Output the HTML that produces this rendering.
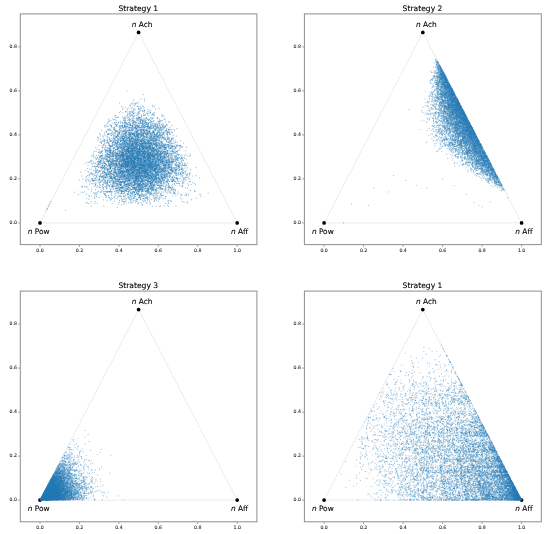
<!DOCTYPE html>
<html lang="en"><head><meta charset="utf-8"><title>Strategies</title><style>html,body{margin:0;padding:0;background:#fff}svg{display:block}</style></head><body>
<svg width="550" height="534" viewBox="0 0 550 534">
<rect width="100%" height="100%" fill="#fff"/>
<g>
<path d="M40.0 222.9L138.6 32.4L237.2 222.9Z" fill="none" stroke="#d2d2d2" stroke-width=".75" stroke-dasharray=".9 .7"/>
<circle cx="40.0" cy="222.9" r="1.85" fill="#000"/>
<circle cx="237.2" cy="222.9" r="1.85" fill="#000"/>
<circle cx="138.6" cy="32.4" r="1.85" fill="#000"/>
<g transform="scale(.1)" fill="none" stroke="#1f77b4" stroke-width="12" stroke-linecap="round" stroke-opacity="0.50">
<path d="M1225 1091h0m253 4h0m-206 24h0m77 11h0m198-4h0m-198 30h0m66-1h0m130-7h0m-381 27h0m153 10h0m46 2h0m23-11h0m32 5h0m48-1h0m10 12h0m31-11h0m11 11h0m6-13h0m2 7h0m117 6h0m-480 29h0m83 0h0m8-7h0m10 14h0m62 1h0m8-5h0m46 2h0m26-5h0m22-9h0m10-11h0m4 28h0m13-13h0m138-4h0m62 5h0m-474 23h0m42 19h0m22-10h0m14-15h0m4 2h0m39 18h0m38-13h0m35 11h0m8-18h0m9 4h0m2 21h0m37-22h0m10 5h0m14 9h0m5-5h0m79 11h0m37-9h0m46 6h0m16 4h0m-557 6h0m28-4h0m35 14h0m63-5h0m18 2h0m39-1h0m13-8h0m27-2h0m49 13h0m14-13h0m3 1h0m13 1h0m88 2h0m3 4h0m31-5h0m2 18h0m10-18h0m42-3h0m30 23h0m-529 32h0m87-10h0m130-7h0m16 4h0m31 5h0m8-17h0m30 16h0m2 6h0m5 6h0m11-16h0m26-4h0m29-4h0m38 16h0m7-10h0m132 8h0m-493 22h0m149 16h0m30-1h0m0-25h0m32 12h0m42 14h0m5-4h0m7-10h0m4 12h0m29-15h0m21 4h0m14-1h0m23 10h0m21-20h0m43-2h0m3 7h0m21 21h0m18-23h0m48 20h0m-648 32h0m51-9h0m20-10h0m120 6h0m6-12h0m11 12h0m9 13h0m24-17h0m13 6h0m4-4h0m19-9h0m31-2h0m12 27h0m41-19h0m39 2h0m23-8h0m96 19h0m4-9h0m36 11h0m6 5h0m35-27h0m3 9h0m96-1h0m-699 24h0m92 20h0m70-24h0m38 3h0m26 20h0m23-1h0m7-8h0m33-12h0m16 1h0m6 25h0m17-3h0m4 0h0m4-16h0m17 0h0m23 16h0m29-9h0m32-5h0m51 1h0m29-10h0m36 18h0m0-18h0m43 17h0m37-1h0m70-11h0m32 10h0m-702 37h0m31 0h0m52-20h0m31 14h0m3-9h0m19 13h0m10 2h0m10-3h0m39-14h0m1 20h0m14-12h0m8 1h0m7 8h0m10-11h0m18-7h0m37 13h0m45 9h0m12-10h0m7-1h0m6-10h0m17 12h0m8 6h0m3-18h0m7 1h0m10-8h0m7 25h0m4-6h0m32-4h0m15 5h0m14 9h0m60-11h0m11 0h0m18 2h0m11 2h0m22-13h0m9 5h0m57-7h0m44 20h0m-665 31h0m68-1h0m2-13h0m31 2h0m3 8h0m9-1h0m20-13h0m23-9h0m33 1h0m10 6h0m6 19h0m18 2h0m25 0h0m7-3h0m2-14h0m12 2h0m22-6h0m4 12h0m19 2h0m24 3h0m43-25h0m0 23h0m16-22h0m3 24h0m1-5h0m28-11h0m0 0h0m5 7h0m3 6h0m20-16h0m1 3h0m18-9h0m30 1h0m2 22h0m28-22h0m31 24h0m13-12h0m4 7h0m17-10h0m10-6h0m67 19h0m4 5h0m21-20h0m38 7h0m-776 18h0m21 16h0m28-7h0m5-2h0m61-1h0m1 7h0m42-8h0m2-2h0m34-5h0m32 14h0m11 8h0m23-1h0m15-15h0m12 3h0m3 17h0m13-2h0m18-7h0m2-18h0m8 11h0m6 5h0m4 1h0m2-6h0m22 14h0m6 4h0m3-6h0m29-9h0m3 11h0m17-13h0m3 0h0m12-9h0m1-1h0m1 0h0m41 18h0m16 9h0m8-23h0m0 7h0m2 9h0m4-4h0m0-10h0m15 12h0m3 8h0m12-26h0m30 15h0m11 10h0m9-19h0m10 20h0m7-2h0m53-24h0m-584 30h0m40 7h0m13 13h0m86-6h0m14-7h0m18-2h0m11 8h0m4-3h0m4 9h0m2-8h0m19-3h0m16 0h0m2-5h0m10-3h0m16 6h0m5 3h0m7 13h0m32-10h0m5-12h0m5 17h0m0-9h0m3-1h0m4 0h0m14 10h0m9 10h0m4-15h0m0-10h0m31 23h0m5-21h0m5 14h0m4-16h0m1 11h0m28-15h0m24 7h0m1 6h0m37 0h0m29 7h0m10-16h0m5-3h0m21 13h0m-586 29h0m4 7h0m41 6h0m27-4h0m7-4h0m21 10h0m0-23h0m27 20h0m8-3h0m16-1h0m1-10h0m13 18h0m4-15h0m13 10h0m10-17h0m36 18h0m9-8h0m6-13h0m23-2h0m0 22h0m4-11h0m4 4h0m5 9h0m26-19h0m8 4h0m1 1h0m3 10h0m2-18h0m2 4h0m2-8h0m8 27h0m5-4h0m23-16h0m7 20h0m2-20h0m5 1h0m5-2h0m18 0h0m26 18h0m10-23h0m1 18h0m14 0h0m6 9h0m2-10h0m2-2h0m5 8h0m10-22h0m9 19h0m16 4h0m2-17h0m7 9h0m7 0h0m11-6h0m4 9h0m5 4h0m10-10h0m1-9h0m41 8h0m6 1h0m3-3h0m9-2h0m5-6h0m12 4h0m-656 51h0m94-22h0m48-4h0m27 27h0m16-19h0m3 16h0m4-15h0m24-11h0m28 13h0m1 4h0m3 11h0m4-16h0m11 2h0m6 4h0m16 4h0m7-20h0m1 9h0m12 17h0m6-22h0m12 22h0m12-13h0m21 14h0m10-4h0m1 1h0m6-1h0m12-24h0m1 1h0m21 23h0m6-4h0m4-3h0m6 6h0m22-20h0m18 21h0m1-10h0m6 9h0m18-5h0m15-8h0m4 15h0m15-16h0m41 2h0m18 10h0m1-6h0m5-7h0m19 14h0m18-15h0m55 1h0m67 14h0m126-18h0m-988 44h0m90 5h0m4 3h0m65-7h0m30 5h0m12 3h0m15-12h0m7 13h0m9-7h0m11-9h0m5 9h0m22-15h0m18 14h0m9-16h0m5-2h0m9 12h0m15-1h0m6 3h0m14-15h0m30 2h0m33 14h0m2 1h0m0 3h0m16-7h0m9-9h0m4 5h0m6 17h0m4-23h0m26 16h0m2-8h0m10-5h0m9-1h0m8-6h0m31 13h0m1 0h0m7 14h0m30-8h0m1-3h0m4 0h0m17-8h0m6 18h0m14 0h0m10-26h0m58 0h0m4 7h0m15 12h0m7 7h0m1-18h0m13 10h0m57-1h0m2 10h0m10-25h0m8 24h0m11-25h0m-723 35h0m6 18h0m7-14h0m6 3h0m12 9h0m72-3h0m4-1h0m10 4h0m28-17h0m13 22h0m3-3h0m4 1h0m34-12h0m2 0h0m32 7h0m17-3h0m1 9h0m4-10h0m2-3h0m8 4h0m6 9h0m16-23h0m1 14h0m22 7h0m6-5h0m4 5h0m1-24h0m21 1h0m2 5h0m4-5h0m2 4h0m11 21h0m3-7h0m31-7h0m7 14h0m9-14h0m1 11h0m18 2h0m7 0h0m22-8h0m0-8h0m4-8h0m7 14h0m1 8h0m13 5h0m20-4h0m10-19h0m30 23h0m1-15h0m30-13h0m19 1h0m21 4h0m14-6h0m6 9h0m2-2h0m29 0h0m3-7h0m23 2h0m3 16h0m59 1h0m8 3h0m-790 21h0m59-11h0m100 4h0m29-1h0m4 22h0m15-21h0m17-3h0m11 2h0m30 1h0m4-4h0m11 27h0m6-4h0m18-13h0m4-4h0m27 9h0m4 8h0m10 4h0m9-4h0m0-2h0m3 0h0m6 1h0m3-2h0m1-14h0m28 15h0m1-16h0m11 7h0m4-11h0m14 22h0m19 0h0m7 4h0m1-5h0m4 4h0m3-27h0m10 2h0m9 4h0m1 11h0m8 7h0m17-24h0m4 1h0m2 20h0m4-1h0m12 8h0m0-22h0m4-3h0m15-2h0m47 16h0m4 1h0m13-8h0m66-7h0m20 18h0m3-2h0m19-3h0m4-2h0m4 9h0m26 4h0m33-3h0m4-18h0m-864 34h0m175-8h0m7 14h0m51-10h0m4-7h0m40 12h0m19 3h0m43 4h0m0-12h0m14 17h0m17-3h0m20 5h0m15-22h0m6 0h0m2 4h0m14 9h0m2 0h0m17-6h0m10 15h0m1-21h0m3 1h0m5 0h0m1 17h0m2 0h0m4-12h0m3 15h0m4 0h0m3-15h0m8 4h0m9 0h0m1 5h0m3-2h0m1 6h0m13-19h0m6 4h0m1 5h0m2 9h0m11-16h0m10 18h0m9-2h0m5-20h0m2 16h0m7-9h0m23 7h0m19-3h0m14-13h0m7 22h0m6 1h0m21-14h0m3 11h0m10-14h0m10 6h0m2 0h0m2-11h0m5 9h0m9 10h0m10-14h0m7 5h0m7 7h0m6-9h0m6-10h0m14 27h0m11-11h0m35-16h0m19 11h0m6 8h0m22-17h0m7 5h0m13 15h0m18-14h0m44 1h0m-795 46h0m19-9h0m0-13h0m23 16h0m38 2h0m49-3h0m4 10h0m20-19h0m3-6h0m14 3h0m25 10h0m30-13h0m7-3h0m0 1h0m14 3h0m6-2h0m7 19h0m3-8h0m17 4h0m0-17h0m10 13h0m11-11h0m3 3h0m0 8h0m3 13h0m3-11h0m2-2h0m1-7h0m4 17h0m5-21h0m13 10h0m20 16h0m2-17h0m30-9h0m3 2h0m15 8h0m5-6h0m6 23h0m2 0h0m1-18h0m3 3h0m6 8h0m8-19h0m8 24h0m15-9h0m11-9h0m4-2h0m8-3h0m10-2h0m13-2h0m5 1h0m21 4h0m11 9h0m4-9h0m15 1h0m15 7h0m14 14h0m81-7h0m19-15h0m25 5h0m75-6h0m79 21h0m-956 33h0m28-2h0m38-12h0m60-6h0m20-4h0m3-4h0m13 29h0m34-23h0m24 20h0m15-15h0m19-5h0m2 13h0m5-16h0m43 10h0m3 1h0m47-13h0m12 9h0m15 10h0m13 1h0m2-8h0m56 13h0m1-15h0m1 5h0m11 2h0m8-8h0m11 9h0m50-7h0m15 9h0m15-15h0m16 19h0m19-3h0m6-14h0m35-4h0m17 25h0m22-1h0m6-5h0m14-4h0m27 7h0m1-5h0m1-15h0m1 13h0m15 9h0m44-8h0m85-18h0m49 23h0m-969 28h0m141-1h0m22-19h0m7 4h0m8-1h0m44 2h0m1 3h0m8 13h0m28-13h0m28 9h0m17 4h0m23-7h0m66-4h0m7-4h0m8 1h0m25-5h0m3 16h0m3 4h0m5 2h0m13-15h0m8 3h0m3 1h0m8-2h0m2-13h0m46 23h0m26-24h0m18 27h0m41 1h0m2-14h0m27-1h0m2 8h0m21-21h0m11 19h0m28 0h0m21-3h0m39-15h0m1 6h0m61-6h0m64 14h0m14 0h0m59 0h0m-955 32h0m37-17h0m67 21h0m11 0h0m36 8h0m33-17h0m59 4h0m22 7h0m5-20h0m3 11h0m13-8h0m23 8h0m23 9h0m8-14h0m52-5h0m13 0h0m2 8h0m13 1h0m31 8h0m3 3h0m27 4h0m19-13h0m11-4h0m47-6h0m3 0h0m12-1h0m6 8h0m20 5h0m6-16h0m3 20h0m2-7h0m3-4h0m3 12h0m21-19h0m4 6h0m52 7h0m17 0h0m26-5h0m32 6h0m15 5h0m1-16h0m62 2h0m88 8h0m65 1h0m-940 27h0m44-4h0m67 18h0m142-4h0m25 1h0m15 2h0m54-7h0m20 6h0m0-15h0m23 9h0m3-19h0m28 17h0m2-1h0m22 10h0m24-12h0m2-2h0m1 16h0m15-11h0m1-18h0m3 25h0m13 3h0m38 1h0m12-22h0m6 13h0m0-11h0m26 13h0m24-4h0m15-8h0m2 16h0m14 2h0m8-10h0m28 6h0m51-2h0m3-12h0m40 2h0m20-6h0m46 0h0m-924 40h0m4-8h0m222 1h0m56-4h0m6 0h0m23 6h0m7 4h0m24 1h0m45-13h0m45 26h0m32-12h0m7 2h0m16-4h0m9-4h0m20 3h0m16 7h0m30-2h0m87-7h0m6 17h0m39-6h0m50 3h0m44-9h0m-814 41h0m178-3h0m86-14h0m100 5h0m18 6h0m42-10h0m6 10h0m37 0h0m48-8h0m25-2h0m9 13h0m15-22h0m15 4h0m34 16h0m19 5h0m5 1h0m1-29h0m3 10h0m25-3h0m4 16h0m7-6h0m10-7h0m84 19h0m40-6h0m6-7h0m25-8h0m-499 39h0m40 3h0m5-12h0m48 16h0m27-8h0m17 10h0m42-14h0m7 5h0m112-3h0m14 11h0m4-12h0m13 2h0m294 7h0m-722 11h0m2 21h0m58-4h0m106-14h0m34 9h0m12-14h0m8 6h0m93 16h0m40-21h0m17 1h0m145 19h0m20 7h0m-753 7h0m22 6h0m144 6h0m37 5h0m147 6h0m81-13h0m59 7h0m49-15h0m4 1h0m140 5h0m31-14h0m3 8h0m57-1h0m41 17h0m-734 31h0m195-23h0m105 2h0m64 4h0m-275 43h0m462-21h0m-325 30h0"/>
<path d="M1195 1030h0m109 20h0m99 14h0m124-11h0m-252 39h0m55 16h0m59-14h0m55 12h0m-151 12h0m15 14h0m124-18h0m-253 55h0m117-21h0m26 4h0m92-4h0m22 9h0m39-14h0m52-2h0m-288 32h0m64 20h0m107-13h0m3 15h0m35 4h0m-224 23h0m112-3h0m22 10h0m20-24h0m25 16h0m28-2h0m16-6h0m30 12h0m32-17h0m6 10h0m66 0h0m24-12h0m20 0h0m-509 51h0m29-25h0m99 24h0m56-25h0m24 7h0m7-2h0m48 17h0m12 6h0m15-27h0m16 9h0m13 8h0m6 9h0m42-12h0m3 12h0m108-17h0m37-5h0m-500 39h0m120-15h0m14 26h0m36-12h0m26-11h0m70 7h0m9 4h0m22-5h0m20 2h0m1-8h0m39-3h0m15 18h0m0-8h0m8 0h0m45 18h0m13-1h0m7-15h0m-493 20h0m25 10h0m47-1h0m90 9h0m21 3h0m34-10h0m29 3h0m15 12h0m28-28h0m1 25h0m52-11h0m9-1h0m53 14h0m5-11h0m9-6h0m113-1h0m43 15h0m-500 7h0m38 12h0m0-10h0m8 18h0m43 6h0m5-4h0m1-10h0m2 9h0m43 7h0m5-1h0m18-12h0m15 3h0m10-11h0m16-4h0m10 14h0m7 2h0m13 3h0m31-15h0m5-7h0m2 23h0m102-24h0m14 6h0m49 18h0m102-10h0m-532 35h0m19-8h0m60 4h0m5 5h0m13 2h0m28 6h0m0-4h0m19-22h0m10 20h0m35-8h0m13-14h0m17 10h0m22 10h0m1-3h0m11-15h0m41 18h0m9-16h0m5 21h0m38-13h0m7-7h0m12 4h0m25-3h0m14 2h0m21-2h0m19-6h0m105 29h0m-589 23h0m8-19h0m3 2h0m8 0h0m19 17h0m17-14h0m3 9h0m26 12h0m23-28h0m3 24h0m3-17h0m0 0h0m14 16h0m24 2h0m16-15h0m12 6h0m24 1h0m3-10h0m4 16h0m2-18h0m16 21h0m2-10h0m27-9h0m3 15h0m5 0h0m8-22h0m2 27h0m5-2h0m40-4h0m4 2h0m9-18h0m3 7h0m19 11h0m24-4h0m3-18h0m2 11h0m13-9h0m9 19h0m4 3h0m24-18h0m9 6h0m3 12h0m108-19h0m17 17h0m-647 15h0m22 12h0m67-14h0m18 7h0m1 7h0m20-3h0m55-2h0m14-7h0m11 19h0m4-24h0m3 4h0m9 18h0m7-1h0m19 3h0m6-22h0m1 0h0m5-1h0m22 23h0m75-1h0m13-13h0m16-14h0m6 20h0m2 7h0m3-11h0m8-6h0m2-9h0m13 5h0m5 20h0m10-7h0m9 2h0m1-17h0m7 25h0m10-1h0m3 1h0m16-11h0m16 10h0m5-7h0m0-20h0m2 13h0m35 1h0m15-14h0m0 18h0m1-1h0m78-4h0m90-6h0m-740 32h0m60-3h0m7 11h0m19-5h0m43-8h0m3 16h0m38-15h0m17 15h0m46-21h0m2 5h0m41-3h0m7 16h0m4-16h0m12 16h0m2-4h0m2 0h0m19 12h0m55-12h0m12 1h0m20 12h0m21-4h0m12 6h0m12-8h0m5-3h0m17 1h0m37-13h0m47 7h0m22 5h0m26-13h0m13 7h0m0-8h0m27 22h0m31-6h0m7 5h0m11-6h0m50-5h0m20 2h0m-748 39h0m18-22h0m14 9h0m12 17h0m11 0h0m39-22h0m51 5h0m7 3h0m0-3h0m15 11h0m49 1h0m5-5h0m2 0h0m4-4h0m1 12h0m12-13h0m20 11h0m6-14h0m8 9h0m7-3h0m1-14h0m32 5h0m9 7h0m15 7h0m6 2h0m24-12h0m9-5h0m4 9h0m26-7h0m6-1h0m0 17h0m16-25h0m52 5h0m13-3h0m1 11h0m18-12h0m9 14h0m17-3h0m43-8h0m4-3h0m26 2h0m36 10h0m45 12h0m-737 19h0m57-11h0m3 24h0m5-25h0m28 9h0m2 6h0m3 9h0m21 0h0m3-16h0m51-6h0m19 10h0m7-4h0m5 8h0m9 5h0m7-6h0m20-5h0m2-3h0m13-4h0m54 13h0m1-4h0m2-9h0m6 7h0m0 0h0m3 7h0m38 10h0m4-4h0m0-11h0m12 2h0m1 0h0m4-16h0m3 14h0m3 10h0m8-3h0m25-1h0m20-1h0m13-3h0m4-9h0m1 4h0m2-11h0m1 11h0m8 17h0m21 1h0m1-13h0m6 11h0m19-10h0m10 6h0m2-18h0m24-2h0m11 24h0m0-19h0m9 7h0m55-1h0m16 14h0m12-8h0m81-13h0m-809 25h0m89 26h0m27-12h0m8 13h0m16-26h0m8 9h0m44 1h0m24 4h0m32 5h0m18 1h0m7-5h0m24-15h0m4 9h0m17-7h0m45 16h0m5-10h0m3-4h0m30 19h0m26-13h0m1 1h0m4 14h0m11-24h0m7 1h0m5 16h0m9 2h0m37-10h0m3 11h0m2 4h0m7-8h0m8-15h0m3 12h0m0-15h0m8 6h0m8 8h0m0 13h0m16-9h0m2-9h0m15 10h0m5-4h0m41-8h0m1 9h0m16-10h0m3 4h0m6-11h0m32 23h0m2-23h0m28 25h0m5-20h0m10-6h0m6 1h0m2 5h0m1 17h0m4-23h0m1 29h0m13-11h0m22-11h0m64 1h0m22 7h0m111-4h0m-885 41h0m32 2h0m36-14h0m19 10h0m21-17h0m10 6h0m30-9h0m13 21h0m4 1h0m10-11h0m9 3h0m2-11h0m21 18h0m8-2h0m2 2h0m3-3h0m28-5h0m3 6h0m4-17h0m8 5h0m17 22h0m9-17h0m3 2h0m2 2h0m7-14h0m1 27h0m4-23h0m15 21h0m13-14h0m17 3h0m1-5h0m12 16h0m26-17h0m2-7h0m5-3h0m7 27h0m11-10h0m2-16h0m0 26h0m11-25h0m10 19h0m12-7h0m14 12h0m2-9h0m7-15h0m0 9h0m0-8h0m43 7h0m9 9h0m10-2h0m1 9h0m18-14h0m4-3h0m35 4h0m1-2h0m1-3h0m34 10h0m77-4h0m-715 34h0m59-16h0m4-1h0m19 7h0m13 2h0m27-6h0m31-4h0m13 23h0m7-23h0m27 18h0m25-5h0m2-7h0m5-5h0m4 4h0m4 6h0m13 15h0m4-26h0m5 3h0m1 26h0m10-2h0m19-26h0m6 23h0m2-9h0m0-5h0m5 18h0m3-24h0m3 21h0m9-10h0m3 4h0m15 6h0m1-20h0m22 9h0m1 1h0m11 13h0m10 0h0m3-9h0m16 6h0m17-2h0m16-8h0m0 1h0m3 2h0m6 1h0m19-3h0m3-13h0m22 17h0m17-1h0m21 8h0m6-25h0m1 11h0m20-5h0m7 7h0m5-5h0m15-10h0m14 10h0m10 1h0m3-5h0m34 9h0m20-8h0m26 22h0m28-4h0m10-25h0m10 23h0m18-22h0m18 8h0m-736 36h0m11-2h0m5 9h0m24-20h0m27 24h0m3-1h0m25-9h0m13 3h0m13-3h0m26-1h0m2-13h0m1 2h0m3 4h0m34-2h0m12 22h0m8-25h0m9 8h0m1-6h0m13 11h0m4-9h0m0-7h0m5 24h0m43 0h0m1-9h0m3-2h0m3 13h0m1-7h0m7 1h0m3 0h0m25-10h0m1-8h0m1 19h0m3-11h0m5-9h0m3 26h0m17-4h0m18 4h0m0-18h0m16 19h0m4-23h0m29-3h0m1 25h0m27-1h0m0-8h0m7-16h0m6 24h0m15-13h0m6 11h0m0-20h0m24 21h0m29-15h0m24-8h0m15-1h0m19 22h0m17 3h0m11-7h0m51 2h0m10-16h0m64 4h0m8 9h0m-920 12h0m134 19h0m22 6h0m60-18h0m16 11h0m5 1h0m27-14h0m26 10h0m11-14h0m21 25h0m7-19h0m3-7h0m5 29h0m7-16h0m4 8h0m11-4h0m14-3h0m13-14h0m2 12h0m20 0h0m4-1h0m2 13h0m30-14h0m4 15h0m18-20h0m1 12h0m11 6h0m8-13h0m1 2h0m1-2h0m2 3h0m5 15h0m21-18h0m5-6h0m10 18h0m6-16h0m5-4h0m28 22h0m4-6h0m16-6h0m19-5h0m19 22h0m3-8h0m11-20h0m11 13h0m5-3h0m12-11h0m25 0h0m4 27h0m20-6h0m6-2h0m31-14h0m17 22h0m10-18h0m23 13h0m11 5h0m14-25h0m75 26h0m10-9h0m13-16h0m11 18h0m9-18h0m-785 31h0m2 15h0m30 10h0m31-24h0m69-4h0m8 26h0m9-9h0m14 2h0m4-11h0m2-6h0m14 17h0m52 6h0m30-7h0m5-7h0m19 6h0m4-15h0m17 25h0m19-15h0m11-5h0m6-5h0m30 23h0m8 2h0m17-15h0m4 6h0m7 4h0m1-22h0m2 0h0m16 16h0m12-13h0m21 20h0m10-24h0m5 10h0m5 17h0m3-26h0m1 25h0m4-7h0m7-8h0m6-5h0m24 13h0m2 5h0m69-19h0m1-2h0m14 0h0m12 9h0m4 15h0m2 1h0m19-15h0m15-3h0m9-1h0m32 19h0m79-5h0m-1021 19h0m98 9h0m17 7h0m43-27h0m118 13h0m28-9h0m21 20h0m8-14h0m1-7h0m2 5h0m24 17h0m3-4h0m10-19h0m32 9h0m3-1h0m2-10h0m9 0h0m2 20h0m7-11h0m1 14h0m3-10h0m9-8h0m41 10h0m24 8h0m14-9h0m3-10h0m25 16h0m10 0h0m5 3h0m14-3h0m9-4h0m2 6h0m0-8h0m20 14h0m3-16h0m7-1h0m8 4h0m21-11h0m0-2h0m18 19h0m4-4h0m2 4h0m10-12h0m10-3h0m10 22h0m1-4h0m15-22h0m5 18h0m31 3h0m4-14h0m15 14h0m21-14h0m33-9h0m10 5h0m22 18h0m49 5h0m30-4h0m20 3h0m86-21h0m-976 40h0m95-5h0m44 15h0m41-27h0m14 3h0m27 13h0m3 13h0m1-16h0m36 7h0m27-1h0m3-3h0m35-1h0m17-3h0m14-5h0m13 15h0m14-15h0m30-5h0m16 24h0m2-15h0m4 3h0m38-3h0m0 9h0m7 8h0m8-2h0m1-24h0m8 25h0m32-8h0m3-3h0m7 1h0m3-6h0m26 11h0m5-19h0m3 24h0m4-12h0m3 13h0m1-12h0m0 11h0m25-21h0m18 5h0m13 6h0m16-17h0m31 9h0m37 5h0m19-10h0m55 3h0m28-7h0m220 20h0m-1032 10h0m65 11h0m28 9h0m98-1h0m111 8h0m26-1h0m25-6h0m25-4h0m7 9h0m15 2h0m13-24h0m5-3h0m11 22h0m8-8h0m12-10h0m9 2h0m2 5h0m13-7h0m4 21h0m3-3h0m35-12h0m13 13h0m0-2h0m4-21h0m1 29h0m1-27h0m16 25h0m18 0h0m33-19h0m52 15h0m4-7h0m14 4h0m52-19h0m99 25h0m9-13h0m39-8h0m-825 29h0m93 1h0m11 17h0m55-11h0m31 10h0m4-20h0m2 11h0m8 12h0m7-7h0m7-9h0m1-6h0m27-2h0m57 18h0m3-6h0m19 0h0m19-6h0m18-4h0m57 2h0m6 4h0m5-1h0m6 20h0m29-14h0m12 7h0m3 2h0m52-16h0m8 13h0m12-2h0m16-7h0m1 11h0m21-1h0m45 8h0m8-14h0m18 13h0m78-6h0m44-8h0m5-11h0m2 7h0m5 0h0m21 4h0m-813 20h0m20 5h0m74 4h0m45 9h0m3-3h0m41-7h0m120-4h0m23 6h0m12-8h0m4 4h0m18-3h0m17 10h0m25 3h0m7-17h0m54 0h0m2 9h0m4-1h0m15 16h0m18-6h0m39-19h0m21 24h0m3-8h0m25-3h0m4-4h0m16 1h0m2 9h0m31-12h0m0 8h0m49-13h0m247 6h0m-1056 23h0m37 1h0m141 10h0m28 8h0m39 3h0m33 3h0m25-17h0m3-3h0m2-2h0m29 11h0m29-12h0m85 20h0m37-19h0m36 22h0m17-2h0m2 1h0m39 0h0m7 1h0m3-15h0m59 12h0m20-3h0m2-21h0m20 24h0m12-10h0m21-4h0m57 1h0m7 12h0m72-10h0m41-4h0m97-6h0m53 18h0m-786 35h0m104-8h0m27-18h0m10 24h0m35-24h0m23 22h0m14-20h0m24 25h0m52-26h0m17 14h0m0-9h0m30 3h0m40 13h0m103-7h0m145-12h0m-761 36h0m55-4h0m93-3h0m146 5h0m83 9h0m15-12h0m1 25h0m2-19h0m35 5h0m38 5h0m141 9h0m322-5h0m-921 20h0m30 10h0m123-22h0m187 4h0m112 5h0m52 2h0m11 10h0m89 4h0m8-26h0m-469 51h0m109-15h0m99-4h0m19-2h0m-15 48h0m387-19h0m-1213 36h0m420 15h0m515-14h0"/>
<path d="M1434 945h0m-106 73h0m-112 45h0m81-9h0m11 14h0m14 5h0m180 28h0m53-10h0m-299 24h0m131 4h0m48 14h0m30 0h0m34-5h0m-224 13h0m38 13h0m9-6h0m15 18h0m100-13h0m6-1h0m82-9h0m-270 48h0m30-19h0m78 17h0m17-2h0m6-3h0m8 9h0m64-12h0m-272 42h0m51-19h0m0 1h0m87-4h0m27 20h0m32-18h0m79 23h0m32-2h0m-395 23h0m1 1h0m12 5h0m175-23h0m58 21h0m80-18h0m2 5h0m21 12h0m73-20h0m12 3h0m15 2h0m83 9h0m22 15h0m20-2h0m-480 15h0m95-3h0m5 6h0m9 3h0m46 8h0m5-11h0m17 1h0m96-11h0m48 19h0m11 1h0m3-1h0m52-11h0m39 15h0m25-10h0m-553 28h0m116-6h0m7 5h0m26 8h0m121 0h0m36-13h0m7 10h0m3 7h0m36-21h0m13 3h0m2 8h0m3 9h0m85-25h0m37 17h0m4 6h0m43-13h0m27 6h0m16 7h0m-624 12h0m83 21h0m24 1h0m39-26h0m22 18h0m20-2h0m16-9h0m4-5h0m1 4h0m23-6h0m11 7h0m11 0h0m28 4h0m3 3h0m31 9h0m64-7h0m3-2h0m3-8h0m20 2h0m4 13h0m3-12h0m41 11h0m4-9h0m5-2h0m26-4h0m2 15h0m22-3h0m14-15h0m54 12h0m38-11h0m24 0h0m3 17h0m-691 17h0m135 0h0m107 11h0m40-15h0m4-1h0m6 21h0m48-22h0m24 19h0m4-20h0m9 22h0m4-1h0m14-23h0m34 3h0m15 8h0m22-2h0m26 11h0m14 7h0m28-26h0m3 28h0m2-13h0m9-4h0m30 10h0m22 3h0m1 2h0m4-3h0m21 0h0m17 1h0m29-15h0m-644 45h0m81-21h0m89 16h0m2-19h0m1 5h0m32 5h0m16 6h0m5 5h0m5-8h0m7-13h0m11 8h0m11 18h0m7-5h0m2-5h0m48-8h0m11 4h0m18 9h0m0-16h0m6 9h0m53-15h0m2 8h0m38 8h0m13 0h0m13-6h0m3 4h0m6 9h0m7-23h0m2 14h0m38 10h0m83-22h0m88 0h0m-647 46h0m2 4h0m65-10h0m4-1h0m87 13h0m2-22h0m19 24h0m15-8h0m28-12h0m6 21h0m9-12h0m2 6h0m19-8h0m12-2h0m51-11h0m14 9h0m1-6h0m0 24h0m25-18h0m1 4h0m13 16h0m47-13h0m27 2h0m18 7h0m12-25h0m4 20h0m6-6h0m147 12h0m14-26h0m104 21h0m-636 33h0m25-8h0m2-14h0m21 27h0m2-1h0m1-24h0m19 24h0m10-26h0m21 10h0m18 7h0m2-17h0m9-1h0m17 6h0m7 6h0m5-12h0m12 25h0m11-9h0m14-6h0m2 4h0m13-10h0m11 14h0m5-8h0m30 7h0m11-8h0m1-3h0m19 7h0m6-9h0m0-4h0m13 15h0m39 4h0m12-20h0m1 22h0m12-8h0m14 5h0m51-2h0m191 11h0m-859 23h0m133 5h0m2-16h0m55-4h0m5 21h0m8-6h0m15-16h0m22 2h0m20 17h0m2-2h0m5-9h0m7-11h0m45 17h0m14-17h0m23 24h0m8 1h0m24-19h0m32 12h0m6 2h0m1-3h0m0-14h0m30 14h0m13-3h0m3-15h0m13 15h0m22 1h0m7 6h0m6-2h0m9-15h0m9-6h0m3 23h0m1 4h0m4 2h0m6-16h0m19 15h0m17 1h0m23-28h0m8-1h0m11 8h0m1 8h0m43 13h0m2-6h0m5-5h0m-643 36h0m10-13h0m62-6h0m48 10h0m83-4h0m4 0h0m8-3h0m3-3h0m2 1h0m31 4h0m7 2h0m2 5h0m4-5h0m4 6h0m6 4h0m10 5h0m21-20h0m16 1h0m10-7h0m1 21h0m15-12h0m1 18h0m8-5h0m30 6h0m18-2h0m2-16h0m13 6h0m4 11h0m13-2h0m1-10h0m13 7h0m18-4h0m1-12h0m3 19h0m20 0h0m18-3h0m7-15h0m1 1h0m39 3h0m3 12h0m2-7h0m13 8h0m65-12h0m5 2h0m76 3h0m19 9h0m20-13h0m-782 41h0m17 2h0m2 1h0m24-8h0m70-6h0m35-10h0m22 21h0m7-21h0m37 18h0m11 0h0m16-12h0m0-9h0m3 11h0m4 11h0m1-23h0m3 29h0m2-11h0m4 4h0m4 6h0m9-10h0m7 4h0m49-8h0m6 1h0m2 10h0m5-14h0m1 0h0m36 7h0m8 4h0m15-21h0m1 24h0m5 0h0m14-8h0m51-1h0m14 9h0m12-12h0m18 3h0m3-15h0m20 8h0m13 8h0m15-6h0m2 4h0m4 10h0m0-23h0m41-2h0m-658 32h0m92 25h0m19-3h0m10-12h0m30-4h0m34-8h0m29 8h0m2-5h0m14 22h0m26-21h0m11 19h0m2-11h0m14 4h0m0 6h0m2 7h0m41-6h0m1-15h0m1 20h0m6-16h0m20 13h0m5-1h0m16 1h0m32-11h0m10-1h0m8 9h0m1-7h0m7-9h0m4 19h0m1-25h0m11 12h0m41 4h0m0-2h0m13-2h0m3 3h0m2-5h0m4-2h0m4 0h0m21-7h0m3 20h0m3-6h0m7-13h0m9 6h0m3 21h0m3-12h0m15-17h0m12 3h0m16 13h0m8 10h0m4 2h0m15 1h0m2-9h0m0 8h0m10-1h0m16-4h0m2-14h0m16 12h0m22-8h0m6-5h0m10 5h0m55 15h0m42-27h0m58 16h0m-920 42h0m68-29h0m10 26h0m93-24h0m8 15h0m45-9h0m36 10h0m14 5h0m9-3h0m22-4h0m2-13h0m23 17h0m13-2h0m10-17h0m5 24h0m6 3h0m2-11h0m14 2h0m1-4h0m4 10h0m11-2h0m9-17h0m3 8h0m3 0h0m43-14h0m8 27h0m18-17h0m3 16h0m16-7h0m20 2h0m15-19h0m10-2h0m5 18h0m7-2h0m18-16h0m12 8h0m18 12h0m23-15h0m8 23h0m12-2h0m23-4h0m2-8h0m7 6h0m3-14h0m4 4h0m2-8h0m9 1h0m18 24h0m3-23h0m5 18h0m2-1h0m2 0h0m70-11h0m57 11h0m24-12h0m3 2h0m35 15h0m-943 5h0m136 19h0m17-20h0m6 14h0m55-14h0m25 4h0m45-1h0m4 12h0m5-15h0m7 26h0m3 2h0m12-10h0m11-15h0m1 8h0m29 13h0m11-13h0m1-10h0m20 20h0m8-20h0m15 4h0m11 14h0m2-19h0m0 3h0m4-1h0m11 10h0m3 8h0m5-7h0m1-5h0m20 10h0m6 7h0m5-5h0m32-20h0m9 3h0m8 18h0m2-3h0m7-9h0m3 20h0m5-18h0m3-9h0m4 16h0m18-12h0m2 21h0m7-26h0m1 9h0m24 1h0m15 11h0m16-10h0m8 5h0m19-10h0m1 1h0m15-1h0m13 4h0m12 17h0m1-7h0m2 8h0m57-10h0m26 6h0m4-20h0m3 7h0m108 15h0m28-14h0m-825 25h0m10 12h0m60-17h0m41 5h0m13 14h0m20-20h0m6 1h0m4-2h0m25 23h0m13-18h0m17 9h0m31-11h0m8 6h0m5-1h0m8 7h0m6 5h0m2 5h0m7-2h0m5 4h0m12-5h0m10-21h0m3 2h0m30 19h0m9 4h0m3-20h0m17 5h0m11 8h0m3-18h0m4 16h0m4-12h0m25-2h0m6 7h0m5 6h0m12 9h0m3-13h0m32 4h0m0-3h0m10-9h0m22 7h0m16-12h0m13 24h0m0-21h0m7 12h0m30 13h0m4-15h0m12 3h0m4 6h0m11 1h0m7-6h0m4-16h0m11 13h0m33 12h0m6-14h0m23-4h0m22 11h0m7-13h0m22 15h0m73-3h0m0-7h0m17-1h0m18-8h0m-857 49h0m40 7h0m28-27h0m22 3h0m20 13h0m5 10h0m28-24h0m25 4h0m26 6h0m1 7h0m2 4h0m17-11h0m17-4h0m12 10h0m62-3h0m10 3h0m9 3h0m3-3h0m6-1h0m20-5h0m5 2h0m9-12h0m2-2h0m3 13h0m6-1h0m4 16h0m6-21h0m15 8h0m31 13h0m4 0h0m11-26h0m16 21h0m8-4h0m3-9h0m4 3h0m20 3h0m4-17h0m2 26h0m5-10h0m28-16h0m0 2h0m6-2h0m3 15h0m9-3h0m5-6h0m8 11h0m7-5h0m1 17h0m4-6h0m5-19h0m5 11h0m0 11h0m41-6h0m11-1h0m8-2h0m7 4h0m11 0h0m25 2h0m55-13h0m18-5h0m44-5h0m95 26h0m-911 21h0m41-15h0m61 16h0m11 11h0m12-3h0m11-20h0m3 7h0m37-1h0m7 4h0m7 0h0m12 4h0m5 3h0m36-5h0m2 2h0m7-13h0m24 6h0m19-5h0m13 4h0m8 5h0m0-13h0m36 15h0m14-9h0m8-4h0m6 6h0m4 2h0m0 6h0m1 1h0m32-16h0m1 15h0m1-6h0m25 5h0m11-9h0m29 16h0m1-14h0m5 9h0m2-18h0m11-3h0m4 5h0m3 0h0m2-1h0m5 9h0m1 16h0m1-14h0m5 11h0m2-10h0m27-3h0m3-7h0m30-5h0m9 10h0m1-4h0m24 13h0m11 2h0m8-18h0m1 15h0m8-11h0m7-7h0m13 6h0m6-3h0m27 11h0m1 0h0m29-1h0m40-4h0m20 10h0m103-20h0m-900 41h0m166 0h0m3 16h0m29-7h0m15 0h0m8 6h0m14-19h0m32-5h0m6 1h0m3-2h0m2 9h0m10 11h0m91-17h0m4 2h0m3 0h0m2 22h0m18-25h0m9 10h0m2 11h0m5-10h0m3-8h0m29-1h0m18 16h0m2-5h0m8 6h0m17-7h0m7-4h0m6-7h0m11 25h0m7-12h0m13-5h0m12 13h0m36-7h0m21 1h0m21 0h0m31 10h0m30-14h0m52-1h0m170-2h0m23 16h0m-973 19h0m57-7h0m65 0h0m14-5h0m18 15h0m27-7h0m6-9h0m10-2h0m9-1h0m25 3h0m7 20h0m1-13h0m32-7h0m21 22h0m0-25h0m2 5h0m2 13h0m8 4h0m24-8h0m21 5h0m8-5h0m26-7h0m0 5h0m6 4h0m51 9h0m6-3h0m21-23h0m30 9h0m3 17h0m54-26h0m12 19h0m2 5h0m14-18h0m17 15h0m16-20h0m18 13h0m35 5h0m24-13h0m1-4h0m4-2h0m11 16h0m5-7h0m12 16h0m42-4h0m40-17h0m23-3h0m24 2h0m35 12h0m30 14h0m13-4h0m-992 9h0m103 23h0m32-24h0m85 19h0m143 1h0m16 3h0m10-5h0m39-15h0m18-5h0m11 28h0m26-14h0m1 13h0m21-19h0m14 2h0m8 9h0m7-14h0m22-2h0m6 4h0m5-5h0m8 1h0m22 23h0m30 0h0m0 0h0m2-19h0m22 12h0m1-14h0m9 20h0m3-18h0m8 11h0m8-4h0m8-9h0m4-1h0m5 14h0m6-6h0m7 2h0m43 12h0m13-23h0m108-1h0m28 16h0m-759 29h0m32 2h0m42-17h0m46 26h0m17-20h0m18-1h0m38-3h0m13 13h0m38-15h0m23 16h0m16-8h0m10 15h0m7-26h0m42 0h0m20 23h0m16 5h0m14-6h0m6-11h0m4-6h0m12 19h0m9-10h0m42 6h0m12-12h0m5-1h0m11 16h0m1 0h0m39-2h0m14-1h0m31 3h0m38 6h0m26-27h0m131 4h0m25 18h0m32-22h0m83 13h0m-1087 26h0m144 4h0m55-9h0m8 19h0m121 1h0m52-12h0m32 0h0m19-4h0m87-4h0m5 4h0m26-1h0m3-8h0m41 22h0m7-8h0m16 10h0m13-24h0m25 3h0m9 17h0m22-9h0m2 0h0m72 12h0m12-7h0m29 9h0m62-25h0m1 6h0m168 11h0m-973 15h0m165 20h0m49 5h0m7-6h0m17-17h0m77 1h0m24 18h0m2 0h0m12-1h0m50 1h0m37-23h0m10 2h0m4 20h0m20-21h0m21 0h0m17 14h0m16 8h0m12-22h0m0 12h0m45 1h0m4-15h0m9 4h0m4 12h0m5 5h0m48-17h0m14 2h0m149 19h0m244-6h0m-974 29h0m8-18h0m76 27h0m125-27h0m174 26h0m17-12h0m12 8h0m6-19h0m9 20h0m67 2h0m14-12h0m26 12h0m36-11h0m50-12h0m18 15h0m124-1h0m-816 23h0m141 0h0m2 17h0m100-21h0m25 13h0m113 10h0m24-12h0m10-5h0m12 14h0m3-13h0m57 16h0m37-27h0m1 12h0m23 10h0m294-21h0m-511 39h0m191-7h0m216-3h0m261 16h0m-1052 32h0m258 6h0m107-23h0m17 13h0m5-12h0m220 22h0m211-8h0m6 8h0m133-22h0"/>
<path d="M1338 997h0m-87 78h0m-23 53h0m33-18h0m137 6h0m77 19h0m4-19h0m-323 40h0m233-16h0m-96 42h0m35 10h0m10-12h0m39 11h0m64-2h0m23-14h0m112 4h0m19 11h0m-487 13h0m39 21h0m56-1h0m43-15h0m24 17h0m3-20h0m27 15h0m68-3h0m35 2h0m26-13h0m31-1h0m139 4h0m0 9h0m-536 28h0m91-10h0m10 20h0m76 0h0m16-20h0m46 15h0m0 4h0m36-10h0m23-4h0m38 9h0m9-13h0m54-3h0m-363 55h0m50 0h0m44-22h0m20 15h0m38-9h0m79 16h0m25-22h0m6 0h0m1 19h0m13-20h0m39-6h0m6 10h0m25 5h0m28-6h0m3 8h0m9-13h0m3 17h0m46-4h0m28-13h0m15 2h0m2 2h0m19 20h0m37 0h0m-544 9h0m31 19h0m102-4h0m2 2h0m33-15h0m49 1h0m10 3h0m1-9h0m8 10h0m35 13h0m10-1h0m33-18h0m14-8h0m21 28h0m1-11h0m23-15h0m2 4h0m66 10h0m23-13h0m123 25h0m8-25h0m52 2h0m-656 47h0m19-9h0m78-3h0m16 0h0m39 17h0m18-14h0m2-10h0m4 11h0m25-7h0m8 18h0m19-7h0m16 0h0m1 8h0m6-13h0m12 9h0m21-12h0m8-9h0m19 23h0m17-21h0m0 2h0m61 3h0m2 14h0m3-22h0m2 11h0m10 1h0m24 12h0m12-8h0m4-14h0m55 3h0m10-1h0m78 12h0m-643 22h0m43 5h0m99 6h0m50-6h0m6 2h0m39-7h0m32 12h0m1 8h0m10-19h0m7 8h0m41-16h0m17 15h0m5-8h0m6 3h0m8-9h0m13 23h0m30-22h0m1 14h0m61-11h0m15 6h0m36 6h0m26-10h0m0 14h0m3 2h0m2 4h0m5-11h0m12-12h0m49 4h0m-475 46h0m6 0h0m23-1h0m5-15h0m10 18h0m12-24h0m4 21h0m15-22h0m19 4h0m15 2h0m41 2h0m0-6h0m5 2h0m11 5h0m3 10h0m9-4h0m5-17h0m19 20h0m3 0h0m35 9h0m3-19h0m12-7h0m7 7h0m2 15h0m9-14h0m38-5h0m11 0h0m1-3h0m20 23h0m18 2h0m6 1h0m12-17h0m12-11h0m6 27h0m0-18h0m27 15h0m66-6h0m36-10h0m-695 32h0m103-7h0m7 1h0m13 8h0m34 0h0m104-2h0m63 2h0m17-3h0m24 0h0m2 19h0m11-20h0m23 18h0m17-24h0m2-2h0m11 26h0m2-4h0m22-4h0m20-14h0m3 7h0m1 8h0m23 7h0m56 1h0m5-26h0m53 20h0m10 4h0m65 2h0m61-11h0m-763 27h0m48-8h0m54 7h0m15 11h0m10 2h0m34-23h0m26 3h0m17-5h0m35 5h0m30 4h0m2 17h0m10-1h0m11-25h0m11 26h0m10-11h0m6-14h0m14 9h0m3 5h0m46 2h0m0 9h0m13-18h0m21 16h0m5-15h0m2 0h0m4 17h0m10-5h0m2-21h0m2 11h0m21-12h0m8 3h0m14-2h0m3 28h0m3-12h0m20 0h0m3 5h0m5 1h0m112-19h0m14 10h0m3-1h0m7 1h0m24 13h0m20-6h0m37 6h0m38-3h0m-726 11h0m59 6h0m59 12h0m12 5h0m20-9h0m24-15h0m23 12h0m7-13h0m3 15h0m6-15h0m33 26h0m4-28h0m18 5h0m9-6h0m45 6h0m1 22h0m30-24h0m5 12h0m16 6h0m2 5h0m0 1h0m7-24h0m12 10h0m6-14h0m14 23h0m0-6h0m1-15h0m2 7h0m13-9h0m1 15h0m27 6h0m29-12h0m54 6h0m26-8h0m33 4h0m7 12h0m4 1h0m4-15h0m29-4h0m26 8h0m45-6h0m41 15h0m-850 20h0m151-11h0m1 27h0m38-22h0m31 21h0m11-14h0m27 13h0m32-2h0m1-19h0m17 16h0m7-16h0m14 2h0m4 7h0m8 10h0m0-13h0m1 1h0m10-3h0m1 11h0m0-7h0m2 14h0m5-10h0m13 10h0m2-6h0m10-4h0m5-16h0m12 2h0m18 9h0m1-1h0m2 3h0m5 6h0m6-15h0m8 2h0m4 2h0m10 13h0m24-7h0m2 2h0m0 8h0m12-9h0m7-15h0m14 27h0m4-7h0m26-16h0m47 8h0m8-8h0m51 5h0m4 19h0m13-12h0m13 11h0m14-13h0m19 3h0m12-14h0m83 19h0m-687 27h0m2 1h0m26-1h0m0-1h0m40-3h0m14 4h0m18-14h0m3 4h0m0-10h0m2 27h0m9-20h0m33-1h0m8 13h0m12-8h0m4 12h0m1-13h0m9-8h0m2 27h0m15-18h0m1 10h0m1-17h0m21 4h0m15 6h0m4 5h0m9 5h0m4-4h0m3-2h0m54 0h0m6 2h0m10-11h0m20 3h0m24-12h0m42 28h0m0-27h0m9 18h0m15 6h0m28-1h0m15-15h0m31-9h0m18 27h0m3-16h0m3 8h0m36-8h0m12 9h0m13-8h0m32-5h0m32-5h0m12 5h0m-742 43h0m19-18h0m15 17h0m85 9h0m43-3h0m27-1h0m1-5h0m18-3h0m1-6h0m21-5h0m6 10h0m4 12h0m4-20h0m25 5h0m5-8h0m7 6h0m5 3h0m12-2h0m0-11h0m5 22h0m3-19h0m27 13h0m2 10h0m2-16h0m11 13h0m6-17h0m1 10h0m15-3h0m10 14h0m9-15h0m1 15h0m20-4h0m3-3h0m32-7h0m10 0h0m2 12h0m17 0h0m18 0h0m1-24h0m8 11h0m22-10h0m27 14h0m1-16h0m9 11h0m3-1h0m18 4h0m22-8h0m23 0h0m19 8h0m7-5h0m5-7h0m25 14h0m72 1h0m5 1h0m10-14h0m-837 46h0m62 4h0m1-16h0m38 12h0m35 2h0m8-1h0m13 8h0m27-29h0m68 27h0m33-23h0m12 13h0m3 3h0m15 7h0m6-14h0m29-9h0m26-2h0m29 19h0m5-3h0m6-16h0m1 14h0m4 7h0m7-19h0m6 9h0m38 5h0m12 1h0m5 8h0m1 0h0m5-4h0m26-4h0m4 0h0m14-12h0m12 15h0m3-15h0m6 19h0m1-18h0m6 17h0m10-1h0m12-1h0m4-2h0m6-15h0m5 7h0m17 11h0m3-9h0m21-14h0m14 22h0m20-9h0m6-4h0m28 15h0m20 2h0m35-6h0m19 8h0m12-19h0m7 17h0m55-16h0m28 5h0m17-3h0m-905 39h0m24-5h0m37 10h0m51-26h0m45 13h0m7 14h0m17-9h0m0-19h0m8 9h0m15 9h0m33 4h0m23-9h0m31-1h0m8 17h0m1-16h0m13 16h0m9-26h0m0 10h0m7-7h0m8 2h0m3-8h0m10 17h0m0 6h0m15-11h0m28-3h0m8 4h0m2 4h0m2-16h0m11 10h0m14-3h0m4 15h0m12 6h0m3-20h0m13 14h0m2 0h0m9 0h0m3 5h0m23-25h0m19 12h0m8 13h0m4-2h0m27-13h0m3-11h0m8 0h0m19-1h0m20 23h0m31-14h0m3 12h0m2 0h0m17 4h0m11-26h0m56 7h0m20-6h0m40 5h0m-771 36h0m27 1h0m8-6h0m30-2h0m13 14h0m6-12h0m4 20h0m28-5h0m28-18h0m60 11h0m11 2h0m5-12h0m17 7h0m33 2h0m24-10h0m41-3h0m5 14h0m10-14h0m4 10h0m9-9h0m19 23h0m1 1h0m8-6h0m2 8h0m6-17h0m9-3h0m4 18h0m5-18h0m13-4h0m19 17h0m0-20h0m0 27h0m11-21h0m5-1h0m4-1h0m22 24h0m4-7h0m22-20h0m9-1h0m6-1h0m4 3h0m20 11h0m1 13h0m0-25h0m18 7h0m9 7h0m1 8h0m8-12h0m3 4h0m22 1h0m5 7h0m6-24h0m54 3h0m11 7h0m12-9h0m0 18h0m3-5h0m29 14h0m71-24h0m83 1h0m-981 50h0m19-20h0m140 16h0m8-17h0m9-4h0m10 12h0m15-2h0m15-6h0m1 15h0m62 1h0m5-4h0m16-6h0m38 8h0m15-6h0m5 11h0m8-19h0m8 22h0m19-13h0m8-7h0m11 20h0m2-10h0m26-15h0m1 5h0m8 10h0m4 0h0m7-10h0m3 13h0m32-15h0m17 22h0m27-1h0m18-20h0m1 22h0m3-19h0m22 11h0m1-9h0m3 0h0m3 1h0m17 15h0m27 2h0m5-2h0m32-20h0m2-2h0m21 1h0m5 5h0m30 14h0m8-16h0m30-2h0m55-4h0m3 1h0m21 14h0m51-8h0m6 19h0m1-14h0m10 2h0m21-8h0m30-6h0m85 15h0m-991 39h0m48-26h0m23 16h0m0-9h0m37-7h0m1 15h0m0 5h0m12-11h0m26 13h0m42-18h0m5 17h0m50-8h0m9 16h0m21-3h0m11-2h0m2-12h0m8-2h0m16 5h0m8-6h0m3 1h0m18 11h0m19-8h0m8 15h0m17-28h0m1 4h0m13 19h0m2-14h0m6-4h0m0 6h0m1-6h0m9 12h0m3-10h0m16-3h0m14 24h0m27-27h0m3 7h0m1-1h0m15 10h0m0 5h0m20 2h0m15-24h0m1 26h0m16 1h0m2-17h0m3-9h0m41 23h0m39-2h0m2-2h0m46-8h0m29 13h0m9-8h0m27-12h0m20-4h0m7 10h0m1 3h0m11-1h0m10 14h0m1-5h0m77-8h0m-924 43h0m29-14h0m40-6h0m40-5h0m17 19h0m42-9h0m33-2h0m28-4h0m28 1h0m45-3h0m4 3h0m13 9h0m26 6h0m0 0h0m1 4h0m6-2h0m11-1h0m1-17h0m5 11h0m9 4h0m14 7h0m14-13h0m13-2h0m1 13h0m3-16h0m11-5h0m7 6h0m41 2h0m8 1h0m5 10h0m13-10h0m8 15h0m8-18h0m13 17h0m3-5h0m6 3h0m4-5h0m23 8h0m3-10h0m5 3h0m13 1h0m10-2h0m3-20h0m12 28h0m0-21h0m7 16h0m11-15h0m11-9h0m16 20h0m6-2h0m7-9h0m9 6h0m1 9h0m1-5h0m32-14h0m33 12h0m3-10h0m24 22h0m117-13h0m37-11h0m28 21h0m136-10h0m-1091 42h0m1-7h0m55 3h0m107-11h0m74-4h0m3 8h0m26-3h0m10-2h0m5-8h0m12 21h0m31-12h0m9 7h0m23 6h0m8-4h0m21 6h0m9-16h0m15 17h0m5-23h0m1 19h0m27-9h0m16-8h0m1 0h0m18-8h0m25 14h0m4-4h0m9-9h0m5 12h0m11-9h0m6 3h0m52 0h0m23-5h0m16 14h0m4-10h0m6 12h0m4-10h0m20 10h0m6-18h0m9 8h0m27-5h0m18 25h0m35-20h0m20 3h0m47-11h0m40 18h0m105-5h0m22-7h0m136 2h0m-1134 40h0m87-15h0m49 20h0m26-22h0m21 7h0m23 20h0m7-19h0m40-2h0m59 8h0m10-12h0m9 24h0m8-7h0m6 1h0m14 0h0m4-15h0m16 7h0m4 12h0m28 2h0m20-24h0m27 1h0m16 20h0m7-2h0m36-10h0m8-1h0m2-5h0m7 0h0m8 11h0m8 4h0m9-17h0m2 25h0m53-17h0m13 1h0m1-6h0m40-5h0m31 22h0m28-5h0m22-16h0m4 15h0m27 8h0m0-21h0m22 16h0m3-21h0m46 10h0m12 4h0m102 5h0m-933 23h0m17-6h0m13 3h0m135-8h0m18 11h0m55 15h0m18-2h0m18-20h0m7 4h0m35 10h0m8-18h0m23 18h0m15-6h0m16 5h0m32-12h0m25 21h0m8-9h0m5-7h0m8 7h0m39-8h0m28 13h0m42-22h0m13 13h0m2 12h0m9-9h0m22-13h0m25 15h0m14-14h0m28-2h0m26 7h0m145 4h0m47-9h0m96 19h0m-1073 14h0m211-8h0m191 7h0m8-1h0m59 7h0m44 7h0m21-2h0m5 5h0m32 1h0m2-24h0m1 21h0m10 2h0m9-10h0m40-9h0m69 14h0m6 10h0m42-10h0m40-5h0m24 16h0m3-5h0m1-19h0m61 3h0m19 10h0m-725 34h0m22 7h0m30-3h0m161-23h0m47 1h0m5 15h0m1-4h0m12-2h0m15 12h0m14-8h0m32-16h0m44 16h0m27-13h0m7 0h0m32 19h0m18-1h0m299-3h0m-716 25h0m83-14h0m123 12h0m37 9h0m45-12h0m17-3h0m77 10h0m34 2h0m43-9h0m79 2h0m132-6h0m3 12h0m40 0h0m249 9h0m-1105 21h0m49 6h0m385-23h0m22 15h0m8 0h0m103 14h0m137-19h0m54 2h0m78-2h0m-443 26h0m20 14h0m56-9h0m114 18h0m344-19h0m-868 26h0m354 11h0m23-11h0m24 7h0m19-11h0m342 1h0m-111 45h0m-948 45h0"/>
<path d="M1341 1059h0m61 47h0m22 3h0m-230 17h0m82 39h0m32-8h0m-86 14h0m26 15h0m42 9h0m75-19h0m285 13h0m-443 23h0m19 17h0m28-25h0m85 18h0m0-13h0m5 19h0m17-1h0m38-16h0m3 7h0m67 9h0m36-1h0m1-1h0m78-8h0m3-4h0m11 15h0m-431 24h0m75-1h0m10 6h0m18-20h0m8 5h0m24 13h0m25-3h0m28 7h0m75-7h0m48-10h0m24 15h0m36-27h0m6 29h0m8-12h0m5 2h0m8-16h0m33 6h0m2 14h0m66-10h0m-529 38h0m81-16h0m104 15h0m2-12h0m15-7h0m7 17h0m4-8h0m3 7h0m29 4h0m6-7h0m7 5h0m33 0h0m27-10h0m19-5h0m40 16h0m7-2h0m106-18h0m143 27h0m-704 24h0m90 2h0m38-8h0m33 14h0m13-9h0m8-16h0m46 3h0m22-4h0m1 17h0m27 8h0m26-7h0m14-8h0m49-7h0m0 7h0m3 14h0m6-8h0m58-19h0m30 21h0m2 6h0m16-16h0m6 4h0m38-2h0m34-13h0m17 26h0m70 3h0m0-25h0m-638 50h0m8-7h0m31-5h0m15-11h0m53 4h0m8 19h0m35-4h0m53 3h0m4-6h0m1 0h0m14 7h0m17-17h0m0 0h0m13 14h0m6-9h0m16 4h0m16 1h0m20-3h0m13 7h0m15 0h0m40 5h0m8-12h0m15 8h0m2-2h0m31-5h0m20 3h0m36-7h0m44-4h0m16 13h0m9-14h0m1 5h0m4-1h0m8-3h0m24 3h0m5-3h0m-564 27h0m22 7h0m18 12h0m29-19h0m26 7h0m7 17h0m9-4h0m4-12h0m45 9h0m27-12h0m2 6h0m21 9h0m9 5h0m14-29h0m9 23h0m25-10h0m37 1h0m25 9h0m6 4h0m1-4h0m18 3h0m116 3h0m15 0h0m29-11h0m59 10h0m-705 24h0m158-11h0m44 16h0m2-16h0m62-6h0m4 23h0m49-17h0m14-7h0m4 25h0m7-27h0m0 0h0m40 10h0m2 3h0m5-3h0m37 17h0m55-3h0m10-7h0m33 2h0m0 6h0m13-13h0m6 12h0m9-5h0m3 0h0m-522 29h0m10-15h0m107 6h0m3-4h0m2 2h0m26-9h0m14 2h0m2 15h0m46 1h0m22 8h0m9-19h0m43 7h0m11-12h0m31 2h0m5 2h0m2-3h0m6 10h0m15 7h0m10-10h0m14 1h0m0 8h0m1-1h0m26-7h0m19 18h0m64-5h0m84 0h0m1-4h0m5 9h0m28-10h0m80-11h0m-577 36h0m4-12h0m37-1h0m1 27h0m12-20h0m20 11h0m3 10h0m31-24h0m7 16h0m15-4h0m4 9h0m9 1h0m8-7h0m6-14h0m1 15h0m37-17h0m0 21h0m3-14h0m31-3h0m20 3h0m6 10h0m15 3h0m25 3h0m2-20h0m5 6h0m4 14h0m25 1h0m25-26h0m6 27h0m2-4h0m56-25h0m23 16h0m62 0h0m22 6h0m34-15h0m1 16h0m10-4h0m23 4h0m83-10h0m-624 29h0m1-1h0m29-8h0m3 14h0m3-2h0m0 9h0m27 5h0m8-6h0m30-7h0m29-1h0m7 7h0m14-22h0m14 22h0m3-12h0m6 5h0m2 10h0m10-7h0m3 3h0m25-2h0m3-4h0m2-15h0m3 17h0m19-13h0m29 5h0m12 3h0m9-3h0m10 5h0m11-7h0m2 17h0m19-10h0m12-7h0m12 7h0m3-1h0m3 1h0m24 13h0m5-25h0m11 15h0m8-13h0m17 1h0m41-1h0m1 13h0m11 4h0m28-5h0m16-9h0m27 9h0m20-15h0m3 3h0m-694 39h0m40-5h0m5 6h0m1-2h0m4 16h0m24-16h0m60-6h0m18-6h0m7 24h0m26-10h0m22 15h0m3-17h0m16-4h0m14-7h0m15 13h0m9-13h0m13 15h0m15 9h0m4-9h0m1-6h0m6-4h0m32 4h0m18 8h0m9-14h0m15 18h0m14-2h0m26-17h0m10 8h0m29-1h0m95 15h0m32 2h0m35-15h0m47-8h0m3 11h0m3 3h0m59-15h0m69 5h0m-941 50h0m152-3h0m22-6h0m22-13h0m46 6h0m13 0h0m9-3h0m36 15h0m14 5h0m14-7h0m9-22h0m21 5h0m12 15h0m12 3h0m6-10h0m19 13h0m0-21h0m3 10h0m2-6h0m12 18h0m9-24h0m12 0h0m3 11h0m15 13h0m8-10h0m1 3h0m14 0h0m7-16h0m10 16h0m1 5h0m14-20h0m7 6h0m10-1h0m19 12h0m7-7h0m1-5h0m1-3h0m12-1h0m0 2h0m4-5h0m17 21h0m9-10h0m32 6h0m7 7h0m1-12h0m6 6h0m36 2h0m52-13h0m8-1h0m11-8h0m41 22h0m155 5h0m31-4h0m-898 17h0m11 16h0m39-21h0m44 8h0m7-7h0m20 17h0m30-3h0m3-9h0m1 8h0m33-20h0m17 14h0m33-10h0m4 24h0m15-9h0m8-19h0m5 7h0m17 3h0m5 12h0m11 5h0m11-17h0m9 8h0m2 2h0m8-2h0m14-1h0m1 6h0m5-20h0m3-1h0m1 23h0m5-18h0m1 11h0m7-4h0m2 7h0m4-8h0m10 5h0m22-18h0m11 4h0m12 2h0m23-1h0m2 12h0m6-11h0m1 6h0m16 12h0m3-13h0m6-11h0m2 8h0m1 9h0m4-9h0m8 8h0m12 2h0m4-15h0m17-3h0m24 22h0m4-14h0m35 10h0m1 4h0m19-2h0m61-13h0m15-7h0m16 19h0m64 6h0m9-4h0m8-5h0m25 11h0m-857 5h0m24 4h0m92 14h0m10 3h0m34-23h0m49 15h0m60 1h0m21-15h0m18 6h0m1 16h0m8 3h0m0-4h0m2-9h0m9 14h0m20-15h0m2-2h0m1-6h0m0-2h0m7 12h0m2 4h0m14-4h0m11-14h0m0 5h0m21 10h0m14 13h0m2-15h0m4-3h0m8 15h0m7-2h0m25-12h0m16 6h0m2-2h0m6-9h0m5 15h0m5-8h0m6-9h0m1 12h0m10-3h0m7-13h0m4 9h0m9 1h0m0 7h0m22 3h0m5-14h0m4 23h0m6-23h0m0-4h0m48 11h0m7-1h0m26 12h0m12 3h0m17-20h0m1-3h0m16 10h0m16-6h0m17 17h0m22-19h0m27-5h0m11 17h0m-778 14h0m6 16h0m5-9h0m72 19h0m47-3h0m25-23h0m12 19h0m15 7h0m2-11h0m5-11h0m32 19h0m5-3h0m18-3h0m29 10h0m11-10h0m1 1h0m1-8h0m1 8h0m0 0h0m3 3h0m14-6h0m8-5h0m0 14h0m3-15h0m21 0h0m16 7h0m5-10h0m8 19h0m21-2h0m3-9h0m21 4h0m1-10h0m16-3h0m23 17h0m1 5h0m6-5h0m1 5h0m5-19h0m14 3h0m22-4h0m20 14h0m12-1h0m18-9h0m1 4h0m1-17h0m14 22h0m2 6h0m10-26h0m4 13h0m6-13h0m13 24h0m2 2h0m0-1h0m7 2h0m10-11h0m21 1h0m3-9h0m1-5h0m26 23h0m19 1h0m17-7h0m7 7h0m12-20h0m20 11h0m92-15h0m59 10h0m-933 28h0m70 12h0m37-10h0m50-7h0m1 7h0m5 12h0m102-14h0m3 16h0m2-20h0m7 6h0m32 5h0m8-16h0m15 8h0m0-12h0m7 2h0m17 2h0m3-3h0m1 5h0m22 9h0m2-3h0m4-12h0m1 10h0m0-5h0m20 19h0m3-12h0m16 11h0m5-10h0m29 5h0m12-3h0m9 11h0m1-12h0m5-13h0m6 18h0m6-12h0m8-6h0m5 7h0m13 17h0m13-11h0m20 2h0m5-12h0m4 17h0m11-17h0m1 15h0m1-16h0m3 16h0m12-11h0m13 9h0m8-16h0m2 16h0m13-14h0m1 6h0m72-1h0m1 11h0m9-12h0m58 14h0m45-15h0m28 4h0m74-5h0m-905 25h0m18 24h0m58 4h0m19-8h0m30-4h0m56-1h0m8 12h0m75 0h0m10-1h0m1-10h0m20-14h0m4 22h0m5-1h0m15-8h0m3 0h0m2 10h0m10-10h0m20-4h0m2 1h0m3-9h0m23 26h0m5-21h0m9 9h0m14 10h0m6-14h0m1 6h0m14-8h0m22-9h0m7 15h0m3-17h0m3 1h0m10 25h0m13-24h0m3 4h0m12 20h0m12-2h0m69-7h0m17-14h0m3 25h0m5-19h0m42-1h0m26 7h0m8-11h0m37 15h0m26-1h0m47 11h0m37-7h0m5-7h0m20-7h0m24-8h0m-927 46h0m40-14h0m46 1h0m25 0h0m26 17h0m61 5h0m1-3h0m13 6h0m10-17h0m5-11h0m21 22h0m43 0h0m8-14h0m7-6h0m6 20h0m3-6h0m12-12h0m2 10h0m3 0h0m4-1h0m21 2h0m12-11h0m6 8h0m8 8h0m30-4h0m4-1h0m8-9h0m5 18h0m22-7h0m5-16h0m1 1h0m4 9h0m6-11h0m18 16h0m26-12h0m2 15h0m28-1h0m2-16h0m2 6h0m40-1h0m2-5h0m3 17h0m51-2h0m2 10h0m11 1h0m17-9h0m24-2h0m0 10h0m6-24h0m34 25h0m59 0h0m23-26h0m-737 50h0m27 4h0m26-16h0m17 4h0m39-4h0m40-8h0m33 27h0m59 0h0m1-6h0m8-11h0m1 9h0m1-20h0m3 9h0m9 13h0m53 3h0m15-6h0m0-19h0m6 11h0m1 15h0m0 0h0m11-7h0m10 6h0m4-12h0m12 4h0m1 6h0m17-8h0m5-9h0m29 6h0m5-8h0m24 1h0m1 11h0m16 12h0m29-8h0m4 2h0m6-11h0m13-10h0m0 22h0m6-15h0m5-8h0m4 21h0m7-19h0m10 6h0m26-1h0m25 1h0m1 17h0m31-16h0m12-6h0m7 20h0m13-12h0m10 6h0m1 5h0m22-9h0m83-1h0m-839 34h0m11 2h0m61 10h0m22-6h0m3-22h0m6 6h0m94-1h0m37 14h0m28-15h0m6 5h0m20 10h0m5-19h0m23 14h0m8-1h0m17-13h0m6 22h0m24-17h0m9 5h0m26-2h0m7-1h0m8 11h0m9-11h0m34 6h0m13 7h0m25-19h0m8 5h0m15 0h0m8-1h0m22 6h0m4 4h0m20 3h0m1-8h0m16 16h0m12-4h0m6-21h0m38 19h0m6 7h0m7-8h0m14 8h0m3-7h0m79 1h0m27 2h0m34-8h0m7 6h0m101-15h0m-937 33h0m116-2h0m36-6h0m11 20h0m41 4h0m44-18h0m0 4h0m19 12h0m34-6h0m0 6h0m27-19h0m5 6h0m20 7h0m29 6h0m4-5h0m13-6h0m15-6h0m7-5h0m10 11h0m8-2h0m35 12h0m19-20h0m47 11h0m39-13h0m0 1h0m8 26h0m17-9h0m6-15h0m10 16h0m5 2h0m54-4h0m11-17h0m42 7h0m12 7h0m106 14h0m13-14h0m126 11h0m-871 11h0m74 0h0m8-1h0m26-3h0m2 15h0m11 2h0m1-20h0m9 29h0m2-15h0m1-3h0m17 3h0m6 7h0m33-1h0m36 3h0m18 1h0m11-19h0m40 14h0m26 1h0m17 8h0m3-21h0m10 16h0m18-2h0m3-20h0m9 4h0m0-1h0m6 14h0m11-18h0m10 23h0m55 5h0m12-18h0m7 13h0m48 2h0m33-2h0m49-5h0m277-15h0m-1100 30h0m115-3h0m74 17h0m26-7h0m0-4h0m9 20h0m72-24h0m31 22h0m21-4h0m20-4h0m10 3h0m9 1h0m13-10h0m11 9h0m3-10h0m2-4h0m27-4h0m33 2h0m10 8h0m3 3h0m11-1h0m4 13h0m18-14h0m18-5h0m36 6h0m29 10h0m3 4h0m2-5h0m7-17h0m41 16h0m1 5h0m1-5h0m11-21h0m68 15h0m12-15h0m3 11h0m56-9h0m-741 50h0m181 2h0m15 0h0m80-7h0m1 1h0m11 7h0m17-5h0m8-1h0m6-3h0m45-14h0m16 8h0m7 3h0m56-13h0m11 7h0m10 9h0m5-13h0m7 14h0m7-10h0m60 14h0m22-7h0m49 0h0m4 2h0m5-10h0m17 13h0m7 1h0m27-2h0m15-13h0m76 17h0m14-12h0m39 5h0m220 8h0m-1205 8h0m115 21h0m351-10h0m64 15h0m12-7h0m14-16h0m10 6h0m105-10h0m68 1h0m43 9h0m14-2h0m153-6h0m86-2h0m225 25h0m-1118 9h0m74 12h0m276-3h0m17-11h0m3-1h0m24 24h0m11 3h0m102-23h0m79 13h0m392-11h0m143 10h0m-884 18h0m138 3h0m73 19h0m65-10h0m57-15h0m58 12h0m-286 20h0m5 23h0m229-11h0m192 8h0m-132 29h0m39-2h0"/>
<path d="M1370 1034h0m64 33h0m-94 31h0m4 0h0m95-8h0m153-3h0m-389 26h0m104 4h0m17 8h0m59 12h0m13-5h0m51-12h0m58 5h0m-234 29h0m9-8h0m259 4h0m100 13h0m-496 30h0m39-21h0m79-1h0m13 13h0m120-10h0m8 9h0m23 14h0m38-13h0m76-6h0m37 6h0m-493 35h0m77-14h0m133 3h0m2-5h0m29 2h0m32 17h0m11-20h0m67 6h0m25 18h0m-309 21h0m46 8h0m46-23h0m20 14h0m24 2h0m22-6h0m0 9h0m117-10h0m22-7h0m3 25h0m14-16h0m6 2h0m9-9h0m99 10h0m3-14h0m-430 34h0m14-4h0m9 4h0m22 22h0m4-11h0m55 5h0m74-10h0m38 10h0m44-8h0m27 5h0m35-12h0m0-3h0m12 2h0m3 10h0m13-10h0m49 1h0m12 3h0m60-5h0m10-2h0m8 16h0m9-17h0m-541 37h0m52 9h0m74 6h0m28-10h0m28 5h0m10 9h0m31-21h0m28 16h0m19-16h0m2 21h0m0-9h0m32-8h0m3 14h0m2-9h0m43 12h0m16-14h0m2 8h0m28-20h0m35 5h0m10 11h0m3-4h0m4-4h0m2 4h0m20 11h0m11-16h0m10 8h0m91 12h0m-695 11h0m106 16h0m33-8h0m12-13h0m36 6h0m57 4h0m23-7h0m22-1h0m25 20h0m15 1h0m38-26h0m8 20h0m1-12h0m23 4h0m14-4h0m11 17h0m25-21h0m17 20h0m26-19h0m15 16h0m4 2h0m0-16h0m25-7h0m38 13h0m4 8h0m21 0h0m1-16h0m0 6h0m16-12h0m23 16h0m37 5h0m49-15h0m-560 38h0m18-7h0m16 12h0m85 4h0m10-11h0m54-8h0m17-3h0m1 2h0m16 19h0m7-20h0m45 23h0m6-17h0m21 7h0m46 9h0m29-3h0m28-3h0m38-7h0m3-8h0m22 12h0m110-14h0m-727 46h0m1-7h0m22 18h0m16-3h0m49-9h0m51 8h0m31-15h0m18 2h0m12 13h0m15-21h0m9 1h0m12-2h0m19 17h0m7 5h0m2-9h0m0-4h0m9 9h0m15-17h0m4 10h0m3 10h0m20 2h0m44 1h0m11-26h0m0 16h0m92-5h0m23-9h0m16 22h0m19-20h0m10 16h0m14-18h0m13 26h0m25-13h0m1-3h0m24-11h0m27 26h0m16-15h0m19 1h0m56-12h0m75 24h0m-718 32h0m86-13h0m5-2h0m10 0h0m20 16h0m12-8h0m54 4h0m2-24h0m13 8h0m14 8h0m9-13h0m7 22h0m0-22h0m2 19h0m0-20h0m8 24h0m6-25h0m2-2h0m7 0h0m13 11h0m19 15h0m7 3h0m33-6h0m21-5h0m1-7h0m2 7h0m3-18h0m3 13h0m4 11h0m13 1h0m1-12h0m50 14h0m20-20h0m3 18h0m28-8h0m97-7h0m25-3h0m6 4h0m4 9h0m-603 24h0m13 6h0m10 0h0m68-9h0m3 14h0m21-11h0m22 6h0m18 2h0m26-13h0m17 1h0m29-5h0m8-2h0m38 1h0m20-2h0m7 8h0m5-10h0m13 12h0m2 15h0m5-1h0m16 3h0m86-13h0m10-16h0m23 10h0m15-4h0m6 3h0m25 7h0m33-15h0m10 26h0m59-17h0m3 3h0m39 6h0m32-1h0m19-3h0m-744 19h0m101 21h0m20-6h0m6-8h0m39-5h0m6-4h0m0 24h0m21-18h0m1-5h0m1 18h0m15 6h0m3-13h0m12-4h0m9 10h0m9-12h0m12 11h0m15-4h0m3-14h0m0 3h0m8 17h0m2-14h0m3-1h0m2-3h0m4 12h0m19-1h0m8-1h0m4 12h0m7-11h0m12 5h0m11-2h0m25-14h0m11-1h0m8 18h0m7-10h0m12-10h0m27 3h0m3 17h0m15 6h0m16-2h0m4-15h0m2 7h0m106-13h0m24 13h0m35-5h0m2-6h0m13 2h0m-697 38h0m7 3h0m26-5h0m28-9h0m0 11h0m6 3h0m11-15h0m27 24h0m15-7h0m10 3h0m21 5h0m12-9h0m9-5h0m41 11h0m24-5h0m3-3h0m11-12h0m13 22h0m8-23h0m9-3h0m22 16h0m26-8h0m9-5h0m13 15h0m4 2h0m16 7h0m0-12h0m25-14h0m24-2h0m1 15h0m10 3h0m2 9h0m70-26h0m18 17h0m2 9h0m0-3h0m4-18h0m31 17h0m3-8h0m0 1h0m1-11h0m10-5h0m2 15h0m68-3h0m14 4h0m52-4h0m11 9h0m13 1h0m10-9h0m-743 44h0m52-25h0m16 13h0m15 11h0m2-26h0m28 20h0m3-9h0m3-3h0m61 9h0m1 4h0m9-3h0m1 2h0m9-17h0m2 22h0m6-3h0m2-1h0m9 0h0m38 2h0m2 5h0m21 0h0m12-20h0m1 17h0m1-10h0m0 1h0m2-16h0m2 25h0m10-16h0m23-2h0m4 20h0m14-26h0m8 20h0m13-4h0m14 1h0m0 4h0m13 2h0m7-11h0m12 10h0m11-13h0m24-9h0m9 2h0m35 1h0m22 8h0m16 11h0m15-22h0m4 3h0m3 14h0m8-16h0m5 16h0m19 8h0m24-8h0m19 4h0m18 4h0m94 2h0m17-13h0m26 13h0m-802 15h0m7-12h0m39 16h0m23-14h0m26 2h0m39 22h0m17-5h0m13-4h0m21-16h0m28-2h0m22 9h0m16 9h0m6-18h0m4 16h0m5 10h0m13-2h0m6 2h0m13-20h0m6-4h0m23 1h0m3 13h0m4 11h0m0-10h0m11-12h0m30 17h0m4-8h0m4 13h0m7-3h0m12-5h0m0 7h0m10 0h0m13-20h0m50 13h0m1 1h0m0 1h0m2-1h0m0 5h0m9-19h0m14 3h0m3 10h0m25 0h0m12-2h0m2-15h0m2 15h0m36 0h0m7-9h0m12 13h0m46-13h0m8 16h0m27 0h0m47-1h0m27-4h0m9 1h0m55 1h0m-800 14h0m48-4h0m8 23h0m21-6h0m28 1h0m13-2h0m5 2h0m9-1h0m18-2h0m1-9h0m15 17h0m42-20h0m4 18h0m0-18h0m4 24h0m1-12h0m9 11h0m4-1h0m8-21h0m7 2h0m8 16h0m13 3h0m1-9h0m0-2h0m5-4h0m4 12h0m0 6h0m4-11h0m4 8h0m3-2h0m24-10h0m0-12h0m1 5h0m0-3h0m1 22h0m24-19h0m7-3h0m6 8h0m29-5h0m4-1h0m15 14h0m20-11h0m8 12h0m6-8h0m3 0h0m18 6h0m19-1h0m17-4h0m9 14h0m17-17h0m11-5h0m7 22h0m5-8h0m9-19h0m2 23h0m13-20h0m13 10h0m7 9h0m25-3h0m21-2h0m17 6h0m8-9h0m26 14h0m1-2h0m13-3h0m9-5h0m-870 26h0m119 10h0m74-24h0m12 27h0m39-16h0m31 1h0m0 15h0m19-13h0m11 3h0m0 1h0m2-5h0m24-4h0m6 11h0m1-7h0m5 6h0m0-2h0m6 5h0m28 3h0m26-14h0m3 2h0m13-4h0m4-9h0m0 27h0m6-25h0m1 18h0m23 4h0m2-21h0m2 10h0m2-5h0m10-8h0m16 11h0m3 9h0m2-1h0m8-2h0m12-4h0m0-4h0m15 16h0m7-1h0m1-17h0m14 15h0m10 1h0m3-13h0m1-4h0m1 10h0m11-7h0m1-2h0m4 4h0m5 10h0m9-22h0m26 8h0m9 2h0m1 9h0m3-7h0m5-9h0m16 8h0m1 6h0m4-6h0m5 12h0m10-17h0m28 5h0m1 8h0m35 8h0m21-27h0m14 15h0m7 12h0m10-6h0m32-16h0m21 20h0m6-24h0m27 2h0m37-3h0m33 15h0m51-3h0m6 17h0m-853 14h0m30 12h0m10 1h0m54-17h0m6 3h0m88 12h0m14-3h0m1-19h0m10 10h0m8-7h0m15 0h0m19 9h0m15-13h0m4 19h0m1-20h0m7 5h0m4 13h0m3-14h0m29-4h0m2 10h0m2 16h0m9-8h0m1 10h0m2-17h0m5-3h0m23-5h0m20 17h0m32 4h0m19-17h0m2-5h0m8 1h0m0 14h0m20-15h0m1 10h0m14-11h0m14 17h0m3-10h0m1 2h0m1 9h0m10 0h0m4 0h0m12-1h0m2 4h0m24-17h0m8 4h0m39-1h0m20 10h0m31-6h0m11-3h0m51 10h0m88 7h0m166 0h0m-963 33h0m4-28h0m76 28h0m64-25h0m4 13h0m6-9h0m4 13h0m33 0h0m11-14h0m35-1h0m19-3h0m10 22h0m2-8h0m10-14h0m32 7h0m0 14h0m7-2h0m26 5h0m18-16h0m13 5h0m11-7h0m1 20h0m4-14h0m3 9h0m27-1h0m3-16h0m40-7h0m4 1h0m2 6h0m5 15h0m4-19h0m0 3h0m2 0h0m5 12h0m6-9h0m2-4h0m8 22h0m1-10h0m11-4h0m15-1h0m14-6h0m7 15h0m1 0h0m4 0h0m1-17h0m9 3h0m42 16h0m10-16h0m1 2h0m16-7h0m14 21h0m5-9h0m48 10h0m5 3h0m18-3h0m43-24h0m43 0h0m20 29h0m28-29h0m-815 44h0m34-3h0m8 17h0m66-20h0m29 12h0m5 7h0m5-11h0m5 6h0m8-12h0m3 7h0m11-13h0m22 10h0m4-9h0m6 1h0m12 15h0m1 6h0m13-9h0m3-12h0m14-5h0m26-1h0m2 21h0m4-10h0m7 5h0m1-9h0m20 21h0m1-22h0m7 20h0m6-8h0m12 6h0m6-12h0m13 17h0m8-12h0m4 5h0m0 3h0m22-1h0m2-19h0m4 1h0m7 19h0m17-11h0m4 7h0m4-21h0m4 18h0m6 6h0m2-3h0m41 4h0m4-1h0m23-22h0m18 21h0m18-12h0m70-6h0m15 23h0m5-28h0m74 8h0m2 8h0m19 3h0m-950 30h0m178 6h0m8-17h0m60-3h0m4 0h0m28 2h0m40 7h0m0 14h0m51 1h0m25-13h0m13-4h0m20-7h0m11 3h0m14 1h0m0 3h0m10 11h0m6-1h0m17 5h0m20-26h0m18 10h0m16-8h0m3 21h0m11 5h0m12-8h0m30-11h0m2 15h0m7-20h0m6-5h0m0 15h0m18-3h0m27-5h0m3 4h0m4-1h0m2 14h0m1-16h0m78 11h0m1 8h0m31-19h0m13-2h0m37-6h0m2 19h0m14-19h0m9 23h0m95-8h0m-938 35h0m266-2h0m16-5h0m87 11h0m31-19h0m1-4h0m13 2h0m8 25h0m29-22h0m18 8h0m39 3h0m24-2h0m4 12h0m2-10h0m3 9h0m10-18h0m0 17h0m16-3h0m45-10h0m3-3h0m1 19h0m26-9h0m16-17h0m18 19h0m16-18h0m29 7h0m9-4h0m9 1h0m2 11h0m50-17h0m1 2h0m14-3h0m17 6h0m5 4h0m71-7h0m20 2h0m16 5h0m-876 24h0m57 5h0m87 10h0m47-10h0m17 14h0m11-4h0m36-13h0m15 11h0m41 10h0m55-8h0m7-2h0m11-12h0m9 6h0m11-11h0m49 1h0m3-1h0m0 16h0m1 4h0m2-5h0m17 14h0m26-27h0m1 27h0m10-12h0m16-16h0m6 16h0m3 0h0m12-7h0m5 9h0m26-16h0m8 5h0m45-2h0m5-3h0m2 25h0m57-23h0m1 20h0m1-2h0m22-22h0m64 10h0m50 3h0m127-5h0m17-9h0m-777 54h0m5-2h0m15-7h0m20 13h0m18-16h0m15-12h0m33 18h0m10 7h0m31 3h0m18-15h0m17 4h0m30-5h0m27-3h0m20 10h0m1 2h0m34 7h0m4-15h0m3-11h0m0 27h0m5-12h0m40-14h0m3 18h0m20-9h0m13-6h0m6 9h0m22-12h0m7 8h0m1 16h0m112-18h0m54-8h0m22 20h0m135-10h0m-843 29h0m8 1h0m55-4h0m62 4h0m17 4h0m5-7h0m33 15h0m33-9h0m24-6h0m4 7h0m34 10h0m11-8h0m5-14h0m11 13h0m34-4h0m20 1h0m88 1h0m20-8h0m30 13h0m29-1h0m3 4h0m10 2h0m8-2h0m127 4h0m170-22h0m-809 39h0m55 11h0m99-6h0m19-15h0m23 18h0m28-1h0m73-17h0m41 9h0m12-1h0m16-1h0m1 13h0m19-20h0m6-2h0m3 15h0m12-12h0m9 1h0m19 23h0m10-14h0m6 7h0m21 4h0m63-6h0m3-10h0m12-6h0m170-2h0m-954 54h0m165-9h0m96 10h0m141-22h0m29-2h0m65 17h0m324 1h0m4 6h0m137-23h0m114 8h0m-745 45h0m79-19h0m206-1h0m138 12h0m19 6h0m263-22h0m-382 33h0m-928 30h0m854-3h0m51 19h0m81-20h0m187 0h0m-1199 53h0m940-12h0m254 0h0m83 9h0"/>
<path d="M1313 1037h0m14 3h0m15-5h0m20-7h0m-13 22h0m24 12h0m10 9h0m11 15h0m4 6h0m8-10h0m9-2h0m30 29h0m-189 11h0m64-3h0m14 22h0m1-29h0m147 21h0m-114 21h0m48 13h0m-293 18h0m33-7h0m84 8h0m1-4h0m9-8h0m39 27h0m92-4h0m27-2h0m31-3h0m68-13h0m68 1h0m-489 37h0m205 5h0m48-11h0m6 1h0m6 6h0m62-10h0m13 12h0m32 9h0m75-11h0m6-12h0m-416 26h0m51 14h0m48 15h0m47-20h0m5 19h0m78-13h0m12 12h0m55 0h0m41-15h0m15 14h0m8-23h0m23 11h0m45-2h0m7 9h0m34 5h0m-539 15h0m18-10h0m164 16h0m11-8h0m27-2h0m14 10h0m13-1h0m13 8h0m14-1h0m46-4h0m9-18h0m2 5h0m13 6h0m75 12h0m4 0h0m6-3h0m12-7h0m0 3h0m41-12h0m4 13h0m30-3h0m13-6h0m22 9h0m5-3h0m6 3h0m5-3h0m19-1h0m13-9h0m46 8h0m-552 26h0m21 12h0m29-17h0m43 25h0m25 0h0m13-14h0m23 6h0m7-5h0m75-2h0m15-8h0m3-3h0m16 17h0m25-18h0m49 22h0m5-1h0m116-8h0m50-3h0m29-10h0m-515 57h0m76-8h0m0-6h0m6 2h0m36 6h0m3-3h0m4-11h0m7 9h0m2 1h0m39-11h0m9 4h0m8 16h0m13-2h0m68-13h0m33-5h0m19 3h0m22-6h0m18 12h0m122 6h0m-440 8h0m7 28h0m8-22h0m17 4h0m5 13h0m25-2h0m19-6h0m40-5h0m46 14h0m32-17h0m8-2h0m30 12h0m7 5h0m50-4h0m31-18h0m4 16h0m30-2h0m20-4h0m16-6h0m153 6h0m-730 27h0m6 5h0m5 12h0m50-9h0m40-5h0m19 14h0m59-4h0m2-5h0m9 3h0m0 2h0m4-20h0m31 5h0m50 0h0m23 0h0m19-3h0m9 21h0m31-11h0m14-2h0m11 5h0m1 3h0m1 8h0m6-23h0m15 11h0m43 12h0m7-7h0m4 9h0m26-24h0m10 16h0m0 6h0m19-2h0m10-9h0m33 13h0m31-19h0m41 16h0m54-16h0m-654 38h0m23 0h0m71 6h0m22-22h0m20-2h0m29 11h0m32 8h0m3-5h0m2 4h0m24 1h0m56-1h0m10 0h0m1 4h0m3-7h0m5-7h0m8-8h0m42 22h0m6 5h0m24-9h0m31 7h0m4-8h0m17 10h0m6-12h0m5 7h0m2 0h0m5-5h0m30-13h0m36 21h0m7-23h0m28 3h0m87-1h0m-674 36h0m10 1h0m99-1h0m6 0h0m67 18h0m17-9h0m7 10h0m7-18h0m25 17h0m20-4h0m3-10h0m1-12h0m0 13h0m2 2h0m12-4h0m5 14h0m16-10h0m14 8h0m11 2h0m5-1h0m7-25h0m11 7h0m46-6h0m3 21h0m4 0h0m16-13h0m12 12h0m5-9h0m42 16h0m6-29h0m1 8h0m1 3h0m15 2h0m5-4h0m10-4h0m24 6h0m11 4h0m28 13h0m10-14h0m6 8h0m34-20h0m35 9h0m80 0h0m-814 22h0m36 20h0m69 5h0m45-27h0m68 23h0m10-11h0m25-2h0m12-1h0m39 15h0m15-4h0m1-9h0m2-6h0m6 3h0m25 3h0m5 14h0m3-6h0m2-10h0m4 8h0m5-7h0m12 3h0m15-11h0m20 25h0m6-1h0m2-3h0m10-4h0m1-9h0m2 4h0m25-6h0m5 19h0m0-11h0m6 4h0m1-5h0m38-12h0m5 3h0m10-2h0m1 14h0m14-10h0m3 7h0m2-4h0m19-7h0m5 10h0m9 3h0m33 7h0m18-14h0m56-9h0m6 20h0m109-13h0m52-3h0m-750 25h0m21 9h0m15 11h0m1-9h0m13 11h0m42-10h0m42-11h0m23 1h0m4 1h0m5 17h0m2 8h0m50-14h0m7 5h0m17-20h0m0 29h0m0-17h0m11 13h0m6-15h0m8 15h0m15-22h0m2 15h0m33 10h0m2-11h0m15-16h0m2 15h0m15-7h0m17 1h0m1 11h0m8-13h0m16 11h0m14-6h0m27 10h0m12-17h0m10 3h0m0 15h0m12-21h0m3 14h0m26-5h0m30 2h0m9-3h0m31 16h0m1-17h0m82 3h0m59-2h0m-756 46h0m74-25h0m29 20h0m6-20h0m3 19h0m4-21h0m21 24h0m10-7h0m7-4h0m0-8h0m22-4h0m3 5h0m23 19h0m0 4h0m35-1h0m0-3h0m2 0h0m15-12h0m8 13h0m0-15h0m17-9h0m4 25h0m1-1h0m23-21h0m13 15h0m7-5h0m10 6h0m4 4h0m16-20h0m15 20h0m10-23h0m28 14h0m1-6h0m15 7h0m11-13h0m21 19h0m16-6h0m8 6h0m0-4h0m2 3h0m6-12h0m18 18h0m3-23h0m24-2h0m4 0h0m7 22h0m15 4h0m9-29h0m5 13h0m14-9h0m1-4h0m17 7h0m30 4h0m24-11h0m28 12h0m2 13h0m23-15h0m-791 40h0m58-13h0m3-6h0m3 9h0m41-10h0m29 1h0m12 11h0m33-3h0m5-6h0m10 3h0m41-6h0m20 20h0m16-16h0m22-2h0m30 17h0m3 8h0m0-15h0m4-5h0m13 21h0m1-25h0m2 10h0m14-7h0m20 20h0m10-5h0m4-21h0m7 22h0m0 1h0m10-3h0m1 5h0m27-22h0m1 23h0m6-26h0m5 20h0m3-20h0m3 19h0m13 9h0m4-4h0m3-21h0m19 18h0m1-16h0m10 2h0m9 19h0m4-25h0m33 18h0m50-8h0m4-2h0m27-5h0m7 3h0m12-1h0m18 2h0m15 10h0m11-15h0m40 3h0m98 8h0m43 0h0m22 1h0m-839 16h0m12 18h0m22-3h0m24-10h0m61 2h0m13 11h0m28-2h0m2-8h0m3 13h0m10-17h0m18 6h0m2-1h0m26-10h0m11 2h0m5 19h0m8 7h0m7-10h0m3-15h0m7 2h0m0 11h0m11 9h0m8-15h0m5 9h0m26 8h0m9-14h0m2 2h0m2 8h0m9 4h0m1-6h0m37-21h0m16 15h0m15 1h0m14-14h0m0 6h0m3-2h0m12 13h0m1 1h0m2 1h0m18 1h0m2 2h0m1-10h0m0 6h0m10 5h0m10-21h0m1 1h0m13 9h0m2-3h0m8-5h0m14-6h0m7 26h0m2-19h0m4 11h0m14-12h0m67-4h0m19 0h0m3 10h0m26 8h0m10-5h0m7-7h0m8-1h0m52 22h0m15-23h0m81 11h0m-944 18h0m50 4h0m20 1h0m21 9h0m58-13h0m21 6h0m5 6h0m27 1h0m52 8h0m74-12h0m1 7h0m3-21h0m30 21h0m4 2h0m9-18h0m5-6h0m19 13h0m20 6h0m1 5h0m0-24h0m2 20h0m10-4h0m0-16h0m5 9h0m23 5h0m1 13h0m2-1h0m2-1h0m29 1h0m21-2h0m0 3h0m1-1h0m1-21h0m13-5h0m2 12h0m16 10h0m5-12h0m3-5h0m3 18h0m29-9h0m21 6h0m7 6h0m8-17h0m6 8h0m1-17h0m33 17h0m10 9h0m28-6h0m1-11h0m7 10h0m37-4h0m11 2h0m21-16h0m9 9h0m7-2h0m15 18h0m12-4h0m5-11h0m37 11h0m28 5h0m-818 17h0m83-9h0m17 22h0m41-23h0m6 14h0m14 0h0m39 4h0m23 5h0m10-27h0m4 11h0m23-1h0m1 11h0m13-7h0m7 3h0m25-1h0m5 13h0m8 0h0m0-23h0m8 20h0m10-15h0m2 3h0m2 8h0m20-17h0m4 9h0m14 11h0m2 4h0m7-16h0m2 11h0m3-14h0m4 6h0m32-3h0m2 6h0m4 10h0m1-5h0m10 1h0m7-1h0m1 1h0m6-23h0m6 18h0m0-17h0m4 0h0m4 17h0m2-3h0m3-17h0m2 21h0m6-11h0m3-10h0m12 14h0m8 4h0m1-10h0m4 0h0m3 6h0m6 6h0m6-9h0m6-8h0m3 4h0m11 6h0m6-2h0m15 14h0m16-22h0m2 14h0m12-10h0m3 4h0m1-9h0m38 8h0m1 2h0m41 16h0m4-17h0m20 16h0m15-25h0m10 15h0m3 8h0m2-24h0m5 22h0m19-13h0m44 11h0m11-8h0m11-1h0m40-7h0m-750 39h0m26-2h0m14 12h0m21-21h0m29 12h0m8 2h0m15 0h0m7 6h0m60-13h0m19 0h0m4 17h0m4-5h0m2-1h0m24 1h0m1-14h0m10-6h0m18 5h0m5 6h0m24 11h0m17-18h0m10 5h0m0 6h0m6-10h0m31 2h0m4-5h0m9 23h0m4-6h0m11-4h0m13-6h0m4 15h0m13 2h0m7-27h0m9 3h0m3 10h0m0 12h0m39-22h0m1 13h0m9-2h0m15 8h0m14-18h0m25 22h0m4 1h0m12-4h0m0-24h0m4 4h0m1 15h0m8-8h0m5-9h0m65 8h0m3 13h0m16-1h0m29-9h0m29 14h0m41-13h0m-877 31h0m13-1h0m75-4h0m51-8h0m4 21h0m45-6h0m2-7h0m68-3h0m5 19h0m12-3h0m2 2h0m36-25h0m4 20h0m9 4h0m32 3h0m12-8h0m6-13h0m3 12h0m10 9h0m19-9h0m27 11h0m1-29h0m4 12h0m3 3h0m1 1h0m4 3h0m4 8h0m5-12h0m36 0h0m3-6h0m5-3h0m1 9h0m5-13h0m12 3h0m20 9h0m7 0h0m5 4h0m2 2h0m7-2h0m6 8h0m31-14h0m7 8h0m9-6h0m18-2h0m25-2h0m10-9h0m51 22h0m14-10h0m99 12h0m47-8h0m-910 15h0m105 27h0m8-5h0m3-2h0m4-12h0m27 16h0m10-14h0m35 14h0m21-17h0m8 15h0m2-1h0m2-10h0m24 12h0m5-1h0m46 4h0m17-23h0m21 18h0m4 1h0m8-13h0m7-11h0m0 10h0m2 0h0m1-6h0m16 11h0m24 2h0m42-13h0m11 4h0m13 6h0m61 6h0m12 5h0m5 0h0m3-15h0m9 15h0m42-20h0m19 15h0m19 3h0m11-7h0m10-6h0m48-5h0m18 13h0m20 5h0m108-16h0m-920 33h0m144 0h0m114-3h0m7-7h0m9 26h0m0-1h0m14-17h0m3 0h0m31 12h0m15 9h0m7-6h0m0-19h0m28 5h0m16-7h0m21 14h0m37 11h0m57-27h0m27 13h0m15-7h0m5 4h0m10 6h0m23-7h0m19 0h0m8-1h0m28-5h0m2 9h0m11 6h0m12-9h0m3-9h0m8 13h0m1 7h0m4 5h0m27-11h0m1-1h0m9-4h0m2 11h0m12-4h0m2-14h0m40 19h0m36-19h0m12 19h0m3-10h0m9 14h0m13-21h0m27-4h0m39 17h0m128 0h0m-983 26h0m4-10h0m29 5h0m20-7h0m9 3h0m12 14h0m91-12h0m63 13h0m16 9h0m14-26h0m11 8h0m29 6h0m14 1h0m31 2h0m31 10h0m32-27h0m1 26h0m25-8h0m9-16h0m7 14h0m67 11h0m18-13h0m22 13h0m19-25h0m34 16h0m8-9h0m29 13h0m57-11h0m26-5h0m59 8h0m121-16h0m-812 55h0m25-10h0m70 13h0m67-7h0m7 7h0m31-17h0m7 9h0m57-12h0m24 10h0m14-15h0m7 0h0m39 9h0m13-7h0m21 9h0m14-11h0m1 23h0m35-10h0m25-13h0m1 25h0m8-2h0m35-23h0m17 22h0m85 0h0m3-21h0m-530 28h0m13-1h0m28 1h0m43 23h0m52-5h0m52-16h0m8 25h0m13-13h0m11 5h0m40-5h0m18-2h0m21-3h0m2-8h0m4 6h0m18 1h0m24 2h0m36 10h0m33-15h0m35 4h0m11 10h0m61-21h0m45 3h0m24 8h0m17 5h0m5-8h0m7 11h0m16 10h0m-798 3h0m141 20h0m16 5h0m75-9h0m4-16h0m95 22h0m68-21h0m25-3h0m12 18h0m1 5h0m8 5h0m15 1h0m17-19h0m7-7h0m6 4h0m14 17h0m7-7h0m15-14h0m79 6h0m8-9h0m21 10h0m75-5h0m273 9h0m-932 21h0m80 9h0m152 2h0m31-3h0m40 2h0m11-15h0m27 3h0m18-1h0m8 1h0m18 21h0m18 4h0m46-4h0m94-15h0m21 14h0m210-12h0m36 7h0m86 9h0m-799 13h0m135-2h0m6 3h0m183 16h0m2-11h0m36 0h0m85-16h0m12 0h0m8 8h0m80-4h0m7 2h0m229-5h0m-746 35h0m66 1h0m66 5h0m68 6h0m2 3h0m15-6h0m45-3h0m58 14h0m15-19h0m8 14h0m9 8h0m26-16h0m113 0h0m-683 26h0m351 11h0m177-10h0m58-2h0"/>
<path d="M1444 989h0m-37 2h0m137 75h0m-312 14h0m106 7h0m73 18h0m-119 29h0m32-12h0m17 9h0m34-3h0m131-18h0m28 22h0m-235 34h0m29-6h0m124-5h0m1-6h0m2-4h0m-368 47h0m47 4h0m104 1h0m94-11h0m44-3h0m20-8h0m3-4h0m61 27h0m35-6h0m0 2h0m-308 24h0m59 5h0m1 5h0m43-4h0m30-9h0m85-11h0m15 22h0m28-7h0m7-10h0m67 6h0m165 3h0m-641 39h0m118-12h0m38 9h0m95-11h0m3 4h0m12 9h0m9-3h0m69-19h0m93 7h0m9-10h0m26 14h0m11-3h0m31 0h0m-422 43h0m71 2h0m0-7h0m17-18h0m2 14h0m33-16h0m4 7h0m13 12h0m36-3h0m23 2h0m3-1h0m15 5h0m79-15h0m117-3h0m12 16h0m23 0h0m13-8h0m21 3h0m-603 28h0m117-6h0m30 13h0m10 7h0m33-5h0m22-5h0m67-15h0m71 1h0m42 3h0m12-5h0m26 23h0m20-10h0m19 11h0m47-5h0m149-11h0m63 7h0m-745 37h0m44 0h0m20-21h0m21 18h0m4-3h0m100 3h0m79-18h0m31 13h0m23-1h0m3 8h0m8-7h0m26 10h0m20-3h0m13-8h0m11-5h0m3 6h0m1 6h0m9-5h0m8 12h0m13-7h0m48 8h0m23-1h0m19-8h0m19 2h0m10 3h0m4-7h0m12 8h0m1-18h0m48 18h0m54 1h0m16-22h0m-575 32h0m16 20h0m20-11h0m21-14h0m87 7h0m13 3h0m24 5h0m28 12h0m15-8h0m3 1h0m9-12h0m14 7h0m1-12h0m4 22h0m11-3h0m7-1h0m20-21h0m8 3h0m23 15h0m3 2h0m69-9h0m6 9h0m2-19h0m1 5h0m20 13h0m1-12h0m25 5h0m29 12h0m19-22h0m13 20h0m47 1h0m-602 21h0m43 10h0m31-6h0m57 8h0m29-14h0m2-8h0m22 18h0m38-2h0m14 7h0m4-27h0m32 25h0m11-8h0m15-16h0m28 19h0m15-4h0m18 3h0m9 2h0m38-3h0m35-9h0m44-2h0m21 14h0m9 2h0m3-17h0m5 3h0m43-4h0m3 4h0m31-2h0m33 20h0m6-7h0m-668 8h0m26 3h0m53 23h0m15-26h0m32 25h0m5-7h0m12-3h0m6 6h0m35-21h0m0 25h0m13-21h0m27 13h0m8 12h0m5-27h0m8 10h0m35-6h0m14 18h0m2-16h0m3 3h0m2 14h0m16-1h0m13-1h0m30-5h0m16 5h0m2 2h0m13-15h0m1 11h0m19-9h0m25 6h0m5-12h0m1 20h0m0-12h0m3 15h0m0-22h0m9-3h0m5 8h0m17-1h0m10 16h0m82-18h0m69 4h0m34 4h0m32-7h0m-725 42h0m126-14h0m24 16h0m18-18h0m21-1h0m4 8h0m21-6h0m0 17h0m36-14h0m19-7h0m1 22h0m23-14h0m26 9h0m15-13h0m3 4h0m4 3h0m3-3h0m24-9h0m16 20h0m1-21h0m17 6h0m4 0h0m5 21h0m9-8h0m20-8h0m2-1h0m38 9h0m24-3h0m26-11h0m1 2h0m10-5h0m51 0h0m11 9h0m49-5h0m-583 40h0m40-5h0m3 15h0m3-22h0m37-5h0m5 17h0m46-1h0m1 5h0m21 8h0m28-13h0m1 6h0m2-11h0m7 9h0m1 0h0m2-17h0m33 12h0m10-14h0m7 4h0m5 24h0m25-22h0m7 7h0m3 9h0m20-22h0m26 22h0m37 5h0m5-9h0m2-6h0m30 14h0m11-24h0m5-3h0m10 6h0m7 18h0m24-6h0m43-4h0m6-8h0m10 5h0m38-9h0m46 16h0m26 10h0m4-8h0m21-7h0m-788 33h0m63-14h0m39 4h0m72 14h0m6-17h0m56 26h0m1-18h0m13 14h0m8-4h0m3-11h0m27 0h0m13 9h0m23-15h0m3 18h0m0-6h0m0-15h0m11 7h0m3 10h0m19-3h0m27-4h0m26-7h0m6 12h0m2 2h0m4-3h0m7 10h0m5-25h0m16 13h0m5-1h0m10 8h0m2-7h0m17-1h0m12-5h0m12 1h0m3 9h0m68-13h0m14 3h0m11-4h0m4 16h0m54 3h0m7-10h0m24 7h0m21-13h0m93 5h0m2 15h0m-839 23h0m30 8h0m63-19h0m49-1h0m31 17h0m3-12h0m43 7h0m27 1h0m13-16h0m18 2h0m2 9h0m7 6h0m4-15h0m5-1h0m15 9h0m10-2h0m9-5h0m9-3h0m13 21h0m7-5h0m27-18h0m2 15h0m4-6h0m3-4h0m6-5h0m9 0h0m18 18h0m23-12h0m28 18h0m5-13h0m10-5h0m6-8h0m4 5h0m4 6h0m9 9h0m15 7h0m7 2h0m0-6h0m5-11h0m7 4h0m3-10h0m11 15h0m3-17h0m10 1h0m3-5h0m4 22h0m10-13h0m12 20h0m25-12h0m49-8h0m11-8h0m13 27h0m33-26h0m17 24h0m95-1h0m7-10h0m-835 32h0m19-3h0m45-12h0m19 24h0m34-15h0m18-7h0m42 0h0m66 24h0m26-28h0m9 29h0m0-21h0m26-3h0m4 17h0m10-4h0m7 5h0m7-20h0m2-3h0m12 20h0m1 5h0m15-10h0m5 14h0m3-22h0m17-2h0m6 10h0m6-8h0m5-6h0m18 13h0m0-6h0m8 2h0m2-8h0m7 26h0m7-15h0m1 7h0m4 5h0m7 4h0m3-29h0m10 4h0m1 0h0m7 18h0m8-5h0m1 6h0m2-19h0m9 20h0m2-7h0m2 8h0m9-19h0m13 17h0m1-14h0m12 1h0m7-3h0m9 13h0m10-20h0m14 5h0m9 15h0m32 9h0m54-26h0m61 13h0m18 7h0m11-15h0m22-1h0m32 22h0m31-4h0m-895 34h0m75-7h0m21-4h0m0 11h0m86-15h0m6-4h0m50 8h0m2 3h0m32-19h0m20 25h0m7-9h0m8 4h0m9-11h0m4-8h0m24 23h0m14-11h0m11-13h0m3 24h0m6-18h0m6 1h0m6 10h0m11 8h0m3-24h0m19 10h0m2-6h0m1 19h0m3 1h0m1-4h0m10-5h0m28-8h0m2 11h0m10-17h0m20 16h0m16-7h0m17-4h0m6 11h0m4 0h0m10-16h0m16 2h0m4 20h0m14-12h0m10 5h0m15-17h0m41 11h0m1-8h0m36 7h0m22-11h0m3 7h0m8 12h0m2 0h0m3 2h0m58 6h0m34-4h0m6-14h0m23 9h0m4-18h0m0 6h0m47-2h0m-827 36h0m16-2h0m41-9h0m72 10h0m28 12h0m2 4h0m18-1h0m11-1h0m44-20h0m5 21h0m0 4h0m23-8h0m17-11h0m31-3h0m4 10h0m19-14h0m11 19h0m12-19h0m7 1h0m8 11h0m4-9h0m1 7h0m4 1h0m17 11h0m2-11h0m1 3h0m2 11h0m3 1h0m9-13h0m25 1h0m1-3h0m18 1h0m31 5h0m2-7h0m12 3h0m11-16h0m2 27h0m10-15h0m1 0h0m13 14h0m14-4h0m19-18h0m13 0h0m8-1h0m5 26h0m3-29h0m4 13h0m4-9h0m14 8h0m9 11h0m34-19h0m17-2h0m14 6h0m84 7h0m24-8h0m39 12h0m1-8h0m22 11h0m-917 23h0m26 6h0m51 3h0m40-3h0m4-9h0m0 16h0m25-17h0m27 17h0m3-2h0m37-19h0m33 18h0m8 3h0m23 0h0m4-21h0m4 13h0m5-17h0m2 9h0m3-4h0m6 0h0m4 8h0m4 4h0m2-12h0m15-1h0m0-4h0m4 17h0m9-3h0m2-11h0m2 20h0m5-19h0m28-4h0m8 11h0m15-9h0m2 1h0m3 10h0m1 0h0m7-13h0m0 15h0m6-9h0m2 18h0m5 0h0m1-10h0m2 4h0m7-6h0m22 13h0m10-20h0m1 16h0m16-22h0m16 6h0m5-8h0m8 6h0m40 18h0m2-14h0m5 13h0m23-4h0m12-15h0m26 4h0m8 19h0m9-11h0m16-12h0m12 17h0m11 3h0m9 4h0m13-22h0m10 17h0m10 4h0m41-24h0m23 24h0m34-4h0m19-19h0m21-2h0m74 0h0m-924 51h0m2 5h0m15-23h0m43 22h0m23-20h0m1-4h0m65 8h0m32 15h0m33-25h0m64 9h0m2-2h0m3-7h0m34 9h0m7 3h0m6 11h0m4 0h0m10-7h0m9 12h0m22-6h0m6-2h0m40-10h0m19-11h0m22 11h0m3-9h0m5 21h0m5-14h0m2 7h0m6 9h0m2-6h0m1-15h0m12 19h0m7-23h0m6 12h0m3 2h0m1 7h0m5 4h0m12-22h0m3 17h0m1-7h0m6-7h0m1 8h0m36-8h0m23 16h0m6-6h0m2 9h0m0-5h0m9-12h0m3-5h0m6 3h0m30 6h0m31 6h0m43-12h0m18-2h0m3 1h0m28 11h0m13 4h0m26-3h0m10 10h0m46-13h0m-723 22h0m60 5h0m4-8h0m43 6h0m6-9h0m6 11h0m2-10h0m9-1h0m1 1h0m39 2h0m3 17h0m30-4h0m6-16h0m27 26h0m15-22h0m10 11h0m2 2h0m22-4h0m6-13h0m11 24h0m16 1h0m4-17h0m9-7h0m4 12h0m25-2h0m34-10h0m11 25h0m20-13h0m9 7h0m44-5h0m4-6h0m47 3h0m21-5h0m0 19h0m24-23h0m28 25h0m4-6h0m28-19h0m78 19h0m23 5h0m26 1h0m3-10h0m-961 16h0m55 9h0m72 3h0m29 11h0m8 1h0m6-14h0m35 13h0m30-26h0m34 6h0m15 11h0m13 5h0m7-13h0m20-3h0m6 21h0m22-24h0m7 20h0m14-9h0m7 13h0m2-21h0m5 10h0m5-16h0m6 7h0m2 1h0m3 11h0m6-12h0m21-1h0m16 7h0m7 1h0m45 6h0m6-5h0m3 8h0m4-22h0m14 19h0m12-4h0m3 4h0m6-5h0m6-10h0m10 16h0m10 0h0m4-17h0m9 3h0m3 8h0m8-1h0m4-3h0m10 9h0m18-15h0m0 14h0m32-15h0m3 22h0m10-17h0m15-1h0m3 9h0m74-10h0m38 17h0m8 1h0m49-24h0m6 4h0m0-2h0m52 7h0m87-3h0m-900 32h0m1 17h0m18-24h0m107 13h0m74-8h0m38 2h0m19-5h0m21 8h0m29 2h0m2-3h0m11-3h0m1-8h0m10 16h0m6-5h0m10 14h0m4-24h0m2 10h0m11 1h0m29 8h0m10-2h0m0-11h0m25 13h0m7-10h0m18-4h0m20 18h0m0-12h0m1-13h0m2 15h0m3 4h0m4 3h0m2 0h0m27-22h0m2 14h0m1 3h0m16-3h0m3-11h0m3 23h0m10-7h0m39-15h0m5 12h0m9-1h0m236 10h0m16-19h0m-923 27h0m78 15h0m8-7h0m180 0h0m17 3h0m5 11h0m31-2h0m3-7h0m2 6h0m9-17h0m1 3h0m22 2h0m56 12h0m8 1h0m2-13h0m2-6h0m2 18h0m9 0h0m1-7h0m3 5h0m17-3h0m2-14h0m37 7h0m17 5h0m40-2h0m1-1h0m19 5h0m18 9h0m11 1h0m22-19h0m4-2h0m23 4h0m6 13h0m7-9h0m11 0h0m2 7h0m4 7h0m35-25h0m69 8h0m19-10h0m-754 56h0m89-10h0m68-15h0m42 21h0m88-6h0m3-1h0m18-7h0m0-3h0m3 1h0m12 18h0m48-2h0m24-14h0m4 0h0m6-6h0m7 14h0m14-16h0m4-1h0m2 11h0m21-7h0m8 6h0m3-9h0m24 22h0m32-18h0m19 18h0m25 0h0m78 5h0m39-18h0m11 13h0m90 5h0m8-27h0m-630 57h0m25-25h0m5 15h0m5 8h0m52-6h0m63-8h0m17 8h0m42-5h0m17-2h0m8-11h0m20 7h0m9 3h0m13 5h0m18-12h0m21 1h0m11 6h0m32-3h0m37 3h0m1 15h0m44-5h0m-620 15h0m136 16h0m29 3h0m48-9h0m44 0h0m13 6h0m35-15h0m74 13h0m10-19h0m6 2h0m3 6h0m39 18h0m24 0h0m4-7h0m22-9h0m31-11h0m3 11h0m30-12h0m9 16h0m47 9h0m85-16h0m-686 48h0m88-7h0m28-20h0m78 12h0m129-6h0m64 21h0m29 0h0m6-5h0m2-1h0m19 8h0m24-1h0m59-26h0m17 5h0m8 12h0m236-11h0m334 2h0m-1136 21h0m228 15h0m41 1h0m94-15h0m81 1h0m24 12h0m124 14h0m8-22h0m24 8h0m0 5h0m46-19h0m-520 30h0m160-1h0m113 14h0m106-11h0m0 7h0m63-5h0m4 22h0m9-24h0m151 20h0m258-22h0m-559 44h0m104 10h0m362-5h0m8-11h0m-693 23h0m458 14h0"/>
<path d="M1270 910h0m176 102h0m-93 28h0m26 25h0m-64 27h0m-20 29h0m7 18h0m81-18h0m118 7h0m-129 19h0m7 15h0m7-2h0m99-1h0m49-10h0m-144 27h0m22 23h0m68-7h0m5 6h0m-391 11h0m162 14h0m79-13h0m60 1h0m20 18h0m204-19h0m73 11h0m-413 24h0m46 10h0m35-3h0m60 3h0m8-14h0m97 16h0m12-1h0m-306 31h0m10-13h0m80-3h0m39-11h0m42 26h0m14-9h0m7-13h0m7 4h0m32-3h0m36 12h0m54 6h0m11-4h0m40 2h0m3 0h0m-442 33h0m14-9h0m2 9h0m52-4h0m22-2h0m16 6h0m18-13h0m63 2h0m3-5h0m5-5h0m18 26h0m37-9h0m1 0h0m3-12h0m5-1h0m19 21h0m90-5h0m44-6h0m5-16h0m17 4h0m13-1h0m78 19h0m-614 34h0m5-4h0m43-3h0m24-6h0m8-3h0m38-6h0m120 11h0m1 12h0m23-5h0m84-6h0m9 6h0m2-4h0m1 6h0m38-16h0m20-1h0m8-8h0m8 21h0m14-21h0m21 0h0m53 0h0m12 16h0m18 12h0m5-22h0m49 3h0m45-5h0m-650 54h0m76-25h0m12 11h0m46 11h0m4-6h0m1-12h0m12 8h0m12-5h0m15 10h0m3-18h0m8 4h0m20 18h0m14-19h0m26 21h0m12-20h0m6 5h0m20 2h0m29 2h0m2 9h0m15 3h0m11-11h0m1-7h0m27 2h0m24 13h0m0-23h0m3 16h0m15 7h0m29-15h0m23 4h0m19-6h0m9 12h0m4-4h0m38 4h0m-540 31h0m26-16h0m11 23h0m44-14h0m71-10h0m91 5h0m4 9h0m42-12h0m7 12h0m9 1h0m25 0h0m14 7h0m4-14h0m21 9h0m50 6h0m42-25h0m36 10h0m70-8h0m17 4h0m36 9h0m28 2h0m2-11h0m33 21h0m-747 15h0m10-8h0m58 8h0m6-2h0m92-6h0m42 21h0m30-17h0m12 5h0m34 15h0m7-7h0m20 5h0m8-16h0m2 18h0m9 0h0m2-6h0m7 4h0m12-19h0m6 15h0m5-11h0m23 4h0m38 6h0m6-16h0m15 1h0m20 12h0m15-12h0m17 22h0m11-11h0m38-9h0m155 20h0m32-2h0m-644 29h0m11-8h0m4 4h0m52-2h0m5-9h0m0 0h0m13 14h0m28-21h0m38 15h0m16-6h0m12 9h0m9-19h0m9 18h0m6 8h0m2-16h0m2 4h0m14-2h0m17 8h0m5-18h0m1 20h0m24-18h0m35 15h0m7 4h0m11-12h0m7 2h0m14 3h0m45 1h0m10 3h0m4-8h0m11-15h0m19 24h0m23-10h0m13 11h0m1-7h0m1 8h0m11-9h0m5 6h0m3-14h0m17 0h0m11 11h0m3 8h0m7-11h0m7 9h0m17 1h0m27-8h0m6-12h0m8 5h0m27 8h0m12-4h0m39 2h0m14 0h0m30 7h0m2-5h0m-717 28h0m9-10h0m8 11h0m30-7h0m14 14h0m3 0h0m15-8h0m9 2h0m34-17h0m22-1h0m8 16h0m4-6h0m36 16h0m1-5h0m5-9h0m11 1h0m17 3h0m31-9h0m5 7h0m10-9h0m19 16h0m29-16h0m19 11h0m4-15h0m2 9h0m8 15h0m20-10h0m7 7h0m12-18h0m6-5h0m9 13h0m9 0h0m30-9h0m16 13h0m13-1h0m9 8h0m21-10h0m29 5h0m33-14h0m96 12h0m42-9h0m-782 44h0m37 0h0m94 6h0m6 0h0m40-3h0m16-9h0m15 11h0m14-2h0m10-11h0m18 4h0m5-16h0m24 7h0m26 8h0m1 10h0m15-28h0m0 27h0m0-27h0m22 27h0m8-12h0m6 14h0m3-9h0m23-16h0m14 12h0m25-11h0m3-3h0m14 9h0m31 17h0m1-8h0m13 4h0m6-1h0m0-15h0m12 7h0m0-8h0m13-1h0m3 16h0m4 3h0m27-17h0m3-2h0m20-2h0m15 13h0m10-2h0m19 14h0m4-9h0m8-1h0m34 9h0m22-26h0m4 16h0m7-7h0m24 7h0m-728 16h0m167-1h0m15-3h0m21 25h0m11 0h0m11-15h0m3 10h0m23-7h0m12-4h0m16-9h0m5 4h0m29 0h0m4 15h0m4-7h0m6-2h0m11 3h0m27 16h0m1-18h0m12-7h0m4-2h0m1 9h0m5 2h0m2-11h0m5 16h0m6-16h0m7 17h0m15-12h0m15 19h0m5-6h0m0-6h0m8 0h0m19 12h0m14-6h0m0-14h0m5 20h0m27-19h0m0 8h0m1 2h0m1-9h0m12 5h0m1 10h0m8-13h0m5-5h0m17 0h0m9 19h0m2-22h0m18 7h0m5 4h0m6-10h0m4 6h0m13 20h0m4-28h0m61 12h0m23-7h0m2 7h0m9 13h0m25 3h0m5-21h0m26 11h0m66 7h0m14-16h0m-934 25h0m52 19h0m98 0h0m4-10h0m16 5h0m22-13h0m23 4h0m19-7h0m8 11h0m7 2h0m4-12h0m5 0h0m42 9h0m14 4h0m2 5h0m31-17h0m0 16h0m11-17h0m6-3h0m9 21h0m2-6h0m12-8h0m2 9h0m24 12h0m8-22h0m12 18h0m56-8h0m13-7h0m6 0h0m5-4h0m4 11h0m16-14h0m20 11h0m15 5h0m0-13h0m9-5h0m5 22h0m10-22h0m14-1h0m14 18h0m38-14h0m22 9h0m6 9h0m23 0h0m1-3h0m1 0h0m7 10h0m7-2h0m7-11h0m30 12h0m0-27h0m100 12h0m32 10h0m29 3h0m-933 18h0m89 4h0m5-2h0m69-5h0m8 8h0m15-19h0m3 25h0m23-1h0m25-15h0m14 8h0m1 1h0m1-18h0m45 28h0m0-13h0m13-9h0m15 21h0m3-16h0m4-7h0m3 2h0m51-2h0m4 8h0m23 11h0m1-10h0m3 0h0m9 8h0m1 7h0m4-28h0m33 15h0m6-6h0m18 0h0m5 20h0m3-27h0m2 8h0m1 16h0m25-20h0m4-3h0m39 15h0m4 10h0m17-26h0m16-1h0m0 3h0m8 16h0m5-8h0m4 12h0m18-7h0m2-1h0m4 8h0m0-5h0m20-3h0m28-2h0m54 8h0m25 2h0m1-17h0m23 10h0m62-9h0m89-8h0m-945 44h0m174 12h0m6-2h0m1 5h0m17-27h0m6 9h0m1 2h0m11 3h0m29 6h0m14-9h0m23 14h0m30-26h0m3 19h0m17-5h0m0 10h0m6-9h0m2 6h0m22-20h0m4 16h0m16-8h0m12-8h0m8 23h0m3-22h0m0 2h0m5 2h0m14 2h0m11 11h0m3-6h0m18-9h0m21 3h0m37 21h0m5-28h0m8-1h0m14 9h0m24 4h0m0-7h0m15 1h0m11 17h0m11-20h0m3 17h0m0 7h0m3-10h0m23-9h0m3 1h0m2 15h0m1-23h0m6 19h0m21 2h0m37-22h0m1 3h0m11-3h0m57 20h0m78-15h0m33-4h0m-785 50h0m72-22h0m24 6h0m20 1h0m12 21h0m21-27h0m30 9h0m0 13h0m5-1h0m16-22h0m3 18h0m2-18h0m8 21h0m23-1h0m9-7h0m2 3h0m8-8h0m2-3h0m3 7h0m10-3h0m26 16h0m0-19h0m11 2h0m6 6h0m3-5h0m2 0h0m13 12h0m12-14h0m7-1h0m3 6h0m9 4h0m0 1h0m3-4h0m4-10h0m6 24h0m3-2h0m4 0h0m8-10h0m0-2h0m5-3h0m7-4h0m2 1h0m9 20h0m4-18h0m9-1h0m17 17h0m12-19h0m16 17h0m1-15h0m1-8h0m6 18h0m2-17h0m5 23h0m1-13h0m4 10h0m7-21h0m15 22h0m15 5h0m11-25h0m11 22h0m13-21h0m2 25h0m16-25h0m1 4h0m1 19h0m19-18h0m28-4h0m0-2h0m35 27h0m3-28h0m1 26h0m32-19h0m69-2h0m1 14h0m65-11h0m24 12h0m-957 24h0m156 2h0m23-7h0m15 16h0m6 3h0m70-10h0m17-13h0m61 20h0m18-21h0m13-2h0m4 14h0m24 5h0m10-19h0m6 25h0m2-6h0m0-5h0m8 4h0m6-1h0m38 0h0m1-5h0m6 0h0m3-9h0m1 2h0m15 13h0m8 1h0m13-4h0m4-15h0m33-1h0m21 15h0m1 3h0m22-19h0m0 15h0m19 10h0m4-12h0m7-9h0m9 10h0m29 10h0m7-14h0m0-5h0m10-2h0m13 10h0m16 4h0m14 4h0m75 2h0m87-12h0m-932 22h0m63 23h0m86 0h0m21-13h0m3 15h0m47-8h0m0-8h0m3 0h0m79-10h0m0 16h0m8-1h0m18-7h0m10 15h0m7-16h0m35-4h0m24 12h0m11-8h0m12 14h0m1-14h0m1 8h0m16-13h0m5 2h0m6-6h0m24 7h0m2 1h0m4-1h0m0 17h0m12 4h0m3-25h0m3-2h0m5 14h0m1 11h0m3-8h0m0-12h0m1 0h0m4-5h0m1 26h0m0-1h0m4-2h0m14-2h0m15-17h0m14 3h0m6 7h0m1 12h0m6-14h0m3 15h0m7-22h0m1 7h0m37-14h0m20 22h0m15-22h0m12 13h0m19-9h0m16 8h0m28 12h0m24-20h0m0 0h0m17 16h0m1-16h0m67 2h0m39 10h0m38-2h0m29 8h0m69-3h0m-939 29h0m44 7h0m36-15h0m33-4h0m7 21h0m18-3h0m12-19h0m6 24h0m27-9h0m30-16h0m26 24h0m8-4h0m33-19h0m35 21h0m14-19h0m12-5h0m1 18h0m11-4h0m1-9h0m5 20h0m18-6h0m27 3h0m13-22h0m7 23h0m11-4h0m1-6h0m9 4h0m7 10h0m5-14h0m20 10h0m35 1h0m13-25h0m4 12h0m9 2h0m18-1h0m10-1h0m9-9h0m13 23h0m5-6h0m10-5h0m9-6h0m66-4h0m5-4h0m10 10h0m25-10h0m131 19h0m58-18h0m6 9h0m22-7h0m-933 26h0m28 28h0m5 0h0m25-26h0m28 26h0m3-22h0m62 5h0m31 3h0m27 9h0m1 2h0m31-19h0m48 11h0m5 4h0m7-8h0m4-10h0m14-4h0m4 23h0m71-2h0m11-9h0m0-8h0m1 18h0m9-18h0m3 8h0m17-7h0m1 5h0m4-4h0m2 6h0m9 11h0m10-22h0m60 16h0m6-5h0m3 6h0m18 2h0m6-16h0m9 4h0m26-4h0m4 14h0m2 8h0m4 3h0m4-13h0m18-13h0m3 14h0m0-12h0m8 23h0m4-11h0m20-5h0m13 0h0m2-9h0m21 12h0m91-9h0m1 19h0m22-11h0m63-8h0m67 20h0m-861 32h0m17-16h0m45 16h0m19-27h0m12 14h0m41-1h0m11 5h0m8-6h0m0-1h0m16 7h0m5 8h0m88-3h0m4-22h0m29 9h0m0-5h0m9 21h0m5-20h0m27-2h0m48 6h0m18-7h0m12 1h0m27 19h0m37 3h0m45-23h0m2-3h0m1 2h0m2-3h0m27 20h0m24-7h0m35 4h0m10-2h0m24-10h0m52-1h0m10 9h0m24-3h0m3-6h0m10 6h0m-831 33h0m112-12h0m110 16h0m15-6h0m2 6h0m11-1h0m4-13h0m35 6h0m15-1h0m8 15h0m16-12h0m28 6h0m1 9h0m7-24h0m21 21h0m9-21h0m26 15h0m22 6h0m22-7h0m58-3h0m28-3h0m4 5h0m9-7h0m72 17h0m22-22h0m106 22h0m120-25h0m117 13h0m-822 45h0m74-13h0m13 4h0m15-11h0m14 18h0m23-24h0m11 26h0m4-17h0m30-7h0m67-4h0m19 25h0m15-19h0m7 23h0m30-22h0m27 22h0m4-19h0m3-2h0m1 21h0m25-19h0m7-4h0m12-1h0m69 8h0m14 16h0m89-16h0m-669 45h0m0-22h0m73-6h0m70 16h0m33 2h0m29-3h0m16 0h0m1-5h0m32-5h0m24 3h0m24 15h0m5 5h0m32-4h0m37-22h0m95 1h0m26 14h0m22-17h0m14 8h0m81-1h0m7 0h0m53 6h0m14-8h0m8 19h0m13-22h0m8 10h0m1-4h0m-944 23h0m18 4h0m108 1h0m179 11h0m98-8h0m1 6h0m98 1h0m34-12h0m19 1h0m86 19h0m16-13h0m0-9h0m13-1h0m82 4h0m71-3h0m28 5h0m16 4h0m-620 26h0m90 21h0m55-13h0m33-6h0m40 12h0m122-9h0m1-7h0m3 18h0m3-21h0m92 16h0m2-18h0m117 8h0m18-4h0m171 23h0m-859 7h0m167 11h0m81 9h0m27-11h0m113-10h0m12 1h0m56 6h0m71-5h0m91 7h0m-1065 39h0m372-5h0m17 10h0m85-6h0m221-7h0m92 4h0m99 2h0m203-14h0m-372 34h0m469 16h0"/>
<path d="M1353 1038h0m33-16h0m39 38h0m16 15h0m88-7h0m-247 13h0m72 9h0m31-4h0m57 17h0m-106 32h0m2-3h0m150-21h0m-341 48h0m193 2h0m178-10h0m100-5h0m3 16h0m6-8h0m-468 42h0m138-4h0m35-19h0m57 9h0m11-4h0m-233 47h0m144-21h0m10 21h0m103-19h0m5 13h0m57-15h0m18 4h0m1-3h0m7 13h0m-438 14h0m133-1h0m14 23h0m8-17h0m71-2h0m74 16h0m14-15h0m92 14h0m30-8h0m3 13h0m63-3h0m39-9h0m53 3h0m51 8h0m-669 6h0m64 9h0m1-5h0m93-4h0m36 4h0m11 5h0m10-2h0m62-4h0m2-3h0m23 19h0m13 7h0m14-15h0m62 3h0m11-6h0m44 14h0m37-8h0m70-11h0m49 11h0m16 11h0m-593 14h0m69-1h0m57 19h0m40-16h0m11-2h0m4 20h0m30-14h0m3-15h0m101 16h0m17 13h0m39-28h0m18 11h0m2 4h0m2-5h0m23-11h0m9 21h0m70-21h0m93 17h0m1-12h0m25 6h0m15-7h0m-532 47h0m19-2h0m21-13h0m14 10h0m30-1h0m48 6h0m14-18h0m22 16h0m103-8h0m18 11h0m5 0h0m10-10h0m29 13h0m40 0h0m29-13h0m23 15h0m34-25h0m8 26h0m66-4h0m-729 26h0m114 2h0m70 4h0m10-4h0m80 2h0m74-11h0m20-12h0m10 15h0m1 0h0m14-3h0m10-8h0m21 16h0m32-9h0m39 1h0m20 2h0m0-12h0m74-1h0m8 26h0m38-28h0m18 22h0m34-1h0m27 5h0m-581 31h0m44-19h0m17-8h0m50 11h0m21 10h0m5 1h0m41 3h0m6-23h0m7 12h0m46 2h0m9-10h0m33 4h0m13 19h0m9-4h0m14-7h0m3 7h0m0-18h0m1 18h0m11 3h0m12-11h0m24 10h0m44 1h0m3-26h0m2 27h0m21-12h0m0 3h0m6-6h0m1 11h0m1-25h0m93 11h0m-506 33h0m41 4h0m18 10h0m7-21h0m25-5h0m15 18h0m4-17h0m10 23h0m22 3h0m11-22h0m29 2h0m14 0h0m14-9h0m4 18h0m23-4h0m8-12h0m4 6h0m22 19h0m1 0h0m3-20h0m37 21h0m6-4h0m8-8h0m12-13h0m9 14h0m12 2h0m33 0h0m1-19h0m4 23h0m11 6h0m23-8h0m40-1h0m4-14h0m50-4h0m-611 41h0m34 2h0m45-9h0m69 1h0m10 10h0m34-17h0m6 18h0m12 4h0m26-6h0m30-15h0m10 17h0m9 4h0m2 7h0m16-8h0m2-21h0m4 15h0m3 14h0m3-17h0m5 12h0m0-21h0m14 21h0m1-7h0m12 0h0m3-13h0m38 8h0m8 14h0m3-10h0m23 9h0m2 2h0m16-11h0m1 12h0m29-21h0m25 0h0m1 21h0m15-3h0m3-21h0m28 23h0m3-23h0m2 14h0m42-17h0m75 25h0m92 2h0m-786 9h0m27 21h0m142-27h0m1 0h0m4 4h0m26 23h0m8-14h0m9 10h0m2 1h0m10 1h0m13 2h0m9-3h0m6-6h0m1-19h0m1 22h0m7-10h0m28 12h0m18-8h0m18-9h0m11 16h0m9-9h0m22-10h0m5 13h0m9 1h0m1-17h0m21 17h0m0-4h0m1 8h0m22-9h0m19-4h0m14 14h0m2-13h0m3-10h0m12 11h0m3-5h0m1 18h0m1-22h0m2 8h0m16-7h0m22 21h0m37 2h0m14-19h0m23 1h0m27-2h0m61 11h0m12-15h0m140 2h0m-880 50h0m8 5h0m1-18h0m3 18h0m60-23h0m14 9h0m3-6h0m1 1h0m24 13h0m7-3h0m6-14h0m0 3h0m6-4h0m117 20h0m21 1h0m5 2h0m8-9h0m5-14h0m8 14h0m13-2h0m7-12h0m3 14h0m11-2h0m2-9h0m13-3h0m8 4h0m6 2h0m4 14h0m31-16h0m1 5h0m9-5h0m9 7h0m31 11h0m25-16h0m27 2h0m21 16h0m16-14h0m14 1h0m15 7h0m1-7h0m8-13h0m9 4h0m18-2h0m24 16h0m8-3h0m1-18h0m50 1h0m15 5h0m9 17h0m-618 21h0m16 5h0m20-12h0m19-1h0m18 21h0m23 2h0m10-16h0m9 11h0m14 1h0m16-24h0m2 16h0m50 7h0m2-6h0m7-12h0m6 23h0m10-29h0m11 22h0m30-8h0m7-12h0m6 10h0m18 16h0m2-1h0m25-25h0m13-2h0m2 6h0m29 12h0m9 1h0m1-12h0m3 5h0m1-6h0m2-6h0m10 0h0m1 0h0m7 16h0m5-3h0m28-3h0m19 9h0m3-4h0m2 13h0m17-1h0m38-4h0m3 4h0m6-7h0m11-9h0m7-6h0m5 14h0m29-9h0m0-2h0m35 3h0m9 14h0m28-18h0m52 3h0m51 11h0m-791 20h0m40-7h0m25 8h0m67 13h0m27-3h0m4 6h0m40-15h0m2-4h0m1 11h0m20 2h0m14 3h0m22-6h0m11 0h0m9-12h0m9 17h0m8-22h0m7 10h0m2-11h0m7 5h0m10 17h0m7 1h0m13 2h0m7 3h0m2-16h0m9-13h0m4 27h0m10-26h0m4 21h0m3 6h0m3 1h0m12-24h0m14 6h0m39-1h0m1 17h0m7-2h0m9-24h0m2 2h0m19 0h0m1 22h0m4-14h0m8 6h0m8-10h0m17 18h0m23-1h0m23-5h0m5-9h0m3-10h0m10 12h0m15-6h0m0 23h0m1-8h0m28-4h0m10-14h0m33 13h0m36-15h0m20 2h0m51 5h0m14 21h0m-823 29h0m36-26h0m16 4h0m41 11h0m3-16h0m11 28h0m5-2h0m1-3h0m1-6h0m1 3h0m10-20h0m8 10h0m40-6h0m15 17h0m14 0h0m2 2h0m3-15h0m30 1h0m1 0h0m5 3h0m4 14h0m2-16h0m17-5h0m11 19h0m28-15h0m1 7h0m5 5h0m6-4h0m15-1h0m6 11h0m12-27h0m1 12h0m3 8h0m12-21h0m2 22h0m13-13h0m4 7h0m23 11h0m10-15h0m1-9h0m4 18h0m5 3h0m22-10h0m14-6h0m28-6h0m52 2h0m37 7h0m2 6h0m7-9h0m3-7h0m25 5h0m1 14h0m22 8h0m10-20h0m21 21h0m5-16h0m12 5h0m1-17h0m34 28h0m7-21h0m-747 48h0m53-22h0m2 10h0m64 11h0m10-11h0m7-5h0m65 18h0m22-23h0m13 21h0m5-12h0m7-6h0m6 8h0m12 2h0m6-9h0m4 14h0m3-1h0m5-16h0m5 24h0m4-21h0m26-4h0m0 12h0m1-13h0m24 5h0m2 6h0m6-9h0m18-2h0m9-2h0m1 3h0m5 14h0m1-14h0m7 11h0m2-13h0m5 10h0m2 1h0m7 14h0m2-18h0m7-7h0m6 1h0m2-1h0m0 20h0m7 1h0m4 4h0m12-24h0m2 1h0m1 17h0m1 2h0m2-20h0m4 19h0m7-22h0m10 7h0m6 19h0m6-4h0m10-5h0m1-1h0m11 5h0m1-12h0m4 5h0m17-13h0m16 20h0m8-5h0m13 8h0m8 4h0m17 1h0m3-27h0m19-2h0m1 22h0m18-8h0m23 5h0m14-4h0m2 6h0m10-20h0m4 21h0m13-4h0m4-13h0m3 8h0m28-5h0m65 18h0m-865 20h0m62 8h0m41-23h0m3 14h0m11-7h0m23-7h0m8 10h0m20 12h0m10-2h0m36-2h0m2-6h0m20-2h0m2 5h0m11-11h0m15 23h0m18-20h0m31-2h0m10 13h0m8-18h0m2 7h0m13 6h0m1-14h0m6 25h0m15-9h0m26 7h0m3-14h0m9-3h0m30 13h0m8-12h0m10 18h0m13 2h0m17-22h0m7 24h0m3-22h0m6 15h0m11-11h0m4 11h0m2-16h0m29 4h0m5 15h0m11-24h0m5 5h0m27 15h0m2 6h0m8-7h0m5 0h0m6-1h0m1-10h0m11-3h0m0 0h0m34 13h0m11 10h0m79-21h0m4-5h0m21 14h0m12-17h0m23 27h0m34-16h0m77-6h0m-889 44h0m20-2h0m96-1h0m18-11h0m6 3h0m8 2h0m2-10h0m9 23h0m62-9h0m19-2h0m3-2h0m13-6h0m14 24h0m13 0h0m36-14h0m5 1h0m3 9h0m11 2h0m4-8h0m10 1h0m2-17h0m22 13h0m1 1h0m1-7h0m11 5h0m15 14h0m1-11h0m6-3h0m11 10h0m0 1h0m1 3h0m14-19h0m0 17h0m15-19h0m17 20h0m52-3h0m22-14h0m82 4h0m39 6h0m12 7h0m23-22h0m4 15h0m44-1h0m41 0h0m45 0h0m-904 21h0m87 3h0m36 14h0m41-9h0m43 8h0m17-6h0m1-14h0m41-3h0m4 25h0m8-15h0m3-11h0m2 1h0m28 11h0m10 10h0m11-20h0m9 1h0m13 8h0m43-7h0m2-5h0m3 25h0m2-24h0m11 27h0m5-5h0m22-19h0m0 0h0m4-5h0m42 21h0m25-2h0m5-5h0m1 7h0m3-20h0m11 22h0m8-10h0m12-11h0m7 24h0m2-10h0m3-13h0m11 9h0m15 15h0m4-8h0m13-4h0m28-7h0m6 14h0m22-17h0m4 24h0m18-6h0m2-5h0m0-14h0m30 2h0m25 4h0m14-2h0m0 7h0m35 6h0m2-10h0m5 16h0m2-6h0m12 3h0m13-15h0m10 1h0m4 5h0m28 1h0m30 13h0m22-2h0m11-7h0m3-5h0m15 3h0m43 11h0m-979 2h0m109 24h0m61-2h0m95 1h0m13-13h0m27-1h0m4 9h0m13-9h0m15 13h0m8-7h0m8 1h0m27-17h0m10 28h0m4-6h0m9 1h0m2-4h0m26-7h0m20-9h0m6 17h0m0-1h0m8 4h0m5 1h0m2-4h0m6-19h0m5 27h0m3-17h0m1 9h0m52-12h0m31-3h0m14 4h0m20 9h0m10 7h0m25 0h0m23-11h0m1-7h0m1 4h0m16 0h0m3-5h0m0 0h0m34 11h0m4 11h0m9-11h0m16 3h0m47-5h0m42 3h0m93-3h0m-1036 43h0m133-12h0m70 1h0m25-16h0m18 2h0m11 26h0m7-26h0m17-3h0m44 15h0m14-3h0m12-7h0m6 18h0m4 3h0m4-20h0m2 9h0m11 2h0m17 6h0m57-12h0m6 15h0m2-14h0m12-4h0m14 19h0m9-24h0m70 9h0m4-9h0m6 23h0m18-18h0m0 11h0m5 9h0m36-11h0m13 8h0m2-21h0m2 15h0m11-17h0m43-1h0m62 9h0m9 13h0m4 4h0m18-27h0m5 22h0m22-17h0m3-1h0m6 9h0m7 13h0m8-22h0m30 13h0m58-7h0m47 13h0m-847 14h0m122 14h0m12 2h0m11 2h0m0-4h0m32-18h0m10 7h0m19 0h0m79 19h0m9-14h0m4-5h0m29-9h0m4 3h0m12 13h0m20 9h0m1-14h0m65-8h0m32 6h0m17-1h0m14 6h0m3-3h0m28 0h0m9-10h0m31 17h0m7 0h0m28-1h0m31-3h0m23-6h0m23-9h0m33 24h0m8-24h0m258 16h0m-949 40h0m34-23h0m136 18h0m1 8h0m35-26h0m20-2h0m37 14h0m0 3h0m32-6h0m7 9h0m4-7h0m27 6h0m1 2h0m11-12h0m33 7h0m2 8h0m19-18h0m8-2h0m5 11h0m16-12h0m3 7h0m14 5h0m0 10h0m12 3h0m3-14h0m34-2h0m9 4h0m61-9h0m26 13h0m15-5h0m3-14h0m4 0h0m10 21h0m41 0h0m15-10h0m55-7h0m135 23h0m-882 4h0m62 15h0m61-13h0m1 13h0m52-15h0m59 25h0m16-9h0m14 8h0m8 0h0m0-4h0m12-6h0m10 12h0m101-6h0m31 6h0m28-25h0m13 3h0m27 12h0m0-10h0m6 9h0m16 5h0m38 5h0m8-28h0m29 9h0m17-5h0m54 23h0m57-9h0m23 10h0m19-15h0m8 14h0m16-13h0m11 12h0m-668 28h0m4 4h0m70-5h0m18 4h0m6-13h0m20-13h0m7 3h0m62 9h0m10 8h0m8-18h0m85-2h0m113 8h0m6-4h0m2 19h0m2-14h0m5 0h0m112-10h0m22 8h0m-556 28h0m50-6h0m32 23h0m26-16h0m150 7h0m55-2h0m47 14h0m83-18h0m43 6h0m9 3h0m4-6h0m23 1h0m148-4h0m-647 40h0m53 0h0m97-2h0m4 4h0m60-3h0m85 10h0m7-20h0m33 0h0m10 4h0m17 13h0m0 5h0m209-13h0m150-16h0m-553 50h0m52-19h0m65 13h0m48-4h0m73-4h0m70 20h0m29-25h0m-218 53h0m58-23h0m106 1h0m296 10h0m-241 44h0m-1131 31h0m8-13h0"/>
</g>
<rect x="20.3" y="13.9" width="236.6" height="230.7" fill="none" stroke="#8e8e8e" stroke-width="1"/>
<path d="M40.0 245.1v1.6M79.4 245.1v1.6M118.9 245.1v1.6M158.3 245.1v1.6M197.7 245.1v1.6M237.2 245.1v1.6M19.8 222.9h-1.6M19.8 178.9h-1.6M19.8 134.9h-1.6M19.8 90.9h-1.6M19.8 46.9h-1.6" stroke="#707070" stroke-width=".75" fill="none"/>
<g font-family="'DejaVu Sans','Liberation Sans',sans-serif" font-size="4.65" fill="#2a2a2a" stroke="#2a2a2a" stroke-width=".08">
<text x="40.0" y="252.0" text-anchor="middle">0.0</text>
<text x="79.4" y="252.0" text-anchor="middle">0.2</text>
<text x="118.9" y="252.0" text-anchor="middle">0.4</text>
<text x="158.3" y="252.0" text-anchor="middle">0.6</text>
<text x="197.7" y="252.0" text-anchor="middle">0.8</text>
<text x="237.2" y="252.0" text-anchor="middle">1.0</text>
<text x="16.9" y="223.6" text-anchor="end">0.0</text>
<text x="16.9" y="179.6" text-anchor="end">0.2</text>
<text x="16.9" y="135.6" text-anchor="end">0.4</text>
<text x="16.9" y="91.6" text-anchor="end">0.6</text>
<text x="16.9" y="47.6" text-anchor="end">0.8</text>
</g>
<g font-family="'DejaVu Sans','Liberation Sans',sans-serif" font-size="7.6" fill="#000" stroke="#000" stroke-width=".1" text-anchor="middle">
<text x="138.3" y="10.5">Strategy 1</text>
<g font-size="7.4">
<text x="142.1" y="26.7"><tspan font-style="italic">n</tspan> Ach</text>
<text x="38.7" y="234.2"><tspan font-style="italic">n</tspan> Pow</text>
<text x="239.5" y="234.2"><tspan font-style="italic">n</tspan> Aff</text>
</g></g>
</g>
<g>
<path d="M324.1 222.9L422.8 32.4L521.6 222.9Z" fill="none" stroke="#d2d2d2" stroke-width=".75" stroke-dasharray=".9 .7"/>
<circle cx="324.1" cy="222.9" r="1.85" fill="#000"/>
<circle cx="521.6" cy="222.9" r="1.85" fill="#000"/>
<circle cx="422.8" cy="32.4" r="1.85" fill="#000"/>
<g transform="scale(.1)" fill="none" stroke="#1f77b4" stroke-width="12" stroke-linecap="round" stroke-opacity="0.41">
<path d="M4352 596h0m30 33h0m-16 21h0m16-18h0m11 26h0m-8 22h0m10-14h0m6 2h0m5 9h0m4 1h0m-29 29h0m2 2h0m1-1h0m1 2h0m33-5h0m12 14h0m-72 16h0m1-1h0m8-2h0m8-7h0m4 21h0m11 3h0m2-20h0m15 17h0m0-6h0m11 1h0m4-14h0m6 13h0m1-9h0m1-7h0m2 3h0m6 2h0m-104 31h0m50 2h0m24-3h0m6 8h0m3-15h0m10 4h0m2 19h0m2-22h0m5 5h0m8-6h0m-138 55h0m41-27h0m41 0h0m10 24h0m3-17h0m1 12h0m0-10h0m1 1h0m14 19h0m6-18h0m6 13h0m16 5h0m10-23h0m3 3h0m7 7h0m5-5h0m-96 29h0m20-8h0m35 14h0m0 2h0m9 1h0m15-16h0m1 8h0m1-8h0m4 9h0m1 1h0m0 2h0m4 12h0m2-15h0m9 15h0m4-26h0m4 4h0m1 24h0m0-20h0m2 15h0m1 0h0m-119 31h0m23-25h0m12 9h0m11-5h0m0 22h0m30-6h0m2-11h0m6 4h0m17-1h0m5 14h0m9 3h0m3-19h0m5-7h0m7 12h0m4 6h0m-83 12h0m32 0h0m6 15h0m7 4h0m12-1h0m0-11h0m1 1h0m2 3h0m2 6h0m0-17h0m6 17h0m1 2h0m5-21h0m1 10h0m0 5h0m4 7h0m5 2h0m10-7h0m2-4h0m1 0h0m6 15h0m-143 18h0m23-11h0m12 5h0m41 18h0m1-2h0m4-3h0m7-3h0m5-12h0m1 5h0m0-3h0m7 2h0m4 3h0m7 10h0m3-7h0m0-19h0m20 9h0m1 14h0m12 6h0m0-14h0m7 7h0m3-2h0m-213 29h0m93 2h0m1 2h0m3-16h0m5-6h0m8 24h0m5-8h0m1 5h0m16-11h0m30 8h0m0-3h0m3-14h0m0 19h0m2-3h0m7-11h0m7 19h0m11-21h0m2 11h0m11 8h0m4-14h0m-251 20h0m10 29h0m131-26h0m22 1h0m6 12h0m13-1h0m13 10h0m1-6h0m4 2h0m23 5h0m2 3h0m0-12h0m5-12h0m4 12h0m2 2h0m1 6h0m2-25h0m29 9h0m1 14h0m2 0h0m3 5h0m7-3h0m-241 7h0m45 15h0m1 2h0m59-18h0m8 23h0m14-10h0m13 4h0m4 6h0m7-5h0m2-14h0m5 17h0m8-20h0m2-2h0m3 14h0m8 3h0m2-10h0m8 9h0m2-14h0m7 0h0m1-1h0m2 28h0m2-27h0m1 8h0m7 19h0m3-1h0m3-1h0m4-1h0m11 3h0m1-22h0m1 2h0m2-6h0m6 5h0m8 7h0m3-11h0m1 7h0m1 14h0m7-3h0m-277 36h0m52-20h0m37 11h0m9 0h0m11-4h0m6-1h0m9-10h0m9 25h0m6-13h0m9-2h0m10-4h0m47 4h0m28 10h0m12-16h0m0 0h0m6 21h0m5-4h0m2-15h0m4 8h0m3-1h0m0 0h0m6-14h0m12 18h0m1 8h0m1-7h0m-339 13h0m20 1h0m45 23h0m78-12h0m9-16h0m46 5h0m1-3h0m0 6h0m2 6h0m12 2h0m19 1h0m1-16h0m2 22h0m35-9h0m1-4h0m9 10h0m5-17h0m3 24h0m1-5h0m6-20h0m14 8h0m3-4h0m3 8h0m0-14h0m1 28h0m1-18h0m1 9h0m12 9h0m1-8h0m1-13h0m1 1h0m1 11h0m1-1h0m3-18h0m0 20h0m9-15h0m6 9h0m1 7h0m2 1h0m0 3h0m7 2h0m-305 12h0m10-10h0m58 7h0m56 1h0m9-5h0m7-3h0m18 12h0m15-1h0m6-5h0m2 23h0m0-18h0m9-9h0m3 15h0m14-11h0m0 3h0m4 13h0m19 4h0m3-20h0m7 9h0m1 12h0m0-22h0m1 4h0m1 11h0m0 2h0m0-18h0m13 5h0m2 13h0m1 1h0m2-10h0m4-7h0m7 13h0m13-5h0m2 12h0m0-23h0m8 9h0m2 9h0m1 8h0m8-2h0m1-18h0m0 17h0m0 1h0m0-10h0m4 11h0m4-8h0m0 9h0m1-8h0m2 7h0m-267 21h0m53-4h0m4 7h0m5-17h0m14 4h0m0-4h0m17 8h0m12 1h0m4 12h0m9-17h0m13 5h0m19 4h0m0-14h0m20-4h0m6 6h0m1 1h0m14-4h0m6 6h0m1 13h0m0-18h0m12 1h0m10-3h0m12 3h0m3 3h0m3 11h0m7-19h0m0 23h0m7-17h0m0 2h0m9-7h0m1 14h0m3 12h0m9-18h0m2-4h0m1 10h0m2 7h0m-284 13h0m4-5h0m40 25h0m13-7h0m23-3h0m38-5h0m16 5h0m0-2h0m9-1h0m5-3h0m6 10h0m1 7h0m4-6h0m14-7h0m6-11h0m2 25h0m4-16h0m4 16h0m1-12h0m9 11h0m0-1h0m13-12h0m3-12h0m0 5h0m0 12h0m6-16h0m0 12h0m4-11h0m2 1h0m4 20h0m18-24h0m1 19h0m2-5h0m2-11h0m1 17h0m3-10h0m12-2h0m5-8h0m3 19h0m1 9h0m1-5h0m3 0h0m1-20h0m0 26h0m7-17h0m0-1h0m4 14h0m1-19h0m2 6h0m2 3h0m-382 29h0m21-5h0m56 10h0m2-4h0m91-6h0m16-6h0m6 5h0m19 4h0m3-10h0m10 25h0m1-26h0m31 4h0m1 8h0m32 11h0m4-14h0m2-8h0m20 0h0m1-1h0m8 19h0m1-3h0m8 8h0m3-19h0m0 5h0m0 8h0m8-5h0m1-9h0m1-5h0m1 13h0m1 10h0m1 6h0m2-21h0m1 10h0m8-4h0m4 9h0m5-16h0m0 22h0m1-12h0m15-8h0m4 9h0m1 5h0m3-8h0m0 14h0m0-10h0m1-12h0m1 14h0m4-7h0m-318 32h0m59 0h0m3-12h0m30 24h0m15-14h0m2-8h0m9 3h0m5-7h0m12 9h0m17-1h0m4-1h0m29 1h0m22 9h0m8-13h0m22 23h0m4-21h0m3 14h0m3-9h0m8 14h0m3-23h0m2 19h0m12-14h0m1 6h0m0-3h0m2 1h0m8-10h0m3-3h0m3 7h0m1 7h0m1-3h0m2 1h0m3 17h0m6-14h0m2-10h0m1-1h0m8 1h0m9 22h0m8 2h0m8-3h0m0-2h0m-353 34h0m1-27h0m66 18h0m40 0h0m1-16h0m60 14h0m45 12h0m3-20h0m3 16h0m6-11h0m1 8h0m0 1h0m8-23h0m2 2h0m1 7h0m6 10h0m20 9h0m8-17h0m2 7h0m3-17h0m11 4h0m9 13h0m6 6h0m15-15h0m4 8h0m4-13h0m7 25h0m0-9h0m4 2h0m2-14h0m2-6h0m14 0h0m-401 52h0m42-18h0m122 16h0m15-3h0m41 8h0m11-7h0m13-3h0m4-2h0m2 3h0m10-6h0m3 7h0m14 7h0m4 0h0m15-23h0m2-2h0m7 24h0m20-2h0m8 2h0m10-25h0m8 15h0m3 12h0m4-6h0m11-4h0m2 9h0m16-1h0m2-3h0m3-10h0m0-12h0m5 22h0m4-8h0m11 1h0m8 2h0m3 6h0m5-3h0m-411 25h0m52 8h0m6-20h0m18 23h0m63-8h0m79-2h0m4 6h0m37 4h0m3-24h0m10-1h0m47 23h0m0-12h0m4-7h0m13 0h0m5 17h0m6-11h0m3-8h0m0 7h0m2-8h0m10 23h0m2-15h0m1 7h0m0-16h0m0 10h0m7-8h0m6 14h0m6 1h0m3-7h0m2 18h0m14-19h0m0-7h0m9 6h0m8 0h0m11 20h0m-368 10h0m22 17h0m6-10h0m104-11h0m62 7h0m2-5h0m6 9h0m3-5h0m0-10h0m20 28h0m9-19h0m14 4h0m10-4h0m9 10h0m13-11h0m10-2h0m19 15h0m2 3h0m7-12h0m4 6h0m15-9h0m2 14h0m6-4h0m7 1h0m3 5h0m11-1h0m7-5h0m-389 16h0m5 0h0m46 23h0m8-9h0m101-1h0m28-10h0m16 14h0m7-11h0m14-3h0m5 17h0m42-4h0m4-7h0m0 10h0m7 2h0m5-1h0m4-21h0m4 23h0m15-9h0m4-5h0m5-9h0m10 21h0m12-9h0m0-5h0m28-6h0m1 9h0m2-14h0m8 2h0m4 3h0m2 2h0m8 17h0m2 2h0m6-13h0m-379 30h0m62 2h0m26-4h0m31-8h0m40 13h0m16 7h0m5-14h0m7 8h0m14 6h0m46-17h0m12-2h0m8 2h0m16 18h0m1-21h0m4 20h0m6-11h0m8-1h0m6-4h0m7 9h0m7 1h0m1 10h0m4-19h0m4 16h0m0-16h0m6 9h0m0-16h0m8 25h0m2-16h0m3 17h0m11-4h0m4-16h0m23 19h0m7-2h0m2-7h0m2-2h0m4 5h0m-520 23h0m98 13h0m36-7h0m2 9h0m7-21h0m41 18h0m45 3h0m6-11h0m15 1h0m8 7h0m49-25h0m18 15h0m5-12h0m16 2h0m5 3h0m1 4h0m26-12h0m1 11h0m8-11h0m2 18h0m9-1h0m1-10h0m10 19h0m2-24h0m17 17h0m12 3h0m2 4h0m0-9h0m2 9h0m34-12h0m4 10h0m7-15h0m1 17h0m4-18h0m7 3h0m2 1h0m7 1h0m17 4h0m9 10h0m4 1h0m-457 20h0m74 3h0m25-19h0m62 0h0m1 14h0m30-14h0m9 2h0m3 21h0m42 3h0m1-3h0m38-7h0m14 5h0m19 3h0m11-16h0m2-11h0m13 9h0m6 3h0m2-8h0m7 5h0m2 15h0m2 2h0m15 3h0m3-22h0m0 7h0m9 4h0m3 10h0m3-1h0m0-4h0m4-10h0m6 10h0m21-3h0m6-15h0m5 7h0m3-8h0m1 15h0m7-7h0m6 9h0m2-17h0m-315 54h0m18-13h0m24-11h0m9 9h0m42 9h0m16-3h0m14-18h0m44 0h0m51 4h0m12 4h0m5-6h0m9 18h0m18-13h0m11 4h0m4-1h0m5-11h0m16 2h0m2 24h0m8-23h0m2 22h0m13 2h0m0-8h0m5-4h0m0-12h0m1 17h0m9 5h0m-464 21h0m150 4h0m116-6h0m19 14h0m13-9h0m2-1h0m3 6h0m6 3h0m4-20h0m7 5h0m9 14h0m6-21h0m23 13h0m0-11h0m19 9h0m24 12h0m4-27h0m2 10h0m0 16h0m5-18h0m12-7h0m3 4h0m1 17h0m4-16h0m9 0h0m4 2h0m10 16h0m8 2h0m4-3h0m1-3h0m0-2h0m1-19h0m1 29h0m-259 15h0m17-8h0m38-5h0m19 11h0m1-4h0m11-2h0m58 22h0m7-24h0m4 8h0m5-6h0m21 2h0m3-6h0m1 3h0m1 18h0m5-7h0m4 1h0m11-17h0m4 0h0m51 23h0m4 6h0m10-1h0m1-8h0m3 2h0m-298 11h0m53 3h0m50 14h0m48-20h0m7 8h0m15-3h0m17 15h0m46-19h0m9 10h0m5-10h0m2 6h0m4 16h0m0-16h0m5 11h0m0-5h0m6-6h0m5-6h0m0 6h0m5-7h0m1 18h0m9-18h0m0 10h0m2-3h0m5 22h0m0-17h0m1-4h0m5-4h0m15 23h0m-246 22h0m66-6h0m38 16h0m4-12h0m6 11h0m26-27h0m10 1h0m6-2h0m12 7h0m24-3h0m9-3h0m7 0h0m1 20h0m11-2h0m6 4h0m12-20h0m10 17h0m10-20h0m4 6h0m1 7h0m-253 35h0m56-10h0m48 0h0m19 21h0m13-27h0m1-2h0m2 20h0m22 9h0m11-19h0m8-2h0m11-3h0m2 8h0m16 7h0m1-19h0m3 13h0m14 12h0m2-8h0m4-16h0m7 24h0m12-23h0m2 18h0m14-4h0m-274 16h0m93-1h0m35 15h0m66-7h0m7 4h0m7-4h0m3 11h0m2-2h0m13 2h0m2-19h0m5 4h0m24 13h0m11 3h0m3 2h0m11-6h0m10 2h0m2-4h0m-181 14h0m44 11h0m54 16h0m5-17h0m6 19h0m2-16h0m12 14h0m1-2h0m2-6h0m2 3h0m17 3h0m21-15h0m3 13h0m1 6h0m8-10h0m0-16h0m18 12h0m1 8h0m-98 24h0m10-7h0m13-9h0m2 10h0m2-7h0m19 14h0m10 4h0m1-17h0m14 14h0m10-10h0m5-5h0m6 5h0m9 3h0m7 4h0m4-4h0m-172 18h0m20 4h0m67 12h0m4-14h0m29 12h0m40-4h0m5 12h0m4-17h0m-59 48h0m9-1h0m8-16h0m1 2h0m19-2h0m12 5h0m20 9h0m22-9h0m-106 37h0m71-4h0m14 11h0m5-24h0m7 15h0m9-3h0m7 35h0m16 2h0m2 4h0m-69 15h0m91 35h0m1-9h0"/>
<path d="M4357 611h0m4 8h0m14 9h0m3 0h0m-7 17h0m1-4h0m10 14h0m-12 22h0m15-13h0m1 22h0m12-4h0m1-22h0m1 21h0m-11 12h0m4 18h0m6 2h0m1-2h0m4-21h0m3 6h0m16 17h0m0-6h0m4 5h0m4 4h0m-61 15h0m21 9h0m8 0h0m5-6h0m3-4h0m5 3h0m7 6h0m0-11h0m0 2h0m4 8h0m7-1h0m2-7h0m1-1h0m1 3h0m2 8h0m0 0h0m1 2h0m3-3h0m-61 40h0m2-26h0m1 23h0m12-12h0m21-11h0m18 17h0m6-9h0m4-1h0m1 6h0m1-2h0m3-13h0m3 17h0m0-7h0m1-5h0m0 19h0m5-6h0m0 7h0m1 0h0m3-2h0m-86 8h0m11 12h0m13 6h0m2-9h0m1-4h0m6 11h0m1-4h0m2 8h0m27-18h0m4 10h0m1-7h0m15 21h0m2-27h0m1 9h0m1 0h0m6-4h0m4 18h0m-107 33h0m13-8h0m10-11h0m16 15h0m4-4h0m2-14h0m7 18h0m1-4h0m2-18h0m3 21h0m6 0h0m1-4h0m3-7h0m1 15h0m5 1h0m16-23h0m1 14h0m5 2h0m6 2h0m4-2h0m8-17h0m2 6h0m0 1h0m2 2h0m3 17h0m-111 15h0m33 10h0m1 1h0m11-9h0m1-5h0m14 3h0m4-8h0m13 3h0m3 13h0m1-16h0m3 3h0m9 6h0m8-14h0m4 27h0m3-9h0m1 5h0m2-19h0m1 5h0m4-4h0m1 8h0m3-9h0m5 16h0m0-9h0m-133 27h0m3 20h0m19-27h0m0 24h0m25-12h0m40-8h0m9 16h0m6 1h0m5-21h0m9-1h0m8 11h0m6-1h0m5 12h0m4-12h0m1 3h0m-173 27h0m2 9h0m62-16h0m3 22h0m17-10h0m8-13h0m4 26h0m22-29h0m3 20h0m13 7h0m20-18h0m1 15h0m20-17h0m9 11h0m3-6h0m9 9h0m8 5h0m-235 24h0m19-8h0m0-10h0m4 7h0m35 18h0m33-11h0m13 0h0m7-15h0m7 11h0m13 10h0m11 6h0m20-19h0m1 15h0m12-24h0m9 28h0m9-13h0m4 5h0m0-14h0m7 6h0m4 9h0m0-5h0m7 11h0m0-21h0m2-6h0m1 21h0m1-10h0m2 6h0m2-10h0m0-6h0m3 22h0m1 1h0m5-2h0m0 1h0m7-21h0m1 14h0m4-4h0m-177 39h0m12-14h0m10 22h0m10-4h0m7-9h0m10-7h0m11-8h0m11 14h0m4 6h0m3-13h0m6 17h0m23-11h0m7-6h0m3-8h0m11 20h0m10 3h0m2-15h0m1 3h0m4-11h0m4 4h0m5 17h0m1 4h0m1-7h0m12 0h0m1 0h0m6-12h0m0-5h0m9 2h0m8 25h0m8-4h0m-249 34h0m30-6h0m6-11h0m19 9h0m6-19h0m5 19h0m30-13h0m8 5h0m6 4h0m22-12h0m3 22h0m0-14h0m13-4h0m6 5h0m3-13h0m18 6h0m7 8h0m5-10h0m3 3h0m1 9h0m5 1h0m1 4h0m7 0h0m2-3h0m2-16h0m11 8h0m4 0h0m14-5h0m1 2h0m1 21h0m2-27h0m5 6h0m4 2h0m5-2h0m7 17h0m-253 35h0m19-3h0m13-12h0m2 14h0m63-17h0m9-7h0m28-4h0m15 2h0m7 22h0m3 1h0m0-12h0m4 5h0m7 9h0m7-11h0m10-13h0m4-1h0m4 11h0m14 1h0m1 0h0m1 8h0m12 5h0m0-22h0m9 9h0m8 9h0m3-11h0m1-6h0m2 11h0m2-8h0m0 0h0m5 13h0m7-14h0m3 1h0m1 15h0m4-6h0m-327 24h0m42 12h0m17-6h0m58-2h0m39-4h0m12-3h0m9 7h0m8 3h0m8-1h0m10-1h0m6 3h0m4 3h0m1-14h0m8 8h0m3 2h0m4-5h0m1 15h0m6-12h0m14-5h0m3 12h0m11-1h0m1-22h0m2 5h0m3 18h0m2-14h0m7 5h0m4 8h0m10-21h0m1-1h0m3 4h0m13 7h0m2 9h0m1-18h0m5 25h0m6-26h0m0 17h0m4 0h0m6-15h0m0 23h0m5-9h0m0-2h0m-520 28h0m269-5h0m1-1h0m111 20h0m17-7h0m11-7h0m2-10h0m27-2h0m4 14h0m12-1h0m0 4h0m6-1h0m1-4h0m5-6h0m2 6h0m5-9h0m0-2h0m0 19h0m12-4h0m0-5h0m3-4h0m7-9h0m1 3h0m12 21h0m4-1h0m4-1h0m6-7h0m12 5h0m0-6h0m5 3h0m4 11h0m-328 22h0m45-4h0m7-6h0m20 9h0m16-3h0m38 12h0m17-25h0m8 2h0m4 5h0m13 11h0m6-19h0m26 6h0m27-3h0m19-5h0m8 22h0m1 1h0m6-13h0m5 17h0m0-27h0m10 2h0m2 10h0m4-1h0m1-11h0m3 19h0m14-8h0m4-11h0m1 15h0m1 9h0m2 2h0m0-3h0m5-14h0m3 7h0m2 5h0m2-10h0m0 1h0m5-10h0m6 1h0m3 11h0m0-2h0m6 11h0m-260 31h0m6-17h0m11 13h0m6-5h0m21 1h0m11 10h0m28 2h0m23-22h0m44 3h0m3 11h0m7-10h0m18 17h0m6-10h0m16 9h0m10-6h0m1-7h0m11 10h0m3-19h0m8 3h0m9 7h0m4-9h0m1 5h0m1-7h0m2 5h0m4 18h0m0-12h0m1 2h0m10-14h0m2 14h0m0 5h0m0-10h0m1-4h0m2 14h0m-232 23h0m6-6h0m28 14h0m29-6h0m13 6h0m1-7h0m11-11h0m9 7h0m11 18h0m26-14h0m5-15h0m24 8h0m3 9h0m10-5h0m1-1h0m4-4h0m4-6h0m4 3h0m9 10h0m1-2h0m3 6h0m10-9h0m9 6h0m5 3h0m5 9h0m0-2h0m1-24h0m1 21h0m8-3h0m9-2h0m-463 24h0m150 9h0m37-16h0m5 5h0m38-5h0m10 13h0m20 11h0m11-20h0m27 16h0m13-18h0m23 22h0m6-13h0m7 4h0m37-5h0m7 3h0m3 4h0m6-5h0m10-8h0m17-5h0m6 21h0m13-24h0m0 14h0m2 9h0m4-22h0m2 7h0m1 20h0m6 1h0m2-21h0m8 8h0m3-11h0m3 13h0m-303 34h0m77-15h0m28-3h0m33 10h0m7 6h0m25-16h0m6 2h0m2 6h0m8 17h0m4-20h0m1 15h0m4-10h0m2-5h0m5 2h0m7 11h0m16-15h0m27 10h0m5-1h0m2 10h0m3-25h0m1 14h0m5-3h0m9 6h0m3 0h0m18 1h0m8 4h0m6-17h0m4 17h0m8 0h0m-383 36h0m36-19h0m40 17h0m27 1h0m15-14h0m6 8h0m12-20h0m15 0h0m15 20h0m4-4h0m2-13h0m44 21h0m5-25h0m3 13h0m3-13h0m11 27h0m6-24h0m7-2h0m5 25h0m3-27h0m3 17h0m5 7h0m27-12h0m1 10h0m12-16h0m6 9h0m8-3h0m16 11h0m1-10h0m0-2h0m3-4h0m7-7h0m7 12h0m13-4h0m2-4h0m5 2h0m5 9h0m2-15h0m1 9h0m1 1h0m1 2h0m5-1h0m7 6h0m-386 14h0m75 24h0m40-24h0m15 12h0m3-9h0m29 5h0m43 8h0m9 1h0m5-18h0m1 18h0m9 4h0m19-17h0m9 3h0m14 21h0m12-10h0m5 7h0m2-2h0m2-22h0m6 12h0m16-2h0m13-2h0m2 18h0m15-17h0m11 11h0m1-3h0m1 9h0m3-11h0m4-17h0m6 27h0m1-1h0m0-6h0m0 3h0m0 2h0m2-24h0m1 21h0m7-12h0m4 14h0m1 2h0m4-23h0m1 10h0m3 9h0m1-5h0m6 2h0m-426 30h0m88-3h0m79 3h0m69-8h0m20-9h0m12 15h0m18 0h0m12 2h0m1-17h0m19 25h0m6-17h0m15-8h0m1 15h0m3-11h0m9 10h0m18 0h0m1-7h0m2 4h0m8 14h0m6-7h0m4-16h0m0 21h0m6-24h0m2 1h0m2 10h0m2 6h0m0-2h0m5-16h0m2 13h0m7-8h0m11 15h0m1-11h0m7 13h0m3-5h0m3 1h0m-394 14h0m94 13h0m71 11h0m8-20h0m57 4h0m9 5h0m4-8h0m6 8h0m17-10h0m1 24h0m17-11h0m5 3h0m8 7h0m14-23h0m6 12h0m11-17h0m3 12h0m10 14h0m13-19h0m3 21h0m1-8h0m1-9h0m15 8h0m4-14h0m1 21h0m1-24h0m8 10h0m2-4h0m3-8h0m3 17h0m0-12h0m4-1h0m0 24h0m-428 30h0m35-8h0m72-2h0m4 0h0m84-2h0m8 2h0m9 8h0m2-24h0m27 7h0m5 4h0m3-6h0m24 9h0m10 6h0m18-3h0m5 6h0m6-25h0m1 13h0m2-6h0m2 7h0m9 2h0m30 11h0m3 1h0m9-27h0m8 16h0m1 7h0m2-18h0m10 14h0m6 9h0m4-18h0m12 4h0m18 10h0m6-4h0m4 8h0m18-4h0m-419 13h0m116 7h0m14-1h0m108 15h0m7-25h0m3 7h0m25 4h0m3 14h0m4-18h0m9 7h0m4-3h0m1 12h0m9-13h0m14 7h0m7 2h0m3-12h0m5-9h0m3 24h0m0-2h0m14-1h0m16-12h0m6 17h0m22-10h0m4-2h0m7-6h0m4 11h0m2-3h0m3-9h0m2 11h0m1-20h0m1 20h0m6 0h0m2-6h0m1-6h0m-390 22h0m87 2h0m32-2h0m21 10h0m72-6h0m7 18h0m3-5h0m12 4h0m22-8h0m4 13h0m7-17h0m21-8h0m25 9h0m8-5h0m18 17h0m0 6h0m5-7h0m6 3h0m3-12h0m19 0h0m2-2h0m10-1h0m11 8h0m0 6h0m1-19h0m1-1h0m3 8h0m1 18h0m2-24h0m2 10h0m7 8h0m-332 9h0m108 18h0m12-7h0m4-7h0m15 13h0m18-18h0m4 28h0m19-17h0m1-11h0m5 23h0m8-12h0m9-10h0m17 20h0m10-17h0m8 16h0m3-1h0m11-17h0m22 20h0m1 5h0m8-9h0m1-7h0m18-7h0m5 19h0m17-14h0m1 18h0m1-20h0m1 16h0m1-2h0m0 5h0m3-26h0m6 25h0m-301 27h0m69 1h0m1 0h0m4 1h0m3-19h0m62-5h0m11-1h0m2 23h0m13-4h0m1-9h0m19-10h0m21 29h0m8-19h0m4 16h0m2 3h0m5-16h0m1-11h0m1 22h0m11-11h0m12-8h0m10 17h0m9-3h0m5-9h0m9 18h0m18-14h0m3 7h0m21 8h0m-302 2h0m45 18h0m19 7h0m34-18h0m24 12h0m23-15h0m6 17h0m3-1h0m5-13h0m25 15h0m50 6h0m10-16h0m20 1h0m5-14h0m3 10h0m13 0h0m2 3h0m0-11h0m13 17h0m19 5h0m-334 31h0m54-2h0m4-16h0m88 1h0m5-1h0m44 21h0m0-5h0m7-16h0m24-7h0m10 28h0m13-22h0m9 4h0m2 12h0m0-16h0m15-3h0m8 15h0m18-8h0m8 13h0m13-8h0m2 10h0m11-8h0m13 4h0m-158 16h0m25-1h0m13 5h0m1 6h0m9 7h0m8-7h0m6-8h0m16-1h0m6 8h0m3-10h0m2 11h0m16-5h0m3-7h0m0 3h0m3 10h0m0-14h0m2 12h0m10 1h0m13-1h0m17 1h0m0-8h0m17 16h0m1 4h0m5-8h0m-201 10h0m2 4h0m21 15h0m4-4h0m3-5h0m33-9h0m1 25h0m5-16h0m16 6h0m3-6h0m21 12h0m18-9h0m5 13h0m3-3h0m8 5h0m2 0h0m13-19h0m0 9h0m2 0h0m5 9h0m10-24h0m6 10h0m3 14h0m6-3h0m1-16h0m3 15h0m11-1h0m1 2h0m8 4h0m-316 10h0m100-4h0m12 24h0m17-21h0m66 7h0m49-11h0m44-3h0m5-1h0m8 10h0m2-5h0m1 15h0m1 3h0m6 1h0m9-21h0m3 19h0m-204 19h0m11 2h0m27-1h0m12 10h0m47 4h0m46-18h0m17 18h0m4 2h0m7-9h0m28-6h0m8-4h0m15 4h0m-118 31h0m18-10h0m14 4h0m1 4h0m32 11h0m8-20h0m23 12h0m4-1h0m16 4h0m15-9h0m3 14h0m-180 28h0m121-21h0m6 19h0m7 4h0m35-6h0m4 7h0m13 2h0m1-25h0m5 8h0m-50 22h0m36 28h0m0-22h0m3 6h0m22-9h0m5 2h0m3 9h0m-919 19h0m855 5h0m0-9h0m35 16h0m1 7h0m14 0h0m12-1h0m5-19h0m10 4h0m-46 32h0m5-5h0m14 7h0m10 35h0m36-5h0m-1496 166h0"/>
<path d="M4373 628h0m6-12h0m1 42h0m2-25h0m10 11h0m6 14h0m-24 10h0m25-8h0m10 16h0m-66 42h0m20-12h0m24 7h0m2-20h0m20 14h0m1 4h0m10-7h0m3-5h0m-79 25h0m6-2h0m23-2h0m7 9h0m5 3h0m5 1h0m4-1h0m7 12h0m3-12h0m4 8h0m8 3h0m3-8h0m5-8h0m23 21h0m-117 26h0m17-12h0m25 0h0m41-2h0m9 15h0m1-15h0m1 17h0m7-15h0m2 16h0m6-19h0m6-1h0m1-7h0m3 6h0m1 16h0m-124 12h0m11-2h0m11 24h0m13-3h0m55-22h0m1 7h0m10 17h0m11-13h0m0 6h0m19 0h0m3-14h0m1 20h0m1-8h0m1-15h0m7 25h0m1-4h0m7 4h0m-129 4h0m10 7h0m9 19h0m19 2h0m3-11h0m6-14h0m24 11h0m0-13h0m18 11h0m9-7h0m7-3h0m12 17h0m3-14h0m1 9h0m5 4h0m2 5h0m0-8h0m-150 42h0m0-19h0m32-9h0m5 28h0m3-23h0m6 9h0m5 10h0m1-24h0m11 2h0m25 25h0m9-1h0m10-21h0m19 11h0m8 6h0m9 3h0m8 4h0m2-22h0m5 10h0m0 1h0m4 1h0m3-12h0m6 5h0m-107 42h0m4-6h0m13-7h0m18 14h0m2 2h0m11-17h0m2-3h0m1 3h0m13-2h0m14-2h0m2 14h0m1-14h0m1 12h0m5-12h0m3 0h0m0-3h0m2 7h0m20-7h0m1 24h0m7-10h0m3-2h0m2 1h0m2 1h0m0 2h0m-205 33h0m64-13h0m12-4h0m20 9h0m2 7h0m14-3h0m4-8h0m6 14h0m18-23h0m5 17h0m7-16h0m1 19h0m18-8h0m28-7h0m1 10h0m9-9h0m4-7h0m1 21h0m3-10h0m0 15h0m-156 8h0m19 7h0m14 3h0m8 7h0m7 7h0m1-6h0m21-9h0m2-11h0m19 5h0m3-1h0m22 20h0m4-25h0m0 4h0m4 2h0m5 14h0m2 0h0m2-20h0m3 7h0m4-2h0m13 12h0m0 2h0m4-13h0m3 15h0m6-8h0m5-4h0m2 0h0m1 16h0m-224 21h0m23-5h0m21 12h0m10-13h0m44-4h0m3-4h0m13 14h0m3-11h0m4 10h0m17-3h0m10-2h0m2-8h0m24 8h0m0-5h0m1 6h0m10-3h0m1-3h0m2-1h0m1 7h0m1-4h0m3 14h0m0-5h0m6-3h0m14 12h0m2-5h0m1-18h0m3 6h0m1 19h0m7-20h0m8-5h0m3 15h0m5 4h0m-320 8h0m113 15h0m33-4h0m7-6h0m48 1h0m4 22h0m22-15h0m2 2h0m15-15h0m4 13h0m29 16h0m1-16h0m9-1h0m11-9h0m0 14h0m1 7h0m2-18h0m1 15h0m5-21h0m3 22h0m0 0h0m15 4h0m0-3h0m3 0h0m1 5h0m-233 18h0m56-11h0m4-2h0m36 10h0m5-11h0m5 27h0m24-5h0m9-19h0m39 13h0m2 8h0m10 2h0m8-10h0m6-18h0m7 0h0m2 5h0m1-2h0m4 23h0m1 2h0m4-12h0m2-9h0m1 12h0m1-2h0m15 3h0m2-14h0m2 17h0m0-9h0m2-7h0m-265 26h0m24 10h0m70-10h0m36 3h0m22 22h0m2-24h0m6 21h0m1-23h0m3 14h0m16 5h0m2 0h0m0-2h0m1-19h0m6 9h0m4 7h0m22-5h0m1 0h0m1 17h0m6-3h0m0-14h0m11 2h0m2-2h0m1 3h0m7-7h0m11-4h0m9 13h0m0 8h0m5-13h0m5 18h0m7-17h0m6 17h0m-233 16h0m24 0h0m11-12h0m1 15h0m23 1h0m2-4h0m28-15h0m7 15h0m12-7h0m6 19h0m29-24h0m0 6h0m4 18h0m2-10h0m6 3h0m14 4h0m4 3h0m13-11h0m2-6h0m0 2h0m11 1h0m3-3h0m7 1h0m4 4h0m2-10h0m0 1h0m1 6h0m7-11h0m11 26h0m0-21h0m3 0h0m2 21h0m2-18h0m5 7h0m-275 33h0m49-15h0m1 2h0m23 11h0m11 8h0m3 3h0m4-22h0m46 3h0m8 11h0m13-17h0m11 10h0m7 14h0m4-6h0m4-15h0m8 21h0m0-9h0m11 10h0m15-17h0m6 7h0m1-4h0m12-8h0m4 2h0m2 11h0m8-3h0m5-9h0m4 1h0m6 15h0m3-15h0m0-4h0m1 1h0m4 23h0m3-20h0m3 2h0m5 14h0m4 5h0m5-11h0m-310 31h0m1-13h0m81 16h0m22-9h0m21 14h0m8-10h0m8 1h0m3 4h0m6 5h0m7-1h0m3-18h0m38-6h0m3 8h0m5 18h0m24-10h0m10 9h0m4-26h0m11 28h0m2-29h0m5 6h0m7 10h0m3-15h0m1 27h0m2 0h0m0-5h0m1-12h0m28-1h0m1-4h0m9 16h0m4 1h0m2-9h0m1 6h0m-358 35h0m27-14h0m29-11h0m21 3h0m6 22h0m54-19h0m7 17h0m3-13h0m7-8h0m0 13h0m14 10h0m12-3h0m3-19h0m1 10h0m21-5h0m10 19h0m1-20h0m4 20h0m15-12h0m1-9h0m9 11h0m1 1h0m16-13h0m5 20h0m12-14h0m5 11h0m17-12h0m4 0h0m0 15h0m12-8h0m4-9h0m0-3h0m4 18h0m0 2h0m12-23h0m2 1h0m4 11h0m15-3h0m0 11h0m1-12h0m5-4h0m6 4h0m1 18h0m-333 17h0m44 6h0m2-18h0m44 25h0m18-22h0m17 15h0m19-6h0m3-5h0m1 16h0m2-20h0m19 15h0m9 7h0m4-5h0m0-12h0m3 18h0m27-15h0m7 12h0m0-1h0m8-11h0m13 1h0m24 5h0m3 4h0m3-4h0m5-2h0m0 1h0m1-14h0m7 16h0m20-19h0m1-1h0m1 25h0m5-5h0m9 1h0m9-2h0m5-17h0m6 9h0m1 1h0m1-3h0m1 6h0m8 2h0m0 5h0m3 6h0m2-4h0m-290 19h0m20-13h0m14 17h0m41-11h0m16-1h0m1 12h0m26 6h0m9-20h0m29 7h0m1-10h0m4 13h0m16 5h0m1-7h0m6-10h0m1 18h0m8-13h0m7-6h0m12 9h0m12 8h0m3-1h0m0 10h0m5-21h0m3 12h0m2-9h0m5 4h0m1-13h0m10 21h0m0 8h0m4-1h0m1-8h0m1-7h0m2-5h0m8-3h0m0 23h0m2-1h0m12-5h0m5 7h0m2-15h0m0-2h0m6-2h0m1-5h0m3 6h0m-264 31h0m25-6h0m69 9h0m48 8h0m17-17h0m8 19h0m36-10h0m11 4h0m3-2h0m5-7h0m5-8h0m4 0h0m4 13h0m3 11h0m1-10h0m10-5h0m3-4h0m9-7h0m0 18h0m4-2h0m2 4h0m1-14h0m1-3h0m6 4h0m-369 50h0m69-4h0m48-16h0m33 3h0m15-7h0m20 16h0m30-2h0m2 11h0m14-3h0m1-11h0m17-7h0m0 3h0m10 3h0m3-13h0m2 13h0m5 4h0m14 3h0m2-19h0m1 20h0m2-19h0m9 23h0m2-12h0m19-3h0m11-2h0m8 4h0m14 17h0m0-16h0m2-8h0m5 7h0m0-4h0m3-4h0m2 4h0m11 5h0m3-2h0m1-7h0m2 11h0m8 14h0m2-3h0m-348 6h0m15 10h0m36 5h0m11 6h0m16-20h0m26 12h0m29 12h0m37-1h0m7-3h0m7-13h0m9-9h0m21 5h0m3 1h0m19 22h0m2-22h0m4 7h0m18-10h0m5 25h0m5-9h0m3-8h0m5-10h0m1 21h0m21-11h0m2-9h0m12 2h0m9 18h0m19-5h0m3 8h0m5-18h0m1 21h0m5-13h0m4 13h0m3-6h0m3-4h0m-400 31h0m168-14h0m35 18h0m6-1h0m1-5h0m22-18h0m24 4h0m18 10h0m11 14h0m10 0h0m1-6h0m8 6h0m16-20h0m9 21h0m2-28h0m1 12h0m2 3h0m5-11h0m3 23h0m5-5h0m0-12h0m9 10h0m2-14h0m1 9h0m7-14h0m16 10h0m3 7h0m1-11h0m3-5h0m0 16h0m7-3h0m2-9h0m4 18h0m1-12h0m1 0h0m2 12h0m4-17h0m1 4h0m9 14h0m-401 22h0m26 10h0m12-6h0m16 2h0m18-4h0m2-13h0m13 5h0m5 4h0m5-2h0m73 15h0m5-22h0m33-4h0m5 0h0m2 4h0m21 11h0m11 11h0m10-16h0m12-8h0m1 24h0m31-28h0m8 21h0m13-22h0m1 5h0m3-3h0m14 1h0m15 5h0m7 9h0m5 4h0m2 2h0m3 0h0m16-23h0m16 5h0m0 15h0m-328 10h0m2 13h0m16 3h0m35 5h0m2 5h0m9-8h0m27 3h0m11-9h0m48-1h0m6 18h0m2-23h0m3 13h0m20-15h0m32 18h0m8-12h0m0-6h0m17 18h0m39-9h0m18 15h0m3-8h0m3-20h0m12 4h0m0 22h0m9-21h0m2 23h0m2-22h0m0 6h0m11-4h0m1-1h0m7 19h0m2-10h0m0 13h0m1-8h0m0 8h0m-306 22h0m37-20h0m9 21h0m2-2h0m18-20h0m15 8h0m15 7h0m11-11h0m18 10h0m3-7h0m9 15h0m32-14h0m25 0h0m34 18h0m16 1h0m1-13h0m11 5h0m7 6h0m3-8h0m3 4h0m1-5h0m7-4h0m3 6h0m4 9h0m4-10h0m3-5h0m10-11h0m1 5h0m4 5h0m1 3h0m9-10h0m11 19h0m-319 25h0m44-10h0m28 5h0m28-10h0m18 5h0m42 8h0m22 12h0m12 1h0m12-11h0m20-7h0m2 11h0m0-4h0m25-1h0m6-12h0m0 19h0m16-2h0m7-21h0m24-1h0m0 1h0m13 15h0m15 0h0m-456 28h0m158 11h0m16-21h0m1 0h0m7 5h0m21 19h0m12-5h0m43-17h0m6-3h0m25 18h0m44-1h0m5 4h0m18-20h0m15 23h0m4-13h0m13 5h0m0 6h0m1 4h0m2-13h0m5 0h0m17 2h0m5 3h0m13-13h0m3-2h0m10 8h0m1-3h0m10 1h0m2-2h0m1 18h0m3-13h0m7 14h0m6-4h0m-380 18h0m111 2h0m77-2h0m13-4h0m16 2h0m30-1h0m4-1h0m24 10h0m1-10h0m7-4h0m21 10h0m10-3h0m12-3h0m2-2h0m1 7h0m24 5h0m2-14h0m5 24h0m25-9h0m0-4h0m0-10h0m1 0h0m1 4h0m-342 30h0m45-3h0m15 0h0m50 20h0m73-9h0m10 2h0m9 9h0m23-11h0m9-15h0m0 21h0m7-1h0m5-21h0m9 3h0m10 7h0m15-8h0m1 2h0m3-2h0m3 23h0m16-3h0m3-5h0m4-8h0m3-1h0m2 8h0m11 8h0m2-3h0m6-2h0m6-7h0m8-12h0m6 5h0m3 7h0m3-7h0m0 21h0m-258 20h0m51-11h0m53 5h0m0-9h0m33 11h0m2-3h0m32 7h0m5 11h0m34-18h0m6-3h0m6 11h0m0-18h0m4 24h0m6 3h0m17 0h0m0-8h0m1-17h0m0 7h0m3-7h0m3-2h0m13 7h0m-254 42h0m51-20h0m17 25h0m23-3h0m29-22h0m11 19h0m5 0h0m5 5h0m3-13h0m11 6h0m25 1h0m2-17h0m5 17h0m0-12h0m12 20h0m1-16h0m3 17h0m2-14h0m6-10h0m8 24h0m1-11h0m4 3h0m11-1h0m2-5h0m4 7h0m4-13h0m17 3h0m9 2h0m1-4h0m1 4h0m2 13h0m1-10h0m4 4h0m3 8h0m-236 6h0m11 11h0m68 2h0m33-2h0m2-4h0m2-4h0m23 2h0m10-1h0m37 21h0m0-1h0m7-20h0m4 16h0m9-11h0m3 4h0m2-6h0m15-2h0m2 7h0m6-13h0m6 3h0m9 21h0m-154 30h0m20-18h0m10 0h0m17 18h0m8-23h0m29-2h0m1 2h0m36 13h0m2 3h0m3-13h0m4 7h0m7 7h0m2-12h0m13-7h0m12 17h0m1-2h0m4 7h0m-159 31h0m37-16h0m9 14h0m11-1h0m2-18h0m1 5h0m7 11h0m6-6h0m5 0h0m2 11h0m6-23h0m4 10h0m19-4h0m0 20h0m18 2h0m12-12h0m7 4h0m12-7h0m-70 20h0m6-1h0m22 0h0m12 1h0m3 9h0m9-7h0m10 0h0m8 16h0m9-8h0m7-13h0m7 20h0m0-11h0m-75 36h0m13 4h0m31-16h0m26 21h0m8-7h0m0-5h0m2 13h0m24 2h0m-115 2h0m25 2h0m63 21h0m11-18h0m3 0h0m22 10h0m-19 38h0m15-4h0m9-18h0m13 20h0m18 35h0m-2 4h0m-246 163h0m32 15h0"/>
<path d="M4372 619h0m-9 23h0m10 9h0m-37 21h0m24-10h0m37 17h0m2-9h0m10 8h0m-31 16h0m17 5h0m1 6h0m6-9h0m3 4h0m6 8h0m3 1h0m4 6h0m11-4h0m-18 35h0m13 2h0m6-6h0m2-19h0m1 3h0m4 3h0m4 12h0m5 7h0m-107 8h0m35 15h0m6-7h0m4 6h0m1-5h0m6-5h0m2 13h0m1 1h0m22-10h0m4 3h0m9 11h0m1 0h0m2-3h0m6-6h0m4-4h0m1 10h0m10-16h0m0 15h0m-149 32h0m24-7h0m30-15h0m3-1h0m8 16h0m24 10h0m4-20h0m1 9h0m12-4h0m7-6h0m7 3h0m2 2h0m1 13h0m1-11h0m2 12h0m0-6h0m12-16h0m8 9h0m9-14h0m3 17h0m4 4h0m3-3h0m1-4h0m0 3h0m3 9h0m-114 20h0m14 7h0m17-3h0m10-14h0m29 6h0m3 14h0m8-12h0m6 3h0m13-4h0m6-13h0m1 11h0m15 6h0m13 12h0m-131 2h0m8 0h0m18 7h0m3 7h0m2 6h0m7-15h0m19 2h0m6-5h0m13-3h0m5 0h0m1 20h0m1-12h0m2 13h0m2 6h0m4-21h0m2 16h0m1-17h0m0 0h0m9-4h0m1 14h0m3 2h0m6-1h0m8 6h0m1-4h0m0 6h0m8-5h0m1 1h0m1-4h0m2 5h0m1-12h0m1 15h0m0-12h0m5 12h0m-192 16h0m76-2h0m18 14h0m3-16h0m2 5h0m3-11h0m18 17h0m9 2h0m8-2h0m18-13h0m7 8h0m3-10h0m2 26h0m3-9h0m4 1h0m0-20h0m1 17h0m1-1h0m6-16h0m2 26h0m6-5h0m7-1h0m3 0h0m0-12h0m10 13h0m-225 35h0m57-23h0m6-3h0m7 23h0m12-3h0m28-15h0m7 21h0m29-12h0m10-7h0m25 14h0m15-16h0m5 2h0m12 2h0m5-4h0m3 22h0m1 2h0m0-12h0m1 11h0m0-4h0m5-18h0m4 17h0m1-14h0m3 13h0m1-4h0m5 5h0m-211 18h0m53 10h0m24-16h0m0 8h0m20 8h0m11-10h0m9 3h0m1-6h0m7 13h0m1 2h0m11-1h0m20 2h0m24-2h0m12 5h0m1-20h0m0 21h0m6-21h0m2 14h0m8-8h0m5 3h0m2-4h0m-216 21h0m8-3h0m10 26h0m29-6h0m4 9h0m50-14h0m11 2h0m10 3h0m5-3h0m0 10h0m16-6h0m6 7h0m0-12h0m3-13h0m5-2h0m5 15h0m2-12h0m7 2h0m21-4h0m4 3h0m4 9h0m0-11h0m3 1h0m6 16h0m3 1h0m3 7h0m3-3h0m4-14h0m6 0h0m1 2h0m1 5h0m10 11h0m-254 24h0m6-20h0m28 5h0m41 21h0m41-8h0m26-5h0m25 4h0m6-6h0m16 5h0m2 5h0m7-3h0m3-17h0m3-3h0m0 8h0m9 17h0m6-17h0m1 12h0m3-19h0m6 10h0m19-2h0m12 10h0m3-3h0m-293 24h0m44 11h0m62 0h0m4-10h0m27-9h0m24 14h0m5-11h0m4 7h0m2 0h0m22 13h0m6 3h0m10-4h0m15-8h0m4-6h0m20-4h0m7-5h0m3 4h0m4 3h0m5-8h0m5-1h0m3 1h0m1 21h0m1-19h0m3 19h0m2-15h0m2 8h0m5-11h0m3 24h0m3 1h0m2-17h0m5-2h0m4 8h0m3 6h0m2-3h0m0 6h0m-247 27h0m37-16h0m22 6h0m14-9h0m7 3h0m31 15h0m17-3h0m13-19h0m26 7h0m9 14h0m0-14h0m1-8h0m11 18h0m1-9h0m2 13h0m20-18h0m5 17h0m20-15h0m5 2h0m7 4h0m0 16h0m1-2h0m1-18h0m2 11h0m2 7h0m6-14h0m3 6h0m-277 24h0m26 2h0m3 1h0m19 1h0m4-6h0m24-8h0m27 1h0m12 7h0m2 14h0m11-11h0m3-11h0m3 1h0m37 9h0m9 0h0m2 5h0m0-10h0m3 2h0m5 19h0m3-6h0m3-7h0m3 3h0m9-13h0m5 0h0m4 9h0m3-4h0m8-4h0m14 6h0m1 9h0m2 6h0m11-15h0m1-8h0m0 17h0m2-11h0m2-2h0m2 18h0m6-7h0m6-14h0m8-1h0m0 8h0m0-10h0m1 20h0m0-19h0m10 17h0m-343 35h0m9-24h0m138 14h0m2-15h0m13 23h0m6 4h0m2-3h0m25-16h0m3 0h0m5 21h0m8-29h0m13 8h0m15-6h0m5 23h0m15-16h0m3 0h0m15 19h0m1-26h0m4 21h0m10 2h0m6 0h0m9-9h0m11 12h0m4-21h0m11-7h0m7 19h0m1-13h0m2-4h0m5 19h0m-347 16h0m101 5h0m3 0h0m31 4h0m31-4h0m16-7h0m21 7h0m8 0h0m11 11h0m16-9h0m23 2h0m4-13h0m7 24h0m25-3h0m13-16h0m4 9h0m9 9h0m9-14h0m5 5h0m1-14h0m5 6h0m7 13h0m1 4h0m1 2h0m1-26h0m4 11h0m1-6h0m6 10h0m6 3h0m2-2h0m-305 23h0m31-10h0m29 16h0m46-2h0m1 7h0m4 7h0m2 0h0m34-28h0m1 4h0m1 22h0m5-15h0m42-10h0m20 3h0m0-2h0m1 4h0m12-1h0m1 4h0m24 15h0m3-1h0m4-11h0m0 1h0m1-7h0m10 6h0m6 16h0m2-11h0m0 7h0m4-21h0m1 16h0m8-4h0m0 3h0m1-9h0m4-1h0m6-1h0m2 15h0m1 0h0m0-4h0m-330 14h0m1 0h0m27 14h0m51-8h0m15-9h0m11 3h0m38 4h0m22 21h0m65-13h0m6-15h0m0 19h0m21 0h0m13-2h0m1 1h0m0-4h0m12 3h0m4-16h0m1 27h0m5-9h0m4 10h0m4-21h0m2 2h0m0 6h0m0-9h0m4 8h0m15-15h0m2 7h0m5 19h0m3 0h0m3-9h0m7-12h0m9 23h0m0-16h0m3 14h0m11 2h0m-327 17h0m4 8h0m78 2h0m24-23h0m34 14h0m3-10h0m0 23h0m11-19h0m10-6h0m10 10h0m7 13h0m2-5h0m19-15h0m14 11h0m1-17h0m8 0h0m11 7h0m10-2h0m11 3h0m1 3h0m4 11h0m1 6h0m12-22h0m10 11h0m0-14h0m4 25h0m1-13h0m1 11h0m2-20h0m3 6h0m10-7h0m3 13h0m2-9h0m3 3h0m11-4h0m1 18h0m6-4h0m6 4h0m1-2h0m-381 11h0m34-1h0m89 18h0m8-13h0m7-1h0m8 12h0m33-21h0m3 20h0m7-17h0m17 12h0m0 1h0m2-16h0m10 18h0m15-13h0m16-5h0m5 19h0m8 2h0m11-19h0m8 1h0m14-2h0m3 23h0m1-14h0m11 7h0m6 2h0m2 6h0m6-2h0m14-13h0m4 3h0m8 12h0m4-13h0m0-12h0m3 11h0m3 8h0m4 2h0m2-17h0m7 10h0m2-11h0m7 20h0m1-10h0m1 0h0m11 6h0m-326 29h0m33-4h0m24 9h0m15-22h0m1 1h0m10 13h0m23-8h0m7 14h0m16 2h0m5-22h0m11 14h0m19 5h0m6-7h0m39 7h0m0-4h0m2 8h0m5 2h0m2-26h0m14 5h0m9 12h0m1-12h0m0 13h0m1 1h0m1 4h0m4 4h0m5-8h0m3-14h0m4-2h0m0 24h0m5-11h0m4 3h0m7-12h0m2 13h0m7-16h0m5 12h0m2-3h0m3 11h0m6-21h0m7 8h0m1 2h0m9 13h0m4-24h0m2-1h0m12 8h0m1 11h0m3 3h0m0 4h0m-363 3h0m11 0h0m20 11h0m14 17h0m110-22h0m48-4h0m5 23h0m4-7h0m8-4h0m2-10h0m3 5h0m5 20h0m12-23h0m13 6h0m12 16h0m2-26h0m7 13h0m7-9h0m6 21h0m15-20h0m2 22h0m6-19h0m1 6h0m3 9h0m7-18h0m9-3h0m9 22h0m2-6h0m0-16h0m1 2h0m8 23h0m2-25h0m3-4h0m1 5h0m10 12h0m16 12h0m-469 3h0m104 14h0m7 10h0m57-15h0m3-11h0m1 27h0m41-12h0m76-1h0m3-2h0m6 1h0m37-10h0m5 9h0m12-1h0m3 14h0m2-11h0m3 9h0m4-14h0m7-8h0m6 27h0m4-25h0m13-1h0m18 9h0m1 18h0m12-1h0m4-24h0m1 11h0m1-15h0m14 27h0m3-27h0m0 25h0m6-13h0m3-2h0m7-6h0m1 20h0m1-12h0m0-11h0m3 17h0m5 4h0m-331 8h0m27 9h0m43-5h0m14 25h0m17-24h0m19 22h0m3-20h0m30 16h0m34-5h0m7-17h0m43 5h0m2 7h0m18 0h0m6-3h0m2 8h0m2-7h0m2-8h0m1 6h0m10 11h0m4 6h0m5-1h0m10-3h0m10-10h0m10 17h0m5-27h0m6 2h0m2 22h0m3-21h0m0 9h0m5-1h0m8 9h0m3-3h0m-267 26h0m11 11h0m20-10h0m16-10h0m19 1h0m12 20h0m7-7h0m10-10h0m19 13h0m8-16h0m9 3h0m5-1h0m1 11h0m18-20h0m4 1h0m20 14h0m9-7h0m0 7h0m10-3h0m7-5h0m9 16h0m2-6h0m10-3h0m6 3h0m16-16h0m2 9h0m1 8h0m7-1h0m2-8h0m10-6h0m-306 33h0m26 16h0m31-17h0m6 21h0m26-12h0m8-12h0m4 9h0m22-4h0m3 3h0m6-8h0m1 0h0m3 4h0m35 10h0m30-16h0m14 24h0m1-8h0m7-1h0m1-4h0m6-9h0m8 20h0m4 1h0m11-21h0m1 16h0m5-5h0m10-11h0m2 23h0m4-19h0m11 4h0m1-6h0m4 0h0m7 3h0m2 9h0m5-11h0m3 8h0m6 8h0m6-4h0m8-14h0m0 7h0m-409 41h0m95-1h0m19-2h0m4-13h0m67 2h0m83 15h0m28-15h0m6 18h0m13-24h0m0 9h0m20 13h0m10-20h0m19 22h0m18-2h0m14-8h0m5-4h0m2 14h0m14-9h0m2 0h0m1-4h0m14 9h0m-314 22h0m46-12h0m44 28h0m14-29h0m45 7h0m1 0h0m3 9h0m5 1h0m33-15h0m7 13h0m6 7h0m17-10h0m1 14h0m17-10h0m9 11h0m2-9h0m12-5h0m5 16h0m5-23h0m12 17h0m12-3h0m4-10h0m10 16h0m3-9h0m9 4h0m1-11h0m-300 46h0m13 0h0m10-14h0m59 8h0m35-14h0m15-2h0m7 3h0m4 16h0m24-17h0m2 14h0m7-13h0m57-1h0m3-5h0m19 27h0m6-4h0m3-18h0m19 0h0m19 20h0m1-5h0m18 6h0m-386 25h0m127-5h0m40 0h0m13-7h0m28 15h0m27-2h0m7 5h0m25-10h0m3 8h0m18-2h0m3 5h0m11-16h0m3 1h0m6-3h0m0 2h0m8 16h0m2-22h0m25 19h0m7-16h0m24-6h0m4 18h0m1-7h0m8-3h0m7 12h0m4-3h0m3 2h0m-353 17h0m92-5h0m60 23h0m1-25h0m2-2h0m54 4h0m46 21h0m4-13h0m3-4h0m6-5h0m5 14h0m28-16h0m4 2h0m4 13h0m0-2h0m6 3h0m9 1h0m4-11h0m0 17h0m8-3h0m8-15h0m15 4h0m4 3h0m-281 43h0m129-12h0m20 1h0m9 0h0m1-4h0m15 2h0m42-1h0m8-12h0m4-1h0m3 17h0m0-4h0m10 3h0m23-1h0m1 6h0m3-5h0m7-10h0m1 15h0m3 3h0m4-12h0m1 9h0m12-2h0m1-1h0m-182 22h0m22 16h0m29-7h0m18-2h0m9 0h0m4-16h0m3 27h0m40-27h0m21 14h0m16-9h0m11 7h0m13 5h0m16 10h0m-246 17h0m67-3h0m64 1h0m10-2h0m6 6h0m1-9h0m17 11h0m15 2h0m8 2h0m4-23h0m1 5h0m1 15h0m0-1h0m4-4h0m0-12h0m6-2h0m4 16h0m3 9h0m4-21h0m15 20h0m2-5h0m4-6h0m4-7h0m2 12h0m4-8h0m0 14h0m2-15h0m10 10h0m-168 36h0m52-26h0m6 1h0m25 28h0m11-14h0m17 11h0m2-10h0m14 12h0m2 1h0m20-21h0m2-1h0m3 12h0m3-14h0m10 9h0m-86 19h0m39 17h0m7 9h0m23-27h0m2 13h0m19-15h0m7 2h0m8 26h0m-147 11h0m54 11h0m36-6h0m21-6h0m8 5h0m1 5h0m10-18h0m9 20h0m14-19h0m6 0h0m8 27h0m7-8h0m-106 32h0m8-10h0m77 8h0m20 8h0m2-15h0m13 6h0m-44 18h0m20 6h0m11 4h0m30-4h0m-1274 34h0m1237-17h0m-238 169h0m160-11h0"/>
<path d="M4366 620h0m4 4h0m3 5h0m-3 29h0m22-1h0m-13 15h0m5-11h0m10 7h0m7 16h0m9 4h0m4-3h0m-107 26h0m37-3h0m41 1h0m3-9h0m11 16h0m0-26h0m5 9h0m0 11h0m4 4h0m4 2h0m2-15h0m-62 32h0m16 1h0m26 11h0m8-14h0m1 12h0m7-9h0m4 9h0m0-5h0m5-17h0m1 14h0m6-4h0m2 11h0m2 1h0m3 0h0m1 3h0m2-9h0m0 5h0m1-9h0m1 2h0m-97 35h0m20-4h0m9 9h0m3-2h0m5 0h0m16-5h0m0-6h0m10-5h0m0-6h0m5 25h0m2-4h0m2 7h0m6-1h0m4-25h0m9 13h0m1 5h0m8-21h0m1 8h0m12 8h0m0 2h0m-132 31h0m39 9h0m11-22h0m10 20h0m8-25h0m1 17h0m12-9h0m10-9h0m6 20h0m4-6h0m1-5h0m13 11h0m5-17h0m1 13h0m4-4h0m12-10h0m1 12h0m1-14h0m1 4h0m-89 45h0m24-13h0m1 4h0m2-2h0m13 15h0m12 2h0m2 1h0m1-4h0m11-4h0m8 10h0m2-11h0m7-11h0m7-6h0m3 11h0m1-5h0m9 7h0m11 7h0m-156 37h0m30-24h0m13 19h0m7-8h0m51 0h0m19 4h0m9-12h0m1-1h0m4 9h0m3 13h0m8-25h0m0 1h0m5-3h0m2 2h0m9 4h0m17 23h0m-164 24h0m35-7h0m16 12h0m31-26h0m9 8h0m7-3h0m4-6h0m8 6h0m4-5h0m8-2h0m1 7h0m9-3h0m6-4h0m4 25h0m7 4h0m6-29h0m1 15h0m4-5h0m4-10h0m6 22h0m1 6h0m1-13h0m3 1h0m-195 38h0m60 2h0m14 2h0m15-23h0m2-1h0m6 0h0m9 0h0m2 6h0m12 16h0m18 0h0m10-26h0m2 2h0m1 14h0m2-11h0m2 9h0m2-10h0m19 18h0m1-19h0m10 26h0m0-20h0m15 1h0m3 15h0m-175 32h0m20-24h0m31 4h0m8 2h0m4 13h0m9-4h0m1 2h0m7-20h0m1 26h0m19-21h0m11 7h0m1-2h0m3-1h0m8-1h0m2-5h0m11 18h0m12-21h0m6 14h0m0-8h0m0 9h0m10-5h0m2 0h0m2 11h0m6-7h0m4-5h0m1-8h0m3 24h0m1-9h0m4-1h0m2 9h0m-247 14h0m74 12h0m14-4h0m31-8h0m2 7h0m26-12h0m1 1h0m26 3h0m8 14h0m17 5h0m2-8h0m9 3h0m10-13h0m2 8h0m1-2h0m26-12h0m2 3h0m2 13h0m4-9h0m2-9h0m1 12h0m3 9h0m2-5h0m2-2h0m1 0h0m0 11h0m2 2h0m-290 27h0m65-3h0m42-15h0m19 2h0m44 9h0m44-12h0m8 4h0m3 2h0m2 15h0m0-18h0m9 11h0m0-16h0m2 7h0m8-2h0m6 16h0m3-1h0m3-20h0m9 9h0m4 15h0m24-2h0m0-17h0m0 8h0m2 3h0m1-3h0m4 4h0m2 2h0m2-4h0m-163 20h0m3 10h0m17 11h0m16-28h0m14 1h0m9 17h0m2-2h0m7-8h0m2 17h0m4-11h0m2 14h0m13-22h0m5 0h0m2 20h0m16-4h0m1-4h0m3-17h0m10 19h0m4-13h0m2 21h0m0-4h0m1 2h0m3 1h0m15-18h0m8 10h0m2 2h0m7-14h0m3 16h0m1 4h0m-361 24h0m107-15h0m47 5h0m9 13h0m28-9h0m24-3h0m10 9h0m7-15h0m18 1h0m7 11h0m5-17h0m11 1h0m1 17h0m3 6h0m4-3h0m7-13h0m1-6h0m6 23h0m4-20h0m0 0h0m4 18h0m0-21h0m5-1h0m1 22h0m11-18h0m0-5h0m2-1h0m6-1h0m15 2h0m3 20h0m0-10h0m6 13h0m1 1h0m7-11h0m1-10h0m0 9h0m1-7h0m1-7h0m2 8h0m5-8h0m4 22h0m-310 35h0m70-22h0m26 18h0m6 2h0m3-3h0m7-10h0m30 14h0m30-19h0m4 17h0m7-12h0m12 0h0m0-3h0m13 8h0m17-3h0m5-5h0m2 5h0m1-5h0m1 10h0m6 2h0m5 1h0m1-21h0m0 2h0m15 23h0m15-25h0m12 23h0m1-12h0m10 9h0m7-19h0m1 14h0m1-15h0m11-1h0m5 28h0m8-3h0m4 4h0m-217 27h0m19-14h0m26-8h0m7 21h0m8 1h0m31-2h0m2-24h0m13 26h0m4-24h0m9-1h0m8 0h0m12 16h0m2 1h0m0-4h0m1-2h0m1-11h0m6 2h0m2 8h0m13 12h0m3-2h0m2-1h0m3 5h0m10-2h0m5-19h0m1 13h0m7-6h0m14 13h0m1-1h0m1-4h0m11 1h0m5-10h0m-334 23h0m107 25h0m34-22h0m62 6h0m0-1h0m51 11h0m2-16h0m3 18h0m2-12h0m8 12h0m3-19h0m0 23h0m1-20h0m2 1h0m2 15h0m9-19h0m11 0h0m17 24h0m11-13h0m1-11h0m4-2h0m11 18h0m2-19h0m1 8h0m2 9h0m1 9h0m1-2h0m-279 19h0m45 1h0m83 10h0m6-5h0m8 8h0m5-11h0m25-15h0m3 15h0m1-4h0m0 4h0m10 9h0m5-8h0m32-13h0m8 0h0m13 13h0m0 3h0m4-8h0m13 3h0m7-15h0m2 5h0m1 18h0m4-20h0m9 19h0m1-24h0m3 10h0m3-4h0m-428 28h0m100 7h0m58-6h0m44 12h0m37-15h0m13 25h0m13 0h0m26-13h0m5-5h0m4 5h0m13 6h0m6-18h0m21 24h0m11-21h0m1 0h0m4-4h0m6 21h0m2-14h0m0 2h0m5-9h0m15 20h0m4-20h0m0 3h0m4 5h0m3 9h0m0-12h0m15-5h0m0 8h0m4-5h0m1 11h0m3-10h0m7 12h0m2 11h0m1-14h0m7-6h0m0 12h0m6 1h0m2-10h0m4 18h0m4-7h0m6 7h0m-277 23h0m13 1h0m41 5h0m22-14h0m6-2h0m5-8h0m18 23h0m32 0h0m5-22h0m7 16h0m2-6h0m29-7h0m4 4h0m1-7h0m2 24h0m13-29h0m4 23h0m2-21h0m14 7h0m3 3h0m3-7h0m9 12h0m14-17h0m0 0h0m15 14h0m12-8h0m2 13h0m2 7h0m0-19h0m2 8h0m3-1h0m1 12h0m2 2h0m-320 30h0m37-22h0m24-2h0m40 7h0m38-7h0m13 14h0m15-7h0m1 8h0m14 4h0m6-15h0m12-1h0m21 19h0m3-23h0m1 21h0m11-22h0m31 17h0m1 2h0m22-7h0m7-2h0m0-10h0m4 6h0m4 10h0m0-6h0m8 8h0m1-1h0m1-14h0m6 9h0m3-9h0m3 11h0m1-13h0m6 14h0m0 3h0m6 8h0m-370 6h0m4 9h0m48-6h0m15 22h0m57-28h0m16 26h0m13-13h0m18-13h0m4 28h0m8-5h0m10-15h0m10 6h0m5-8h0m8-5h0m3-1h0m14 12h0m5 15h0m17-1h0m7 2h0m16-9h0m0 2h0m11-2h0m18 4h0m2-17h0m3 17h0m4-16h0m1-3h0m3-5h0m3 12h0m6 17h0m0-15h0m4 10h0m5 0h0m6-14h0m1 0h0m1 16h0m7-6h0m4 8h0m3-11h0m6-11h0m9 5h0m6 7h0m1 10h0m5 1h0m-385 29h0m124-9h0m61-5h0m24 5h0m24 7h0m36-2h0m0-2h0m2-9h0m1 11h0m21-9h0m23-2h0m11 0h0m5-7h0m1 16h0m1 3h0m1-5h0m2-17h0m8 8h0m4 6h0m1-7h0m9-8h0m1 13h0m0 7h0m1 6h0m3-12h0m5-11h0m6 17h0m8-15h0m2 5h0m5 8h0m6 4h0m-390 14h0m158 3h0m8 10h0m9-11h0m10 16h0m2-25h0m5 26h0m23-7h0m8 6h0m3-15h0m20-7h0m26 2h0m3-5h0m1 7h0m1 14h0m3-12h0m19 18h0m12-16h0m0 11h0m2 4h0m4-7h0m3-14h0m4 6h0m1 14h0m3 0h0m2-13h0m2-12h0m5 13h0m8 6h0m6 8h0m27-8h0m2-15h0m0-1h0m7 13h0m14 4h0m0-4h0m-305 27h0m18-9h0m19 12h0m25-12h0m14 17h0m16 2h0m4-7h0m24 10h0m1-1h0m47-4h0m6-19h0m13-3h0m4 9h0m12 17h0m1-21h0m3 8h0m16 4h0m17-5h0m10 0h0m1-9h0m4 6h0m6 11h0m3 7h0m4-24h0m6 12h0m4-6h0m7-1h0m12 20h0m5-20h0m7 17h0m5-18h0m1 18h0m3-10h0m3 13h0m-263 20h0m2-5h0m61 6h0m28 2h0m4-10h0m4-10h0m4 4h0m7 6h0m24-3h0m12 14h0m22-19h0m1-2h0m17 19h0m6 3h0m3-10h0m0 16h0m8-21h0m3 11h0m0 0h0m7-18h0m2 7h0m2-3h0m6 24h0m1-26h0m11 6h0m3-6h0m7 24h0m0-19h0m6 5h0m5-13h0m1 11h0m10 7h0m2-8h0m6 18h0m4-3h0m4 1h0m-309 18h0m39 4h0m34 4h0m1 2h0m13-12h0m16 3h0m12 4h0m3 5h0m1-12h0m26-12h0m13 5h0m48-2h0m29 22h0m10-1h0m1-16h0m0 4h0m4-4h0m14 0h0m1 5h0m13-13h0m13 29h0m5-24h0m7 15h0m4 1h0m2-19h0m0 9h0m1-3h0m2-8h0m2 27h0m0-7h0m2 3h0m1-14h0m0-2h0m1 22h0m-304 30h0m54-5h0m49-19h0m21 8h0m26-6h0m20-6h0m1-1h0m3 29h0m2-26h0m22-3h0m15 25h0m12 1h0m7-17h0m3 16h0m4-7h0m0-18h0m5 5h0m5 8h0m3-7h0m1-3h0m23 24h0m4-9h0m6-11h0m3 14h0m3-4h0m4-17h0m4 18h0m0-3h0m1 10h0m1-4h0m6 5h0m7-11h0m2-12h0m0 19h0m-441 8h0m171 8h0m23 4h0m24-9h0m23 20h0m1-1h0m14-17h0m2 22h0m4-26h0m27 18h0m8 10h0m13-26h0m7 13h0m7-6h0m8 0h0m36 2h0m7-3h0m3 7h0m7 11h0m3-8h0m10 0h0m5 3h0m1-20h0m6 8h0m10-9h0m6 22h0m1 3h0m14-11h0m7 10h0m3 4h0m3-3h0m-157 31h0m2-21h0m21 0h0m32 4h0m7-6h0m3 15h0m6 3h0m6-13h0m2 3h0m8 17h0m5-7h0m31 7h0m5-5h0m9-5h0m11 10h0m10-7h0m2-9h0m8 15h0m1-4h0m1-5h0m2-19h0m1 15h0m3 5h0m3-9h0m-182 32h0m15 7h0m1 2h0m24 1h0m49-7h0m19 2h0m6-17h0m0 0h0m16 27h0m8-10h0m2 4h0m4-16h0m3-6h0m1 28h0m2-3h0m10-17h0m17 12h0m7-9h0m3-9h0m2 13h0m7-3h0m9 14h0m1 3h0m-235 1h0m55 28h0m16-13h0m23 8h0m2-1h0m3-10h0m11 6h0m11 6h0m1-11h0m13 10h0m2-19h0m2 21h0m13 3h0m3-17h0m4 2h0m1 3h0m3-1h0m2-9h0m13 2h0m1 6h0m17 13h0m9-6h0m6-1h0m1 5h0m6-6h0m3-10h0m5-1h0m4 20h0m1-23h0m1 10h0m7-2h0m7 7h0m-225 14h0m34 4h0m23 9h0m5-6h0m0-5h0m26 16h0m6-6h0m1 8h0m15-24h0m14 15h0m13 11h0m12-19h0m3 14h0m13-4h0m7-17h0m10 19h0m0-12h0m29 1h0m0-4h0m3 3h0m3-4h0m13-2h0m-171 38h0m3 11h0m16-19h0m13 27h0m19-11h0m1 4h0m27 8h0m3-5h0m1-24h0m12 0h0m5 21h0m1-16h0m12 8h0m3 4h0m20-9h0m29 6h0m6 4h0m4-8h0m3-6h0m9 7h0m-208 31h0m60 12h0m49-16h0m11 1h0m4 20h0m36-20h0m3 3h0m12 12h0m4-12h0m7 17h0m16-22h0m1 9h0m10-2h0m7 0h0m0-1h0m10 2h0m1 10h0m-220 8h0m82 8h0m31 8h0m15-15h0m9 2h0m6-4h0m22 1h0m29-3h0m3 25h0m6 1h0m4-18h0m22 8h0m-182 29h0m13-15h0m60 12h0m21-5h0m42 5h0m37-12h0m10 24h0m2-13h0m7 11h0m7-12h0m11 18h0m-137 17h0m40 2h0m57 5h0m14-18h0m20 0h0m5 16h0m17 5h0m-108 10h0m11-4h0m53 16h0m20 10h0m17-2h0m7-25h0m-75 57h0m30-21h0m9 17h0m20-10h0m21-13h0m2 7h0m1 40h0m26 0h0m-12 30h0m0-9h0m64 80h0"/>
<path d="M4369 625h0m10 29h0m7-24h0m6 24h0m0-8h0m5 5h0m-39 30h0m24-19h0m3 16h0m1 0h0m1-7h0m3 5h0m12-7h0m2-2h0m1 9h0m4-4h0m3 16h0m-57 21h0m33-11h0m25 13h0m-19 11h0m7 1h0m1 26h0m21-17h0m3-8h0m13 19h0m-96 24h0m6-11h0m19-4h0m25 7h0m19 8h0m1 1h0m7 10h0m8-16h0m2-7h0m2 19h0m9-1h0m4-9h0m9-4h0m-132 38h0m33-2h0m45-4h0m7-11h0m3 11h0m3 4h0m1-3h0m6-6h0m5-3h0m15-3h0m0 18h0m1 2h0m1-11h0m7 9h0m1-8h0m1-11h0m10 0h0m4 17h0m2 9h0m2-11h0m1-1h0m1 1h0m1 3h0m-174 23h0m10 11h0m23-2h0m17 2h0m19-8h0m2-8h0m10 12h0m8 7h0m5-17h0m11 1h0m12 7h0m3-1h0m4-12h0m9 2h0m0 13h0m3 4h0m3-11h0m3 2h0m8 5h0m6-9h0m1-1h0m2 0h0m8-7h0m4 10h0m7 10h0m2 7h0m1-20h0m4 2h0m0 16h0m-97 18h0m2-1h0m24 16h0m6-1h0m12-24h0m8 17h0m2-2h0m5 7h0m6-13h0m21 3h0m6 2h0m12-8h0m5 7h0m2-11h0m2 22h0m0-4h0m2-4h0m-134 23h0m20-8h0m38 1h0m12 22h0m0-14h0m6 3h0m3 1h0m1-13h0m1 8h0m1 8h0m6-6h0m2 1h0m3 0h0m3 6h0m3-18h0m3 4h0m15-1h0m6-6h0m0 15h0m0-6h0m3 15h0m2 4h0m0-17h0m7-2h0m3 11h0m1-21h0m0 24h0m3-21h0m0 12h0m4-10h0m3 23h0m3-10h0m-207 32h0m98-6h0m33 9h0m3-16h0m5-2h0m0 1h0m17 1h0m9-1h0m2 14h0m2-12h0m0 16h0m3-12h0m3 3h0m1-11h0m3-4h0m3 0h0m3 2h0m2 16h0m4 3h0m2-5h0m10-5h0m1 4h0m3 6h0m7 7h0m1-3h0m15 4h0m-143 9h0m16-8h0m27 6h0m10 19h0m0-4h0m1-19h0m13 21h0m8-18h0m3 9h0m3-13h0m6 21h0m6-9h0m2 11h0m7-20h0m3 3h0m2 1h0m7 8h0m7-6h0m3-7h0m3 6h0m0 14h0m0 6h0m7-28h0m2 0h0m6 20h0m1-12h0m1 4h0m12 11h0m-260 34h0m35-18h0m55 13h0m15-22h0m3 10h0m14-6h0m34 17h0m4-1h0m14 4h0m5-20h0m4 23h0m5-28h0m19 0h0m20 0h0m5 18h0m7 9h0m9-8h0m1 6h0m8-11h0m2 1h0m1 5h0m5-3h0m-268 38h0m59-12h0m6 5h0m25 5h0m16-15h0m10 15h0m2-20h0m2 21h0m28-16h0m33 5h0m8 1h0m3 8h0m12 5h0m4-24h0m12 17h0m12 3h0m1-14h0m2 20h0m3-13h0m1 10h0m3-2h0m4-23h0m5-1h0m3 26h0m2-5h0m3-12h0m0-5h0m1 20h0m7-11h0m1 5h0m2-11h0m4 19h0m9-14h0m0 14h0m1-20h0m1 7h0m8 13h0m-244 5h0m72 18h0m5-13h0m16-4h0m7-2h0m32 5h0m5 24h0m7-29h0m3 29h0m5-7h0m4 5h0m3 0h0m2-6h0m14-7h0m6-9h0m0 11h0m1-16h0m41 8h0m5 9h0m6 6h0m5-21h0m4 14h0m2-4h0m0-6h0m4 3h0m1 5h0m0-3h0m-170 29h0m25 3h0m21 7h0m6-16h0m5-2h0m14 23h0m7 2h0m3 1h0m12-24h0m6 16h0m0-6h0m2-11h0m20 7h0m2-5h0m0 20h0m21-21h0m2 16h0m2-13h0m3 4h0m0 0h0m5-3h0m2-6h0m4 18h0m0-4h0m2-16h0m2 3h0m7 13h0m2-3h0m2 10h0m11-2h0m0-11h0m2 9h0m-198 36h0m30-1h0m10-23h0m19 10h0m19-7h0m14 9h0m9-12h0m9 15h0m17 9h0m10-3h0m1-12h0m8-5h0m2 21h0m1-20h0m2 19h0m4-7h0m3-3h0m15 1h0m3 0h0m6 8h0m0-19h0m12 4h0m2 3h0m4 1h0m5 11h0m3 2h0m-403 12h0m53 10h0m39 9h0m43-6h0m7 0h0m2-1h0m19 9h0m1-16h0m61-5h0m0-3h0m33 5h0m12 13h0m0-22h0m6 17h0m9-3h0m10 2h0m1 4h0m5 8h0m1-8h0m7-2h0m4-17h0m1 15h0m2 11h0m4-16h0m2 3h0m5 6h0m4-2h0m10 3h0m3 4h0m3-20h0m2 23h0m11-26h0m6 21h0m3 0h0m20 1h0m2-24h0m0 25h0m0-20h0m1 16h0m2-10h0m2-3h0m12 19h0m1-23h0m0 14h0m10-1h0m0-8h0m-332 28h0m131 6h0m4 10h0m15 2h0m15-24h0m31 15h0m0-2h0m5-13h0m17 18h0m36-14h0m1 4h0m1-10h0m9 18h0m2-13h0m1 1h0m11 6h0m4-10h0m12 21h0m3-18h0m3-5h0m3 19h0m1-14h0m8-1h0m0 1h0m6 23h0m10-9h0m4-13h0m2 14h0m2 5h0m10-22h0m1 5h0m5 15h0m-339 10h0m14 13h0m32 13h0m73-3h0m5-10h0m0 4h0m1 8h0m21-1h0m7-25h0m12 11h0m8-3h0m3 5h0m5 14h0m1-5h0m24-24h0m18 12h0m1-9h0m12 9h0m9 0h0m6-8h0m5-3h0m2 20h0m6 1h0m2-18h0m3 5h0m8 9h0m1-5h0m3-3h0m5 17h0m14 1h0m8-9h0m1-13h0m1 7h0m4-12h0m2 10h0m2 13h0m6-23h0m6 2h0m0 2h0m5-5h0m11 2h0m0 13h0m6 7h0m1-7h0m1 10h0m-338 5h0m44 19h0m45-1h0m15-18h0m30 10h0m15 13h0m3 5h0m25-5h0m29-13h0m12 15h0m6-21h0m9-4h0m0 13h0m5-1h0m9-4h0m0 15h0m1-19h0m4 1h0m3-3h0m1 9h0m4-10h0m9 21h0m2-3h0m19-18h0m4 27h0m15-28h0m3 7h0m7-2h0m27-2h0m5 22h0m-298 33h0m1-5h0m2 4h0m34 0h0m13-25h0m0 4h0m10 23h0m34-5h0m0-6h0m52 0h0m12 1h0m3 0h0m4 5h0m13-2h0m20-9h0m1-8h0m1-4h0m1 27h0m21-5h0m4-3h0m8-20h0m2 13h0m2-7h0m0 6h0m3-8h0m11 0h0m0 24h0m20-14h0m3-11h0m0 1h0m5 13h0m8 0h0m2-17h0m6 15h0m3 4h0m1 10h0m4-2h0m6-16h0m4 4h0m2 13h0m6-1h0m-251 16h0m33 13h0m1-4h0m6-21h0m22 15h0m32 8h0m1 2h0m14-11h0m13 2h0m1-9h0m14-1h0m6-5h0m1 5h0m21 17h0m8 4h0m3-8h0m4-20h0m5 23h0m15-15h0m16 9h0m7 1h0m3 9h0m6-19h0m7 13h0m6-8h0m0 3h0m5-1h0m2-6h0m1 3h0m1-6h0m-442 37h0m60 11h0m88 4h0m1-22h0m54 17h0m19 5h0m9-9h0m8-17h0m0 17h0m19 6h0m25-13h0m8 2h0m27-3h0m36 15h0m2-19h0m6 8h0m0 5h0m2 5h0m2-24h0m6 8h0m3-1h0m6 12h0m12-6h0m9 2h0m13 2h0m2 5h0m5-2h0m4-1h0m7 2h0m7-20h0m11 12h0m4-11h0m2 8h0m1 13h0m8 1h0m-321 8h0m2 21h0m7 0h0m28-2h0m8-20h0m14-2h0m8 29h0m20-27h0m37 25h0m8-22h0m6 12h0m26 10h0m12-6h0m8-19h0m0 18h0m1-16h0m11 13h0m13-13h0m23 10h0m21 12h0m2-26h0m1 25h0m8 2h0m4-9h0m3 7h0m11-15h0m4 2h0m15 9h0m1 8h0m8-13h0m8-14h0m10 17h0m2-4h0m5 1h0m1 7h0m-391 17h0m50 18h0m25 0h0m49-20h0m27 2h0m23 4h0m15 0h0m23-10h0m7 18h0m16-4h0m8 7h0m12-14h0m1-9h0m11 2h0m11 22h0m0-10h0m21-10h0m10 2h0m0 0h0m1-6h0m28 17h0m14-11h0m7 3h0m20-9h0m0 9h0m13 10h0m1-8h0m4 2h0m1 7h0m2-19h0m1 18h0m4-4h0m-382 20h0m65 15h0m59-9h0m12-10h0m15 15h0m5 10h0m14-3h0m49 0h0m6-3h0m1-8h0m1 8h0m8-7h0m5-14h0m6 14h0m2 8h0m17-6h0m1 4h0m21 3h0m12-4h0m1-10h0m1-10h0m5 1h0m5 11h0m18 0h0m16-8h0m9 21h0m5-10h0m14 14h0m1-9h0m1 9h0m8-28h0m2 23h0m4 3h0m6-4h0m8 4h0m-444 31h0m91-8h0m64-13h0m8 18h0m48-7h0m5-10h0m11 15h0m4-22h0m28 26h0m9-1h0m3-25h0m4 19h0m25-7h0m15 13h0m2-5h0m5-9h0m0 17h0m2-16h0m1-11h0m5 0h0m6 24h0m1 3h0m7-25h0m6 1h0m5 5h0m4-2h0m14 10h0m1-18h0m8 11h0m0-1h0m10 18h0m29-16h0m1 12h0m2-20h0m18 21h0m1-14h0m-326 34h0m67-12h0m55 4h0m22 6h0m5 9h0m31-7h0m14-9h0m36 1h0m7-4h0m0-2h0m1 9h0m11 13h0m3-2h0m5-9h0m2 8h0m28 6h0m8-25h0m11 1h0m0 17h0m2-5h0m16 9h0m2 4h0m2 2h0m4-1h0m2-18h0m7 2h0m-386 26h0m61 6h0m41 15h0m94-24h0m8 23h0m13-13h0m9 1h0m0-3h0m0-12h0m3 12h0m0 1h0m17-11h0m26 8h0m4 3h0m2 12h0m23-20h0m19 5h0m5 3h0m2 10h0m2-20h0m5 15h0m5-18h0m1 22h0m3-1h0m2-10h0m6 6h0m7-6h0m3 5h0m10-8h0m13 0h0m1-8h0m7 25h0m-214 17h0m3 9h0m21-22h0m10 21h0m16-19h0m26 15h0m4-12h0m2 18h0m0-20h0m8 14h0m3-14h0m13 2h0m0 24h0m9-18h0m3 2h0m1-2h0m8-5h0m12 14h0m24 8h0m1-20h0m34 8h0m4 12h0m13-17h0m2 5h0m17-3h0m1-10h0m7 25h0m4-6h0m2-14h0m-200 40h0m32-11h0m4 20h0m8-17h0m11 19h0m5-1h0m32-7h0m8-5h0m6-1h0m5-5h0m0 3h0m10-13h0m11 7h0m7 17h0m6-10h0m0 6h0m2-20h0m8 17h0m10-15h0m2 18h0m1 7h0m19-14h0m9-8h0m6 19h0m6-20h0m-279 35h0m37 3h0m14-4h0m24 14h0m2-5h0m10 4h0m21-21h0m14 7h0m11 15h0m14-21h0m6 12h0m6-5h0m17 11h0m28-18h0m6 6h0m11-7h0m24 18h0m3-9h0m2 4h0m0 5h0m2-11h0m13 13h0m16-13h0m3-4h0m1 4h0m1-1h0m11 18h0m0-14h0m-267 47h0m20-27h0m98 1h0m32 4h0m9 1h0m12 4h0m2 4h0m2 4h0m6 10h0m28-12h0m2-9h0m8 22h0m8-14h0m12 7h0m3-15h0m5 14h0m11-7h0m10 1h0m2 4h0m2-4h0m7 9h0m1 0h0m1-1h0m1 0h0m2-16h0m9 14h0m2 6h0m-270 29h0m36-7h0m6 3h0m12-17h0m25 1h0m1-3h0m17 9h0m23-1h0m50 14h0m8-25h0m3 15h0m22-10h0m11-2h0m7 20h0m1-4h0m11 2h0m5-3h0m2-1h0m7-14h0m1 4h0m4-5h0m7 26h0m7-4h0m4-8h0m1-16h0m3 1h0m4 20h0m-136 31h0m9 3h0m29-21h0m14 6h0m15 3h0m1-9h0m5 2h0m0-4h0m15 10h0m15 13h0m1 2h0m16-2h0m0-1h0m6-14h0m4 15h0m21-2h0m1-12h0m-183 48h0m25-22h0m6 0h0m16 3h0m5-6h0m10 1h0m15 2h0m7 19h0m9-2h0m50-22h0m2 3h0m22 16h0m2 1h0m2-15h0m7 17h0m7-11h0m1 0h0m3 7h0m1 5h0m7-17h0m-176 22h0m54 2h0m12 16h0m48 4h0m32 3h0m27-25h0m2 4h0m21 25h0m-140 11h0m11 18h0m29-23h0m14 14h0m5-12h0m49 14h0m1 5h0m5-7h0m-75 26h0m40 1h0m63-15h0m2-1h0m4 29h0m6-14h0m6-12h0m3 3h0m-88 35h0m37 17h0m19-28h0m4 8h0m41 20h0m-825 25h0m785-1h0m17-21h0m26 27h0m18-3h0m13 35h0m-1589 339h0"/>
<path d="M4361 640h0m5 2h0m7 33h0m24 3h0m9 9h0m-41 3h0m53 2h0m0 13h0m1 10h0m3-8h0m1-1h0m3 5h0m5 8h0m-112 6h0m61 5h0m27 8h0m2 9h0m1-22h0m3 18h0m1-8h0m4 14h0m4-6h0m3-11h0m1 17h0m4-19h0m9 11h0m6 4h0m-66 20h0m19 3h0m16 8h0m2-3h0m6-21h0m1-1h0m2 5h0m4-2h0m11 19h0m1-5h0m5 7h0m2-4h0m-133 23h0m46 12h0m14-7h0m20 9h0m2-20h0m14-6h0m6 7h0m9 20h0m16-12h0m9-14h0m7-2h0m2 21h0m1-8h0m2-13h0m1 8h0m-34 49h0m13-25h0m11 8h0m0 3h0m0-1h0m2-12h0m17 20h0m2-4h0m5-17h0m2 25h0m10-1h0m-146 33h0m11-21h0m3-1h0m15 23h0m14-12h0m18-12h0m26 9h0m5-6h0m2 5h0m1-2h0m15 18h0m5-2h0m15-16h0m4 8h0m3 6h0m10-19h0m1-2h0m1 9h0m5 14h0m11 2h0m-144 23h0m6 0h0m12-1h0m41 1h0m14 0h0m4-2h0m5-7h0m1-1h0m4-2h0m8 20h0m4-13h0m3-4h0m0 10h0m3-6h0m2-14h0m28 27h0m7-21h0m3 0h0m5 17h0m0 2h0m3-7h0m-130 30h0m14-18h0m5 27h0m12-11h0m1 8h0m9-8h0m2-1h0m11 3h0m43-8h0m5 7h0m1-15h0m5 3h0m2 7h0m0-14h0m5 17h0m5-13h0m5 23h0m5-22h0m3 3h0m0 1h0m2 4h0m1-9h0m0 3h0m1-3h0m0 4h0m4 5h0m4 14h0m0-9h0m-156 32h0m2 5h0m4-16h0m28 4h0m11 1h0m4 4h0m15-3h0m5-1h0m0-13h0m3 5h0m8 17h0m3-7h0m1-13h0m4 21h0m15-3h0m18-2h0m5-2h0m8-2h0m4-1h0m3-2h0m7 12h0m3-3h0m1-8h0m7-8h0m2-1h0m8 21h0m2-8h0m0-2h0m-237 21h0m48-6h0m5 6h0m45 4h0m9-8h0m2 17h0m5-1h0m24-13h0m4-5h0m4 9h0m3 11h0m1-1h0m3-11h0m8 20h0m0-16h0m2-3h0m16-1h0m6 2h0m5 13h0m0 5h0m2-12h0m19-4h0m4 9h0m1-20h0m0 17h0m6-12h0m1 6h0m3 13h0m7-6h0m5-5h0m11 8h0m-226 26h0m46-18h0m36 26h0m5-25h0m4 15h0m11 3h0m9 0h0m40 0h0m3 10h0m6-25h0m21 16h0m2-16h0m3 23h0m10-11h0m6-16h0m5 3h0m3-2h0m4-1h0m1 0h0m1 19h0m1 8h0m5-25h0m5 0h0m8 16h0m7-9h0m1 18h0m2-7h0m0 9h0m-320 8h0m13-4h0m121 19h0m25-10h0m1 3h0m7 10h0m12-18h0m25 8h0m7-14h0m13 0h0m5 7h0m11 13h0m0 1h0m5 3h0m1 2h0m4-8h0m1-6h0m1-12h0m2 12h0m4-7h0m8 20h0m7 0h0m0-19h0m8 2h0m9-2h0m2 8h0m6 3h0m4 8h0m1-22h0m1 21h0m12-2h0m5-22h0m1 23h0m3-5h0m1-19h0m0 10h0m4 6h0m3-1h0m0-5h0m3 14h0m-205 7h0m10-1h0m35 24h0m12-21h0m3 15h0m24 5h0m3-14h0m6 6h0m7-13h0m1 21h0m7 1h0m2-22h0m4 19h0m2-12h0m11-3h0m8 12h0m9-11h0m10 20h0m1-3h0m11-16h0m0 2h0m2 0h0m0 4h0m2 12h0m1-15h0m11-5h0m2 0h0m1 18h0m1 4h0m5-23h0m1-4h0m4 2h0m3 17h0m7-11h0m4 7h0m3-10h0m0 5h0m0 18h0m4-21h0m-211 45h0m2 0h0m32 5h0m5-4h0m13-8h0m0-13h0m30 15h0m19-2h0m5-16h0m11 26h0m10-12h0m4 14h0m0-5h0m2 5h0m7-25h0m11 15h0m3-12h0m4-1h0m3 24h0m1-26h0m2 21h0m2 0h0m4-12h0m1-10h0m0 23h0m7-1h0m1-1h0m4 2h0m4-7h0m1-1h0m3-13h0m1 17h0m2 6h0m7-10h0m9-6h0m2-5h0m4 23h0m3-22h0m0 7h0m1-10h0m1 7h0m1-2h0m0 8h0m1-12h0m3 17h0m8 1h0m-269 10h0m20 15h0m10 7h0m40-2h0m10-14h0m56 20h0m4-19h0m3-2h0m3-1h0m8 7h0m1 7h0m7-19h0m7 17h0m2 3h0m3-14h0m10 0h0m6 3h0m1-2h0m1-6h0m3 11h0m3 1h0m14 4h0m2 3h0m1-10h0m1 7h0m4-2h0m9-15h0m9 26h0m9-1h0m1-10h0m9-6h0m2 18h0m1-14h0m7 10h0m2-6h0m3-14h0m2 19h0m-248 19h0m11-9h0m23 3h0m55 2h0m4 4h0m4 14h0m9-26h0m5 23h0m13-4h0m2 3h0m5-8h0m7-13h0m3-1h0m9 10h0m10-6h0m1 0h0m5 9h0m3 11h0m7-2h0m1-12h0m8-2h0m11 4h0m5 13h0m7-16h0m7 5h0m1 2h0m5-14h0m4 21h0m1-16h0m12-3h0m7-1h0m3 0h0m1 2h0m3-4h0m3 23h0m1 4h0m0-11h0m6-11h0m2 15h0m-270 11h0m53-1h0m27-1h0m10 16h0m26-15h0m10 17h0m10-15h0m7 1h0m6 17h0m6 5h0m1-16h0m1-6h0m8 7h0m0 11h0m19-18h0m0 22h0m14-11h0m10-16h0m14 4h0m1 22h0m0-3h0m2 2h0m2-18h0m6 4h0m1 13h0m17-20h0m16 18h0m2-4h0m0-4h0m3 10h0m2-2h0m2-22h0m2 23h0m8 1h0m0-20h0m-265 39h0m19 15h0m16-11h0m33-12h0m0 20h0m1-12h0m8 16h0m4-9h0m21-17h0m22 2h0m9 23h0m8-5h0m1 5h0m15-18h0m16 12h0m4-12h0m14 11h0m1-15h0m1 13h0m3-18h0m7 16h0m17 3h0m7-12h0m8 18h0m1-21h0m5 2h0m5 20h0m11-1h0m6-14h0m3 11h0m2-17h0m12 6h0m2 13h0m-366 32h0m14-25h0m40 24h0m129-1h0m6-14h0m26 4h0m13 0h0m3-13h0m10 19h0m5-5h0m12 4h0m4-2h0m4 9h0m1-7h0m0 1h0m11-19h0m12 4h0m17 17h0m5-17h0m5 11h0m14 12h0m5-7h0m5-7h0m4 4h0m8-13h0m2 0h0m1 3h0m14-9h0m13 23h0m-321 23h0m48-1h0m49 2h0m65 2h0m8 3h0m9-14h0m3 8h0m30 13h0m5-8h0m2-9h0m2 0h0m1-8h0m8 8h0m0-6h0m13 3h0m6 12h0m1-3h0m1-9h0m8 2h0m2 1h0m23 10h0m0-1h0m3-2h0m13 8h0m2-21h0m8 11h0m2 1h0m6 7h0m11 4h0m8-5h0m2-1h0m-335 18h0m89 1h0m14 6h0m4-2h0m60-6h0m10-7h0m0 26h0m17-2h0m0-21h0m0 18h0m7-21h0m3 4h0m7-3h0m11 22h0m1-11h0m6-8h0m1 2h0m9 17h0m7-15h0m10 3h0m4 1h0m2-15h0m10 20h0m2-1h0m9 10h0m1-16h0m6-9h0m1 14h0m2-3h0m2 9h0m8 3h0m4 1h0m9-1h0m3-6h0m3-9h0m0 11h0m2-23h0m9 16h0m4 3h0m0 1h0m1-4h0m2-12h0m0 16h0m1-9h0m11 7h0m4 9h0m-298 6h0m37 21h0m17-18h0m5 12h0m1 3h0m15 8h0m12-29h0m25 25h0m1-8h0m4 1h0m5-17h0m1 17h0m5-6h0m1 9h0m11-11h0m11-3h0m0-3h0m1 11h0m3-4h0m24 6h0m10 1h0m2-1h0m6-3h0m7 5h0m2 4h0m1 5h0m4-6h0m6 3h0m0-9h0m17-4h0m10 16h0m4-27h0m0 23h0m2-17h0m5-5h0m1-2h0m1 18h0m7-4h0m1-13h0m3 9h0m10-3h0m4 4h0m3 16h0m2-3h0m8-10h0m2-13h0m4 12h0m3-3h0m-220 34h0m35 9h0m46-3h0m16 8h0m1-15h0m6 13h0m4-6h0m17-5h0m7 13h0m9-6h0m4-11h0m3 4h0m12 13h0m4-2h0m6-17h0m9 19h0m0-28h0m4 1h0m2 15h0m11 7h0m4-21h0m0 16h0m2 7h0m0 4h0m6-7h0m2-3h0m4 1h0m5 0h0m25 5h0m-342 20h0m7 4h0m28-11h0m17 13h0m19 1h0m2-14h0m23 13h0m3-5h0m20 10h0m0-4h0m1-7h0m4-1h0m6 2h0m20-13h0m22 20h0m7 2h0m21 4h0m4-26h0m6 24h0m10 2h0m7-11h0m5-3h0m0-10h0m12 4h0m19 16h0m15-24h0m5 27h0m1-19h0m3 13h0m7-22h0m1 9h0m1 20h0m21-10h0m1-12h0m0 1h0m9 5h0m4-11h0m5 20h0m9-16h0m1 15h0m5-5h0m-275 31h0m28 12h0m12-16h0m4-9h0m21 6h0m3 4h0m5-10h0m12 22h0m16-10h0m4 3h0m20-15h0m3 9h0m2 16h0m7-29h0m1 22h0m14-7h0m3-5h0m21-1h0m5 5h0m1 5h0m13 3h0m3-16h0m16 7h0m5 16h0m6-4h0m14-11h0m9-14h0m0 19h0m3-11h0m1 10h0m5-6h0m1 12h0m3-14h0m3 3h0m13 13h0m17 0h0m2-4h0m-395 11h0m45 16h0m8-17h0m36-2h0m15 11h0m14-4h0m22 15h0m19 6h0m13-8h0m16-3h0m1-8h0m16 14h0m3-9h0m0 0h0m8 1h0m20 5h0m9-5h0m18-8h0m9-1h0m7 16h0m4-3h0m6-11h0m3 21h0m22-27h0m25 21h0m12 5h0m1-20h0m0 8h0m1 13h0m13-10h0m9 6h0m5-8h0m16 9h0m2-4h0m2-7h0m-308 20h0m17 24h0m9-12h0m12 7h0m53 2h0m12-19h0m10 19h0m10-22h0m34 12h0m9 9h0m16-8h0m52 0h0m20-17h0m4 28h0m1 0h0m7-3h0m8-13h0m2 17h0m12-8h0m18-17h0m1-2h0m7 2h0m2 2h0m5 1h0m3-4h0m-261 36h0m18-1h0m33 18h0m40-13h0m1 9h0m2 0h0m21-3h0m29-9h0m6 4h0m10-13h0m0 0h0m1 28h0m4-28h0m5 16h0m5 3h0m6-20h0m7 10h0m4-2h0m1 20h0m18-11h0m16-17h0m3 27h0m1-8h0m2-18h0m6 3h0m1 16h0m2-16h0m20 9h0m1 12h0m2-4h0m15-9h0m6 17h0m-340 15h0m49 4h0m27-12h0m24 1h0m15 5h0m25 2h0m9 0h0m3 3h0m39-14h0m8 16h0m5 2h0m3 3h0m19-2h0m13-10h0m9-8h0m1-1h0m10-1h0m27-1h0m9 16h0m2 6h0m3-23h0m7 7h0m0 21h0m3-14h0m0-12h0m10 2h0m5 4h0m6 13h0m1-11h0m1 1h0m3 10h0m0-12h0m3-2h0m5-2h0m14 24h0m-281 12h0m112-8h0m7 25h0m7 1h0m6-16h0m3-12h0m23 0h0m11 27h0m1-28h0m3 12h0m37-7h0m5-1h0m1 1h0m6 1h0m21 5h0m2 17h0m9-14h0m6 4h0m5-13h0m0 18h0m2-7h0m6-11h0m11 15h0m4-2h0m-246 29h0m40 3h0m10-9h0m79 18h0m0-29h0m4 25h0m11-11h0m0 5h0m0-3h0m1-4h0m23 15h0m1-27h0m67 25h0m8-3h0m9-7h0m-337 32h0m94 6h0m13-2h0m9-10h0m72-6h0m53 11h0m16-12h0m9 2h0m4 6h0m12 8h0m5-20h0m8 2h0m8 3h0m0-3h0m13 19h0m26 7h0m17-10h0m2-10h0m-168 41h0m36-13h0m43 1h0m4 19h0m2-17h0m13-9h0m4 22h0m16 2h0m4-5h0m1-15h0m4 9h0m10 11h0m41-12h0m-170 29h0m2-3h0m7 0h0m10-1h0m16-5h0m4 16h0m40 2h0m5-7h0m19-7h0m8 9h0m12 10h0m19-3h0m18-5h0m5 2h0m4-1h0m12-4h0m-162 36h0m70 6h0m44 3h0m3-23h0m11 2h0m17 3h0m6 14h0m32-23h0m1-1h0m-114 31h0m38 14h0m2-9h0m2 5h0m6 1h0m28-12h0m8 0h0m1 19h0m9-15h0m34 13h0m13 11h0m-44 16h0m11-6h0m16-9h0m13 8h0m14 11h0m-48 14h0m-392 52h0m448-3h0m9-17h0m7 2h0m1 2h0m2 11h0m-745 27h0m742-16h0m25 33h0m2-4h0m11 12h0m-383 41h0"/>
<path d="M4368 612h0m13 16h0m-4 45h0m33 13h0m-28 19h0m24-5h0m8-1h0m4 9h0m-102 14h0m63 3h0m8-5h0m3 0h0m13 2h0m12 18h0m9-1h0m0-15h0m7 16h0m2-16h0m4 2h0m1 15h0m3 6h0m-85 23h0m11-7h0m37 10h0m1-8h0m3 12h0m19-15h0m4-1h0m0-5h0m2-5h0m3 5h0m4 23h0m2-11h0m1 2h0m5 3h0m4-1h0m2 0h0m1 4h0m0-11h0m3 11h0m0-9h0m1 8h0m-150 20h0m112 10h0m16-23h0m0 8h0m10 4h0m2 11h0m0 4h0m6-17h0m1 12h0m3-16h0m3 9h0m1-4h0m0-3h0m11 9h0m0 2h0m-91 38h0m4-4h0m1-3h0m18-6h0m4 2h0m21 9h0m11-26h0m4 15h0m11-12h0m5 5h0m2 6h0m1-6h0m4 6h0m2 1h0m3 8h0m-137 20h0m43-14h0m27 28h0m2-5h0m8-2h0m11-14h0m11 17h0m1-11h0m2-7h0m13 10h0m2-7h0m3 0h0m18 4h0m2 9h0m9 3h0m4 2h0m0-21h0m1 21h0m2-25h0m2 22h0m3-6h0m-128 24h0m2-1h0m33 11h0m13-2h0m18-11h0m12 9h0m4 7h0m6-13h0m8 3h0m12-4h0m3-1h0m3 8h0m2-6h0m3-3h0m7-8h0m10 3h0m3 9h0m2 2h0m5 11h0m3-4h0m-183 21h0m30-7h0m13 7h0m3 4h0m18-17h0m29 3h0m4 19h0m17-14h0m3 14h0m1-6h0m3-13h0m6-2h0m2 28h0m6-13h0m13 0h0m1-5h0m5 9h0m1 2h0m5-5h0m14 5h0m4 7h0m2-12h0m6 0h0m-172 24h0m5-4h0m18-5h0m53 10h0m12 9h0m11-10h0m6-6h0m0 8h0m19-3h0m3 11h0m27-16h0m0 17h0m3-4h0m1-13h0m4 18h0m5-9h0m10-11h0m3 16h0m3 3h0m5-21h0m3 7h0m1 12h0m5 9h0m-186 10h0m6 10h0m9-4h0m13 11h0m4-21h0m4 17h0m5-17h0m7 0h0m32 3h0m12-7h0m20 27h0m4-25h0m20 8h0m1 18h0m10-29h0m8 8h0m6 0h0m3 1h0m5-1h0m6 15h0m10-6h0m2 12h0m1-9h0m-230 29h0m48 3h0m56-8h0m10 2h0m0-7h0m20 8h0m19 6h0m10-14h0m14-7h0m20 11h0m3-4h0m1 13h0m22-14h0m0-7h0m7 24h0m5-3h0m14 7h0m4-18h0m0 3h0m0-3h0m-263 39h0m56 2h0m5-21h0m23 8h0m13 2h0m6 18h0m8-27h0m7 1h0m42 1h0m0 15h0m9-10h0m3 15h0m6-22h0m2 4h0m0 23h0m8-1h0m3-28h0m4 12h0m6 11h0m5 3h0m11-26h0m1 0h0m1 21h0m12 5h0m8-8h0m16 9h0m11-10h0m2 11h0m2-20h0m3 3h0m5 8h0m6-6h0m-312 33h0m68 4h0m31-16h0m36 20h0m3-17h0m11-2h0m3 16h0m10 3h0m11-10h0m21 14h0m6-11h0m2 0h0m6-11h0m7 19h0m8-18h0m11 17h0m4-16h0m13 0h0m12-8h0m4 29h0m2-29h0m3 14h0m4 2h0m11 8h0m1-23h0m1 21h0m0-1h0m2-12h0m8 20h0m8-9h0m2 9h0m4-5h0m11-8h0m1 4h0m-319 10h0m9 11h0m23-1h0m33-5h0m27 7h0m7-2h0m13-3h0m11 17h0m1-4h0m4-7h0m38-8h0m20 4h0m4 7h0m2 0h0m1 0h0m6 2h0m14 3h0m5-5h0m7 12h0m11-13h0m10-10h0m3 3h0m5 3h0m8-11h0m3 15h0m3-9h0m14 6h0m9-3h0m2 12h0m5-15h0m3 16h0m0-19h0m4 21h0m4-10h0m3-6h0m0-3h0m11-5h0m2 1h0m2 18h0m4 6h0m-282 24h0m50-3h0m14 1h0m2 10h0m9-9h0m1-12h0m9-1h0m7 21h0m8-8h0m4-17h0m1 17h0m9-10h0m1 4h0m2-5h0m15-7h0m4 21h0m16 2h0m2-18h0m10 7h0m20 3h0m3-7h0m1 10h0m8-5h0m4 0h0m5 14h0m5 0h0m1-12h0m11-14h0m1 2h0m3 9h0m6 15h0m3-24h0m2 1h0m2 17h0m16-11h0m4-10h0m11 24h0m3 4h0m3-25h0m0 1h0m3-2h0m2 0h0m3 7h0m12 1h0m3 7h0m0 7h0m2-9h0m0-8h0m6 19h0m-380 5h0m85 22h0m141-11h0m11 14h0m9-21h0m6 3h0m38 16h0m7-11h0m1 2h0m9-9h0m7 4h0m4 8h0m11 5h0m0-20h0m2 9h0m1 12h0m2-23h0m5 16h0m5-14h0m1 12h0m0 7h0m2-5h0m1-15h0m5 8h0m2 9h0m4-10h0m13 20h0m0-24h0m2 9h0m0 13h0m1-21h0m1 13h0m1-1h0m8-4h0m1-6h0m5 4h0m-381 37h0m125-4h0m22-9h0m11 18h0m27-8h0m25 2h0m35 3h0m7-3h0m3-11h0m11-5h0m7 14h0m0-2h0m5-3h0m0-1h0m7 18h0m13-7h0m0-11h0m13 2h0m0-12h0m6 15h0m8-10h0m6 10h0m3-7h0m1 10h0m1-3h0m1-10h0m1 1h0m7 15h0m5-19h0m1 4h0m7 12h0m5 6h0m2-14h0m2 3h0m1 15h0m1-15h0m6 7h0m14-10h0m1 17h0m-398 22h0m103 5h0m64-20h0m32 7h0m16 6h0m26-1h0m5 13h0m5-24h0m36-4h0m16 11h0m2 12h0m8 5h0m8-29h0m3 6h0m6 17h0m12-3h0m1 8h0m1-18h0m11 14h0m0-11h0m2-10h0m26 24h0m2-27h0m3 8h0m2 17h0m5-14h0m3-2h0m7 15h0m1-19h0m9 6h0m1 15h0m8-4h0m-362 32h0m93-19h0m15 20h0m6 1h0m0 2h0m32-3h0m33-11h0m2 0h0m23 2h0m0-12h0m6 16h0m4-15h0m0 18h0m5-9h0m6-11h0m0 3h0m9 2h0m4-1h0m56 6h0m1-3h0m7-7h0m16 22h0m2 1h0m1-2h0m1-10h0m3 10h0m0-16h0m1-3h0m18 3h0m1 14h0m3-1h0m5 2h0m2-3h0m13-16h0m7 15h0m2 5h0m-359 20h0m34-1h0m56-10h0m6 10h0m8 11h0m32-1h0m33-2h0m1-13h0m3 1h0m3 17h0m16-4h0m8-22h0m9 15h0m3 9h0m3-13h0m3 6h0m1 4h0m8-5h0m12-4h0m1 13h0m1-9h0m8-12h0m2 1h0m8 10h0m2-5h0m1 15h0m2-16h0m11-5h0m14 13h0m0 2h0m4-18h0m9 16h0m11-3h0m9-2h0m5-8h0m6 25h0m7-23h0m3 13h0m14-13h0m2 19h0m4-25h0m1 15h0m6 8h0m0-6h0m4 4h0m-341 22h0m5-7h0m97-5h0m60 2h0m2 17h0m10-4h0m12-5h0m8 7h0m1-16h0m20 7h0m18-3h0m8 20h0m15-11h0m1 14h0m10-20h0m0 2h0m12-4h0m1 11h0m8-5h0m1 5h0m2-2h0m4-14h0m2 14h0m6 11h0m8-27h0m6 17h0m3 2h0m5-16h0m1 18h0m7 1h0m4-15h0m4 18h0m5 0h0m2-24h0m10 20h0m-324 25h0m9 3h0m63-2h0m11-11h0m3 21h0m0-21h0m0-5h0m69 8h0m16 6h0m1 8h0m0-21h0m12 11h0m1 13h0m8 1h0m4-14h0m5-12h0m3 15h0m1-1h0m6-12h0m3 0h0m3 7h0m5 7h0m8 5h0m14-8h0m14 14h0m2-13h0m15-15h0m6 10h0m3 11h0m10-14h0m2 17h0m8-9h0m2-4h0m3-5h0m9-3h0m7 9h0m3 6h0m5 3h0m-412 23h0m142-4h0m18-1h0m37-3h0m15-4h0m5 13h0m3-9h0m19 8h0m1-9h0m20 12h0m28 4h0m8 0h0m8-18h0m8 24h0m2 1h0m9-17h0m2-11h0m7 25h0m8-19h0m2 8h0m6-2h0m0-10h0m7 1h0m0 1h0m3 13h0m1 8h0m6-13h0m2-5h0m4 15h0m10-14h0m10 21h0m1-1h0m4-10h0m16 2h0m11 5h0m1-2h0m-442 10h0m103 24h0m21-6h0m86 0h0m33-8h0m2 5h0m18-4h0m3 5h0m5-13h0m5 23h0m8-18h0m17 16h0m3-13h0m1-12h0m10 14h0m1 5h0m4 4h0m12-1h0m3-10h0m1-14h0m5 22h0m20-3h0m1-14h0m35 17h0m14 4h0m12-6h0m4-17h0m14 2h0m3 4h0m0 19h0m3 1h0m3-17h0m0 11h0m4-7h0m3-8h0m4 13h0m-356 18h0m18 17h0m84-15h0m25 3h0m21 2h0m29 8h0m21 2h0m12-7h0m4-9h0m15-8h0m18 3h0m6 17h0m16-7h0m0-11h0m12-1h0m2 6h0m16 17h0m3-6h0m15-18h0m3 15h0m4 9h0m8-18h0m2-1h0m6-7h0m1 15h0m8 0h0m2 5h0m1 9h0m4-13h0m3 10h0m0-14h0m5 13h0m1-5h0m2-8h0m-336 35h0m15-7h0m10 14h0m48-17h0m24-3h0m2 20h0m26-13h0m24-8h0m9 19h0m1-5h0m49-2h0m11-1h0m22 3h0m24 3h0m2-2h0m7 11h0m3-25h0m2 4h0m0 11h0m4 1h0m1-1h0m5-17h0m15 14h0m5-16h0m2 18h0m14-8h0m2 13h0m11-7h0m1-1h0m1-2h0m3-3h0m3 0h0m9 2h0m6 15h0m-407 18h0m152 12h0m15-27h0m11 24h0m32-10h0m41 6h0m21-2h0m14 7h0m0-23h0m20 13h0m2 3h0m8 11h0m4-23h0m18-2h0m9 12h0m18-1h0m8-10h0m15 3h0m4 14h0m1-3h0m4-14h0m2 6h0m4 8h0m2-13h0m-395 37h0m89-6h0m26 9h0m22 3h0m24-6h0m0-10h0m45 0h0m16 24h0m18-14h0m1 10h0m8-11h0m2 12h0m16-5h0m6 8h0m6-10h0m4 12h0m1-29h0m14 9h0m13 9h0m3 8h0m4 3h0m3-10h0m7-11h0m17-7h0m2 15h0m2 6h0m7 1h0m1-11h0m1-3h0m0 19h0m3-15h0m5 12h0m4-14h0m3 0h0m12 15h0m2-18h0m3 9h0m4-14h0m8 4h0m18 5h0m1-1h0m5 15h0m5 2h0m-295 20h0m67-16h0m30 2h0m18 3h0m6 14h0m2-12h0m60 18h0m2-2h0m21-9h0m8-13h0m1 12h0m2 11h0m5-7h0m10-18h0m18 7h0m2 8h0m1-15h0m6 27h0m8-6h0m6-1h0m9-11h0m0-10h0m19 26h0m11 1h0m-294 20h0m79-10h0m8 22h0m13-9h0m10-10h0m3 19h0m10-14h0m11-15h0m27 11h0m6-6h0m22-3h0m25 24h0m11-26h0m7 19h0m7-10h0m1 7h0m22-4h0m4 8h0m5-17h0m3 23h0m5-2h0m2 5h0m3-17h0m2-3h0m2-9h0m9 6h0m13 22h0m-255 16h0m103-8h0m2 1h0m19 19h0m12-12h0m6 14h0m10-15h0m0 11h0m2 5h0m19-14h0m29 8h0m8 1h0m8-12h0m13 6h0m10 11h0m1 0h0m2-11h0m1 5h0m2 2h0m6-19h0m11 9h0m-345 19h0m144-1h0m67 25h0m8-7h0m2-14h0m1 5h0m14 16h0m13-27h0m4 12h0m45-3h0m50 7h0m3-17h0m14 23h0m-364 20h0m180 2h0m1-12h0m1 21h0m53-3h0m29-9h0m1-9h0m11-2h0m7 23h0m10-13h0m10-5h0m7 21h0m4-2h0m10-23h0m16 8h0m2 15h0m0-23h0m2 14h0m-186 39h0m9-20h0m18 23h0m71-23h0m11-4h0m2 18h0m18-3h0m35-3h0m3 7h0m7-18h0m4 25h0m17-13h0m26 7h0m0-21h0m2 10h0m3-9h0m0 23h0m-254 6h0m57 9h0m6 12h0m65-1h0m50-12h0m19-8h0m24 19h0m18-8h0m2-5h0m6 9h0m29 0h0m-175 19h0m15 23h0m14-27h0m22 12h0m35-10h0m40 8h0m17-5h0m16 18h0m6-19h0m11 15h0m0-15h0m14 16h0m2 0h0m0-4h0m-126 15h0m11 21h0m20-12h0m7 10h0m11-12h0m11 16h0m14-1h0m11-23h0m5 18h0m10 9h0m2-23h0m15 5h0m4 11h0m3-16h0m1 23h0m-153 5h0m51 2h0m34-4h0m45 17h0m2 6h0m3 2h0m12-8h0m22 4h0m3-6h0m4 10h0m7-10h0m-12 16h0m10 10h0m17 1h0m5 14h0m-1129 63h0m-205 134h0"/>
<path d="M4362 591h0m-20 38h0m34-15h0m-6 28h0m16 7h0m-29 18h0m22 22h0m24-27h0m-9 31h0m12 14h0m9 2h0m1-13h0m6 2h0m3 15h0m-87 17h0m67 3h0m2 8h0m1 7h0m6-28h0m1 28h0m3-28h0m12 15h0m13 6h0m-79 15h0m8 11h0m9 3h0m15 5h0m5-21h0m13 13h0m5 2h0m14-8h0m1 18h0m2-9h0m13-18h0m8 14h0m6 13h0m-89 7h0m42 0h0m12-6h0m1 9h0m28 16h0m6-23h0m-82 36h0m4 14h0m8-6h0m3-1h0m33 1h0m3 11h0m6-20h0m1 2h0m1-1h0m5-8h0m4 11h0m1 5h0m1 3h0m2 6h0m0-12h0m6-12h0m13 20h0m2 7h0m7-1h0m-106 7h0m11 18h0m13 6h0m11-8h0m5-7h0m1 3h0m2-6h0m9 1h0m5-11h0m5 20h0m7-11h0m15 18h0m10-22h0m4 13h0m0-12h0m11 12h0m16 9h0m2-11h0m-146 35h0m28-1h0m2-8h0m16 17h0m4-3h0m6-10h0m35-14h0m9-1h0m3-1h0m1 24h0m26-14h0m6 3h0m3-3h0m11-9h0m2 21h0m1-1h0m3 2h0m1 3h0m-168 9h0m68 9h0m5 3h0m12-17h0m3 29h0m35-23h0m0 13h0m3-6h0m2-13h0m3 27h0m2-2h0m15-1h0m2-18h0m0 2h0m4 15h0m1-22h0m6 13h0m3 0h0m7 5h0m6-13h0m1 10h0m0 0h0m2-16h0m1 14h0m5-3h0m-226 38h0m12-11h0m56 8h0m32 5h0m15-18h0m8 18h0m0-3h0m1-4h0m13-7h0m4 20h0m6-16h0m0-2h0m5 13h0m4-22h0m11 5h0m4-1h0m6 2h0m2 7h0m4-11h0m4 10h0m5 1h0m1-8h0m5 12h0m9-13h0m3 13h0m1 1h0m2 2h0m1-8h0m0-9h0m1 3h0m1 13h0m8-10h0m3 3h0m0-8h0m6 25h0m4-15h0m2 15h0m1 0h0m1-9h0m3-6h0m-190 30h0m18-9h0m21-2h0m7 10h0m9 12h0m16-24h0m22 22h0m8-17h0m9-4h0m15 7h0m2 12h0m3-6h0m0 2h0m13 4h0m7-7h0m4-12h0m2-2h0m1 15h0m8 8h0m5-1h0m2 6h0m6-27h0m2 28h0m6-9h0m2-2h0m0 9h0m1-17h0m7 6h0m-183 24h0m32 18h0m12-27h0m2 9h0m6-8h0m3 21h0m34-14h0m20 13h0m8-7h0m3-14h0m23 20h0m6 0h0m20-3h0m0 7h0m2-2h0m0-13h0m5 2h0m0-12h0m3 0h0m9 1h0m0 28h0m1-11h0m2-1h0m8 5h0m0 1h0m0-19h0m1 13h0m0-6h0m2 12h0m1-1h0m1 6h0m3-13h0m2 7h0m-293 9h0m67 27h0m13-5h0m27-15h0m6-8h0m1 6h0m51 4h0m8 11h0m11-6h0m4-2h0m5 3h0m0 9h0m0-4h0m10-10h0m3 3h0m11-14h0m11 18h0m2-11h0m7 3h0m5 10h0m3 5h0m2-2h0m13-2h0m3-6h0m5-15h0m2 0h0m4 13h0m16 15h0m6 1h0m2-18h0m3-4h0m1 19h0m2-11h0m-255 20h0m12 15h0m7 2h0m43-2h0m0 9h0m3-25h0m1 17h0m6-1h0m11 4h0m3 1h0m25-6h0m1-18h0m14 10h0m35 12h0m5-8h0m9-4h0m17 2h0m0 0h0m9-8h0m11 10h0m1 5h0m4 4h0m4-6h0m1 7h0m1-13h0m3-10h0m0 16h0m9-10h0m1 15h0m1-15h0m1 2h0m13-10h0m0 22h0m2 5h0m3-17h0m7 10h0m4-11h0m3 10h0m6 10h0m-215 1h0m18 25h0m34-16h0m20 3h0m9 10h0m5-19h0m8 26h0m0-27h0m23 24h0m3-24h0m19 0h0m13 17h0m2-18h0m7 18h0m6-4h0m1-2h0m0-13h0m10 4h0m2 6h0m0 3h0m7 10h0m6-3h0m5 1h0m9-11h0m2 17h0m7-15h0m10 8h0m-386 27h0m118 1h0m101-7h0m0 17h0m2-5h0m8-21h0m30 16h0m8-6h0m8 5h0m4-3h0m11 0h0m2 14h0m26 0h0m2-18h0m27-5h0m1 2h0m1 9h0m10 3h0m1-3h0m7 10h0m0-14h0m4-3h0m2 19h0m3-16h0m1-12h0m11 29h0m1-16h0m1 4h0m3-17h0m2 9h0m4 10h0m3-6h0m-363 21h0m68-4h0m3 17h0m78 3h0m46-14h0m4 3h0m1 5h0m6-13h0m4 6h0m6 16h0m8-4h0m8-12h0m6 5h0m1 14h0m2-19h0m3 0h0m37 6h0m4-12h0m3 5h0m4 4h0m1-7h0m11 15h0m2-18h0m4 26h0m3-20h0m1 9h0m3-7h0m1 13h0m12-12h0m20 20h0m0-19h0m10-9h0m5 1h0m6 3h0m1 13h0m1 8h0m0 2h0m8-12h0m1 0h0m-325 28h0m29 3h0m75 9h0m8-20h0m28 6h0m6 9h0m36-12h0m15 0h0m17 11h0m0 7h0m4-19h0m5-7h0m7 15h0m4 5h0m1-21h0m5 6h0m14-6h0m8 8h0m10-5h0m2 0h0m17 6h0m1 0h0m0 7h0m6-14h0m5 5h0m1 16h0m2-23h0m2 1h0m3 12h0m3-10h0m1 20h0m4-8h0m3 6h0m0 2h0m1-18h0m0-3h0m4 0h0m1 13h0m1-15h0m11 22h0m-406 34h0m100-2h0m89-4h0m12-10h0m3-6h0m21 6h0m17 16h0m12-19h0m5 13h0m11 8h0m3-13h0m20 3h0m11 4h0m0 6h0m5-28h0m4 27h0m2-7h0m1 6h0m6-24h0m1 19h0m0-20h0m4 10h0m0-11h0m13 7h0m15 18h0m6-21h0m2 5h0m5 9h0m7-7h0m7 2h0m0 0h0m1 8h0m4 7h0m5-17h0m3 7h0m5-3h0m0-10h0m0-5h0m6 28h0m3-26h0m6 19h0m2-11h0m-341 45h0m53 2h0m55-26h0m10 20h0m5-12h0m5 5h0m7-10h0m2 9h0m9-5h0m18-2h0m12 6h0m4 5h0m11-11h0m1 10h0m18 1h0m6-14h0m6-2h0m3 15h0m13-16h0m2 0h0m5 24h0m7 3h0m4-26h0m9 28h0m0-11h0m6-16h0m17 4h0m4-1h0m0 24h0m2-12h0m2-12h0m1 13h0m20-5h0m9 13h0m11-18h0m6-1h0m8 1h0m2-8h0m2 9h0m2 3h0m-301 40h0m6 3h0m40-17h0m38 18h0m6-21h0m7 18h0m5-20h0m59 18h0m7-5h0m12-15h0m14 25h0m2-22h0m2 18h0m18-7h0m4-2h0m2 6h0m1-4h0m14-3h0m19-1h0m0 14h0m4 4h0m5-10h0m7-12h0m6-2h0m2 22h0m7-6h0m0-20h0m11 23h0m4-16h0m6-3h0m2-1h0m4 5h0m0 6h0m3-7h0m2 5h0m2 13h0m-526 9h0m202 3h0m18 13h0m20-4h0m7 7h0m22-2h0m2-12h0m51 14h0m21-24h0m4 26h0m5-25h0m3 3h0m4 17h0m33-3h0m0-2h0m9 5h0m12 4h0m9-13h0m9 9h0m4-10h0m8 12h0m11-14h0m1-4h0m0 1h0m2 16h0m19-21h0m6 20h0m8-16h0m20 8h0m8-2h0m9 4h0m6-5h0m1 12h0m-403 29h0m91-17h0m30 21h0m41-20h0m36 14h0m14-17h0m34 2h0m11 18h0m0-6h0m9-8h0m7 10h0m2-2h0m3 3h0m9-8h0m25 8h0m3 6h0m22-12h0m1 5h0m1-15h0m0-3h0m5 13h0m19 12h0m6-9h0m2 7h0m4-18h0m2 15h0m1 2h0m0 4h0m4-19h0m6 22h0m0-2h0m6-21h0m2-1h0m2 6h0m5 2h0m4-12h0m0 16h0m8-5h0m4-9h0m1 14h0m0 1h0m-375 20h0m50-6h0m41 20h0m34-13h0m12 18h0m22-25h0m24-2h0m13 12h0m2 0h0m18-7h0m4 1h0m5-1h0m15 7h0m25-3h0m14 6h0m3-7h0m7 8h0m17-4h0m5-11h0m1 19h0m15 2h0m3-18h0m1 21h0m6-6h0m4-3h0m3-16h0m0 25h0m3-15h0m7 12h0m1-16h0m4 18h0m0 2h0m1-21h0m3 22h0m3 2h0m4-16h0m1-7h0m1 21h0m1-11h0m0 9h0m1-11h0m6 8h0m2-6h0m9 2h0m1 7h0m1-15h0m-344 40h0m46-19h0m6 19h0m10-14h0m31 23h0m11-6h0m7-2h0m3 5h0m32-25h0m58 3h0m13 6h0m28 18h0m12 0h0m32-14h0m10 0h0m2 14h0m5-7h0m1 8h0m2-23h0m2 10h0m5 1h0m2-3h0m5-2h0m6-2h0m3 14h0m0-5h0m5 3h0m1-20h0m2 20h0m0-19h0m6 4h0m2 3h0m12 0h0m0 1h0m2 17h0m-299 11h0m6 20h0m22-11h0m67 6h0m2-15h0m9-1h0m10-6h0m1 7h0m5-9h0m36 24h0m13-12h0m9 16h0m2-14h0m16 1h0m1-12h0m20-3h0m10 24h0m25-4h0m9-20h0m19 20h0m1-2h0m4 0h0m0-3h0m1-3h0m10-12h0m3 0h0m0 8h0m-382 46h0m26-1h0m12-13h0m10 2h0m32-9h0m32 9h0m78-4h0m15-3h0m22 19h0m20-22h0m3 26h0m4-15h0m3-5h0m24 21h0m44-18h0m1 3h0m2-2h0m0-2h0m5-6h0m2 1h0m0 6h0m2-11h0m6 4h0m4 20h0m1-14h0m1 11h0m1-8h0m2-5h0m8 11h0m8-14h0m2 5h0m19 12h0m15-14h0m1-6h0m3 9h0m0 8h0m4 0h0m-259 25h0m15-13h0m0 23h0m93 0h0m21-11h0m4 8h0m10-16h0m3 10h0m25 12h0m6-17h0m0 8h0m12 9h0m1-13h0m2 15h0m1-29h0m1 4h0m1-4h0m13 20h0m5-2h0m1-12h0m3 17h0m1-18h0m3 16h0m5-7h0m12-9h0m25 16h0m4-14h0m2-1h0m3 13h0m-297 11h0m104 16h0m58 4h0m10 6h0m11-26h0m14 2h0m25 22h0m2-15h0m1-9h0m1 25h0m9-9h0m18-8h0m10-3h0m2 1h0m0 1h0m5 14h0m6-8h0m18 6h0m8-13h0m7-1h0m2 22h0m1-14h0m1-2h0m3 18h0m-319 28h0m151 2h0m1-20h0m52-9h0m13 18h0m2 5h0m31 5h0m8-23h0m1 12h0m5 1h0m3-8h0m0 7h0m2-6h0m8 14h0m1-2h0m8 1h0m9-9h0m14-9h0m0-3h0m4 22h0m1-5h0m-231 21h0m26 8h0m2 2h0m9-18h0m0 14h0m50 6h0m23-6h0m6 3h0m1-6h0m29-4h0m11 12h0m1 7h0m2-10h0m6-3h0m12-3h0m21 15h0m3-3h0m1-21h0m10 4h0m0-5h0m0 14h0m5-2h0m7-4h0m1 11h0m2 7h0m1-10h0m1 6h0m3-16h0m13-1h0m2 3h0m5-9h0m3-2h0m12 23h0m-233 11h0m32 2h0m24-4h0m6 21h0m24-16h0m51 8h0m3-6h0m5 13h0m6-16h0m10-5h0m7 1h0m21 15h0m0 6h0m1-16h0m2-6h0m1 9h0m0 11h0m17-5h0m3-16h0m5 12h0m14-3h0m2 16h0m7-12h0m-315 29h0m57 8h0m49-3h0m11 11h0m9-25h0m17 15h0m70 4h0m1-19h0m8 20h0m17-10h0m5 0h0m27 8h0m3 1h0m5-8h0m1-8h0m16 19h0m0-14h0m12 14h0m8-6h0m5-11h0m6 15h0m10 4h0m-187 4h0m24-1h0m18 15h0m7-2h0m10-9h0m24 7h0m29-7h0m28 8h0m3 6h0m6-15h0m5 13h0m4-9h0m0-6h0m6 18h0m1 10h0m13-13h0m4 7h0m1-2h0m8-7h0m3 7h0m-143 12h0m37 7h0m17-2h0m22 7h0m30 14h0m5-23h0m23 3h0m0 10h0m16-6h0m11 16h0m1-20h0m3 15h0m-255 16h0m186-6h0m1-1h0m24 7h0m15 10h0m14-9h0m13 16h0m4-10h0m5-7h0m6 14h0m7 3h0m-1021 17h0m814-5h0m108-7h0m11 15h0m35-15h0m11 7h0m8 8h0m3-13h0m2 9h0m3 4h0m5-4h0m19 3h0m12 6h0m-137 14h0m66 2h0m21-3h0m5 20h0m48-21h0m3 15h0m-108 14h0m21 21h0m37-12h0m17 13h0m13-11h0m5-3h0m22 11h0m6-8h0m1 11h0m-21 21h0m39-5h0m6 12h0m10 2h0m2 4h0m-54 1h0m33 4h0m18 18h0"/>
<path d="M4356 601h0m8 15h0m23 35h0m-13 26h0m1 8h0m10 2h0m8-11h0m0-4h0m5-4h0m3-1h0m7 19h0m6 2h0m1 0h0m-45 30h0m10-22h0m24 13h0m11-3h0m-55 24h0m19 3h0m2-6h0m3 18h0m1-1h0m18-4h0m17-4h0m1-5h0m8-4h0m5 16h0m1 1h0m4-14h0m-101 27h0m12 14h0m31 2h0m23 0h0m7 2h0m5-22h0m1 1h0m8 16h0m6 1h0m4-4h0m6-5h0m5-2h0m0 19h0m3-20h0m0-9h0m3 12h0m3 5h0m2 1h0m-81 35h0m27 3h0m2-9h0m4-1h0m26-9h0m4 19h0m0-25h0m3 22h0m4 4h0m2-24h0m4 6h0m1-4h0m3 17h0m-143 30h0m37-9h0m10 4h0m15-15h0m2 3h0m7 0h0m33 3h0m3 11h0m7-18h0m17 23h0m6-5h0m7-5h0m1-12h0m6 7h0m1 12h0m4 7h0m7-24h0m2 10h0m-117 43h0m51-24h0m5 24h0m5-1h0m9-3h0m9-21h0m6 4h0m6 20h0m11-23h0m3 13h0m3 6h0m4 1h0m4-5h0m3-7h0m13 14h0m2 1h0m2-13h0m-169 22h0m42 10h0m2-1h0m40-7h0m0-1h0m6 4h0m16-5h0m7 23h0m3-24h0m12 11h0m2-6h0m0-1h0m12 4h0m6-8h0m6 3h0m6 6h0m10 10h0m6 5h0m7-10h0m4-5h0m1 9h0m2 6h0m-266 12h0m122 9h0m3-5h0m50-3h0m2 17h0m17-16h0m1 3h0m2 7h0m20-16h0m5 7h0m10 9h0m5-7h0m4-11h0m0 17h0m0 3h0m6 0h0m2-7h0m7 4h0m1 6h0m10-18h0m6 18h0m5-15h0m3 17h0m1-10h0m-236 40h0m49-15h0m31 1h0m7 3h0m6-5h0m2 2h0m16 4h0m4-8h0m36-7h0m8 8h0m10 10h0m2-22h0m3 26h0m4-1h0m2-2h0m2-15h0m4 5h0m8 7h0m1 8h0m9-2h0m2-13h0m7 13h0m2-18h0m0-5h0m1 0h0m2-2h0m0 7h0m1 14h0m1-17h0m1 20h0m9-2h0m3-10h0m3 4h0m3-1h0m-194 34h0m15-1h0m25-7h0m6 10h0m0-9h0m28 14h0m26-24h0m5 2h0m5 1h0m9 14h0m1 5h0m20-25h0m0 10h0m8 15h0m3 2h0m3-21h0m6 19h0m2-13h0m0 10h0m12-7h0m4 12h0m8-21h0m2 21h0m0-7h0m15 6h0m7-5h0m4-7h0m1 12h0m2-12h0m12 14h0m-220 16h0m53 15h0m15-12h0m1-14h0m1 14h0m5-5h0m4 11h0m3-4h0m7 0h0m1-2h0m6-3h0m1 0h0m9 11h0m9-8h0m31 4h0m1-16h0m14-3h0m10 23h0m2-13h0m1-12h0m0 20h0m3-1h0m3-11h0m2 7h0m3 2h0m8-6h0m3 4h0m6 9h0m9 3h0m3-23h0m0 3h0m1 21h0m1 0h0m6-4h0m2 5h0m1-21h0m3 10h0m-175 32h0m1-14h0m4 0h0m0 21h0m22-14h0m4 11h0m2-23h0m0 1h0m35 11h0m8-6h0m15 13h0m7 0h0m4-12h0m3 5h0m12 14h0m2-16h0m2 4h0m2-1h0m17 1h0m2 10h0m4-23h0m5 18h0m3 2h0m3-17h0m1 12h0m1-10h0m5 4h0m1-10h0m7 17h0m5-9h0m0 15h0m6-16h0m6 18h0m-178 4h0m10 8h0m14 9h0m17-8h0m3 4h0m5 7h0m2 4h0m9-4h0m6-17h0m5 21h0m6-21h0m8 21h0m1-11h0m3-4h0m1 12h0m2-15h0m5 23h0m6 0h0m6-25h0m6 7h0m15-6h0m0 0h0m0 12h0m9-10h0m5 14h0m0-19h0m1 18h0m2-9h0m3 13h0m12-8h0m3-11h0m0 20h0m1-15h0m7-7h0m3 15h0m7-9h0m1-7h0m0 9h0m1 18h0m2-27h0m4 9h0m-388 40h0m62 6h0m39-16h0m118 17h0m8-9h0m0-19h0m2 8h0m0-7h0m22 14h0m27-6h0m17 11h0m2-15h0m15 11h0m6-3h0m0 7h0m3 6h0m9-6h0m11-19h0m5 16h0m10 12h0m1-7h0m3 1h0m17-5h0m12-12h0m3 4h0m5-5h0m1 9h0m-296 35h0m5 9h0m58-11h0m19-11h0m3 1h0m45 20h0m16-3h0m23 3h0m15-24h0m7 18h0m0-7h0m11-5h0m2 13h0m1 4h0m1-3h0m4 6h0m18-12h0m14-7h0m6 14h0m3-5h0m10-10h0m13 16h0m0-16h0m12 4h0m19 6h0m7-19h0m2 7h0m4 8h0m3-2h0m7 13h0m-397 4h0m129 20h0m12-13h0m37 18h0m3-22h0m12 24h0m5-4h0m5 5h0m11 0h0m6-19h0m22 11h0m18-12h0m8-1h0m1-2h0m0 6h0m10 16h0m1-4h0m6-6h0m4-17h0m22 20h0m6 2h0m0-7h0m7-2h0m6 11h0m3-21h0m0 15h0m41-5h0m1 3h0m4 7h0m27-7h0m1 6h0m-369 37h0m160-18h0m10 3h0m8 6h0m27 1h0m3-17h0m0 21h0m2-19h0m14-3h0m12 14h0m4 6h0m2-5h0m6 7h0m2-17h0m1 1h0m22 15h0m3-3h0m5-6h0m15-2h0m17-12h0m10 14h0m3 5h0m12-4h0m2-12h0m1 8h0m3 5h0m5 12h0m5-2h0m11-22h0m1 16h0m3 2h0m3 1h0m3-8h0m5-5h0m2 2h0m1 7h0m4 4h0m-283 6h0m3 29h0m22-8h0m5-6h0m24 4h0m19 5h0m27-23h0m1 14h0m17-2h0m8 13h0m0-23h0m7 22h0m9-15h0m14 13h0m18-22h0m1 20h0m12-11h0m2-1h0m2 15h0m3-16h0m5 8h0m15 0h0m14 1h0m2 2h0m5 4h0m0-4h0m1-14h0m0-4h0m4 9h0m1 16h0m1-12h0m8-5h0m0 11h0m1-17h0m2 21h0m0-13h0m1-5h0m1 22h0m2-22h0m5-4h0m9 13h0m5-14h0m3 17h0m7 1h0m4 6h0m4-7h0m1-3h0m-327 21h0m2-5h0m53 26h0m51 0h0m9-18h0m14-8h0m6 18h0m6 10h0m1-14h0m16 9h0m3-19h0m4 14h0m21 7h0m16-22h0m9 12h0m18 7h0m10-11h0m1-4h0m1 3h0m1 6h0m3-8h0m15 16h0m1-20h0m8 12h0m14-5h0m4 2h0m2-8h0m3 21h0m2-8h0m2-5h0m3-8h0m12 23h0m5-23h0m3 8h0m0 2h0m8 7h0m3 1h0m1-9h0m10 8h0m-305 8h0m32 9h0m15 12h0m30-4h0m17 6h0m38-19h0m16 3h0m19-4h0m4 14h0m2-13h0m17 15h0m5-4h0m18-4h0m5-6h0m3 12h0m5 3h0m4-21h0m9 22h0m11-8h0m2 1h0m3-10h0m3 15h0m0-16h0m6-3h0m2 14h0m0 1h0m2-14h0m1 13h0m10 1h0m5-2h0m1-9h0m3 22h0m0 0h0m3-3h0m1-8h0m7-7h0m2 8h0m9-7h0m3 12h0m9-7h0m3 8h0m-328 20h0m1 15h0m0-20h0m20 5h0m29-6h0m11 5h0m30-10h0m3 6h0m6 0h0m31-7h0m20 24h0m14-18h0m1 7h0m6-4h0m2 0h0m10 3h0m21 3h0m4 9h0m20-23h0m10 2h0m17 19h0m5-15h0m1 14h0m4-10h0m0-1h0m0 16h0m3-22h0m0 1h0m4-5h0m2 11h0m6-9h0m0 24h0m3-27h0m3 27h0m5-13h0m10-8h0m20 20h0m10-12h0m-367 27h0m71-1h0m31-9h0m1 13h0m35-3h0m36 3h0m2 2h0m13-15h0m7 10h0m13 9h0m2-1h0m13 4h0m20-17h0m8 15h0m2-12h0m11-9h0m4 0h0m3 20h0m4-5h0m4-13h0m13 24h0m0-8h0m11 4h0m12-11h0m3 3h0m5 8h0m7-3h0m9-19h0m5 16h0m1-11h0m17 10h0m2-8h0m6 4h0m2 18h0m4-21h0m1 12h0m2 0h0m10-2h0m0-6h0m5 13h0m-377 27h0m47-13h0m22 12h0m60 3h0m17-13h0m48 7h0m3 4h0m1-2h0m4-5h0m0 6h0m15-18h0m19 13h0m6 2h0m8 0h0m12 6h0m6-10h0m5 2h0m29-10h0m0 9h0m19 7h0m8-9h0m4 8h0m3-6h0m1-6h0m10 15h0m1-1h0m6 1h0m3-5h0m4-4h0m17-2h0m14 15h0m3 0h0m-436 26h0m24-1h0m92-13h0m19 6h0m42-4h0m62 14h0m11-14h0m15 8h0m4-10h0m20-3h0m3 5h0m4 11h0m36-15h0m0-2h0m2 11h0m9 4h0m11-19h0m3 0h0m1 1h0m6 2h0m0-4h0m0 15h0m8-14h0m9 0h0m16 4h0m7 6h0m1-5h0m6 15h0m9 4h0m10-3h0m9-3h0m1 3h0m-357 16h0m49-7h0m84 17h0m42-8h0m2 0h0m15 7h0m0 6h0m4-18h0m17 20h0m25-9h0m1 4h0m1 7h0m7-26h0m13 7h0m18-8h0m22 7h0m9-7h0m2 9h0m2 5h0m0-11h0m5 17h0m6-2h0m1 6h0m11 2h0m3 1h0m2-20h0m12 19h0m0-10h0m2 2h0m3 6h0m4-4h0m11-15h0m3 22h0m3-2h0m-336 7h0m16 11h0m15-2h0m4 10h0m26-3h0m5 0h0m5-18h0m8 19h0m6 1h0m26-6h0m19-4h0m50 11h0m7-21h0m13 12h0m1 10h0m50-7h0m17-15h0m6 2h0m5 5h0m0 10h0m8 2h0m5 5h0m0-3h0m5 5h0m14-13h0m1 10h0m5-10h0m10-11h0m19 18h0m-419 26h0m136 1h0m23 0h0m5-1h0m3 4h0m25-16h0m27 23h0m4-17h0m40-8h0m7 3h0m9 8h0m12 10h0m6-13h0m5-7h0m33 6h0m6-7h0m2 25h0m10-28h0m3 23h0m4 2h0m9-18h0m20 5h0m9-3h0m5-1h0m3 3h0m18-9h0m9 0h0m3 26h0m-206 15h0m5-12h0m0 0h0m2 17h0m28-9h0m12 19h0m4-22h0m11 0h0m3-6h0m3 12h0m2 1h0m7 5h0m0 10h0m2-24h0m26 1h0m9 3h0m5 1h0m1 5h0m18 15h0m2-22h0m11 4h0m15 14h0m12-9h0m2-5h0m7 6h0m3 12h0m6-8h0m11 8h0m-242 10h0m31 11h0m9-5h0m5-12h0m2 8h0m36 0h0m6-10h0m34 20h0m8-16h0m3 16h0m23 8h0m40-25h0m6 15h0m21 8h0m1-10h0m5 2h0m4 3h0m7-22h0m10 12h0m10 6h0m2 0h0m0-7h0m1-1h0m2-10h0m0 12h0m2-2h0m14 19h0m-248 13h0m40 13h0m20-21h0m66 21h0m38-7h0m16-6h0m1 14h0m7 3h0m16-23h0m2 19h0m8-4h0m0-20h0m2 25h0m8 0h0m3-24h0m3 3h0m9-1h0m11 22h0m-171 12h0m8 0h0m14 11h0m1 2h0m3 7h0m37-11h0m3-8h0m4 9h0m19-13h0m5 9h0m20-2h0m2 14h0m3-13h0m0-1h0m7-2h0m21 6h0m6-14h0m1 19h0m3 1h0m3-2h0m0 8h0m4-18h0m13 15h0m-221 6h0m2 16h0m12-15h0m16-1h0m38 18h0m18 2h0m9-21h0m14 28h0m6-23h0m2 10h0m22-9h0m1 12h0m7-9h0m10 10h0m27-17h0m3 27h0m1-28h0m1 17h0m19 3h0m15-16h0m9 13h0m3-7h0m2 15h0m3 3h0m5-1h0m-236 24h0m89-14h0m2 13h0m61 5h0m5-23h0m12-2h0m12 4h0m14 12h0m2-7h0m1 11h0m3-16h0m1-2h0m2 2h0m16 22h0m1-13h0m6 7h0m1-6h0m8-9h0m0 14h0m4-12h0m15 0h0m1 3h0m-123 23h0m0 4h0m24-6h0m50 3h0m3-3h0m2 5h0m2 8h0m25-10h0m0 20h0m1-2h0m0-1h0m7-10h0m6-8h0m16 21h0m-171 31h0m34-2h0m22-23h0m0 13h0m22-10h0m62 16h0m22-16h0m4 22h0m7-19h0m12 12h0m-56 28h0m15 1h0m15-11h0m14 16h0m11-20h0m2 23h0m1-18h0m9-5h0m2 16h0m8 6h0m2 3h0m3-8h0m0 2h0m-547 27h0m482-19h0m22 10h0m13-1h0m0 17h0m7-9h0m14-10h0m6-4h0m8 8h0m7 5h0m-31 34h0m4-16h0m14 21h0m32 2h0m-114 6h0m3-1h0m75 6h0m30 11h0m15 6h0m3 4h0"/>
</g>
<rect x="304.4" y="13.9" width="236.9" height="230.7" fill="none" stroke="#8e8e8e" stroke-width="1"/>
<path d="M324.1 245.1v1.6M363.6 245.1v1.6M403.1 245.1v1.6M442.6 245.1v1.6M482.1 245.1v1.6M521.6 245.1v1.6M303.9 222.9h-1.6M303.9 178.9h-1.6M303.9 134.9h-1.6M303.9 90.9h-1.6M303.9 46.9h-1.6" stroke="#707070" stroke-width=".75" fill="none"/>
<g font-family="'DejaVu Sans','Liberation Sans',sans-serif" font-size="4.65" fill="#2a2a2a" stroke="#2a2a2a" stroke-width=".08">
<text x="324.1" y="252.0" text-anchor="middle">0.0</text>
<text x="363.6" y="252.0" text-anchor="middle">0.2</text>
<text x="403.1" y="252.0" text-anchor="middle">0.4</text>
<text x="442.6" y="252.0" text-anchor="middle">0.6</text>
<text x="482.1" y="252.0" text-anchor="middle">0.8</text>
<text x="521.6" y="252.0" text-anchor="middle">1.0</text>
<text x="301.0" y="223.6" text-anchor="end">0.0</text>
<text x="301.0" y="179.6" text-anchor="end">0.2</text>
<text x="301.0" y="135.6" text-anchor="end">0.4</text>
<text x="301.0" y="91.6" text-anchor="end">0.6</text>
<text x="301.0" y="47.6" text-anchor="end">0.8</text>
</g>
<g font-family="'DejaVu Sans','Liberation Sans',sans-serif" font-size="7.6" fill="#000" stroke="#000" stroke-width=".1" text-anchor="middle">
<text x="422.5" y="10.5">Strategy 2</text>
<g font-size="7.4">
<text x="426.3" y="26.7"><tspan font-style="italic">n</tspan> Ach</text>
<text x="322.8" y="234.2"><tspan font-style="italic">n</tspan> Pow</text>
<text x="523.9" y="234.2"><tspan font-style="italic">n</tspan> Aff</text>
</g></g>
</g>
<g>
<path d="M40.0 500.1L138.6 309.6L237.2 500.1Z" fill="none" stroke="#d2d2d2" stroke-width=".75" stroke-dasharray=".9 .7"/>
<circle cx="40.0" cy="500.1" r="1.85" fill="#000"/>
<circle cx="237.2" cy="500.1" r="1.85" fill="#000"/>
<circle cx="138.6" cy="309.6" r="1.85" fill="#000"/>
<g transform="scale(.1)" fill="none" stroke="#1f77b4" stroke-width="12" stroke-linecap="round" stroke-opacity="0.41">
<path d="M881 4344h0m13 70h0m-195 77h0m3-16h0m-12 49h0m41-23h0m-85 53h0m45-5h0m-70 31h0m52 8h0m18-16h0m27 1h0m26-3h0m-143 47h0m65-23h0m74-4h0m-138 50h0m29-20h0m88 22h0m33-10h0m8-10h0m87 20h0m-233 25h0m77 8h0m1 2h0m90-7h0m-225 33h0m17-1h0m7-6h0m11 5h0m9 7h0m38-14h0m2 1h0m25-1h0m22-6h0m0-6h0m6 17h0m30 4h0m5-4h0m22 5h0m16-5h0m32-9h0m34-6h0m-283 46h0m7-6h0m3 11h0m10 2h0m7-4h0m0 6h0m1-18h0m5 16h0m3-10h0m6 6h0m2-3h0m3-14h0m6 11h0m18 7h0m0-13h0m16 9h0m6-16h0m52 5h0m2 1h0m11 18h0m390-6h0m-505 27h0m2-11h0m8 8h0m11 4h0m1-12h0m2 5h0m10 5h0m1-2h0m8 1h0m11 6h0m2-18h0m19 3h0m7 8h0m11-2h0m1-11h0m4 13h0m3-2h0m7-13h0m39 10h0m27 3h0m14-6h0m1 2h0m-271 44h0m11-12h0m1 9h0m1-13h0m1 0h0m1-8h0m6 4h0m1-4h0m9 27h0m4-19h0m3 2h0m3 19h0m1-5h0m1-15h0m4 18h0m1-15h0m2-5h0m1-5h0m2 21h0m1-15h0m1 1h0m2-6h0m4 1h0m1-1h0m11 13h0m7-6h0m3-8h0m9 0h0m1 25h0m3-18h0m3-4h0m3 7h0m3-1h0m10-6h0m1 10h0m18 1h0m25-8h0m11 9h0m44-11h0m32 8h0m80 4h0m-343 40h0m3-13h0m6-2h0m9 16h0m4-9h0m2-10h0m2-1h0m0 4h0m2-5h0m4 14h0m1 0h0m1 7h0m2-25h0m1 23h0m1-25h0m3 7h0m1 14h0m8-9h0m4-11h0m3 11h0m2 10h0m1-4h0m4 4h0m0-21h0m5 10h0m9-8h0m2 11h0m4-4h0m0 11h0m1 1h0m9-5h0m0 6h0m7-14h0m6 11h0m2-5h0m0 9h0m3-4h0m1-14h0m2 19h0m2-9h0m5-16h0m0 18h0m3-8h0m0-3h0m1-6h0m9 6h0m0-5h0m7 25h0m2-24h0m5 17h0m0-17h0m20 21h0m1 0h0m3-8h0m3 3h0m5-21h0m26 23h0m12-14h0m14 11h0m2-6h0m0-4h0m71-8h0m20 23h0m14-18h0m10-1h0m2 10h0m-364 43h0m0-7h0m4 5h0m0-8h0m0 9h0m3-19h0m3 0h0m0 18h0m1-17h0m2 19h0m0-10h0m1-9h0m1 13h0m2 3h0m3-10h0m3-6h0m1 16h0m3-8h0m1 3h0m9 1h0m2 2h0m5-17h0m1 9h0m1 12h0m1-28h0m1 25h0m0-6h0m5-14h0m1-5h0m3 2h0m1 24h0m1-20h0m1 18h0m3 4h0m5-17h0m0 14h0m1-3h0m7-1h0m7-21h0m2 10h0m2 7h0m0-9h0m1-2h0m5 20h0m4-8h0m3 5h0m1-7h0m17-14h0m10 8h0m0 16h0m11-24h0m14 5h0m4 5h0m5-7h0m2 11h0m2 10h0m3-25h0m7 8h0m11 3h0m16 8h0m11-13h0m10-4h0m13 5h0m22-5h0m23-2h0m21 17h0m-320 41h0m11-7h0m2-9h0m1 8h0m0 6h0m2-19h0m2 1h0m1 16h0m1 2h0m5 0h0m0-25h0m1 13h0m3 2h0m1-15h0m0-1h0m2 16h0m5-2h0m2-5h0m1 19h0m7-8h0m1-11h0m3 7h0m1-1h0m1-11h0m0 10h0m3 13h0m3-1h0m1 0h0m2-2h0m0-2h0m2 5h0m1-21h0m2 10h0m1-4h0m3-3h0m0 16h0m1-7h0m3 2h0m2-18h0m3 23h0m5-18h0m1 17h0m1-18h0m1 21h0m0-13h0m5-3h0m0 5h0m0-10h0m5 17h0m4 3h0m0-14h0m7-8h0m6 16h0m0 5h0m7-23h0m5 26h0m2-25h0m0 10h0m1 7h0m1-16h0m2 12h0m0 5h0m2-22h0m0 12h0m1 2h0m0-4h0m2 16h0m3-10h0m3 0h0m0-5h0m0-9h0m3 12h0m4 0h0m9-8h0m4 18h0m5-9h0m3 4h0m4-7h0m5 2h0m8-4h0m4-9h0m4 23h0m0 5h0m0-18h0m1-10h0m30 21h0m2-1h0m0 4h0m0-14h0m4-10h0m20 12h0m23-8h0m6 4h0m23-4h0m2 18h0m1-4h0m8-13h0m13 7h0m30 6h0m55-2h0m-438 42h0m5-3h0m3 2h0m5-16h0m4 14h0m3 1h0m0-18h0m4-1h0m1 20h0m3-22h0m2 2h0m0 12h0m0 6h0m1-15h0m0 5h0m0 12h0m1-24h0m1-4h0m0 0h0m1 4h0m0 16h0m1-3h0m1 6h0m0-20h0m4 5h0m2 12h0m3-10h0m6 1h0m0 9h0m0-1h0m0 0h0m5-3h0m2 9h0m0-4h0m1-17h0m4 22h0m2 0h0m1-1h0m0-11h0m2 13h0m5-9h0m2 3h0m6 8h0m3-5h0m2 3h0m2-22h0m1 7h0m1 13h0m1-10h0m4-5h0m0 19h0m4-9h0m1-12h0m1-1h0m2-2h0m1 3h0m1 6h0m4-10h0m1 4h0m2-5h0m1 1h0m2 15h0m1-5h0m2 15h0m5-16h0m7 10h0m4-11h0m5-10h0m0 19h0m14-11h0m0-5h0m3 22h0m3-23h0m1-1h0m3 0h0m0 12h0m1 6h0m5-7h0m1-4h0m2 11h0m2 8h0m2-20h0m6 18h0m1-6h0m5-2h0m3-15h0m1-3h0m4 22h0m5-6h0m10 2h0m2-5h0m14 9h0m0-17h0m9 23h0m26-17h0m12-1h0m0 16h0m12-12h0m14-12h0m35 19h0m18-12h0m46 4h0m11-11h0m6 16h0m92 10h0m11-4h0m1 0h0m-529 28h0m4 4h0m1-15h0m1 4h0m1-6h0m1 17h0m1 1h0m1-20h0m2 7h0m1 1h0m1-8h0m0 7h0m0-4h0m1-9h0m0-2h0m0 26h0m0-10h0m1 10h0m2-21h0m0-5h0m2 3h0m1 26h0m1-7h0m1 2h0m0 0h0m0-22h0m1 25h0m0-11h0m0 10h0m2-19h0m0 10h0m3 7h0m0-12h0m0-7h0m2 24h0m0-20h0m0-5h0m1 18h0m3-18h0m0 25h0m0-15h0m2-5h0m1 19h0m2-12h0m0-15h0m2 9h0m0 10h0m1-8h0m2-10h0m0 7h0m2 12h0m0-18h0m1-3h0m0 9h0m1 17h0m0-7h0m0 3h0m1-2h0m1-15h0m0 17h0m2-17h0m2 22h0m0-15h0m1 12h0m0-21h0m1 24h0m0-9h0m1-17h0m0 27h0m0-15h0m1 8h0m0 1h0m2-12h0m0 16h0m2-7h0m1-7h0m2-4h0m0 14h0m3-13h0m2-5h0m0 25h0m5-29h0m1 21h0m1 7h0m0-9h0m2-9h0m1 17h0m5-26h0m3 10h0m0-10h0m7 5h0m1 19h0m0-21h0m4 18h0m0-14h0m1 0h0m1 15h0m0-13h0m1 2h0m0-1h0m2 1h0m1 16h0m1-27h0m4 24h0m1-14h0m1 17h0m2-16h0m0 8h0m1 8h0m1-17h0m1 15h0m5-1h0m9-5h0m3 1h0m1-20h0m0 3h0m1 9h0m0 13h0m1-12h0m3-14h0m0 4h0m1 20h0m2 3h0m5-14h0m4-1h0m4 12h0m2-22h0m9 9h0m1-10h0m1 8h0m5-2h0m0 5h0m3-10h0m1 24h0m1-11h0m9-15h0m3 25h0m1-4h0m4 8h0m2-13h0m0-2h0m4 12h0m12-12h0m1 14h0m2 0h0m5-9h0m1-19h0m1 1h0m5 16h0m2-1h0m15-16h0m2 16h0m1-10h0m11 22h0m9-1h0m9-12h0m1-1h0m3 12h0m20-15h0m1 1h0m1-5h0m18-4h0m26 5h0m3-5h0m68 13h0m31 1h0m198-16h0m-667 55h0m0 1h0m1-6h0m2 1h0m0-4h0m1-4h0m0 6h0m1 8h0m0-16h0m0 6h0m0 0h0m1-1h0m1 11h0m0-1h0m1-11h0m0 13h0m1-8h0m0 2h0m2-15h0m0-7h0m1 17h0m0 2h0m2-1h0m2-1h0m0 8h0m0 3h0m0-4h0m1-1h0m0-6h0m0-13h0m1 3h0m0 21h0m2-3h0m0-14h0m1-3h0m0 19h0m0-4h0m2-23h0m1 21h0m1-4h0m1-16h0m0 15h0m1-6h0m1-1h0m2-4h0m0 13h0m0-13h0m1 13h0m0-6h0m1 16h0m0-6h0m1-6h0m1 10h0m1-7h0m0-15h0m1 19h0m0 5h0m3-25h0m2 7h0m5-7h0m0 3h0m0 4h0m0 7h0m1 10h0m1-14h0m1 9h0m1-7h0m0 8h0m1-19h0m0 10h0m0 9h0m1-17h0m0-4h0m1 12h0m2 1h0m2-15h0m2 16h0m0-12h0m2 1h0m1 16h0m0-13h0m1-3h0m0-2h0m2 20h0m0-7h0m1 12h0m0-2h0m1-14h0m2 15h0m1-6h0m0-16h0m1 6h0m0 1h0m0-4h0m1 0h0m1 3h0m1-7h0m0 10h0m1-6h0m1 19h0m0-22h0m0 8h0m1-7h0m0 9h0m1 2h0m1-13h0m0 16h0m0-12h0m0 14h0m1-18h0m0 21h0m1-14h0m0-6h0m1 7h0m2-13h0m2 21h0m1-7h0m0 5h0m2-18h0m0 25h0m1-6h0m0 9h0m1-7h0m3-21h0m1 4h0m0 22h0m0-11h0m1-4h0m0-1h0m2 17h0m1-5h0m1 1h0m1-23h0m1 19h0m1 7h0m0-7h0m4-16h0m0 23h0m4-13h0m1-5h0m4 17h0m1-5h0m4 7h0m2-27h0m1 5h0m2 11h0m1-10h0m1 13h0m0-14h0m4 6h0m0 8h0m5-10h0m8-4h0m0 4h0m1-5h0m1-2h0m1 8h0m2 13h0m0 1h0m2-14h0m3-2h0m2 3h0m1-1h0m2 7h0m5-14h0m1 5h0m0 9h0m1-1h0m2 5h0m0-11h0m8 7h0m11-2h0m3 13h0m0-29h0m0 19h0m4 5h0m1-16h0m4-3h0m0 3h0m2 20h0m11-2h0m2-5h0m4-4h0m6-17h0m4 11h0m6 10h0m2-21h0m2 14h0m0-8h0m13-3h0m8 17h0m3-3h0m34-9h0m4 12h0m3-5h0m35-12h0m1 22h0m22-10h0m22 8h0m15-19h0m119 3h0m-526 34h0m0 0h0m1-3h0m0-4h0m3 10h0m4 6h0m0-10h0m1-5h0m0 5h0m0-10h0m1 4h0m0 8h0m2 7h0m0-11h0m0 10h0m1-9h0m0 4h0m0-4h0m1 5h0m1-2h0m1 1h0m0-13h0m3 11h0m2 3h0m1-14h0m0 19h0m1-14h0m0 1h0m0-4h0m2 14h0m0-4h0m5 4h0m0-15h0m0 8h0m1 3h0m1-4h0m1-5h0m1 10h0m1 1h0m0 0h0m0 6h0m2-11h0m1 7h0m0-16h0m1 16h0m1-3h0m2-6h0m1-3h0m1 13h0m3 0h0m1-11h0m1 13h0m2-6h0m1 0h0m2-5h0m1-8h0m1 14h0m1-8h0m0 6h0m1 0h0m0-9h0m1 14h0m0 4h0m1-21h0m1 17h0m0-8h0m0-8h0m1 12h0m1 5h0m0-13h0m1 12h0m1 2h0m1-4h0m0-14h0m0-1h0m1 4h0m1-3h0m0 8h0m1 11h0m1-9h0m0 4h0m1-5h0m1 0h0m0 1h0m1-1h0m1-9h0m0 17h0m1-15h0m0 4h0m4 8h0m2-15h0m1 4h0m1 6h0m2 9h0m3-7h0m4-11h0m0 5h0m2 5h0m1 6h0m7-16h0m1 15h0m5-15h0m2 3h0m0 12h0m3 2h0m5-16h0m0 1h0m1 8h0m1-5h0m0 3h0m1-9h0m0 19h0m1-17h0m4 13h0m4 1h0m1-7h0m2 3h0m1-11h0m1 8h0m0 7h0m1-10h0m8 12h0m0-15h0m2 0h0m1 14h0m0 1h0m1-3h0m2 1h0m1 2h0m0-16h0m6 11h0m2-6h0m2 11h0m2-16h0m2 3h0m2-5h0m0 10h0m3-3h0m1 10h0m10 0h0m3-7h0m1-3h0m0 9h0m1-3h0m9-13h0m7 12h0m6 0h0m7-12h0m7 20h0m4-13h0m15 7h0m0 0h0m14-13h0m1 1h0m9 13h0m9 6h0m7-9h0m6-1h0m6 3h0m26-3h0m12 6h0m27-16h0m5 15h0m73-9h0m109 11h0m279-3h0"/>
<path d="M852 4436h0m-106 15h0m-56 47h0m85-28h0m24 44h0m-157 27h0m1 13h0m75-17h0m3 2h0m141 14h0m111-8h0m-295 37h0m14-13h0m39 4h0m-113 28h0m16 8h0m19-9h0m54 5h0m25-6h0m134-5h0m-202 51h0m17-5h0m22 9h0m202-11h0m25-6h0m-349 20h0m20 22h0m25-4h0m7 0h0m90 4h0m8-13h0m-163 47h0m20-16h0m6 6h0m34-8h0m0 1h0m3 18h0m1-3h0m10-26h0m9 21h0m32-4h0m21 10h0m5-21h0m0 6h0m39 15h0m91-27h0m8 17h0m148-1h0m-456 41h0m12-3h0m4 1h0m25-9h0m7 9h0m4-2h0m1 3h0m8-7h0m4-11h0m1 21h0m9-1h0m9-26h0m24-1h0m4 28h0m4-28h0m29 21h0m0-16h0m6 7h0m0-12h0m12 24h0m2 1h0m7 2h0m78-5h0m-248 29h0m19 1h0m6-23h0m1 18h0m3-5h0m1 9h0m14-12h0m35 16h0m2 2h0m5-26h0m6 13h0m7 14h0m31-6h0m4-20h0m4 20h0m10-7h0m7 12h0m6-8h0m27-6h0m13-11h0m99 22h0m-323 20h0m8 12h0m4-6h0m3-16h0m7 23h0m8-2h0m2-15h0m0-1h0m4-5h0m7-4h0m3 9h0m13 14h0m2-21h0m10 21h0m8-11h0m6-7h0m6 16h0m2 6h0m2-9h0m3 6h0m5-21h0m1 5h0m10 13h0m3-10h0m13 17h0m0-27h0m9 4h0m5 7h0m10-2h0m2-1h0m7-1h0m27 19h0m9-8h0m9 8h0m24-28h0m12 2h0m73 4h0m12 23h0m25-22h0m-378 50h0m3-5h0m8-21h0m2 18h0m0-13h0m1 7h0m2 4h0m3-14h0m1 9h0m2 4h0m6 0h0m0 8h0m1-3h0m1-13h0m0-2h0m8 15h0m0-9h0m5-11h0m2 27h0m1-4h0m2-17h0m6 11h0m2-13h0m7 20h0m19-21h0m1-3h0m1 9h0m5-3h0m3 16h0m0-5h0m3 1h0m4-12h0m2 18h0m4-25h0m0 16h0m3 0h0m3-14h0m8 8h0m3 12h0m15-15h0m10 8h0m34 11h0m15-9h0m13 7h0m16-21h0m1 2h0m1 18h0m24 6h0m6-15h0m1-2h0m164 10h0m1-13h0m-437 46h0m1 2h0m5-1h0m2-12h0m2 13h0m1-25h0m0 0h0m1 7h0m2 1h0m1-4h0m2 6h0m4 14h0m1-21h0m0 17h0m3 5h0m6-6h0m1-21h0m2 17h0m3 6h0m0-7h0m2-13h0m2 9h0m6-5h0m8 13h0m1 6h0m3-21h0m2 7h0m0 16h0m1-19h0m0-3h0m0 18h0m0-1h0m3-9h0m1-7h0m1 0h0m0 18h0m2-23h0m0 10h0m1 14h0m8-11h0m1-7h0m1 12h0m1-8h0m2 6h0m1 2h0m2-2h0m4-12h0m3 7h0m0 14h0m4-1h0m1 2h0m0-4h0m0 2h0m8-17h0m1 13h0m4 3h0m3-3h0m2-16h0m10 5h0m1 7h0m10-5h0m2-11h0m5 24h0m3 1h0m1-5h0m1 2h0m5-22h0m2 20h0m5-2h0m6-19h0m1-1h0m1 26h0m2-18h0m2 11h0m4 0h0m3-9h0m2-6h0m37 10h0m6 15h0m20-4h0m2-4h0m23-16h0m24 0h0m27 14h0m44-7h0m45 2h0m-427 45h0m3-2h0m3 0h0m6-11h0m0 12h0m0-26h0m2 16h0m3 7h0m4 2h0m1-4h0m1-18h0m0 21h0m0-20h0m1 9h0m1 9h0m7-17h0m1-5h0m0 20h0m4 5h0m0-19h0m1-1h0m1 14h0m1 3h0m4-3h0m4-15h0m3-4h0m5 1h0m1 1h0m3 6h0m1-7h0m0 11h0m1-14h0m4 14h0m3 7h0m2-9h0m2 0h0m3 7h0m1-12h0m4-6h0m1 12h0m0 14h0m4-20h0m1 12h0m2 9h0m0-23h0m4 1h0m0 19h0m0-16h0m6 14h0m4-20h0m1 22h0m1-20h0m0 10h0m1-1h0m1-10h0m1 1h0m2-4h0m0 6h0m3 17h0m0-15h0m20-1h0m1 5h0m4-12h0m9 2h0m1 22h0m7 2h0m1-12h0m4 13h0m10-5h0m4-2h0m4-18h0m16 3h0m2 21h0m9-13h0m5-3h0m2 9h0m5-12h0m12 12h0m3-14h0m1 14h0m2 0h0m1-14h0m1 23h0m56-9h0m26-7h0m12-10h0m6 14h0m4 10h0m27 1h0m36-3h0m30 3h0m12-17h0m8 6h0m-469 38h0m0-5h0m4-1h0m1-4h0m1-5h0m1 8h0m0 3h0m1-2h0m0-12h0m1 20h0m1-6h0m0-3h0m0-11h0m1-7h0m0 1h0m1 10h0m2 1h0m1 12h0m1 4h0m0-15h0m1-5h0m1 9h0m0-17h0m1 16h0m0-3h0m0-5h0m1-2h0m5 19h0m0-2h0m0 4h0m1-11h0m6-16h0m1 26h0m0-17h0m0-4h0m1 18h0m0-7h0m2-11h0m0 5h0m5 4h0m4 10h0m1-4h0m1-15h0m3 7h0m1-2h0m0 17h0m2-10h0m0 10h0m0-6h0m0-19h0m0 24h0m1 1h0m0 1h0m2-26h0m1 11h0m0-3h0m0 8h0m1 6h0m3-9h0m1 0h0m8 10h0m4-16h0m4 11h0m0-4h0m3 7h0m2-11h0m1 15h0m3-16h0m1-6h0m0-2h0m0 2h0m1-4h0m1 0h0m0 0h0m4 27h0m1-23h0m1 18h0m1-16h0m2 16h0m1-13h0m0 17h0m1-25h0m3 3h0m2 18h0m5-8h0m5 10h0m2-21h0m1-3h0m5 24h0m1-18h0m2 12h0m0-10h0m3 13h0m1 5h0m1-3h0m1-1h0m0 0h0m3-16h0m3 4h0m1-8h0m1 25h0m3-4h0m8-10h0m0 2h0m8-11h0m5 2h0m2 4h0m8-7h0m1 6h0m7-7h0m1-3h0m1 11h0m2 8h0m6-11h0m2-7h0m6 18h0m2 1h0m22 6h0m3-11h0m5 4h0m4 5h0m2-5h0m0-4h0m5 13h0m10-14h0m6 6h0m9-18h0m40 3h0m5 23h0m9-3h0m15-16h0m5-3h0m8 4h0m25-10h0m3 10h0m3 3h0m35 3h0m47 4h0m-481 35h0m0 3h0m1-1h0m3 0h0m0-4h0m1 1h0m1-4h0m4 7h0m0-1h0m1-1h0m0-16h0m0 8h0m0 6h0m0-11h0m1 8h0m1-18h0m1-2h0m0 29h0m0-2h0m1 0h0m2-7h0m0-10h0m0 1h0m4-5h0m0-2h0m0 2h0m0-4h0m0 0h0m1 6h0m0 21h0m1-9h0m0 0h0m2-12h0m0-2h0m1-3h0m0 14h0m1-17h0m0 10h0m5 15h0m1-6h0m1-11h0m2 0h0m2 19h0m3-25h0m0 13h0m1 7h0m0-12h0m1 16h0m1-1h0m4-7h0m0-3h0m0-15h0m3 23h0m0 4h0m1 1h0m0-8h0m1 4h0m1-6h0m0 1h0m0-12h0m2-1h0m0 3h0m3-9h0m1 4h0m0 21h0m1-25h0m1 7h0m0 5h0m1 1h0m2 9h0m2-2h0m0-3h0m0 12h0m3-19h0m1 9h0m4-8h0m1 8h0m1-10h0m1 16h0m1-17h0m12-7h0m0 21h0m1-16h0m0 5h0m1 7h0m1 11h0m0-15h0m3 15h0m0-26h0m3 8h0m2 14h0m0-11h0m3 13h0m4-25h0m2 26h0m0-14h0m10 0h0m2 11h0m1-17h0m2 5h0m4 15h0m0-14h0m3 12h0m1 0h0m2-12h0m1-4h0m1 2h0m6 7h0m3-17h0m1 13h0m0-5h0m4 18h0m2-1h0m0-7h0m7-10h0m3-4h0m7 22h0m1-3h0m0-10h0m1-1h0m0-11h0m4-3h0m29 29h0m12-5h0m6-18h0m13 10h0m5-15h0m10 24h0m15-17h0m2 5h0m1-13h0m3 12h0m3 13h0m12-16h0m2 8h0m17 4h0m4-1h0m2 1h0m5-4h0m0-13h0m2 0h0m10 8h0m4 5h0m11-4h0m92 2h0m19-7h0m3 13h0m2-15h0m148-1h0m9 5h0m-634 47h0m0-4h0m2 4h0m1-2h0m1-5h0m0 5h0m0-1h0m1 2h0m3 3h0m3-27h0m0 0h0m1 24h0m1-18h0m0 15h0m1-7h0m0 6h0m1-6h0m0-16h0m0 12h0m1 12h0m0-9h0m0 0h0m1-11h0m1 23h0m0-13h0m1-2h0m0-3h0m1 2h0m0-5h0m1 10h0m0 13h0m1-2h0m2-10h0m1-14h0m0 3h0m1 7h0m0-5h0m1 21h0m0-15h0m2-8h0m1 15h0m1-9h0m1-3h0m1 4h0m0 5h0m0 2h0m2-17h0m0 20h0m0 5h0m1-20h0m0 17h0m3-13h0m0 17h0m0-23h0m0 16h0m1-16h0m1-3h0m1-2h0m0 15h0m2-2h0m0 8h0m0-2h0m1-12h0m1-8h0m0 24h0m3-1h0m1-7h0m1 3h0m0-2h0m2-11h0m1 5h0m0-7h0m1 1h0m0 16h0m1-5h0m0 10h0m1 1h0m1-19h0m1-1h0m2 6h0m3 5h0m4 0h0m2-8h0m0 16h0m2-2h0m3-16h0m5 21h0m0-24h0m1 8h0m0 2h0m2-8h0m1 8h0m0 9h0m1-11h0m2-9h0m1 24h0m1-11h0m1-1h0m1 1h0m2-12h0m0 11h0m0-8h0m2 16h0m1-16h0m1 2h0m0-1h0m1-9h0m5 26h0m1-6h0m0-1h0m0-2h0m1-1h0m2 2h0m2-3h0m1-12h0m4 24h0m2-13h0m1-11h0m3 20h0m0-13h0m1-6h0m1-3h0m1 0h0m2 22h0m4-2h0m2-4h0m1 0h0m0 1h0m1-3h0m0 10h0m3-22h0m1 26h0m0-12h0m9-17h0m4 6h0m1 19h0m1-10h0m0 10h0m4-13h0m3 8h0m1-18h0m4 16h0m0-8h0m1-6h0m7-2h0m1 1h0m0 8h0m8-11h0m1 24h0m4 3h0m0-22h0m7 14h0m4-11h0m1-2h0m1 21h0m5-24h0m3 26h0m9-17h0m2 14h0m0 0h0m3-26h0m2 4h0m2 0h0m2 4h0m3-7h0m14 9h0m11 2h0m2-3h0m26 3h0m11 14h0m9-8h0m13 5h0m2-15h0m8 18h0m70 3h0m2-17h0m0-12h0m6 20h0m31-14h0m-448 42h0m3-4h0m1 1h0m2-8h0m2-1h0m3 6h0m0-6h0m0 3h0m0 11h0m2-12h0m1 4h0m1 0h0m0-5h0m1 0h0m1-7h0m0 1h0m1 3h0m1 16h0m0-3h0m1-11h0m0 14h0m0-11h0m1 0h0m3 11h0m1-9h0m1 8h0m1-5h0m0-6h0m1 8h0m1 1h0m0-16h0m1 5h0m0 7h0m0-10h0m1 8h0m0-11h0m1 18h0m2-4h0m0-9h0m2 12h0m1 3h0m1-8h0m0 5h0m1-1h0m1-1h0m1-14h0m0 14h0m2-2h0m1-13h0m1 8h0m1 2h0m0 6h0m2 2h0m0-13h0m2 2h0m0 1h0m1-2h0m1 7h0m2 1h0m1 3h0m1-8h0m0-7h0m0 11h0m0-10h0m1 14h0m1-14h0m0 14h0m0-1h0m1-14h0m0 14h0m0-6h0m1 7h0m0-8h0m2-4h0m0-1h0m1 16h0m2-4h0m1 3h0m2-17h0m1 15h0m1 1h0m3-13h0m1 14h0m0-13h0m2 13h0m0-3h0m0-16h0m2 3h0m1 7h0m1 7h0m1 0h0m3-17h0m0 7h0m2-2h0m0 2h0m0-2h0m2-1h0m1 2h0m2 13h0m4-18h0m1 12h0m1-9h0m1 1h0m0 8h0m1-5h0m1 9h0m0-4h0m0 5h0m2 1h0m2-12h0m1 9h0m1-12h0m1 13h0m8-8h0m0 10h0m4-16h0m4 14h0m1-16h0m6 13h0m3 4h0m0-16h0m3 12h0m0 6h0m3-3h0m3-11h0m0 8h0m5-8h0m2-5h0m0 8h0m4 5h0m1-5h0m6-8h0m1 9h0m0 1h0m2 7h0m0-5h0m5-12h0m1 16h0m3 0h0m1 1h0m1-13h0m6 10h0m5 4h0m15-10h0m2 6h0m3-2h0m9-5h0m6 12h0m2-14h0m2 0h0m6 1h0m6-6h0m5 7h0m1 12h0m2-2h0m7-11h0m0-3h0m18 6h0m0 5h0m6-12h0m1-1h0m1 12h0m6-7h0m30-1h0m5 6h0m0-3h0m11 1h0m8 11h0m14-20h0m23 14h0m3 1h0"/>
<path d="M785 4462h0m-34 14h0m263 17h0m-185 24h0m77-14h0m-247 28h0m12 26h0m104 1h0m-143 19h0m43 11h0m146-3h0m-177 21h0m11 13h0m82-8h0m176-2h0m-324 39h0m10-15h0m0 10h0m29-7h0m6 1h0m2 2h0m13 2h0m0 2h0m41-23h0m45 25h0m35-15h0m-201 44h0m22-17h0m2 18h0m34 3h0m18-6h0m16-18h0m46-4h0m30 12h0m-153 25h0m5 5h0m8-6h0m12 12h0m1-1h0m1 4h0m31-15h0m6 21h0m60-21h0m1 15h0m35-3h0m17 0h0m2 5h0m-220 35h0m12-12h0m2 9h0m5 3h0m9-21h0m0 17h0m2-6h0m2 4h0m10-15h0m4 8h0m2 6h0m13 4h0m5 0h0m2-7h0m13 2h0m8 8h0m2-20h0m10-7h0m0 14h0m5-9h0m8 10h0m16 12h0m117-8h0m1-10h0m98 18h0m-362 28h0m3-2h0m2-5h0m2 6h0m2-8h0m14 8h0m5-20h0m0 20h0m3-23h0m4 19h0m21 3h0m0-15h0m1 7h0m19 4h0m13 2h0m11-13h0m9-3h0m4 15h0m1-4h0m1-12h0m10-5h0m5 24h0m15-11h0m8 3h0m17 11h0m23-10h0m3 11h0m36-21h0m49 15h0m-302 36h0m2 0h0m8-20h0m2 13h0m7-19h0m4 13h0m5 5h0m5-5h0m1-1h0m2-6h0m4-4h0m1 23h0m1-14h0m5-7h0m4 7h0m5 11h0m15-2h0m2-10h0m4 15h0m28-17h0m13 5h0m5 8h0m3-14h0m5 5h0m7 5h0m5 4h0m10 4h0m3 1h0m6-14h0m30 6h0m8-4h0m7-16h0m2 27h0m21-10h0m32-2h0m151-13h0m-427 52h0m5 2h0m4-16h0m4-6h0m1 15h0m2-3h0m18-8h0m1 15h0m2 2h0m2-25h0m1 13h0m0 11h0m2-4h0m2-15h0m5 16h0m0 5h0m1-9h0m5 2h0m3 8h0m9-16h0m1 0h0m1 3h0m1-12h0m2 6h0m5 17h0m4-2h0m2-7h0m2 13h0m0-3h0m4-20h0m2 0h0m12 11h0m1-5h0m0 4h0m1-10h0m1 0h0m23 9h0m1-8h0m4 19h0m36-22h0m4 20h0m0-11h0m4-8h0m14 8h0m18-4h0m51-1h0m50-3h0m21 14h0m96-8h0m-438 41h0m1 1h0m3-4h0m2 8h0m1-12h0m6 8h0m2 3h0m0-19h0m3 6h0m1 3h0m3-10h0m1 0h0m0 18h0m2-20h0m1 20h0m1 2h0m2-8h0m1 9h0m2-20h0m4 5h0m2 13h0m2-23h0m12 7h0m1 0h0m0 17h0m5-6h0m0 8h0m0-3h0m2-24h0m7 28h0m4-29h0m3 18h0m3 7h0m3-2h0m1-7h0m1 4h0m10 0h0m4-14h0m3 16h0m2-16h0m0 23h0m7-21h0m0 21h0m0-13h0m3 2h0m2-6h0m7-7h0m7-2h0m18 26h0m0-17h0m7-1h0m5 7h0m3 7h0m10-17h0m7 15h0m5-11h0m14 2h0m10-11h0m10 15h0m1-9h0m4 18h0m35 1h0m24-1h0m1-2h0m3-16h0m79 3h0m15-5h0m169 16h0m-565 25h0m3 8h0m3 3h0m5-27h0m1 9h0m1 1h0m1 12h0m2 1h0m1-17h0m2 19h0m3-20h0m4 11h0m6 5h0m1 5h0m4-3h0m0-10h0m1 1h0m2 13h0m1-20h0m1 3h0m0-2h0m2 8h0m3 2h0m1-8h0m2-5h0m4 22h0m1-27h0m1 1h0m5 26h0m8-14h0m2-15h0m4 27h0m1-23h0m0 24h0m9-17h0m1-2h0m2 0h0m2 14h0m2-5h0m1-13h0m0 10h0m6-2h0m7-8h0m1 12h0m0 9h0m1 2h0m0-10h0m4-5h0m1-3h0m1 11h0m4 0h0m0-11h0m2-7h0m1 11h0m2 13h0m3-7h0m4-16h0m9 25h0m3-9h0m4-7h0m2-6h0m1 4h0m2-5h0m3-4h0m5 16h0m2 8h0m0-5h0m4-15h0m6 20h0m1-11h0m0-11h0m2 22h0m4-11h0m3 2h0m1 11h0m2-28h0m15 6h0m6 14h0m1-8h0m13 8h0m39-13h0m5 12h0m13-19h0m11 24h0m1 3h0m9-10h0m85-8h0m62 0h0m97-4h0m-554 50h0m0-6h0m1 8h0m1-12h0m0 12h0m1-18h0m3-2h0m1 20h0m1-16h0m1 15h0m1-11h0m0 3h0m1 2h0m2-18h0m1 10h0m0-9h0m0 6h0m8 8h0m0-4h0m0-9h0m0-4h0m2 20h0m0-19h0m1 11h0m0-1h0m1 1h0m2-5h0m2-7h0m1 13h0m0-5h0m1 2h0m1 5h0m1-11h0m1-1h0m0 25h0m0-5h0m1-5h0m1-1h0m2-5h0m1 11h0m0-22h0m0 17h0m1 1h0m0-18h0m1 10h0m1-11h0m1 26h0m1-17h0m1 18h0m1-15h0m1-9h0m1 25h0m2-28h0m1 2h0m1 25h0m1-18h0m0 6h0m0 10h0m2-17h0m2 16h0m0-12h0m1-1h0m1 11h0m0-4h0m7-1h0m1 9h0m0-17h0m0 18h0m4 1h0m0-11h0m0 9h0m2-18h0m1-2h0m0 5h0m4 13h0m2-11h0m1 6h0m1 5h0m1-1h0m0-8h0m2-6h0m1 8h0m2 8h0m4 3h0m1-22h0m2 23h0m1 0h0m2-11h0m1-6h0m0 9h0m0-4h0m2-13h0m0 1h0m0 7h0m9 8h0m3 9h0m4-25h0m1 14h0m7 1h0m1 0h0m1-4h0m3-6h0m2-7h0m2 27h0m1-29h0m3 22h0m1-1h0m3-19h0m1 25h0m0-5h0m7-22h0m1 15h0m1-7h0m4 18h0m4-6h0m2 3h0m5 1h0m1-8h0m1-14h0m2 24h0m19-16h0m3 12h0m3-18h0m3 17h0m4 3h0m17-22h0m14 12h0m2 2h0m6 9h0m2-15h0m4 18h0m4-8h0m39 5h0m51-17h0m73-3h0m60 17h0m-497 36h0m2-5h0m1 4h0m3-7h0m0 0h0m3-3h0m1-2h0m1 12h0m0-25h0m1 8h0m1 1h0m0 10h0m3 5h0m4-7h0m1-13h0m0 20h0m0 1h0m1 1h0m2-1h0m4-22h0m3 20h0m0-6h0m1 6h0m2 0h0m0-3h0m0 0h0m1-22h0m0 18h0m0-13h0m2-3h0m2 18h0m3-2h0m1 6h0m0-6h0m0-10h0m1 18h0m1-21h0m1 7h0m0-4h0m2 0h0m1 9h0m2-14h0m0 18h0m5-18h0m1 20h0m4-10h0m1 2h0m2-9h0m0 18h0m2 3h0m2-8h0m0 4h0m5-12h0m0 11h0m0 0h0m1-15h0m0 21h0m1-1h0m4-19h0m4 20h0m2-17h0m1 13h0m0-13h0m1 7h0m2-11h0m1 15h0m0-18h0m2 12h0m2 6h0m2 5h0m3-25h0m0 25h0m0-18h0m2 15h0m2-12h0m3-12h0m3 24h0m2-15h0m2 1h0m0 18h0m2-1h0m2-25h0m1 8h0m2 15h0m3 1h0m3-24h0m1 26h0m1-19h0m2 2h0m4-8h0m0 7h0m6 16h0m2-13h0m1 8h0m0 1h0m3-2h0m0-13h0m5-1h0m1 23h0m6-6h0m1 5h0m6-12h0m4-8h0m4 10h0m9-4h0m0-7h0m1 11h0m1 1h0m5 1h0m1-1h0m10 5h0m9-6h0m2-11h0m4 4h0m2 3h0m1-8h0m4 10h0m1-5h0m5-3h0m3 2h0m4-3h0m7 7h0m5-13h0m1 21h0m22-18h0m2 0h0m5 24h0m5-25h0m0 15h0m17-16h0m14 24h0m7-2h0m10 3h0m1-24h0m22 25h0m17-12h0m3-5h0m39-3h0m68-1h0m1 10h0m-498 42h0m7-5h0m1-8h0m1 1h0m2 3h0m0-2h0m0 2h0m1-18h0m0 15h0m0 8h0m1-14h0m1-2h0m0 18h0m1-3h0m0-14h0m1 15h0m0-1h0m0-10h0m1 8h0m1 6h0m1-11h0m1 1h0m0 8h0m1-22h0m1 23h0m0-2h0m0-20h0m0 6h0m1-7h0m1-1h0m0 4h0m1 21h0m0-2h0m3-6h0m0-11h0m3 20h0m1-20h0m0 12h0m0-2h0m0 7h0m1 1h0m0-11h0m0-1h0m0-6h0m1 4h0m1 11h0m0 4h0m3 1h0m0-19h0m2 10h0m0-8h0m1 1h0m1-9h0m1-4h0m2 14h0m1 4h0m0-3h0m2 5h0m1-13h0m1 11h0m0-12h0m1 5h0m0-10h0m0 19h0m3 5h0m1-5h0m1 0h0m0-6h0m0 9h0m1 6h0m0-2h0m2-14h0m0 5h0m0 5h0m0-15h0m0 4h0m4-6h0m0 21h0m2-8h0m1-5h0m0 2h0m1 5h0m1-17h0m1-2h0m1 11h0m0 3h0m1-7h0m1 16h0m0-4h0m0-1h0m1-20h0m4 25h0m0 3h0m1-27h0m0 9h0m0 3h0m0-6h0m1-1h0m1-3h0m2 24h0m1-11h0m1 2h0m0-4h0m3 9h0m0-7h0m4 11h0m0 1h0m1-26h0m3 23h0m1-6h0m0 5h0m0 2h0m1-24h0m1 24h0m1-8h0m0-12h0m4-2h0m1 21h0m1-10h0m0-3h0m3 7h0m1-12h0m1 15h0m1-2h0m0 7h0m1-26h0m1 6h0m0 15h0m2-14h0m1-4h0m0 25h0m0-19h0m3 13h0m1-23h0m0 12h0m2-4h0m1 3h0m0 13h0m2-23h0m0 10h0m1-11h0m2 20h0m0-20h0m2 24h0m0 3h0m1-21h0m0 12h0m4-14h0m1 20h0m0-1h0m1-5h0m6 1h0m2 6h0m2 3h0m1-19h0m1-6h0m1 19h0m4-17h0m2 10h0m1-9h0m1 2h0m1 17h0m2 1h0m0-24h0m1 23h0m4-9h0m14-14h0m2 22h0m0-14h0m0-3h0m2 20h0m0 0h0m4-19h0m2 8h0m0 4h0m1-15h0m4 21h0m2-5h0m0 6h0m1-9h0m6 0h0m0 10h0m6-25h0m6 4h0m13 7h0m5-14h0m3 3h0m2 24h0m0 1h0m10-19h0m6-9h0m16 18h0m5-18h0m5 23h0m7 5h0m1-22h0m1-6h0m6 27h0m9-13h0m10-14h0m3 13h0m6-8h0m7 16h0m1-11h0m0 16h0m24-23h0m1 24h0m-367 19h0m6-2h0m0 2h0m3-10h0m1 8h0m0-8h0m1 2h0m1 2h0m1-1h0m0-9h0m1 1h0m1 1h0m0 15h0m0-3h0m1-12h0m0 5h0m1 0h0m2-2h0m1 4h0m0 6h0m0-1h0m0 0h0m3-4h0m0-10h0m1 2h0m0 19h0m1-21h0m0 2h0m0 4h0m1 0h0m0 4h0m3-9h0m1 6h0m2-4h0m0 8h0m1 2h0m0-13h0m0 0h0m0 15h0m3-8h0m1-5h0m1 12h0m2-12h0m0 18h0m2-14h0m2-6h0m1 11h0m1-7h0m2 9h0m1-9h0m1 16h0m0-10h0m0-10h0m1 7h0m0 1h0m1 5h0m0-12h0m0 15h0m1 0h0m1-4h0m0 4h0m0-3h0m1-6h0m0 12h0m1-9h0m1 1h0m0 8h0m0-1h0m2-2h0m0-5h0m3 8h0m0-6h0m2-10h0m1 6h0m2-3h0m1-2h0m2 0h0m0 2h0m0 14h0m0-5h0m1 0h0m1 3h0m1 2h0m1-11h0m0-9h0m1 16h0m6-3h0m1 2h0m0-2h0m2-8h0m3 7h0m0-12h0m1 18h0m0-17h0m3 9h0m1-3h0m0 8h0m1 0h0m1-13h0m1 1h0m1 10h0m0-13h0m4 21h0m6 0h0m0-6h0m1-11h0m1 0h0m0 7h0m3-1h0m2-3h0m0 3h0m0 0h0m1 5h0m1-9h0m2 6h0m1 0h0m3-2h0m0-5h0m0 13h0m2 1h0m0-10h0m2-3h0m1-6h0m0 3h0m1-2h0m2 8h0m5 5h0m1 6h0m3-17h0m5 3h0m1-4h0m7 19h0m2-4h0m5 0h0m0-1h0m6 1h0m1-1h0m1-5h0m4-11h0m3 12h0m6-6h0m1 11h0m3-9h0m3 11h0m0-16h0m1 13h0m0-9h0m2 4h0m2-2h0m3 8h0m3-4h0m1 2h0m6-11h0m8 5h0m2-6h0m1 2h0m6-5h0m0 15h0m11-5h0m1 6h0m14 2h0m3-13h0m20 15h0m18-13h0m12 14h0m43-19h0m11 8h0m1-3h0m16 6h0m5-2h0m1 1h0m14 8h0m23 0h0m5-4h0"/>
<path d="M765 4438h0m-58 60h0m9 30h0m80 1h0m-146 30h0m61-14h0m17-6h0m-81 45h0m64-2h0m-101 30h0m21-5h0m16 7h0m14 2h0m21-18h0m161 1h0m-246 47h0m6 2h0m0 0h0m8-5h0m10-10h0m5 10h0m21-21h0m44-1h0m31 11h0m6 13h0m22 2h0m1-14h0m-141 25h0m8 15h0m53-10h0m3-3h0m34 1h0m15 16h0m-149 11h0m18-7h0m3 11h0m6 7h0m27-8h0m16 18h0m7-20h0m22 7h0m2 1h0m3 12h0m4-20h0m4 14h0m28-12h0m39 18h0m10-7h0m122-14h0m33 6h0m-372 38h0m8-12h0m6 15h0m1-24h0m5 15h0m20-10h0m5 5h0m1 11h0m0-11h0m13 6h0m1-10h0m10-4h0m26 18h0m39-16h0m4 14h0m3 1h0m17-2h0m38-13h0m-219 49h0m7-14h0m10 15h0m1-24h0m1 27h0m5-1h0m13-20h0m1 13h0m10-15h0m29 24h0m4-10h0m3 1h0m9 5h0m5-18h0m25-2h0m57 21h0m-191 22h0m0 1h0m1 4h0m1 0h0m2-7h0m1-4h0m5-12h0m7 28h0m1-24h0m3 20h0m4-1h0m3 5h0m1-28h0m2 25h0m1-13h0m6-5h0m1 12h0m1-16h0m3 16h0m3 0h0m6 10h0m2-14h0m4-15h0m3 22h0m10-2h0m16-8h0m10 15h0m5 1h0m21-16h0m18-8h0m4-1h0m29 24h0m6-14h0m3 10h0m15-8h0m81 1h0m44-9h0m2-7h0m3 21h0m84-18h0m35 19h0m-457 24h0m1 5h0m0-16h0m2 24h0m0 0h0m0-23h0m1 17h0m1-7h0m0-6h0m1 0h0m2 3h0m1-5h0m0 8h0m4-12h0m0 6h0m2 7h0m0-13h0m2-1h0m0 24h0m1-1h0m2 2h0m9-28h0m2 26h0m3-19h0m4-6h0m2 20h0m0-16h0m0 22h0m1-13h0m1 8h0m9-15h0m6 18h0m6-22h0m2 13h0m1-12h0m1 1h0m2 5h0m1 12h0m5-22h0m5 5h0m15 12h0m8 1h0m10-1h0m0 4h0m3-14h0m3 12h0m6-13h0m8 11h0m7-14h0m7 19h0m18-12h0m5 17h0m8-17h0m22-5h0m10 16h0m42-7h0m80-2h0m7 12h0m-364 32h0m5-2h0m1-4h0m1-7h0m1 15h0m0-2h0m1-10h0m4-14h0m2 16h0m4-11h0m8 0h0m1 13h0m0-6h0m3 2h0m2 1h0m1 7h0m0-13h0m1-1h0m1 1h0m5-8h0m6 22h0m0-2h0m3-8h0m1 5h0m1-16h0m1 22h0m2-13h0m1 3h0m3-11h0m8 15h0m2-20h0m1 10h0m1 12h0m1-10h0m0-4h0m2 2h0m1 8h0m2 5h0m2 5h0m0-4h0m1 2h0m1 3h0m5-27h0m6 23h0m0-3h0m6-2h0m1 8h0m6-9h0m2-10h0m1-3h0m2-6h0m2 12h0m4-6h0m3 0h0m1-3h0m3 17h0m1-2h0m19 11h0m2-25h0m8 7h0m3 9h0m1 4h0m0-10h0m54-1h0m34 11h0m17-21h0m18-1h0m14 20h0m15-8h0m12-11h0m13 0h0m6 23h0m128-25h0m-483 58h0m2-7h0m4-6h0m1 4h0m0 9h0m1-19h0m1 13h0m1-13h0m1 18h0m0-2h0m1-3h0m1-18h0m1 7h0m2 8h0m0-16h0m3 20h0m3-2h0m1-5h0m1-17h0m0 9h0m3-2h0m0 6h0m1 11h0m2 4h0m3-22h0m2 11h0m1-10h0m1 8h0m5 0h0m1 7h0m3-13h0m3 14h0m1-7h0m3 0h0m1-15h0m0 3h0m3 1h0m0 18h0m0-3h0m4 2h0m2 2h0m1-24h0m1 12h0m0 14h0m0-22h0m1 0h0m5 23h0m1-27h0m5 9h0m2-3h0m0 2h0m3-8h0m1 22h0m1 2h0m1-13h0m0 11h0m2 5h0m1-25h0m9 2h0m5 21h0m0-16h0m2 11h0m2 7h0m1-13h0m3-13h0m1 25h0m3-7h0m5-4h0m6 3h0m1 5h0m2-12h0m3-11h0m16 6h0m10 19h0m18-9h0m3-15h0m0 18h0m3-2h0m24 7h0m1-17h0m1 16h0m16-9h0m5-2h0m20 1h0m23-9h0m63 6h0m11 9h0m39 3h0m9 2h0m9-6h0m60 9h0m-476 26h0m5-15h0m1 3h0m1 5h0m1-11h0m1 24h0m3-12h0m0 8h0m0-7h0m2 5h0m2-1h0m6-1h0m2-18h0m1-3h0m3 17h0m1-15h0m3 13h0m2 14h0m0-10h0m0-7h0m1 6h0m1 5h0m1-18h0m1 7h0m1 11h0m3 6h0m0-3h0m4-22h0m1 9h0m0 10h0m2-9h0m0-5h0m4 7h0m0-9h0m3-6h0m1 17h0m0-6h0m2 8h0m0-18h0m1 5h0m1 13h0m1-3h0m3 12h0m1-2h0m3 0h0m1-27h0m2 13h0m0 12h0m0-5h0m1 2h0m0 4h0m2 3h0m2-13h0m0-6h0m1 9h0m5 0h0m0 6h0m2-13h0m0 4h0m0 11h0m2 2h0m0-29h0m3 10h0m4 10h0m5-14h0m3 14h0m1-2h0m1 9h0m1-14h0m1-13h0m10 10h0m2-3h0m2 20h0m3-19h0m1 15h0m2-12h0m1-7h0m1 13h0m6-10h0m1 4h0m15 17h0m2-18h0m0 0h0m5 5h0m4 12h0m3-12h0m3 2h0m7 5h0m1-6h0m1-3h0m7-4h0m12 3h0m2-9h0m6-3h0m4 11h0m13 16h0m7-16h0m24-11h0m4 29h0m12-22h0m7 9h0m6 7h0m20-9h0m6 11h0m6-10h0m4-6h0m7 2h0m132 8h0m-474 36h0m1-4h0m3 1h0m0 5h0m0-7h0m1 8h0m0 1h0m2-19h0m0 12h0m5-1h0m0-17h0m0 13h0m4-6h0m1 13h0m2-23h0m1-1h0m0 21h0m0 4h0m0-4h0m0 2h0m1-18h0m1 0h0m0 8h0m2 7h0m0-10h0m1 19h0m1-12h0m3-4h0m1-3h0m2-1h0m1-4h0m1 5h0m0-5h0m0 0h0m1 7h0m2-8h0m0 10h0m0 5h0m1-17h0m1 11h0m3 9h0m1-2h0m1 7h0m0-15h0m4 8h0m1-7h0m1 14h0m1 1h0m0-22h0m1 11h0m0-17h0m0 29h0m0-27h0m1 9h0m0-11h0m1 9h0m0 2h0m0 18h0m3-17h0m0-1h0m1 18h0m1-10h0m0 6h0m1-4h0m1-19h0m2 4h0m1-2h0m1 5h0m3-5h0m4-4h0m4 11h0m0 18h0m4-19h0m1 9h0m2-13h0m1 8h0m2-9h0m1 15h0m5 4h0m3-15h0m0 3h0m0-9h0m1 19h0m1 3h0m0-14h0m1 5h0m1 1h0m2 6h0m1-17h0m1-2h0m0-2h0m0 2h0m2 9h0m0-13h0m1 10h0m4 0h0m1 18h0m0 1h0m2-8h0m1 4h0m3-4h0m8-6h0m1 13h0m0-22h0m5 8h0m0-8h0m1 9h0m1 4h0m1-13h0m0 23h0m1-21h0m1-4h0m1 17h0m0-13h0m2 6h0m0 10h0m0-12h0m3 8h0m0-20h0m4 16h0m0-3h0m5 16h0m1-5h0m0-19h0m2 20h0m2 3h0m3-13h0m3-1h0m0 6h0m2-10h0m7 9h0m2-5h0m2 5h0m4-10h0m2-8h0m4 14h0m1-5h0m2 9h0m2-9h0m5 9h0m2-2h0m6 7h0m11 1h0m8-4h0m2-2h0m4-8h0m5 6h0m1-17h0m5 17h0m3-10h0m21-3h0m10 25h0m7-13h0m1-13h0m53 9h0m25 15h0m57-9h0m-434 41h0m1-1h0m3-7h0m2 4h0m0 2h0m2-10h0m0 8h0m1 3h0m0-10h0m3 7h0m2-11h0m0-2h0m1 14h0m0-16h0m1 5h0m0 10h0m0-22h0m1 15h0m0-6h0m1 6h0m1-18h0m0 26h0m1-25h0m1 8h0m0 6h0m0 10h0m1-8h0m1-7h0m0-9h0m0 10h0m1 14h0m1-6h0m1-16h0m0-1h0m1 18h0m0 6h0m1-26h0m0 5h0m0 11h0m1-10h0m0 6h0m1 16h0m0 0h0m0-20h0m1 18h0m0-4h0m1 0h0m1-1h0m0 3h0m0-6h0m2-11h0m0 22h0m1-13h0m1 1h0m2-6h0m1 16h0m1-16h0m0-3h0m1 2h0m0-6h0m0 3h0m1-1h0m1 1h0m1 9h0m0 5h0m0-8h0m0-7h0m1-3h0m1 5h0m0 11h0m1-8h0m0 3h0m2-8h0m1 15h0m0-17h0m0 13h0m4 12h0m1-6h0m2-22h0m1 10h0m1 17h0m0-20h0m1 5h0m0 16h0m0-16h0m1-4h0m2 1h0m0 4h0m2-5h0m1-1h0m0 14h0m1 2h0m3-17h0m0 16h0m1-10h0m1-9h0m0 14h0m0-16h0m0 23h0m1-15h0m1 3h0m2 12h0m1-1h0m0-2h0m0-20h0m0 27h0m1-15h0m1 6h0m1-14h0m1 15h0m1 7h0m0-9h0m1-11h0m2 12h0m0-3h0m1 6h0m1-18h0m1 11h0m4 11h0m1-12h0m1-14h0m0 27h0m1-26h0m1 26h0m1-2h0m1-22h0m0 17h0m2-6h0m1 2h0m1 4h0m1-1h0m2 1h0m0 1h0m2-9h0m0 1h0m1 11h0m0-1h0m3-21h0m2 24h0m0-19h0m3 19h0m0-26h0m3 24h0m0-23h0m4 7h0m0-3h0m1 6h0m0-4h0m1 8h0m0 6h0m2-16h0m1-1h0m1-3h0m0 14h0m2 0h0m0 3h0m3 7h0m0 2h0m2-12h0m1 3h0m0-8h0m2 17h0m1-2h0m4 0h0m0-26h0m1 28h0m2-7h0m1-9h0m0 1h0m0 0h0m1 13h0m2-18h0m1 12h0m1-7h0m3 16h0m2-22h0m4 13h0m3-12h0m4-1h0m5 13h0m1-20h0m14 23h0m1 5h0m7-7h0m3-13h0m1 9h0m3 5h0m3-17h0m1 15h0m3 3h0m1-11h0m7 5h0m1-16h0m10 20h0m0-11h0m0 4h0m1-3h0m4 6h0m5 12h0m13-7h0m4 3h0m4-10h0m5 9h0m0-11h0m0 1h0m2-12h0m0 19h0m12-16h0m1-3h0m3 20h0m16 0h0m4 4h0m35-13h0m37-4h0m5 16h0m52-17h0m337 1h0m-782 41h0m1 1h0m3-3h0m2-3h0m1 3h0m1-7h0m1 4h0m0-4h0m3-6h0m0 8h0m1-4h0m0 7h0m1-6h0m2-4h0m1-1h0m0 11h0m1-14h0m0 3h0m0 13h0m0-12h0m1-5h0m1 10h0m0-2h0m1 0h0m1 2h0m0 1h0m0-5h0m1 9h0m1-10h0m1 12h0m1-13h0m0 7h0m3-1h0m0 1h0m1-8h0m0-4h0m1 14h0m1-6h0m1 7h0m3 1h0m0-10h0m1 11h0m0-8h0m1 5h0m0 3h0m1-1h0m1-10h0m0 13h0m0 0h0m1-6h0m0-9h0m1 6h0m2 5h0m0-15h0m2 15h0m2 5h0m0-11h0m1-7h0m0 8h0m0 4h0m1-3h0m1 1h0m1-12h0m1 7h0m1-5h0m1 11h0m1-9h0m0 14h0m1-2h0m1-15h0m0 9h0m1 0h0m1-6h0m2 16h0m3-15h0m0-4h0m1 7h0m2 12h0m1-12h0m0 11h0m1 0h0m0-13h0m2 14h0m0-13h0m0 0h0m1 4h0m0-8h0m1 18h0m2-18h0m1 9h0m0 3h0m1-11h0m0-4h0m1 1h0m1 4h0m1 14h0m4-18h0m1 9h0m1-9h0m0 2h0m0 16h0m1-7h0m1 4h0m0 2h0m4-3h0m4-11h0m3 6h0m0 8h0m1-9h0m4 4h0m0 2h0m1 3h0m2-6h0m2 8h0m0-15h0m1 4h0m8 0h0m1 1h0m2-8h0m2 6h0m1 12h0m0-9h0m2 5h0m1-6h0m3 3h0m2-9h0m2 16h0m0-7h0m3 6h0m4-19h0m0 17h0m1 3h0m2-3h0m6-6h0m0-11h0m11 16h0m1-7h0m0 8h0m0-10h0m3 3h0m0 11h0m7-13h0m1 5h0m5-7h0m5-3h0m2 4h0m0 6h0m1-7h0m1 5h0m2 7h0m2-15h0m1 2h0m7 3h0m1-4h0m3 10h0m2 2h0m5-12h0m2-2h0m0 6h0m7-6h0m11 3h0m3 15h0m3-14h0m0 15h0m4-6h0m12 6h0m15-19h0m2 12h0m25-9h0m18 4h0m311 10h0"/>
<path d="M703 4439h0m36-27h0m-59 57h0m34 27h0m-63 24h0m-8 39h0m102-1h0m363-5h0m-293 30h0m-189 27h0m27 6h0m192-12h0m-251 32h0m37 10h0m10 2h0m7-6h0m39-14h0m70 11h0m-176 34h0m2 3h0m33-25h0m2 8h0m7-4h0m0 21h0m6-6h0m12 4h0m7-15h0m35-5h0m7 25h0m14-6h0m310-2h0m-453 26h0m9 5h0m1-14h0m1 12h0m8 8h0m14-18h0m1-8h0m7 27h0m16-2h0m27-6h0m18-15h0m4 20h0m66-10h0m-176 31h0m13-4h0m2 14h0m4-26h0m10 27h0m15-18h0m0-2h0m11-3h0m11 21h0m18-16h0m18 0h0m11 17h0m39-1h0m69-19h0m92 12h0m-333 31h0m4-14h0m11 15h0m6-8h0m2 5h0m5-7h0m0 11h0m18 7h0m14-1h0m12 0h0m2-4h0m7-23h0m16 2h0m13 12h0m3-8h0m16 18h0m11-5h0m5 2h0m21 5h0m4-19h0m-194 47h0m18-11h0m4 10h0m2-4h0m2 4h0m0-6h0m2-12h0m0 11h0m10 12h0m26-25h0m2 13h0m1 8h0m5-16h0m1 4h0m4 3h0m12 13h0m5-9h0m1-7h0m5 3h0m1-14h0m17 3h0m3 3h0m4 12h0m3-3h0m31-2h0m1-6h0m8 15h0m7-19h0m74 6h0m23 0h0m6-9h0m137 19h0m-432 30h0m2-8h0m3 5h0m7 10h0m0-14h0m1-6h0m3 20h0m2-10h0m3-4h0m4 2h0m0-14h0m5 24h0m1-22h0m4 18h0m1-10h0m5 4h0m2-2h0m3 11h0m3 1h0m1 1h0m4-13h0m8 2h0m4 4h0m5 4h0m2-19h0m5 16h0m3-4h0m1 0h0m7 6h0m2 1h0m3 2h0m9-5h0m8-3h0m1 6h0m11 0h0m1-10h0m1-10h0m0 2h0m8 3h0m0 12h0m8-2h0m12 0h0m7 10h0m17-10h0m25-3h0m20 11h0m5-2h0m13-10h0m25-12h0m55 0h0m88 15h0m99-3h0m-524 32h0m5 7h0m7 3h0m8-2h0m1-3h0m6-1h0m2-8h0m3 14h0m3-10h0m2-17h0m2 18h0m6-7h0m1 6h0m3 11h0m1-24h0m3 0h0m1 22h0m1-7h0m0 2h0m0 8h0m1-24h0m3 22h0m3-25h0m0 12h0m5-13h0m4 7h0m8 12h0m7 6h0m3-2h0m3-24h0m4 29h0m4-16h0m3 2h0m0 8h0m4-23h0m4 21h0m1-19h0m3 2h0m7 19h0m5-22h0m3 13h0m1-9h0m5 1h0m12 12h0m10 7h0m2-2h0m0-18h0m12 23h0m12-18h0m7 11h0m4-3h0m1 2h0m1-9h0m32 2h0m5-4h0m12 13h0m3-15h0m23 5h0m7 5h0m21 2h0m17-17h0m0 7h0m65 19h0m-403 28h0m8 3h0m4-5h0m2 1h0m3-4h0m1-4h0m0-4h0m1-11h0m0 21h0m1 4h0m2-21h0m0 14h0m3-8h0m2-5h0m2 11h0m0-16h0m3 9h0m0 6h0m0-6h0m1 7h0m1-15h0m2 21h0m0-8h0m0 3h0m0-3h0m1-12h0m2 11h0m2 7h0m0-6h0m1 7h0m5-6h0m0-7h0m2 5h0m1 2h0m0-2h0m3 13h0m6-18h0m1-3h0m2 3h0m1-5h0m1-1h0m1 11h0m2-4h0m1 1h0m3-1h0m2-6h0m1 5h0m3 14h0m0-5h0m3 2h0m1-8h0m0 2h0m1 12h0m2-4h0m2-4h0m4 6h0m3-13h0m2 17h0m1-6h0m2-22h0m1 18h0m2-15h0m1 13h0m0 2h0m1 3h0m1 1h0m1-3h0m0-6h0m2 13h0m3-26h0m0 6h0m7-2h0m2 2h0m1 16h0m1-18h0m8 0h0m1 0h0m1 17h0m1 6h0m2-9h0m4 4h0m1 3h0m7-18h0m4 19h0m2-24h0m8 14h0m11 7h0m4 0h0m4-8h0m5 1h0m10 4h0m3 0h0m0-21h0m0 29h0m4-16h0m11-6h0m7 3h0m2 7h0m17 4h0m31-16h0m5 0h0m7 8h0m77-4h0m2 2h0m19-6h0m73 0h0m46 4h0m-509 38h0m0 4h0m2 6h0m1-8h0m1 2h0m1-6h0m2 7h0m1-5h0m1-15h0m1 10h0m1 14h0m0-26h0m2 14h0m4 1h0m1 13h0m0-7h0m1-4h0m3-12h0m0 24h0m3-10h0m1-11h0m0 0h0m0 8h0m0-11h0m5 4h0m1 6h0m1-11h0m2 12h0m2-11h0m1 14h0m3 2h0m0-4h0m1-1h0m0 4h0m1-18h0m1 18h0m6-9h0m2-2h0m2 19h0m0 0h0m3-7h0m1-4h0m0 11h0m3-16h0m1 15h0m1-17h0m1 0h0m1 6h0m0-8h0m3 14h0m1-2h0m2-12h0m1 16h0m0 1h0m3-24h0m2 8h0m2 18h0m1-5h0m0-22h0m0 27h0m3 2h0m0-21h0m3-5h0m0 6h0m1 11h0m0 5h0m1-6h0m4-16h0m1 2h0m0 10h0m2 9h0m1 1h0m1 4h0m0-14h0m3 2h0m3-2h0m1 9h0m2-22h0m0 5h0m6 1h0m1 13h0m0-19h0m1 19h0m4-19h0m1 14h0m1 11h0m0-26h0m1 6h0m2 18h0m1 1h0m2-8h0m2-12h0m0 14h0m0 4h0m11-23h0m1 0h0m2 8h0m3 0h0m1-6h0m1-1h0m0 18h0m5-4h0m5-6h0m2-10h0m2 21h0m2-8h0m1-1h0m8 13h0m5-17h0m1 3h0m8 14h0m2-21h0m3 24h0m9-12h0m9 13h0m2-14h0m0 5h0m0 8h0m3-8h0m10-11h0m2 11h0m3-3h0m2 4h0m5 6h0m3-10h0m2 4h0m14 2h0m0-9h0m7-2h0m0-8h0m14 4h0m7 12h0m11-20h0m3 16h0m1-8h0m1 19h0m1-2h0m176 0h0m76-8h0m17 11h0m-585 26h0m5-13h0m1 14h0m3-21h0m0-1h0m1 22h0m0-11h0m0-9h0m1 8h0m1 14h0m0 1h0m3-8h0m1-14h0m0 11h0m0-7h0m4 12h0m0-2h0m1-3h0m0 7h0m1-23h0m2 12h0m0 0h0m0 4h0m1-13h0m2 8h0m0 14h0m1-8h0m3-17h0m0 9h0m1 2h0m1 9h0m0 2h0m1-14h0m1 15h0m1-19h0m1 4h0m0 16h0m1-10h0m1-2h0m2-6h0m1 9h0m1 5h0m1 8h0m0-15h0m1-10h0m1 19h0m0-13h0m1-4h0m2 15h0m1-8h0m1-6h0m2-1h0m0-3h0m1 7h0m0 4h0m3-3h0m0 17h0m1-24h0m0 6h0m0 18h0m1-9h0m1-14h0m0 14h0m1 9h0m0-23h0m3 3h0m2 0h0m1 21h0m2-9h0m1-16h0m2-3h0m1 20h0m1-7h0m1-1h0m2-3h0m0 18h0m0-25h0m2 9h0m3 5h0m0 11h0m1-27h0m2 3h0m1 16h0m0-14h0m1-2h0m1 4h0m0-2h0m1 5h0m0 3h0m2-5h0m2-5h0m2 20h0m5 0h0m1-19h0m0 7h0m1 14h0m1-17h0m1 8h0m0-11h0m3 1h0m3-4h0m0 6h0m0 0h0m1 2h0m1-10h0m1 11h0m1 15h0m6-15h0m0-11h0m1 8h0m3 20h0m3-13h0m3-1h0m0-9h0m4 2h0m1 15h0m1-6h0m1-2h0m1 9h0m4-17h0m2 11h0m1-3h0m2 5h0m7-8h0m1 9h0m1-4h0m1-17h0m0 27h0m4-12h0m1 8h0m3-5h0m1-15h0m9 9h0m6 3h0m3 5h0m5-16h0m4 15h0m8-3h0m5 4h0m6-20h0m8 16h0m3 4h0m0 5h0m7-12h0m0 2h0m5 9h0m3-17h0m6 3h0m1 9h0m14-10h0m4 10h0m27-1h0m4 0h0m2-3h0m6 13h0m8-4h0m28-21h0m30-3h0m47 6h0m180-1h0m-614 51h0m2-4h0m1-3h0m3 0h0m1 8h0m0-5h0m1 6h0m1-2h0m0-3h0m0 6h0m1-1h0m0-21h0m0 10h0m1-4h0m0-3h0m0 19h0m1-6h0m1-14h0m0-5h0m1 3h0m0 3h0m2 0h0m1 14h0m1-24h0m2 27h0m0-16h0m2-7h0m0-4h0m2 3h0m1-1h0m0 17h0m1-6h0m1-2h0m2 16h0m1-10h0m1-17h0m0 20h0m1 5h0m1-15h0m0 12h0m1 4h0m1-9h0m0-9h0m2 0h0m0 1h0m1 5h0m1 6h0m1-5h0m0 5h0m1 6h0m0-10h0m0-6h0m1 5h0m0-9h0m4 10h0m0-15h0m0 6h0m1 20h0m1-11h0m1 5h0m1-11h0m0-1h0m3 7h0m1 7h0m1-5h0m1-13h0m0 4h0m0-1h0m2-8h0m0 24h0m0-24h0m0 9h0m2 7h0m2-10h0m1 22h0m0-23h0m1 17h0m1-21h0m1 5h0m0 14h0m0-6h0m1 3h0m0-15h0m1 9h0m1-3h0m1-7h0m1 1h0m0 19h0m1-13h0m1 13h0m0 2h0m1-3h0m2-14h0m3 11h0m1-13h0m1-4h0m0 14h0m0-10h0m1 24h0m0-17h0m0 15h0m2-17h0m1-3h0m1 18h0m0-10h0m1-13h0m0 2h0m1-2h0m1 5h0m1 9h0m1-14h0m1 26h0m0-2h0m2-21h0m0 12h0m0-2h0m1 2h0m2-15h0m2 21h0m0-3h0m3-6h0m1 1h0m1 5h0m0-19h0m2 20h0m1-20h0m2 18h0m0-4h0m2 4h0m2-13h0m0 17h0m1-1h0m1-15h0m0 5h0m1 6h0m0 3h0m2-11h0m2 5h0m1 12h0m1 3h0m4-14h0m2-5h0m2 5h0m0-11h0m1 23h0m2-10h0m1-10h0m2-5h0m1 18h0m2-19h0m1 1h0m1 27h0m2-23h0m3 10h0m4-11h0m3 9h0m2-3h0m1 5h0m2 3h0m0 4h0m2-16h0m1 14h0m8-1h0m0-10h0m1 13h0m2-19h0m0 19h0m1-21h0m3 17h0m0 6h0m3-8h0m1-11h0m1 19h0m3-20h0m0 21h0m4 0h0m4 1h0m4 0h0m0-26h0m1 12h0m0 9h0m3-16h0m4 2h0m2 19h0m2-7h0m0-15h0m3-3h0m9 8h0m1-4h0m3 17h0m7-14h0m3 5h0m14 11h0m8-19h0m2 22h0m1-9h0m2-7h0m1-8h0m8 15h0m37-10h0m17 17h0m38-26h0m42 13h0m22 2h0m0 5h0m19-18h0m5 25h0m205-5h0m-663 21h0m2-7h0m1 1h0m0 9h0m1-2h0m3-11h0m1 6h0m0 12h0m0-11h0m0-5h0m1 3h0m1 11h0m2-7h0m1 6h0m0-5h0m0-13h0m1 14h0m0-14h0m2 5h0m0 12h0m0 1h0m1 1h0m0-4h0m4 2h0m0-4h0m2-9h0m1 1h0m1-3h0m1 7h0m0 4h0m0-9h0m3 2h0m2 1h0m2 8h0m1-10h0m0 9h0m0-3h0m6-4h0m0-4h0m2 3h0m0-5h0m1 0h0m1 9h0m0 1h0m2 8h0m1-9h0m0 5h0m0 3h0m1-2h0m2 3h0m0-2h0m1-9h0m1-6h0m1 18h0m0-12h0m1-3h0m1 11h0m1 4h0m1-15h0m0-2h0m0 18h0m1-1h0m0-11h0m0 12h0m0-15h0m0-1h0m1 0h0m1-4h0m1 14h0m7-14h0m0 15h0m1 3h0m0-10h0m1-6h0m0 13h0m0-9h0m1 13h0m2-2h0m0 2h0m0-9h0m1 5h0m1-14h0m5 9h0m0-11h0m0 5h0m1 8h0m0-1h0m1-7h0m5 9h0m0-10h0m1 8h0m0-3h0m0 5h0m0 6h0m1-19h0m4 9h0m2-10h0m4 1h0m0 7h0m0 2h0m1-4h0m0-2h0m0-3h0m1-1h0m4 3h0m1 15h0m2-17h0m1 18h0m2-2h0m1-8h0m6 6h0m1-5h0m3-7h0m0 9h0m0-3h0m2-1h0m3-5h0m1 11h0m3 4h0m5-15h0m6 7h0m0-6h0m6 11h0m1-13h0m11 1h0m1 7h0m6 4h0m2-2h0m1 7h0m9-2h0m2-7h0m2-6h0m1 13h0m0-4h0m3 6h0m4-5h0m0 4h0m1-16h0m3 13h0m8-8h0m0-1h0m9 12h0m1-13h0m1-4h0m0 7h0m1 11h0m0 0h0m6-16h0m8 7h0m2 5h0m0-9h0m8 1h0m6-2h0m3 0h0m1 4h0m7 7h0m90-6h0m9 5h0m36-6h0"/>
<path d="M847 4370h0m-69 16h0m-82 90h0m111 29h0m194 19h0m-205 18h0m-153 23h0m16 17h0m39-2h0m6-14h0m65 12h0m45-12h0m-190 47h0m272-12h0m-300 47h0m24-17h0m2 10h0m75 6h0m0 2h0m31-15h0m19 4h0m5 7h0m44-25h0m11 24h0m-231 28h0m1 2h0m1-13h0m32 14h0m6-23h0m11 1h0m9 8h0m2 0h0m27-10h0m49 0h0m9 28h0m7-27h0m134 0h0m-290 30h0m12-1h0m1 19h0m16-2h0m15 6h0m10-1h0m15-3h0m137 1h0m39 3h0m176-14h0m-453 42h0m3 1h0m22-8h0m8 1h0m0-4h0m12-9h0m19 12h0m11 5h0m8 3h0m9-1h0m1-14h0m1 19h0m2 1h0m4-2h0m26-1h0m6-17h0m14 6h0m3-12h0m9 23h0m103-25h0m122 13h0m-398 37h0m1-5h0m10 9h0m3 2h0m5-7h0m2 2h0m0-5h0m7 12h0m4-1h0m6-4h0m2-19h0m6 13h0m4-17h0m8 2h0m33 9h0m16 3h0m15-10h0m29-4h0m12 7h0m25-1h0m35-4h0m71 21h0m153-15h0m-467 47h0m3 4h0m3-11h0m4 3h0m15-2h0m0-2h0m2-16h0m0 4h0m0-3h0m2 19h0m0 3h0m2-4h0m7 6h0m2-16h0m4 7h0m10-15h0m5 21h0m1-20h0m2 22h0m3-21h0m7 13h0m1-6h0m1 1h0m4 12h0m3-15h0m8 12h0m3-20h0m6 4h0m5 12h0m12-10h0m16 12h0m2-9h0m6-7h0m1 5h0m1-3h0m3 7h0m12 16h0m30-24h0m5 6h0m73 14h0m86 2h0m58-12h0m-413 41h0m3-22h0m4 3h0m3-1h0m2-3h0m8 9h0m4-2h0m3-6h0m0 9h0m1-7h0m1 7h0m15 3h0m1-4h0m2 13h0m6-6h0m12 6h0m1 4h0m3-17h0m7 12h0m3-7h0m4-14h0m6 2h0m6 12h0m3 3h0m6-19h0m1 14h0m6-5h0m3-9h0m3 28h0m25-23h0m1 13h0m29-8h0m0-6h0m3-3h0m3 24h0m6 4h0m6-20h0m29 3h0m26-11h0m67 17h0m110-7h0m-439 46h0m0-15h0m2-9h0m0 6h0m1 2h0m0 9h0m3-12h0m0 4h0m2 2h0m2-8h0m5 22h0m2-4h0m1-12h0m1 16h0m5-2h0m1-14h0m0 8h0m1-1h0m1-15h0m2 8h0m2-7h0m1 15h0m1-14h0m1-3h0m3 15h0m1-6h0m2-1h0m0-11h0m2 23h0m2-21h0m0 20h0m1-1h0m5 3h0m4-13h0m2 2h0m1 11h0m1-7h0m3-17h0m0 17h0m2 2h0m0-14h0m1 5h0m2 4h0m1 5h0m0 7h0m2 2h0m5-15h0m6 7h0m4-16h0m2 15h0m3 7h0m2-5h0m4-15h0m3 9h0m1 13h0m9-12h0m13 1h0m3-8h0m9 15h0m3-23h0m1 27h0m10-3h0m3-10h0m21 14h0m2-9h0m10-20h0m24 20h0m9-9h0m16 15h0m13-10h0m2-4h0m30 12h0m6-15h0m85 16h0m36-17h0m-428 49h0m5-2h0m0-6h0m5-2h0m1-1h0m2 10h0m1-21h0m5 22h0m0-12h0m1 8h0m1-10h0m0-1h0m3 16h0m0-28h0m1 10h0m2 5h0m2 1h0m3-6h0m2 15h0m2-16h0m1 15h0m0-3h0m1 2h0m5-16h0m0-4h0m3 20h0m1-16h0m1 14h0m0-13h0m1 3h0m0-11h0m2 3h0m2 18h0m3 4h0m3-23h0m1 19h0m2 2h0m0-9h0m8 14h0m2-2h0m2-6h0m2 8h0m11-18h0m0-3h0m1 2h0m0 4h0m0 3h0m1-10h0m13 10h0m2 11h0m12-9h0m2-10h0m4 2h0m2-4h0m3 18h0m5 0h0m1-4h0m8-10h0m1 0h0m1-5h0m3-2h0m4 13h0m2 7h0m5-22h0m3 25h0m1 3h0m6-1h0m8-6h0m11-8h0m25 4h0m3-10h0m11 15h0m4-4h0m6 2h0m24-15h0m0-6h0m1 16h0m6 11h0m44-3h0m2-2h0m15 0h0m41-21h0m0 18h0m19-4h0m3-7h0m84 15h0m-488 28h0m1 5h0m2-7h0m1-1h0m0 8h0m1-12h0m2 14h0m0 0h0m1-19h0m1 4h0m0-1h0m2-3h0m0 20h0m1-25h0m0 24h0m2-8h0m0 4h0m3-1h0m0 2h0m1-22h0m1 26h0m1-16h0m2-9h0m1 19h0m1-21h0m0 14h0m1-1h0m2 12h0m1-20h0m0 11h0m0 3h0m0-4h0m0-11h0m2 6h0m1 15h0m1-1h0m0-17h0m1 13h0m0-18h0m2 4h0m1 10h0m1-6h0m1-8h0m0-4h0m2 19h0m0-9h0m0 9h0m0 10h0m2-25h0m1 20h0m1-2h0m1 4h0m1-24h0m1 8h0m0-9h0m1 15h0m1 4h0m2-13h0m0 21h0m3 1h0m3-16h0m1 5h0m1-7h0m1-10h0m0 28h0m3-27h0m1 26h0m0 1h0m2-16h0m2 5h0m1 2h0m2-17h0m1 25h0m1-18h0m1-8h0m1 0h0m0 19h0m2-2h0m1 9h0m2-17h0m4 4h0m1-9h0m0-3h0m5 3h0m0 4h0m1-1h0m2 20h0m5-24h0m2-3h0m9-2h0m0 20h0m1-8h0m2-3h0m2 16h0m4-22h0m1 23h0m0-8h0m1-1h0m1-9h0m4-5h0m0 23h0m2-13h0m5 9h0m0 5h0m0-13h0m4 8h0m4-15h0m2-7h0m9 13h0m2-8h0m6-2h0m1 26h0m7-6h0m3-19h0m20 13h0m4 10h0m10-26h0m8 23h0m3-1h0m9 5h0m2 1h0m5-20h0m0-1h0m13 15h0m1-19h0m2 17h0m12 8h0m6-29h0m4 26h0m55-11h0m9-3h0m3 4h0m9-10h0m8-1h0m66 15h0m21-20h0m-458 57h0m8-8h0m1 1h0m2-10h0m2 0h0m1-9h0m2 15h0m1 6h0m1 1h0m0-15h0m0-1h0m0 3h0m0 9h0m1-1h0m0-13h0m1 14h0m1 8h0m0-12h0m1 3h0m1-16h0m2 11h0m0-2h0m1 14h0m1-24h0m1 5h0m1 10h0m1 11h0m0-20h0m1 18h0m2-8h0m0-10h0m1-2h0m1-2h0m1 4h0m0-5h0m0 27h0m1-13h0m1-1h0m1-5h0m1 16h0m1-15h0m0-1h0m1 2h0m0 13h0m1-6h0m1-12h0m1 16h0m0 0h0m1-14h0m0 16h0m2-21h0m0 3h0m2 7h0m0 2h0m0 5h0m0-3h0m1-15h0m0 3h0m3-2h0m2 5h0m0 19h0m1-26h0m0 14h0m2-6h0m4 6h0m0-12h0m0 18h0m2-9h0m2-12h0m3 27h0m1-6h0m0 7h0m0-22h0m1 14h0m0-20h0m1 13h0m1 12h0m1-19h0m2 21h0m0-14h0m0 1h0m2 7h0m2 6h0m1-9h0m2-16h0m1-3h0m3 17h0m2 0h0m0 9h0m1-20h0m0-5h0m2 5h0m2 18h0m2-11h0m1-7h0m1 2h0m2 6h0m0 5h0m1 8h0m0-6h0m4-16h0m2 20h0m2-24h0m3 28h0m1-17h0m2 14h0m1 0h0m1-5h0m4 6h0m0-4h0m4-15h0m4-6h0m0 21h0m0-7h0m3 13h0m2-19h0m12 14h0m2-20h0m1 15h0m6-6h0m3 13h0m0 3h0m3-20h0m2-1h0m0 15h0m0-8h0m3 13h0m5-5h0m5-20h0m3 16h0m5 10h0m2-9h0m2-19h0m2-1h0m1 3h0m1 1h0m0 21h0m12-15h0m8-6h0m4 9h0m2 14h0m4-7h0m3 1h0m11-4h0m4-2h0m2-12h0m3 8h0m4-11h0m18 23h0m0-18h0m3 5h0m19 9h0m20-10h0m18 3h0m6 9h0m11-19h0m5 19h0m63-13h0m26 6h0m-451 43h0m0-1h0m1 0h0m1-9h0m1 6h0m0-6h0m0 2h0m1 6h0m0-10h0m0 10h0m3 2h0m0-9h0m2 3h0m0 0h0m1-14h0m0 1h0m1 4h0m0-5h0m3-5h0m0 17h0m1-4h0m0 10h0m0-25h0m1 24h0m0 2h0m1-22h0m1 13h0m0-10h0m0 21h0m1-21h0m1-1h0m0-6h0m1 12h0m1 14h0m1-8h0m1-13h0m0 1h0m0 5h0m1-6h0m0 19h0m0-7h0m2 3h0m0-13h0m1 2h0m0-1h0m0 17h0m1-7h0m0-6h0m1 13h0m2-21h0m0 6h0m2 3h0m1 15h0m2-2h0m1 2h0m1-6h0m0-9h0m0-5h0m1 17h0m0 3h0m0 0h0m0-26h0m0 14h0m2 3h0m2 6h0m1-9h0m1-14h0m0 8h0m3 17h0m0-5h0m1-11h0m0 1h0m0 6h0m1 10h0m1-14h0m2-4h0m0 1h0m1 17h0m1-16h0m0 12h0m1 5h0m1-6h0m1-19h0m1-2h0m0-1h0m1 12h0m0-2h0m2 2h0m0 14h0m0-1h0m0-18h0m1 6h0m1 10h0m0 1h0m2-24h0m0 3h0m0 12h0m1-14h0m1 6h0m1-7h0m0 21h0m1-20h0m2 0h0m1 20h0m1 2h0m0-24h0m0 13h0m1 10h0m1-8h0m1-5h0m1 11h0m2-2h0m1-14h0m5 22h0m1-7h0m0-20h0m0 27h0m2 1h0m1-6h0m1-19h0m0-2h0m1 19h0m0-9h0m0 2h0m3-3h0m1 18h0m1-2h0m1-7h0m0 1h0m1-1h0m0 5h0m2-11h0m1 3h0m3 1h0m0-17h0m2 14h0m1-10h0m1 24h0m0-13h0m7 5h0m2 9h0m2-26h0m6 14h0m3-3h0m2 9h0m2-3h0m0-20h0m1 8h0m0 9h0m1 6h0m2-8h0m1 14h0m2-10h0m0 2h0m1-9h0m2 14h0m9-7h0m0 3h0m0-19h0m1 3h0m2 0h0m1 7h0m1 7h0m2-19h0m0 18h0m2-5h0m1-3h0m9 13h0m1-13h0m1-10h0m1 5h0m0 11h0m21 11h0m1-27h0m1 10h0m0 9h0m3-18h0m8 22h0m2 1h0m1-10h0m6-6h0m2-6h0m2 2h0m1 3h0m0 15h0m1-19h0m3 16h0m1 4h0m5-24h0m4 8h0m0-7h0m21 13h0m17 0h0m3-7h0m4 17h0m4-14h0m2-5h0m2 0h0m7 0h0m1 2h0m5 2h0m0 10h0m22-16h0m43 11h0m1 11h0m8-16h0m46 13h0m25 7h0m172-20h0m-633 42h0m2-3h0m2-1h0m0-8h0m0 2h0m1 4h0m0-10h0m0 0h0m0 12h0m0-8h0m0 3h0m0 6h0m1-6h0m0 8h0m1-12h0m0 10h0m1-1h0m0 2h0m0-17h0m1 7h0m0 5h0m0-7h0m1 13h0m0 0h0m1-18h0m1 0h0m0 0h0m0 17h0m2-7h0m0-5h0m1 8h0m1-13h0m1 11h0m1-1h0m0 6h0m1-12h0m0-4h0m1 2h0m1-1h0m0 16h0m3-12h0m0 4h0m1-10h0m0 4h0m1 14h0m0-15h0m2 8h0m0 7h0m0 1h0m1-16h0m0 9h0m1-6h0m2-7h0m1 3h0m0 1h0m1 7h0m4-1h0m0 8h0m2 0h0m2 1h0m0-5h0m1 4h0m1-10h0m1-3h0m1-4h0m0 4h0m1 1h0m2 7h0m1-8h0m3-1h0m0 15h0m0-10h0m1 2h0m1-11h0m1 1h0m0 13h0m1 1h0m0-13h0m1 12h0m1 3h0m1 3h0m1-13h0m0 3h0m6 7h0m1 4h0m1-12h0m0 2h0m0 5h0m2 1h0m0 3h0m3-15h0m2 8h0m2-12h0m0 7h0m1 4h0m0 0h0m3-7h0m1 4h0m0 4h0m1-4h0m0 10h0m5-1h0m3-3h0m0-14h0m2 7h0m1-7h0m0 6h0m0-5h0m1 13h0m0 4h0m1-2h0m0 1h0m1-14h0m0 10h0m0-3h0m2 7h0m0-9h0m0-5h0m6 1h0m1 14h0m3-13h0m0-5h0m1 17h0m6-16h0m1 5h0m10 2h0m6 0h0m7-6h0m2 11h0m1-6h0m0-1h0m2 9h0m1-12h0m0 9h0m1-2h0m1 0h0m2-6h0m2 15h0m1-9h0m2 10h0m0-14h0m2-7h0m2 4h0m7 1h0m6-4h0m2 14h0m9-10h0m0 7h0m14-4h0m1 12h0m13-2h0m6 2h0m4 0h0m23-19h0m1 6h0m8-3h0m41 1h0m17-2h0m2-1h0m12 0h0m8 1h0"/>
<path d="M848 4304h0m-121 96h0m11-7h0m82 95h0m-29 70h0m-146 26h0m23-17h0m-8 51h0m78-17h0m-82 48h0m4-6h0m36 4h0m47-23h0m96 1h0m-253 33h0m19 5h0m25-1h0m4 16h0m41-12h0m16 8h0m8 0h0m3-13h0m-140 37h0m22-18h0m9 5h0m22 18h0m3-9h0m3-11h0m12 24h0m16-12h0m5-4h0m17 6h0m71 9h0m-187 8h0m1 23h0m10-20h0m0 11h0m4-9h0m2 15h0m11-24h0m7 3h0m12 20h0m2-11h0m2 1h0m3-8h0m11-2h0m1 19h0m9-13h0m2 7h0m35-11h0m2 13h0m82-12h0m-225 48h0m9-18h0m0 5h0m6-6h0m0 20h0m5-7h0m3 5h0m2-20h0m17-1h0m0 14h0m10-9h0m3 17h0m6-3h0m1-19h0m6-2h0m1 22h0m10-22h0m5 24h0m2 5h0m2-12h0m1 6h0m1-23h0m6 0h0m12 24h0m6-1h0m103-7h0m7-13h0m2 11h0m-238 37h0m0 3h0m1 1h0m2-13h0m7 11h0m8-19h0m4 25h0m6-13h0m2-16h0m0 1h0m8 3h0m12 19h0m1-16h0m1 4h0m5 1h0m4 16h0m4-20h0m5 16h0m7 4h0m7-4h0m2-1h0m4-15h0m0-8h0m1 16h0m3 12h0m5-17h0m41 8h0m4-8h0m1-6h0m21 22h0m4-4h0m3-23h0m20 11h0m22 11h0m31-7h0m26 3h0m5 9h0m74-24h0m137 15h0m-508 38h0m3 2h0m1-1h0m2-2h0m1-7h0m0 5h0m1 6h0m1-22h0m6 15h0m11-9h0m0 14h0m1-3h0m0-10h0m0 2h0m1 6h0m1-16h0m1 12h0m1 3h0m2 7h0m4-23h0m2 16h0m4-13h0m3 21h0m0-23h0m0-3h0m2 11h0m0 3h0m4-15h0m4 1h0m6 14h0m27-14h0m9 19h0m3-13h0m3 11h0m1 1h0m2-14h0m1 19h0m5-1h0m1-15h0m5 2h0m1 13h0m1-3h0m6-19h0m8 12h0m5-7h0m0 6h0m0-1h0m18 11h0m18-12h0m1-1h0m6 15h0m25-15h0m26 13h0m4-19h0m21 9h0m14 14h0m53-9h0m18-5h0m121-5h0m-476 33h0m2 9h0m0 2h0m2 0h0m1-7h0m4 11h0m7-15h0m3-9h0m1 2h0m4 0h0m0 16h0m4-16h0m5 14h0m4-5h0m1-12h0m0 23h0m1-13h0m0-1h0m2-3h0m1 17h0m1 3h0m1 0h0m8-17h0m4 6h0m0 9h0m3-3h0m2 5h0m3 0h0m0-7h0m0-18h0m2-3h0m3 21h0m1-1h0m2-13h0m0 1h0m4 1h0m0 12h0m3 1h0m9-4h0m2-3h0m0 3h0m5-11h0m6 9h0m2-8h0m3 13h0m0-2h0m1-7h0m11 16h0m3-27h0m9 14h0m1 3h0m3-11h0m1 10h0m15-11h0m6 19h0m19-5h0m2 9h0m12-5h0m3-19h0m3-1h0m3 21h0m10-10h0m0-8h0m3 4h0m13 4h0m4-14h0m28-1h0m14 24h0m6-23h0m11 13h0m13-5h0m14-2h0m34 3h0m14 5h0m31 0h0m-416 42h0m2-2h0m5-13h0m4 12h0m1-13h0m0-6h0m1 5h0m2 7h0m10-5h0m1 2h0m2 6h0m1-3h0m2-3h0m0 6h0m1-17h0m1 25h0m2-2h0m10-26h0m4 1h0m1 25h0m0-5h0m1 1h0m2 3h0m2 4h0m1-2h0m1-14h0m0 5h0m0-17h0m0 13h0m0 7h0m1-16h0m0 24h0m4-18h0m1 6h0m1-4h0m1-11h0m2 7h0m7-9h0m2 13h0m0 5h0m3 7h0m2 4h0m3-23h0m2 5h0m4 7h0m3-14h0m4 21h0m1-10h0m0-9h0m6 19h0m1-24h0m1 9h0m1 4h0m0 6h0m2 5h0m1 0h0m2-15h0m2 7h0m0 0h0m1-2h0m0 14h0m3-19h0m1-9h0m3 19h0m0 2h0m8-14h0m12-1h0m6 20h0m0-19h0m5 8h0m0-14h0m1-1h0m11 25h0m10-11h0m0 13h0m6-1h0m1-12h0m8 12h0m16-21h0m11 2h0m22 4h0m5-2h0m4-3h0m8 15h0m6-21h0m11 14h0m7-8h0m1 2h0m18 11h0m49 4h0m4-12h0m16 17h0m24-10h0m12-8h0m24-2h0m30 0h0m-471 45h0m1 0h0m1-5h0m2 7h0m1-7h0m2 2h0m1-10h0m0 3h0m2 3h0m0-2h0m1 8h0m0-15h0m0 11h0m1 0h0m1 6h0m1-17h0m1 4h0m0 10h0m1-9h0m1 3h0m2 3h0m1-3h0m0-16h0m2 22h0m0-12h0m1 6h0m3 10h0m1-5h0m0-1h0m2-2h0m0 2h0m0-2h0m1-9h0m2 19h0m1-9h0m1-10h0m4 17h0m3 1h0m0-6h0m1 1h0m1-8h0m0-4h0m0 14h0m1 5h0m0-12h0m2-14h0m1 13h0m0-11h0m3 18h0m1-10h0m1-1h0m1-5h0m0 21h0m0-12h0m1-8h0m4-4h0m1 13h0m1-8h0m1 7h0m3 7h0m0-7h0m2-15h0m2 25h0m3-26h0m1 15h0m3 9h0m1-8h0m1-11h0m1 13h0m0 0h0m0 4h0m0 4h0m1-6h0m2-20h0m1 15h0m1-3h0m1 11h0m1-7h0m6-8h0m2 3h0m2 16h0m2 1h0m1-19h0m1 17h0m2-3h0m7 2h0m0-9h0m1 8h0m2-5h0m1-13h0m0-2h0m1 7h0m2 1h0m2-6h0m0 16h0m3 0h0m7-22h0m1 24h0m10-1h0m4-16h0m8 1h0m2 14h0m0-1h0m1-20h0m8 16h0m1-6h0m0-11h0m13 17h0m2 0h0m7 10h0m4-16h0m0 2h0m1 1h0m1 13h0m7 2h0m7-28h0m2 14h0m0-15h0m2 28h0m7-20h0m14 2h0m2 11h0m2-1h0m1-12h0m3 19h0m13-24h0m19 0h0m50 20h0m104-22h0m41 28h0m-477 19h0m3 3h0m2 6h0m1-21h0m1 15h0m1-3h0m1 10h0m0-7h0m0 1h0m0 4h0m2-14h0m0 2h0m1 0h0m0-11h0m1 22h0m1-11h0m4 10h0m3-3h0m0 8h0m1-10h0m0-9h0m0 17h0m1-7h0m0-3h0m1-17h0m0 20h0m0 5h0m0-9h0m1-14h0m0 9h0m2 14h0m1-16h0m1 8h0m0 4h0m1-14h0m0 14h0m0-11h0m1-2h0m0 19h0m0-12h0m0-10h0m2 0h0m0 1h0m1 12h0m0-12h0m0-1h0m1 8h0m1-8h0m1 16h0m1 6h0m0 1h0m1-21h0m1-5h0m2 23h0m1-15h0m1 12h0m0 1h0m0-16h0m3 14h0m0-9h0m1 17h0m0-29h0m2 18h0m0-10h0m0 16h0m1-2h0m0-8h0m1-14h0m1 19h0m0 7h0m2-23h0m2 21h0m0-13h0m2-7h0m1 25h0m1-20h0m0 4h0m1-5h0m4-1h0m1 8h0m2 4h0m1 10h0m4-10h0m0 0h0m1-8h0m0-10h0m2 25h0m0 0h0m3-5h0m1-20h0m2 12h0m1-8h0m3 20h0m1-6h0m0 4h0m1-6h0m0-7h0m1 16h0m0-3h0m2-13h0m3-5h0m1 5h0m8-2h0m1-7h0m0 21h0m1 7h0m0-11h0m0 4h0m2-15h0m0 15h0m7-11h0m3-4h0m1 4h0m5-11h0m2 7h0m2 7h0m1-4h0m2-6h0m6 20h0m1-13h0m14 7h0m3-14h0m2 6h0m0 12h0m4-19h0m0-3h0m6 2h0m0 26h0m4-17h0m5 14h0m0-13h0m4 9h0m1 4h0m3-14h0m2 14h0m19-7h0m13 1h0m4 2h0m10-14h0m4 5h0m0 15h0m5-22h0m2 4h0m3 12h0m12-16h0m3 18h0m20-1h0m2-16h0m22 3h0m2 18h0m2-17h0m9-2h0m4 7h0m5 7h0m20-10h0m6-4h0m2-2h0m10 19h0m6-20h0m27 1h0m13 9h0m181 13h0m-611 27h0m5-1h0m1-7h0m2 10h0m2-7h0m1 8h0m0-23h0m1 3h0m0 20h0m1-1h0m1-23h0m0 19h0m1-7h0m1 1h0m0 3h0m1-16h0m0 8h0m0-3h0m0 4h0m0-1h0m1 16h0m0-21h0m1 21h0m1-6h0m4-22h0m0 29h0m0-6h0m1-18h0m0 23h0m0-8h0m1 5h0m0-14h0m0 14h0m0-24h0m0 8h0m0 16h0m1-5h0m1-3h0m1-6h0m1 15h0m4-3h0m1-19h0m0 12h0m2-14h0m0 19h0m0 8h0m0-5h0m0-2h0m2-4h0m1 0h0m0 9h0m1-26h0m0 7h0m1-7h0m1 28h0m1-7h0m0 1h0m1 3h0m1 3h0m0-14h0m1 2h0m1-15h0m0 27h0m0 0h0m0-17h0m1 12h0m0 5h0m0-28h0m0 1h0m0 21h0m1 5h0m0-16h0m0 7h0m1-10h0m0-2h0m1 4h0m0-4h0m0-4h0m2 6h0m2-2h0m1 22h0m0-3h0m2-15h0m1-4h0m1 7h0m0 2h0m2-3h0m2-7h0m1 21h0m1-1h0m1-19h0m0 16h0m1-22h0m1 28h0m0-24h0m1 9h0m1-4h0m1 3h0m0 1h0m1 11h0m1-25h0m1 22h0m1-15h0m1-5h0m2 1h0m1 12h0m0-8h0m1 10h0m2-12h0m0 16h0m1 5h0m0-1h0m2-18h0m1 2h0m1 4h0m2 15h0m1-21h0m2 15h0m0-21h0m1 13h0m0 9h0m1-8h0m3 2h0m6-4h0m0 5h0m0 1h0m1-16h0m3 11h0m0-13h0m0-1h0m1 13h0m0-11h0m0 11h0m6 15h0m2-21h0m3 13h0m2 4h0m1-20h0m3 19h0m0-17h0m0-4h0m2 5h0m4-3h0m4-3h0m1 24h0m2-2h0m4-14h0m0 8h0m0 6h0m1 2h0m5-3h0m1-15h0m0-3h0m1 19h0m1 4h0m3-23h0m0 23h0m1-4h0m2-9h0m1-4h0m2 12h0m7-12h0m1 6h0m1 1h0m3 6h0m1-21h0m0 24h0m6-1h0m4-17h0m5 16h0m7-12h0m0-5h0m0 13h0m1-3h0m1 2h0m15-6h0m1-8h0m3-1h0m4 1h0m3-2h0m1 24h0m7-6h0m4-21h0m7 10h0m5 14h0m6-1h0m7-11h0m33 6h0m2-14h0m15 16h0m25 9h0m3-8h0m16 2h0m3 5h0m34-26h0m21 6h0m5-1h0m-430 41h0m4-1h0m0-2h0m1-11h0m1 6h0m1-5h0m1 10h0m1 4h0m2-16h0m0 0h0m1 14h0m0-7h0m1 5h0m0-5h0m4 3h0m0 1h0m1 6h0m0-2h0m1-4h0m1-10h0m1 13h0m1-9h0m0 7h0m1-2h0m0 5h0m0-4h0m1 2h0m1 3h0m1-14h0m1 12h0m1-13h0m1 1h0m0 5h0m2 5h0m0-5h0m0 3h0m0-12h0m2 6h0m2-5h0m0 10h0m3-9h0m3 6h0m2 4h0m0-1h0m1-3h0m1-8h0m1 10h0m1 5h0m0-10h0m3 9h0m0-1h0m1-6h0m1 9h0m2-1h0m1 2h0m0-17h0m1 10h0m2-11h0m1 14h0m0-8h0m2 7h0m0-12h0m0 12h0m1-5h0m1 5h0m0 4h0m3-17h0m1 17h0m2 2h0m3-14h0m0 5h0m0-9h0m1 3h0m2 13h0m1-12h0m1 11h0m0-4h0m1 3h0m0-9h0m4 10h0m1-11h0m3 8h0m0 8h0m1-18h0m1 16h0m0-9h0m1-8h0m1-1h0m2 16h0m2-3h0m0-11h0m0 18h0m1-14h0m1-4h0m1 3h0m0 6h0m1 5h0m0-5h0m1-2h0m1 0h0m1 2h0m1-4h0m1 2h0m1 5h0m1-15h0m0 5h0m0 2h0m0 7h0m2-6h0m2-4h0m1 9h0m4-13h0m3 1h0m0 16h0m1-1h0m0-7h0m1-1h0m0 4h0m2-6h0m8 0h0m2 3h0m2-3h0m1 0h0m1 11h0m0-14h0m1 12h0m9-3h0m3 5h0m4-12h0m13-4h0m7 8h0m2 8h0m3-2h0m6-14h0m1 2h0m1 17h0m0-13h0m2 5h0m0-10h0m6 13h0m0-11h0m14 0h0m7 9h0m6-6h0m4 5h0m3-2h0m6 2h0m14 1h0m2-12h0m2 16h0m2-10h0m3 6h0m15-4h0m8 0h0m5 3h0m1 6h0m14-18h0m63 3h0m5 0h0m7 11h0m24-10h0m15 2h0"/>
<path d="M690 4492h0m-26 31h0m135-1h0m-120 24h0m17-1h0m11 11h0m-86 20h0m80 43h0m19-1h0m69-21h0m97 10h0m-280 26h0m4 5h0m23-10h0m2 12h0m5-7h0m34 15h0m18-24h0m43 10h0m19-1h0m24 4h0m-203 30h0m10-8h0m21 5h0m16-9h0m13 19h0m1-14h0m173-4h0m34 6h0m-277 38h0m5-12h0m6 18h0m16-1h0m17-19h0m4 14h0m26-7h0m14 7h0m13-18h0m27 20h0m2 4h0m6-3h0m215 4h0m-364 7h0m3 15h0m5-13h0m9 4h0m1-4h0m2 16h0m13 3h0m3 0h0m10-10h0m9 1h0m4 7h0m3-2h0m9-15h0m21 22h0m4-13h0m5 4h0m16 9h0m54-6h0m92 5h0m-290 32h0m6-16h0m4 15h0m2-20h0m2 13h0m1-8h0m7 13h0m2-1h0m2-10h0m17 13h0m10-4h0m5-18h0m1-4h0m2 23h0m7-5h0m3 7h0m2-10h0m5 9h0m17-12h0m10 4h0m6 2h0m17-14h0m13 11h0m27 9h0m93-10h0m21 1h0m47 9h0m-339 21h0m1-11h0m6 19h0m2-3h0m3-20h0m10 25h0m5-22h0m6 18h0m0-1h0m3 1h0m0-20h0m1 12h0m1-1h0m0-2h0m0-2h0m3 10h0m5-15h0m1 14h0m4-10h0m4 11h0m2-20h0m2 13h0m11 0h0m0 6h0m7-1h0m1-8h0m10-10h0m9 0h0m2 20h0m13-11h0m7-5h0m5 17h0m17-4h0m4 1h0m17-7h0m13 7h0m14-1h0m156-11h0m-364 52h0m0-13h0m5 8h0m3-13h0m3 4h0m1-13h0m1 22h0m9 1h0m1-8h0m4 11h0m1 2h0m5-6h0m1-19h0m2 3h0m10-4h0m9 13h0m1-12h0m7-1h0m0 6h0m5-1h0m5 9h0m2 12h0m0-9h0m2 4h0m3-4h0m4-20h0m8 11h0m0-1h0m3 17h0m24-24h0m3 12h0m0-15h0m15 27h0m0 0h0m4-21h0m2 11h0m6-15h0m41 5h0m2 13h0m25-3h0m10-6h0m51 7h0m61 11h0m-356 22h0m1-6h0m3 12h0m1-12h0m4 0h0m1 12h0m4-16h0m1-3h0m1 9h0m3-17h0m5 22h0m6-14h0m3 0h0m0 9h0m2 12h0m1-28h0m2 12h0m5 15h0m2 1h0m0-26h0m7 3h0m5 16h0m0-11h0m2-5h0m2 21h0m2-6h0m1-9h0m1 14h0m5-20h0m3-3h0m4 9h0m3-9h0m2 5h0m1 19h0m4-6h0m5 8h0m0-10h0m1-17h0m2 25h0m8-25h0m0 26h0m1-20h0m1 8h0m3-6h0m3-7h0m1 11h0m1-1h0m0 3h0m5-8h0m0-6h0m1 2h0m0 3h0m7 9h0m7-2h0m5 2h0m0-8h0m3 14h0m1-15h0m6 8h0m12 0h0m1 13h0m2-8h0m5-14h0m2 23h0m24-24h0m1 9h0m25 2h0m6-14h0m5 22h0m26-7h0m3-13h0m2 13h0m31-13h0m5 22h0m20-4h0m1-17h0m53 14h0m9-15h0m-394 40h0m2-3h0m2-5h0m0 19h0m1-13h0m0 17h0m5-14h0m1 2h0m1 4h0m2-18h0m2 18h0m0 6h0m1-13h0m2-1h0m0 10h0m0 3h0m0-11h0m0 9h0m0-5h0m2 3h0m2-20h0m5 22h0m6-13h0m1-1h0m0 9h0m3-3h0m5 0h0m1-10h0m6-3h0m1-3h0m1 19h0m0-2h0m2 7h0m1-14h0m3 7h0m0-1h0m2-5h0m0 13h0m0-13h0m1 16h0m1-13h0m2-10h0m4 17h0m1-8h0m1 14h0m1-5h0m2-5h0m0-12h0m4 19h0m1-14h0m1 13h0m5-18h0m1 18h0m7-22h0m3 5h0m1 17h0m4 5h0m0-8h0m9 8h0m3-11h0m6 7h0m1-17h0m1 2h0m4 7h0m6 0h0m16 12h0m7-10h0m2-6h0m3 5h0m1-1h0m3-9h0m4 8h0m1-14h0m6 23h0m17-2h0m6 6h0m9-20h0m8-7h0m5 3h0m6 5h0m4 7h0m8 0h0m5 10h0m8-26h0m0 18h0m11 11h0m19-12h0m0-9h0m65 0h0m3 10h0m0-10h0m16-3h0m146-1h0m-531 54h0m7-7h0m5 4h0m0-20h0m1 8h0m1 3h0m0-7h0m0 12h0m1-4h0m0-8h0m2 14h0m1-23h0m0 12h0m2 9h0m1-3h0m1-13h0m1 8h0m0 11h0m2-18h0m1 16h0m2-8h0m2 2h0m1 13h0m1-22h0m3 8h0m0-3h0m2 1h0m2-6h0m1 4h0m0 5h0m1 10h0m0 3h0m0-8h0m0-9h0m1 17h0m4-24h0m0 22h0m1-2h0m2 3h0m2-12h0m3-3h0m4-13h0m2 29h0m1-17h0m2 5h0m1 4h0m0-20h0m1 20h0m3-1h0m6 7h0m3-26h0m2 18h0m2-12h0m3 21h0m1-15h0m0-2h0m4 16h0m1-14h0m1 10h0m4 6h0m4-9h0m1 0h0m6 0h0m0-1h0m3-8h0m0 0h0m1 17h0m1-13h0m2 8h0m0-2h0m4-18h0m2 23h0m0-22h0m1 12h0m1 10h0m8-11h0m4 12h0m3-14h0m0 12h0m2-8h0m0 6h0m3 5h0m2-7h0m2-6h0m1 4h0m3-14h0m1 7h0m2 0h0m2 10h0m3 1h0m3-12h0m1-10h0m2 16h0m2-4h0m8 5h0m0 5h0m6 1h0m4 5h0m5-27h0m3 21h0m1-18h0m5 6h0m6 0h0m12 7h0m7 11h0m1-28h0m8 11h0m0-11h0m12 14h0m14-4h0m39 18h0m63-1h0m10-26h0m32 24h0m132-12h0m-550 45h0m0 0h0m1-3h0m1 2h0m4 0h0m1-10h0m2 6h0m2 5h0m2-17h0m1 16h0m0-1h0m1 1h0m0-27h0m1 26h0m1 2h0m0-28h0m1 7h0m1 15h0m0-18h0m1 6h0m1 11h0m1-7h0m0 14h0m1-21h0m0 17h0m0-15h0m3 8h0m2-15h0m0 3h0m0 15h0m3-17h0m2 22h0m0-2h0m1-8h0m3 4h0m2 5h0m0-18h0m2 10h0m0-10h0m1 19h0m1 0h0m1-1h0m3-12h0m1-10h0m0 13h0m1 5h0m0 4h0m0-21h0m1 12h0m0-5h0m3 1h0m0 2h0m3-6h0m1-5h0m1 23h0m0-17h0m5 18h0m0 0h0m1-18h0m1 0h0m1-1h0m0 11h0m2-15h0m1 24h0m1-6h0m1-5h0m3-16h0m1 14h0m1-12h0m1 2h0m4 12h0m0 4h0m3 2h0m1 0h0m2-21h0m0 0h0m5 2h0m2 20h0m0-9h0m0 9h0m2-18h0m2 11h0m4-6h0m0-1h0m3-4h0m1 14h0m2-9h0m1 11h0m3-2h0m1-1h0m1-8h0m5 0h0m1-11h0m4 19h0m7-6h0m1-3h0m0 7h0m1-3h0m2-11h0m2 20h0m2-9h0m0-2h0m2 7h0m4-19h0m1 7h0m2 21h0m1-2h0m0-19h0m1 3h0m2 2h0m4-8h0m3 17h0m1 5h0m2-26h0m0 15h0m4 0h0m8 6h0m1 4h0m1 4h0m16-23h0m1 9h0m1 11h0m0-20h0m17 13h0m8-4h0m0-6h0m4-7h0m1 6h0m2 18h0m5-7h0m9 4h0m5-3h0m4-3h0m17-16h0m2 1h0m4 14h0m0-16h0m2 11h0m5 17h0m5-12h0m2-8h0m4 13h0m2 6h0m11-6h0m29-10h0m17-6h0m1-2h0m7 17h0m26-20h0m-394 55h0m1-5h0m1 8h0m1-9h0m1 3h0m0-1h0m2 4h0m0-6h0m0 2h0m1-1h0m0-12h0m0 6h0m1 12h0m0-6h0m1-17h0m1 15h0m0 7h0m1-10h0m0 6h0m0 8h0m1-29h0m1 4h0m0 22h0m1-26h0m2 21h0m1-19h0m0 22h0m1 3h0m0 0h0m0-7h0m0 8h0m1-20h0m1-6h0m1 19h0m0-12h0m0-9h0m1 9h0m0 19h0m1-20h0m1 0h0m3 18h0m0-19h0m1 12h0m1 5h0m0-14h0m1 1h0m0 2h0m0 11h0m1-13h0m0 3h0m2-6h0m0-5h0m2 17h0m1-1h0m0 0h0m0-13h0m1 21h0m0-20h0m0 15h0m0-10h0m1-1h0m0 9h0m0-7h0m0 2h0m3 11h0m0 1h0m3-27h0m0 19h0m0-3h0m1 8h0m0-14h0m2 5h0m1 7h0m2-22h0m0 26h0m2 1h0m1-16h0m0 18h0m0-17h0m1-5h0m1 19h0m2-5h0m0-10h0m0 10h0m1 3h0m2 2h0m1-18h0m1 8h0m0-2h0m1-5h0m0-1h0m2-4h0m2 3h0m1 4h0m0-10h0m0 1h0m0-2h0m0 20h0m1-13h0m0 16h0m2-3h0m1-17h0m1-1h0m0 17h0m0-16h0m1 14h0m2 4h0m0 0h0m1 8h0m3-4h0m0-13h0m0-4h0m1 9h0m1 3h0m0 0h0m0-19h0m1 8h0m4 15h0m0-6h0m2-15h0m2 5h0m1 18h0m0-25h0m0 3h0m1 24h0m2-26h0m1 6h0m1-7h0m0 9h0m0 6h0m2 7h0m2-6h0m0-7h0m2-7h0m3 0h0m0 19h0m1-10h0m5-2h0m2 10h0m0 6h0m1-10h0m0 3h0m1-17h0m1 10h0m0 17h0m0-14h0m1-7h0m1 18h0m0-18h0m0-3h0m2 15h0m1 8h0m3-12h0m3-16h0m1 6h0m0 11h0m0-5h0m1 2h0m1 12h0m0-16h0m2 16h0m0-26h0m4 9h0m0 16h0m0 0h0m3-22h0m8 13h0m1-15h0m2 16h0m0-6h0m1-8h0m0 11h0m14-2h0m2 7h0m5-16h0m3 8h0m1-9h0m1 5h0m1 17h0m0 0h0m7-5h0m6-2h0m1-14h0m0 16h0m9-9h0m2 8h0m0-5h0m1-8h0m3 18h0m2-20h0m2 22h0m5-17h0m1 6h0m3 2h0m15 6h0m0 4h0m4-21h0m8 10h0m8-8h0m1 3h0m3-3h0m1 1h0m3-2h0m6 17h0m4-20h0m6 18h0m4-15h0m3-5h0m2 24h0m11-18h0m22 1h0m69-3h0m3 18h0m59-17h0m-467 43h0m3 1h0m3-2h0m1-14h0m0 6h0m1-2h0m0 3h0m1 8h0m0-6h0m1-2h0m1 4h0m0-3h0m0 4h0m1 5h0m0-16h0m1-4h0m1 18h0m1-14h0m0 13h0m1 0h0m0-15h0m1 9h0m1-4h0m0 8h0m2 1h0m0 1h0m0-18h0m1 15h0m1-5h0m1 2h0m3 9h0m0-1h0m1-17h0m0 6h0m1 8h0m2-7h0m1 5h0m1-5h0m1-6h0m1 3h0m0 5h0m0-10h0m6 9h0m0 10h0m0-13h0m1 6h0m0-13h0m0 8h0m1-1h0m0 0h0m2-4h0m0 15h0m0 1h0m1-10h0m0-10h0m1 0h0m3 18h0m0-12h0m1 12h0m2-10h0m0 5h0m2-6h0m0 9h0m0-4h0m0 6h0m1-5h0m1 6h0m1-13h0m0 2h0m0 8h0m2-10h0m2 1h0m1 1h0m3 5h0m0 7h0m2-13h0m1 5h0m1 1h0m0-11h0m1 17h0m1-16h0m2 12h0m2-2h0m0 5h0m1-18h0m1 7h0m0-4h0m1 12h0m0 1h0m0-10h0m4 12h0m0-6h0m2-6h0m2-6h0m1 13h0m1-3h0m1 3h0m0-10h0m0 16h0m1-13h0m1 11h0m1-2h0m1 2h0m2-14h0m1 18h0m1-3h0m0-1h0m1-4h0m2-9h0m0 2h0m2-6h0m2 17h0m1 1h0m1-16h0m5 2h0m1 2h0m2 2h0m2 9h0m2-16h0m2 14h0m1-5h0m2-6h0m1 11h0m1-15h0m12 3h0m1 1h0m0 10h0m2-4h0m1-3h0m3 8h0m0-15h0m1 17h0m1-14h0m1 17h0m3-14h0m0-4h0m1 18h0m4-1h0m1-6h0m0-1h0m7-3h0m6-9h0m3 3h0m1 8h0m2-10h0m10-1h0m2 12h0m3-9h0m21-1h0m0 3h0m1-1h0m1-3h0m1 11h0m6-12h0m2 5h0m8 1h0m10-6h0m0 14h0m2-13h0m1 7h0m13 11h0m8-6h0m4 6h0m9-2h0m3-9h0m5 5h0m6 0h0m1-2h0m6-7h0m2 11h0m5-8h0m8 5h0m4-8h0m6-4h0m7 2h0m52-2h0m17 6h0m1-5h0m24 17h0m54-12h0m62-3h0m1 16h0"/>
<path d="M772 4492h0m-93 53h0m12 9h0m-6 19h0m102 1h0m-164 28h0m14-1h0m9-2h0m-52 50h0m8-13h0m17-15h0m34 26h0m28-6h0m25-7h0m59 9h0m15-23h0m-199 45h0m17 14h0m8 0h0m7-21h0m2-6h0m9 19h0m21-16h0m3 24h0m5-2h0m20-3h0m17-7h0m15-12h0m22 18h0m83-23h0m24 19h0m47-2h0m-318 22h0m0 13h0m24 2h0m5-12h0m4-12h0m45 12h0m8 5h0m28 8h0m22-12h0m17 9h0m10 2h0m-180 17h0m9 5h0m3 9h0m3-10h0m3 3h0m16-17h0m3 11h0m1 15h0m13-7h0m3-19h0m3 11h0m2 8h0m26 2h0m6-5h0m34 1h0m19-1h0m6 8h0m16-2h0m96-3h0m16 8h0m14-6h0m0-11h0m57 11h0m49-9h0m-411 35h0m2-6h0m4 15h0m1-6h0m3 8h0m3-14h0m5-12h0m10 8h0m9 14h0m8 2h0m0-12h0m2 1h0m1 2h0m5 6h0m6 3h0m1-14h0m7-6h0m9 12h0m16 2h0m25-2h0m12 10h0m8-9h0m5-19h0m43 27h0m2-22h0m19 2h0m2 13h0m75-14h0m-309 51h0m8-7h0m4-9h0m4 12h0m1-9h0m6 1h0m1 11h0m8-25h0m1 10h0m12 5h0m18 3h0m0-5h0m7-14h0m1 19h0m1-12h0m2 7h0m2 5h0m11 8h0m0-14h0m3-3h0m8 6h0m12-7h0m0 9h0m8-12h0m9 1h0m7-2h0m3-3h0m2 17h0m8-10h0m2-2h0m15-8h0m9 21h0m6 0h0m14-13h0m7-5h0m10 9h0m15-4h0m1 4h0m22 2h0m14 3h0m78-17h0m62 27h0m-419 31h0m9-18h0m4 18h0m4-26h0m0 23h0m0 2h0m0-14h0m2 11h0m2-3h0m2 5h0m1-20h0m2 16h0m7-15h0m4 20h0m0-20h0m1 12h0m6 8h0m0-3h0m1-11h0m3 12h0m4-3h0m1-4h0m3 7h0m1-2h0m1-13h0m3 6h0m0 5h0m5-12h0m4 17h0m1-23h0m1 24h0m0-22h0m4 11h0m2-15h0m9 28h0m2-12h0m4 7h0m9 5h0m3-8h0m5 0h0m0 7h0m7 0h0m3-24h0m3 10h0m9 1h0m5 4h0m3 10h0m16-25h0m7 3h0m6 18h0m5 1h0m12-3h0m45-12h0m5 17h0m25-16h0m79-8h0m24 25h0m-373 17h0m3 5h0m2 5h0m4-14h0m1-7h0m1 20h0m1 3h0m2-14h0m4 15h0m1-4h0m0-23h0m12 9h0m2 7h0m4-18h0m2 21h0m2-17h0m2 19h0m1-10h0m1 12h0m2-19h0m0 20h0m8-4h0m1-7h0m2-15h0m1 8h0m4 12h0m6 4h0m0-21h0m0 11h0m3 11h0m1-12h0m11-4h0m2-5h0m1 4h0m0-1h0m9-4h0m6 15h0m1-6h0m1 1h0m8-8h0m1 17h0m9-16h0m11 18h0m3-6h0m5 1h0m8-4h0m7-5h0m7-7h0m10 3h0m7-3h0m0 19h0m28 1h0m21-20h0m1 23h0m24 3h0m46-4h0m12-4h0m21-19h0m116 3h0m-463 49h0m0 5h0m1 0h0m1-12h0m1 11h0m1-5h0m1-11h0m0 8h0m0-2h0m1-18h0m0 15h0m1-15h0m1 24h0m1 2h0m0-11h0m1 10h0m1-3h0m2-17h0m0 10h0m1-15h0m6 9h0m1 18h0m5 2h0m1-28h0m0 12h0m1 9h0m0-22h0m1 14h0m1 9h0m4 5h0m1-24h0m2 22h0m1-24h0m0 15h0m2 8h0m2-13h0m2 9h0m15-17h0m3 21h0m2 3h0m0 1h0m0-16h0m0 7h0m6 3h0m0-7h0m2 6h0m2-22h0m0 16h0m1-3h0m1-9h0m0 20h0m0 1h0m1-18h0m1 15h0m2 2h0m2 0h0m0-22h0m1 12h0m11 9h0m3-16h0m0 21h0m2-12h0m1-10h0m1 9h0m4 0h0m0-12h0m4 6h0m4-2h0m6 6h0m3-6h0m1 10h0m1-8h0m20 16h0m0-2h0m1-11h0m4 3h0m3 5h0m5-8h0m1-3h0m8 9h0m0 3h0m3-16h0m1 10h0m5-3h0m0 15h0m31-18h0m3 17h0m5-14h0m26 1h0m2-13h0m7 6h0m15-4h0m3 19h0m34 1h0m7-8h0m12-8h0m34 17h0m7-16h0m49 4h0m-431 44h0m2 0h0m1-7h0m2-5h0m1 7h0m3 5h0m0-13h0m0 7h0m2 10h0m1-14h0m1-8h0m2 11h0m4 9h0m0-5h0m1-10h0m1 10h0m0 7h0m1-10h0m2-11h0m0 16h0m1-13h0m1 7h0m0 11h0m2-4h0m0-10h0m2 13h0m1-18h0m2 18h0m0-1h0m1-11h0m0 13h0m2-25h0m2 22h0m1-23h0m0 15h0m1-8h0m5-5h0m5 13h0m0 10h0m1-7h0m1-10h0m2-2h0m0 1h0m4 16h0m1-4h0m2-14h0m1 9h0m1 2h0m2 5h0m0-24h0m3 3h0m1 12h0m0-10h0m1 17h0m0-19h0m4 26h0m5-12h0m0 4h0m2-7h0m0 6h0m0 6h0m1-7h0m1 3h0m1-13h0m1 17h0m4-9h0m2-1h0m6 11h0m4-4h0m0 4h0m1-9h0m7 9h0m4-26h0m0 0h0m3 25h0m0-11h0m1 5h0m0 6h0m1-18h0m1 18h0m0-7h0m6-8h0m8 17h0m1-3h0m3-14h0m7-9h0m1-2h0m1 4h0m3 15h0m5-19h0m0 27h0m4-21h0m3 19h0m5-6h0m4-8h0m1 11h0m5 7h0m6-10h0m0-12h0m5 13h0m8 9h0m7-28h0m1 24h0m7-14h0m2 7h0m5-4h0m5 10h0m9-1h0m4 1h0m2-13h0m4 14h0m1-24h0m15 10h0m2 6h0m9 4h0m1 0h0m17-4h0m1 11h0m11-27h0m11 11h0m10-1h0m0 14h0m15 1h0m10-5h0m37 1h0m-396 36h0m0-6h0m5 1h0m0-8h0m0 9h0m1 1h0m0-15h0m2 18h0m1-3h0m1-21h0m1 8h0m1 9h0m0-4h0m0-2h0m1-13h0m1 5h0m0 14h0m2-4h0m1 9h0m1 3h0m1-10h0m0-7h0m1 4h0m0 8h0m0-17h0m1-4h0m1 14h0m1-6h0m0 13h0m1-6h0m1-3h0m3 10h0m0-23h0m4 27h0m0 0h0m1-7h0m0-13h0m2 10h0m3 2h0m0 3h0m1-24h0m0 16h0m0-10h0m1 19h0m0-16h0m2 8h0m0 10h0m1-8h0m0-5h0m1 0h0m2-13h0m0 12h0m2-1h0m1-6h0m2 4h0m0 2h0m0 6h0m1-15h0m5-1h0m0 26h0m0-16h0m2 8h0m1 6h0m1-18h0m0 8h0m3-2h0m0-6h0m2 18h0m0-1h0m1-25h0m1 11h0m2-3h0m0-2h0m1 22h0m3-9h0m1-13h0m0-4h0m0 6h0m5 16h0m3-22h0m5 21h0m1-12h0m1 0h0m1-11h0m1 5h0m0 21h0m5-6h0m1 3h0m0-1h0m0-11h0m2-2h0m10 0h0m1 10h0m1-14h0m2 13h0m2-1h0m0-8h0m1 6h0m1 11h0m1-12h0m2-8h0m1-6h0m0 23h0m2-17h0m4 20h0m1-25h0m3 10h0m2-2h0m5-2h0m0 0h0m0 10h0m1 1h0m1-8h0m7 5h0m6 8h0m9-3h0m0 2h0m0-19h0m1 2h0m2 6h0m1 18h0m12-29h0m2 20h0m4 6h0m2-6h0m0-13h0m17 20h0m0-4h0m5-9h0m5-8h0m7-3h0m2 12h0m1-13h0m1 25h0m8-24h0m1 6h0m3-7h0m7 1h0m3 23h0m4 1h0m20-9h0m12-15h0m1 21h0m17-16h0m73 13h0m-391 36h0m1-4h0m4 5h0m0-11h0m0 9h0m0-11h0m0 6h0m1 0h0m2-7h0m0 7h0m1 0h0m1 8h0m0-10h0m0-9h0m1 12h0m0-4h0m0-7h0m0-5h0m1 22h0m0-2h0m0-7h0m2 7h0m0 1h0m0-11h0m2 10h0m0-26h0m0 7h0m1 1h0m1 2h0m0 13h0m0-8h0m2-11h0m1 14h0m1 1h0m1-1h0m0-3h0m1 4h0m1-15h0m1-3h0m0 17h0m0-18h0m1 4h0m0 13h0m0-14h0m1 0h0m0 17h0m1-9h0m1 8h0m3-19h0m0 9h0m1 9h0m0-16h0m0 27h0m3-26h0m0 8h0m1 13h0m1-2h0m1-13h0m0 6h0m1-15h0m1 25h0m0-2h0m1 3h0m0-25h0m1 25h0m2-20h0m0 10h0m1-11h0m1 19h0m0-22h0m0 25h0m5-4h0m2 2h0m0-14h0m0 10h0m1-9h0m0 15h0m0-15h0m1 7h0m0-12h0m0 2h0m0 18h0m1-24h0m2 4h0m0 9h0m1-3h0m0-7h0m0 20h0m0-14h0m1-1h0m1-6h0m1 21h0m0-3h0m2-5h0m0-13h0m0 4h0m4-3h0m1-2h0m0 4h0m0-8h0m2 20h0m0 0h0m1 2h0m1-10h0m0 8h0m1-20h0m0 5h0m1 21h0m0-18h0m2 4h0m1-8h0m0 14h0m1-16h0m0 12h0m2 2h0m1-15h0m1 28h0m0-10h0m1-3h0m0 9h0m3-8h0m3-9h0m0 14h0m1 2h0m1-18h0m0 18h0m0-7h0m1-11h0m1 2h0m0 0h0m1 11h0m0 4h0m2-19h0m0-4h0m1 13h0m2-8h0m1 0h0m3 18h0m1-5h0m0-8h0m3 16h0m1 1h0m4-23h0m1 16h0m0-16h0m2 13h0m0-3h0m5-12h0m0 24h0m0-21h0m1 9h0m4-8h0m0 8h0m5-7h0m1 10h0m0-5h0m1-11h0m3 2h0m10 3h0m0 5h0m0-5h0m2 23h0m3-3h0m1-21h0m2 24h0m6-13h0m1-6h0m2 18h0m2-4h0m2-3h0m0-9h0m1-6h0m0 0h0m2 6h0m0 7h0m1-13h0m1 19h0m2-23h0m4 18h0m3-12h0m3 9h0m2 10h0m0-10h0m5 5h0m3-11h0m2 12h0m2-22h0m3 27h0m4-13h0m10-10h0m7 10h0m5 4h0m1-18h0m1 24h0m5-25h0m7 1h0m5 7h0m3 15h0m4-7h0m3 11h0m1-17h0m1-2h0m10 20h0m5-28h0m3 6h0m1-2h0m8 12h0m14-8h0m12 18h0m14-20h0m11 22h0m10-15h0m51-4h0m5 11h0m10 8h0m-426 21h0m2-3h0m1 2h0m1-1h0m1-2h0m1-1h0m0-4h0m0 10h0m1-8h0m0-4h0m0 3h0m0 9h0m0-15h0m1 7h0m1-1h0m1-1h0m3 4h0m1-7h0m1 10h0m0-7h0m0-3h0m1 5h0m0-12h0m1 2h0m0 11h0m0-4h0m1 10h0m1-4h0m0-15h0m1 19h0m1-6h0m0 4h0m0 2h0m1-9h0m0-2h0m1-8h0m1 4h0m1 3h0m1 14h0m0-17h0m0 8h0m1-3h0m3-4h0m1-3h0m1 14h0m0-4h0m1 0h0m3 1h0m1-10h0m0 1h0m2-4h0m0 0h0m2 0h0m0 18h0m0-16h0m1-2h0m1 9h0m1 10h0m1-1h0m1-14h0m0 15h0m0-17h0m0 18h0m1-9h0m2 2h0m2 6h0m0-2h0m0-2h0m1-11h0m0 9h0m1-4h0m0 6h0m3-7h0m1 9h0m0-8h0m0-4h0m4 8h0m2 5h0m1 0h0m2-14h0m0-3h0m1 14h0m3-8h0m1 3h0m0 3h0m0 6h0m0-2h0m2 1h0m0 1h0m1-6h0m3 2h0m2-12h0m3 5h0m1 0h0m0 6h0m1 0h0m3-8h0m2 5h0m0-6h0m3 12h0m11-8h0m0-9h0m1 0h0m0 8h0m1 11h0m0-1h0m5-4h0m2-1h0m3 3h0m4-1h0m1-9h0m0-3h0m3 8h0m3-10h0m1 3h0m1 6h0m2-7h0m1 16h0m0-19h0m4 7h0m1-2h0m0 7h0m1-1h0m2-8h0m3 7h0m0 0h0m1-10h0m2 13h0m5 1h0m8-6h0m1-1h0m2 8h0m1 2h0m1 2h0m1-18h0m1 10h0m5 5h0m3 2h0m12-8h0m3-7h0m5-3h0m1 2h0m6 3h0m13 11h0m8 3h0m10 1h0m1-10h0m1-7h0m2 0h0m2-3h0m6 13h0m7-2h0m3-4h0m12 6h0m26 4h0m3-1h0m27 2h0m8-18h0m2 15h0m4 4h0m27-3h0m74-9h0m25-3h0"/>
<path d="M686 4474h0m18 47h0m-42 33h0m-35 19h0m12 0h0m22 12h0m10-13h0m12 12h0m88-24h0m41 7h0m-123 45h0m3 4h0m4-15h0m8-9h0m37 6h0m31 12h0m-121 22h0m6-8h0m15 2h0m-100 49h0m15-15h0m6 4h0m4-6h0m52 14h0m8-18h0m44 19h0m80-12h0m3-11h0m96 17h0m-303 34h0m2-21h0m6 7h0m5 15h0m36 2h0m12-16h0m26-8h0m1 3h0m7 23h0m28-21h0m66-5h0m3 24h0m185-5h0m-408 37h0m17-17h0m34 8h0m4 10h0m1-9h0m15-13h0m9 5h0m1 1h0m5-11h0m22 15h0m11 10h0m16-9h0m9 8h0m9-13h0m97-9h0m-270 48h0m13-9h0m0-4h0m7 19h0m12-23h0m0 9h0m1-6h0m0-4h0m2 25h0m0-21h0m7 16h0m4 4h0m11-1h0m8-3h0m1-20h0m7 0h0m1 10h0m26-12h0m0 15h0m33-15h0m2 23h0m0-15h0m18 7h0m10 3h0m1-14h0m19 8h0m3 16h0m10-21h0m20 19h0m2-11h0m23 11h0m24-14h0m18-10h0m85 21h0m-388 33h0m11-8h0m10-7h0m7 14h0m1-16h0m5-7h0m2 25h0m1-8h0m2-7h0m8 11h0m9 2h0m2 3h0m5-14h0m1 4h0m0 10h0m3-7h0m6-10h0m5-5h0m3 13h0m14-4h0m1 4h0m4-16h0m8 19h0m1-2h0m13-12h0m4 19h0m1-24h0m1 21h0m16-14h0m13 0h0m23 7h0m6 0h0m29-9h0m24 9h0m14-2h0m69-7h0m5 10h0m-335 26h0m1 13h0m5-19h0m0 1h0m1-1h0m1 3h0m2-3h0m2-8h0m8 20h0m4-5h0m4-5h0m3 3h0m0-12h0m3-1h0m2 22h0m2 1h0m1-18h0m6-1h0m0-1h0m0 5h0m5 2h0m3-4h0m1 19h0m1-12h0m1-11h0m0 23h0m5-24h0m10 24h0m3-14h0m1 12h0m19-16h0m2-3h0m1 24h0m1-25h0m1 16h0m0-14h0m4 3h0m3 17h0m1-24h0m0 27h0m3-13h0m1 8h0m19-14h0m2-8h0m0 13h0m1-13h0m4 26h0m8-9h0m4-9h0m16 7h0m8 13h0m44-16h0m3-11h0m48 8h0m21 5h0m31-13h0m-339 50h0m1 2h0m0 4h0m4-10h0m4-13h0m1 17h0m2-1h0m0 0h0m0 6h0m2-27h0m0 13h0m2 13h0m0-9h0m2 9h0m5-7h0m1 5h0m2-23h0m0 15h0m2-13h0m4 14h0m1-8h0m1 15h0m1-15h0m1-4h0m1 2h0m3 11h0m0-7h0m4-3h0m1 4h0m3-2h0m0 3h0m2 14h0m0-2h0m3-21h0m1 7h0m2-3h0m8 8h0m1-10h0m7 9h0m3 14h0m6-16h0m0 11h0m4-21h0m1 21h0m13-22h0m1 8h0m0 19h0m1-1h0m3-22h0m3 15h0m0-14h0m5 8h0m1-11h0m2 25h0m1-6h0m1 3h0m14-10h0m0-1h0m10-14h0m6 19h0m3 0h0m1-13h0m32 1h0m1 20h0m25-21h0m16 13h0m23-10h0m3 1h0m3 17h0m20-14h0m7-13h0m15 3h0m37 16h0m82-19h0m-429 53h0m5-1h0m0-4h0m0-12h0m2 20h0m4-19h0m0 10h0m1-12h0m3 19h0m3-17h0m1 3h0m0 18h0m0-24h0m1 18h0m1-13h0m0-5h0m3 1h0m4 8h0m4 3h0m3-5h0m0-6h0m1 11h0m4 4h0m10-10h0m0 15h0m1-7h0m1-18h0m3 11h0m7-8h0m0 12h0m1 5h0m0 3h0m0-14h0m3 0h0m1 0h0m1 15h0m1 3h0m0-13h0m3-11h0m5 9h0m4 2h0m2-8h0m12 8h0m0 9h0m2 1h0m2-5h0m7-15h0m0-3h0m1 20h0m1-6h0m2 2h0m0-18h0m0 20h0m7-11h0m7-4h0m1 14h0m2-9h0m0 15h0m2-21h0m2 16h0m1-10h0m0-7h0m12 4h0m1 22h0m2-29h0m2 10h0m4 3h0m11 15h0m6-26h0m5 2h0m7 21h0m15-1h0m21-4h0m2 3h0m16-3h0m14-5h0m7 12h0m38-22h0m39 18h0m-354 36h0m3-6h0m0 0h0m1 3h0m0-1h0m3 1h0m4-18h0m1-4h0m0 20h0m1-20h0m0 19h0m2 3h0m0-20h0m2 6h0m1 1h0m1-2h0m0 3h0m4-13h0m0 8h0m1 6h0m1-1h0m0-8h0m2-4h0m1 6h0m3 12h0m2 8h0m2-17h0m3-9h0m2 4h0m1-4h0m1 22h0m1 2h0m3-22h0m0-4h0m1 18h0m0-18h0m1 23h0m0-1h0m2-2h0m3-1h0m3-17h0m2 0h0m1 15h0m1-11h0m0 16h0m1 7h0m1-16h0m2-10h0m2 18h0m0 0h0m2-13h0m2 21h0m3-29h0m0 28h0m4-23h0m2 13h0m0-13h0m5 14h0m2 10h0m1-19h0m1 15h0m2-7h0m1 4h0m3-8h0m0 5h0m1 6h0m1-25h0m3 27h0m1-16h0m2-3h0m0-2h0m3 2h0m2 16h0m1-20h0m5 9h0m0 6h0m1-10h0m0-6h0m4 22h0m4-10h0m2 4h0m2 9h0m4-16h0m2-12h0m9 11h0m0 3h0m3 14h0m3-14h0m0-10h0m1 1h0m0 23h0m2-7h0m0-6h0m12 13h0m1-16h0m1-5h0m7 11h0m2 0h0m1-6h0m1-3h0m7 7h0m5 1h0m6 11h0m1-8h0m4-19h0m7 25h0m11-11h0m7 7h0m5 5h0m0-10h0m1-14h0m5 18h0m12-16h0m10 16h0m6 8h0m2-19h0m9-3h0m20-4h0m1 5h0m4 9h0m2-13h0m3 9h0m8-10h0m13 24h0m100-26h0m-435 57h0m1-5h0m1-8h0m0 14h0m1-15h0m1-2h0m0 0h0m0 10h0m0 2h0m1-8h0m0 7h0m1-3h0m1-12h0m0 21h0m2-8h0m0-17h0m1-3h0m0 18h0m1-14h0m1 24h0m0-7h0m1 2h0m1 4h0m1-24h0m1 19h0m1-21h0m0 8h0m1 1h0m2 17h0m4 1h0m0-29h0m0 29h0m0-8h0m1-7h0m1 3h0m2 10h0m1-27h0m0 27h0m1-10h0m1 1h0m1 7h0m0-17h0m2 8h0m0 12h0m0-23h0m0 2h0m0-1h0m1-5h0m0 25h0m1-26h0m2 21h0m0-4h0m1-11h0m1 21h0m1-21h0m1-4h0m1 1h0m0 8h0m2-10h0m1 18h0m1-4h0m0 14h0m1-4h0m1 0h0m2-21h0m0-2h0m1 7h0m1 6h0m1-13h0m1 1h0m1-1h0m3 3h0m1-2h0m4 12h0m2 6h0m0 6h0m0-24h0m0 6h0m3-4h0m0 23h0m1-16h0m1 0h0m0 6h0m1-14h0m1 5h0m0-4h0m1 19h0m1-17h0m0 19h0m0-24h0m1 27h0m5-16h0m0 13h0m2-9h0m2 11h0m0 1h0m3-3h0m1-12h0m2 7h0m2-17h0m1 10h0m1-4h0m3 6h0m0-13h0m3 20h0m2-22h0m7 7h0m0 9h0m2-8h0m1 0h0m4 19h0m6-13h0m2 1h0m6 0h0m5-9h0m1 13h0m1-18h0m3 15h0m4 12h0m2-14h0m0-9h0m6-6h0m0 27h0m0-13h0m3 5h0m6 3h0m3 1h0m2-2h0m1-3h0m4-10h0m6 0h0m0 1h0m4-2h0m1 4h0m3 5h0m0-4h0m2-6h0m4 14h0m1 8h0m15-17h0m9-5h0m2 18h0m2 4h0m0-2h0m2-13h0m2-7h0m13 6h0m5 1h0m9-1h0m4 9h0m19-21h0m4 11h0m0-3h0m1 13h0m12-20h0m4 28h0m3-4h0m7 1h0m7-4h0m1-6h0m9 9h0m9-11h0m14 0h0m4-11h0m10 20h0m24-13h0m2 9h0m14-2h0m77-13h0m21 9h0m-520 45h0m4-1h0m0 0h0m1-5h0m0-1h0m2-4h0m1 3h0m1-6h0m1 9h0m1 0h0m1-17h0m3 11h0m0-1h0m0-13h0m1 4h0m0-3h0m1-4h0m0 10h0m0 15h0m0-7h0m0-9h0m1 10h0m0 1h0m2-15h0m1 13h0m0 6h0m2-5h0m1-4h0m1-10h0m0 8h0m0-7h0m1 21h0m0-7h0m3-3h0m2-3h0m0 9h0m1-7h0m0 3h0m1-17h0m0 21h0m1-20h0m0 17h0m1-12h0m0 21h0m0-6h0m1-18h0m0 5h0m1 15h0m0-1h0m1-8h0m1 11h0m1-9h0m0-13h0m1-3h0m0-1h0m0 2h0m0 16h0m0-4h0m1-9h0m2 1h0m1-7h0m0 15h0m1-5h0m0-8h0m1 21h0m0-4h0m0-12h0m1-7h0m0 26h0m2 3h0m1-28h0m0 14h0m0 0h0m0 8h0m1-7h0m2 10h0m0-17h0m2 15h0m1 2h0m0-23h0m5 0h0m3-3h0m1 12h0m1-1h0m0-2h0m1 7h0m0-8h0m2 11h0m2-13h0m0-5h0m0 7h0m1 7h0m1 3h0m0-1h0m2 4h0m2-21h0m0 27h0m0-23h0m2 22h0m1-1h0m1-6h0m1-8h0m1 12h0m0-17h0m1 1h0m1 20h0m0-5h0m2-22h0m1 10h0m3 0h0m3 14h0m1-1h0m4-1h0m3-21h0m1 3h0m1 23h0m1-17h0m0 18h0m1-3h0m3-23h0m2 6h0m0 6h0m2 14h0m0-11h0m2-12h0m0 10h0m2-5h0m1 6h0m1 8h0m1-10h0m4 12h0m0 2h0m1-23h0m2 16h0m2-17h0m0 25h0m3-25h0m3 13h0m3-1h0m5-15h0m0 13h0m0-1h0m1 13h0m4-6h0m0-16h0m3 16h0m7 7h0m1-26h0m2 7h0m0 0h0m2 15h0m5-20h0m3 21h0m3 2h0m1-13h0m1 0h0m0 11h0m3-11h0m3-8h0m3 8h0m4-10h0m0 18h0m1-14h0m1 6h0m2 10h0m0-4h0m5-10h0m1-3h0m1-2h0m2 22h0m2-5h0m4-14h0m6-3h0m4-3h0m4 14h0m2-12h0m8 5h0m4 10h0m22-3h0m6 14h0m9-26h0m1 20h0m5-8h0m6 4h0m14-6h0m7 11h0m6-10h0m4 7h0m4-21h0m2 1h0m3 26h0m12-13h0m21 1h0m4 12h0m3-3h0m7-9h0m4-10h0m39 24h0m15-19h0m64 16h0m25-14h0m-526 30h0m1 5h0m0 1h0m2 2h0m0-3h0m0-12h0m1 4h0m1 5h0m1-3h0m1 6h0m2 0h0m1-13h0m0-2h0m0 9h0m2 9h0m0-3h0m1-5h0m0-11h0m1 3h0m0 17h0m0-1h0m1 1h0m0-15h0m0 15h0m1-13h0m0-3h0m0 7h0m3-11h0m0 6h0m0 11h0m1 0h0m0-1h0m0-15h0m0 10h0m1 5h0m1-7h0m2 4h0m0 2h0m0-4h0m0-12h0m3 5h0m1 7h0m1 0h0m0 4h0m0-3h0m0 7h0m1-19h0m0 20h0m1-3h0m0-16h0m0-2h0m1 0h0m0 20h0m0-6h0m1-3h0m0 2h0m1 8h0m0-9h0m1 0h0m0-8h0m1 1h0m2-1h0m0 4h0m2 3h0m0-9h0m0 1h0m1 3h0m1-5h0m1 2h0m1-2h0m1 10h0m1-1h0m1 10h0m0-3h0m0 1h0m1-1h0m1-3h0m3-11h0m1 8h0m2 8h0m1-19h0m2 4h0m0 13h0m1 3h0m0 0h0m1-2h0m1-18h0m2 19h0m0-19h0m4 10h0m0-3h0m0-2h0m1 0h0m1 10h0m2-3h0m0-11h0m0-1h0m1 18h0m2 2h0m5-20h0m1 12h0m1 3h0m0-15h0m1 14h0m0 4h0m2-8h0m2-5h0m1 15h0m2-20h0m1 18h0m9-16h0m2 10h0m1-6h0m2 1h0m3 0h0m2 2h0m15 1h0m2 9h0m2-8h0m0 2h0m2 0h0m10 0h0m4 2h0m3-6h0m5-2h0m1 5h0m2 3h0m2 3h0m4-16h0m3 0h0m7 11h0m2-8h0m0 13h0m2-5h0m8-8h0m5 11h0m0-10h0m3 3h0m5 1h0m6 1h0m2 9h0m4-10h0m1 9h0m3-12h0m10-5h0m2 13h0m5 1h0m3-1h0m1 4h0m4-1h0m4 1h0m10-10h0m6 6h0m13-1h0m1-13h0m9 8h0m7 6h0m8 4h0m1-7h0m1 3h0m3-15h0m27 0h0m2 12h0m63 0h0m24 9h0m9-12h0m114 7h0"/>
</g>
<rect x="20.3" y="291.1" width="236.6" height="230.7" fill="none" stroke="#8e8e8e" stroke-width="1"/>
<path d="M40.0 522.3v1.6M79.4 522.3v1.6M118.9 522.3v1.6M158.3 522.3v1.6M197.7 522.3v1.6M237.2 522.3v1.6M19.8 500.1h-1.6M19.8 456.1h-1.6M19.8 412.1h-1.6M19.8 368.1h-1.6M19.8 324.1h-1.6" stroke="#707070" stroke-width=".75" fill="none"/>
<g font-family="'DejaVu Sans','Liberation Sans',sans-serif" font-size="4.65" fill="#2a2a2a" stroke="#2a2a2a" stroke-width=".08">
<text x="40.0" y="529.2" text-anchor="middle">0.0</text>
<text x="79.4" y="529.2" text-anchor="middle">0.2</text>
<text x="118.9" y="529.2" text-anchor="middle">0.4</text>
<text x="158.3" y="529.2" text-anchor="middle">0.6</text>
<text x="197.7" y="529.2" text-anchor="middle">0.8</text>
<text x="237.2" y="529.2" text-anchor="middle">1.0</text>
<text x="16.9" y="500.8" text-anchor="end">0.0</text>
<text x="16.9" y="456.8" text-anchor="end">0.2</text>
<text x="16.9" y="412.8" text-anchor="end">0.4</text>
<text x="16.9" y="368.8" text-anchor="end">0.6</text>
<text x="16.9" y="324.8" text-anchor="end">0.8</text>
</g>
<g font-family="'DejaVu Sans','Liberation Sans',sans-serif" font-size="7.6" fill="#000" stroke="#000" stroke-width=".1" text-anchor="middle">
<text x="138.3" y="287.7">Strategy 3</text>
<g font-size="7.4">
<text x="142.1" y="303.9"><tspan font-style="italic">n</tspan> Ach</text>
<text x="38.7" y="511.4"><tspan font-style="italic">n</tspan> Pow</text>
<text x="239.5" y="511.4"><tspan font-style="italic">n</tspan> Aff</text>
</g></g>
</g>
<g>
<path d="M324.1 500.1L422.8 309.6L521.6 500.1Z" fill="none" stroke="#d2d2d2" stroke-width=".75" stroke-dasharray=".9 .7"/>
<circle cx="324.1" cy="500.1" r="1.85" fill="#000"/>
<circle cx="521.6" cy="500.1" r="1.85" fill="#000"/>
<circle cx="422.8" cy="309.6" r="1.85" fill="#000"/>
<g transform="scale(.1)" fill="none" stroke="#1f77b4" stroke-width="12" stroke-linecap="round" stroke-opacity="0.41">
<path d="M4435 3495h0m-319 114h0m209 76h0m207-4h0m-406 55h0m161-8h0m-17 35h0m82 26h0m81 18h0m154-19h0m3 5h0m0 1h0m-571 41h0m392 2h0m22-18h0m118 10h0m-521 39h0m114 1h0m88-6h0m34-17h0m127-2h0m10 9h0m214 5h0m2-8h0m-340 26h0m196 18h0m14-2h0m0-15h0m56 22h0m-137 2h0m65 6h0m8-2h0m119 18h0m23-1h0m32-3h0m3 7h0m-830 10h0m118 6h0m62 0h0m53 9h0m36-10h0m56 4h0m57-12h0m93 4h0m185 14h0m5-11h0m65-9h0m83 26h0m-688 21h0m449-4h0m10-13h0m160 2h0m-734 47h0m390-7h0m27-10h0m3 1h0m29 16h0m70 4h0m298-24h0m26 4h0m-799 29h0m49 15h0m295 6h0m100-24h0m22 10h0m76-2h0m100-3h0m65 14h0m10-10h0m16-2h0m3-6h0m23 20h0m19 7h0m-866 18h0m195 6h0m46-10h0m215 4h0m194-9h0m121 18h0m72-15h0m-924 47h0m291-5h0m181-19h0m41 11h0m121 9h0m43 5h0m111-26h0m39 21h0m68-22h0m94 24h0m51 2h0m-1009 7h0m164 4h0m273 17h0m43-16h0m114 12h0m29-7h0m218-8h0m30 22h0m23-25h0m63-1h0m62 15h0m-596 13h0m200 25h0m114-4h0m23-5h0m125-15h0m58 11h0m-666 31h0m235 1h0m47-10h0m19 1h0m73-4h0m25 18h0m143-14h0m77 2h0m31 3h0m68 7h0m-1051 25h0m373-10h0m57 1h0m11 7h0m42-7h0m176 9h0m149 3h0m135 4h0m44-5h0m40 6h0m50 5h0m-800 21h0m52-7h0m97 0h0m19 3h0m146-12h0m49 2h0m176 6h0m9 20h0m30-27h0m32 12h0m20-6h0m93 10h0m31-1h0m61-6h0m26-8h0m1 23h0m-986 26h0m314 7h0m48-17h0m92 7h0m29-12h0m2 3h0m157-1h0m49 15h0m4 6h0m5-4h0m33-11h0m11 3h0m13 12h0m171-9h0m75 6h0m-1104 7h0m58 6h0m139 18h0m449-10h0m50 10h0m22-21h0m37 13h0m71-9h0m115 0h0m39 18h0m4-21h0m13 2h0m38-4h0m3 10h0m6 14h0m25-4h0m6-13h0m20 10h0m20-18h0m18 25h0m-861 5h0m16 3h0m16-1h0m20-6h0m66 28h0m1-13h0m12 14h0m137-29h0m5 5h0m9 22h0m6-16h0m14-7h0m2 13h0m4 6h0m62-5h0m44-5h0m10-9h0m14 12h0m51-9h0m66 6h0m71 0h0m16 4h0m25-1h0m16 6h0m18-9h0m1-7h0m2 19h0m21-20h0m0 15h0m49-17h0m14 4h0m70-3h0m28 25h0m-1257 27h0m219-16h0m26 3h0m52-13h0m127 20h0m117 9h0m32 0h0m55-13h0m17-6h0m153 0h0m68-2h0m5-5h0m78 0h0m43 22h0m1-14h0m2-3h0m29 20h0m26-12h0m65-8h0m38-7h0m46 8h0m25 1h0m42 6h0m-1252 25h0m464-11h0m71 0h0m19 20h0m137-1h0m168 7h0m29-10h0m1-6h0m8 8h0m7-9h0m54 14h0m41-11h0m24 0h0m6 16h0m18 1h0m37-11h0m34 7h0m12 1h0m53-8h0m14-9h0m30 0h0m33-6h0m-867 30h0m123-3h0m10 10h0m31-9h0m62 17h0m26 8h0m5-21h0m30-4h0m15 4h0m67 6h0m37-9h0m1 6h0m81 10h0m9 0h0m60-16h0m65 10h0m43 11h0m44 2h0m19 4h0m99-13h0m8-8h0m14 1h0m15 12h0m4-1h0m22-2h0m-1294 13h0m218 9h0m44 0h0m2-3h0m106 14h0m18-18h0m25 18h0m15 0h0m118 0h0m0-1h0m24 8h0m45-20h0m74-6h0m23 22h0m12-15h0m16 6h0m61 13h0m10-22h0m17 23h0m43 0h0m13-4h0m26-22h0m10 10h0m47 10h0m112 1h0m21-4h0m5-8h0m5 13h0m16-23h0m32 20h0m2 5h0m8 1h0m0-19h0m8 12h0m26-3h0m66-9h0m9 5h0m14 14h0m-1285 17h0m146 14h0m68-8h0m27-11h0m7 5h0m143 6h0m6-11h0m120 5h0m73 4h0m5 4h0m3-16h0m29 6h0m93 7h0m34-10h0m140 6h0m49-14h0m65 10h0m47 10h0m4 2h0m233-2h0m25-9h0m-1344 37h0m181-10h0m90-3h0m40-5h0m183 17h0m78 10h0m2-10h0m48 6h0m46-17h0m214 12h0m56-20h0m53 6h0m9 18h0m2-2h0m51-11h0m2-3h0m40 6h0m4 6h0m131-11h0m21 2h0m60-4h0m0-6h0m26-1h0m1 11h0m29 15h0m-1359 10h0m148 4h0m89 8h0m142 0h0m4-3h0m8 1h0m13 0h0m93 12h0m8 1h0m59-23h0m8 8h0m223 11h0m1-16h0m12 15h0m81 1h0m99-14h0m2 8h0m29-17h0m137 27h0m107-1h0m46-21h0m-1092 34h0m46 13h0m14-16h0m137 12h0m41-9h0m88-8h0m0 5h0m77 5h0m10-3h0m36 2h0m4 16h0m60-10h0m4-9h0m150 7h0m82-14h0m54 4h0m58-1h0m42 24h0m88-20h0m4-3h0m3 0h0m55 8h0m91 14h0m1-25h0m5 12h0m2-10h0m2 3h0m18 19h0m-1240 8h0m304-4h0m91 19h0m71-16h0m19 13h0m79-17h0m8 11h0m30 9h0m20-9h0m70 3h0m13 10h0m7 0h0m98-15h0m7 2h0m7 5h0m4 13h0m20-24h0m6 24h0m8-25h0m34 23h0m5-11h0m3 8h0m46-16h0m4 5h0m0 3h0m2-7h0m3 16h0m19-6h0m14 7h0m0-18h0m60 3h0m19 5h0m16-15h0m42 1h0m20 22h0m8-21h0m16 9h0m15 2h0m3-4h0m3 9h0m53-1h0m2-1h0m5 4h0m1 6h0m-1159 23h0m59 5h0m16 1h0m88 1h0m41-25h0m4 11h0m34 10h0m79 6h0m30-24h0m29 16h0m6-9h0m21 15h0m29-10h0m151-10h0m103 19h0m31-12h0m106 7h0m11-5h0m17 7h0m75-19h0m99 22h0m36-8h0m25 5h0m14-11h0m5 3h0m7 14h0m18-25h0m11 11h0m7 4h0m10-3h0m2-9h0m-1416 48h0m163-25h0m281 29h0m170-24h0m50 5h0m22-5h0m40 18h0m89-11h0m28-5h0m36 1h0m25-2h0m76 20h0m25 0h0m3-23h0m17 10h0m85 12h0m75-25h0m93 7h0m10 13h0m13 2h0m20 0h0m3-1h0m18-1h0m1-2h0m10-7h0m16 13h0m40-21h0m16 1h0m3 0h0m0 23h0m1-2h0m4-19h0m-1232 34h0m268 18h0m48-10h0m40-11h0m36-7h0m19 5h0m18 14h0m3-5h0m93-1h0m95-6h0m89 9h0m86-6h0m27 13h0m16 3h0m47 3h0m33-2h0m3-7h0m2-11h0m14 20h0m13-25h0m11 6h0m18 0h0m54-2h0m21 19h0m6-1h0m44-16h0m18 15h0m6 0h0m1-23h0m32 14h0m21 2h0m7 11h0m10-21h0m12 0h0m15 9h0m13 1h0m4-15h0m3 22h0m-1210 5h0m21 2h0m158 14h0m93 11h0m116-9h0m1-14h0m54 4h0m6 4h0m176 1h0m16-12h0m49 17h0m87 9h0m13-3h0m4-5h0m18 0h0m45-3h0m7-3h0m36 8h0m7 0h0m10-19h0m1 23h0m6-24h0m25 26h0m0-10h0m14-13h0m0 8h0m7-5h0m24 9h0m116 0h0m21-2h0m8 1h0m6-15h0m8 10h0m15-10h0m1 17h0m11 2h0m3-7h0m4 2h0m23-3h0m4 5h0m0-4h0m8-8h0m-1234 46h0m40-16h0m303 9h0m2-12h0m63 27h0m65-11h0m0-2h0m13 6h0m4-5h0m2-7h0m50 13h0m5-6h0m84-16h0m53 9h0m37 11h0m5-4h0m18-13h0m47 5h0m29-2h0m6 1h0m27 22h0m42-12h0m55 5h0m10-14h0m25 3h0m4 11h0m8-7h0m16-4h0m60-3h0m3 0h0m33 5h0m33 5h0m5 6h0m17-5h0m21-9h0m10-1h0m14 8h0m6-5h0m5 8h0m1 0h0m6-1h0m2 2h0m6 3h0m1-24h0m4 5h0m4 1h0m4-2h0m10 16h0m7 9h0m-1234 2h0m118 6h0m151 13h0m18-6h0m123-3h0m53-6h0m5 12h0m58 6h0m33-19h0m27-3h0m1 8h0m1 20h0m4-4h0m5-17h0m18 7h0m6-1h0m10 11h0m65-10h0m63-12h0m25-2h0m42 18h0m24 5h0m41-19h0m9 10h0m1 6h0m38-12h0m34 17h0m15-13h0m19-11h0m24 11h0m37-4h0m8 2h0m62 7h0m19-18h0m0 27h0m12-15h0m22-5h0m5 1h0m2-3h0m13 10h0m9-2h0m6 4h0m4 12h0m0-1h0m1-19h0m2 8h0m5-3h0m6 4h0m0-3h0m-1351 40h0m48-4h0m3-21h0m45 3h0m510 1h0m5 15h0m35-16h0m86 26h0m16 0h0m20-11h0m43 9h0m16-9h0m92 11h0m6-6h0m18-19h0m16-2h0m8-2h0m30 10h0m16 2h0m14-2h0m18 15h0m4-5h0m47-12h0m1 6h0m4 11h0m16 0h0m19-5h0m8 0h0m56-3h0m4-1h0m12-1h0m14-5h0m7 18h0m6 1h0m16-3h0m22-26h0m5 6h0m36 2h0m8-8h0m8 28h0m10-11h0m0-15h0m3 22h0m1-21h0m1 10h0m3 9h0m2-5h0m1 7h0m1-18h0m2 20h0m11 3h0m-1335 23h0m75-18h0m59-4h0m98 15h0m18 7h0m46 7h0m82-4h0m6-23h0m63 19h0m184 1h0m25-20h0m0 27h0m40-23h0m6 8h0m20 6h0m115-3h0m4-13h0m6 1h0m4 14h0m112-8h0m21 3h0m19 4h0m11-13h0m6 18h0m24-6h0m6-16h0m47 3h0m8 24h0m7-16h0m5 6h0m6-16h0m20 9h0m10-2h0m5 11h0m63-15h0m15 8h0m18 16h0m26-5h0m2-23h0m1 6h0m6 21h0m12-23h0m19 24h0m6-23h0m2 7h0m11-8h0m0 1h0m0 23h0m3-4h0m3-2h0m-1053 19h0m20 15h0m14-7h0m63 5h0m96-16h0m59 15h0m55-23h0m39 14h0m23 13h0m78-7h0m3-1h0m6 1h0m1-16h0m24-2h0m13 10h0m12 7h0m69-15h0m5 2h0m14 20h0m34-22h0m3 10h0m48 0h0m16 7h0m3 0h0m7-3h0m20-17h0m15 21h0m11 2h0m2 2h0m27-25h0m14 15h0m7-10h0m8-7h0m35 19h0m46 8h0m1-26h0m22 3h0m7 19h0m8-20h0m7 25h0m39-10h0m3-15h0m4 7h0m3-7h0m3 1h0m4 25h0m48-25h0m1 8h0m9 2h0m4-13h0m1 21h0m1-17h0m2 1h0m3 6h0m3 2h0m-940 23h0m2 8h0m21 10h0m2-1h0m89-14h0m0-3h0m71-5h0m50 5h0m62 3h0m15 2h0m22 1h0m17 7h0m124-18h0m32 23h0m10-19h0m22 6h0m36-9h0m35 25h0m21-1h0m43-18h0m3 15h0m7-23h0m3-1h0m5 6h0m12 8h0m4 3h0m12 9h0m1-12h0m52-2h0m4 4h0m10-13h0m38 17h0m11-20h0m9 27h0m10-8h0m8-7h0m28 8h0m11 7h0m1-16h0m22 13h0m1-22h0m6 24h0m0-25h0m0-1h0m4 14h0m3 2h0m1-2h0m2-13h0m0 13h0m1 15h0m9-26h0m1 12h0m11 14h0m2-2h0m-1191 15h0m116 14h0m93 2h0m90-9h0m13 6h0m136-5h0m72-6h0m143-4h0m24 9h0m40-18h0m28 26h0m46-27h0m11 19h0m44-15h0m3 8h0m25-6h0m24 8h0m7-10h0m2 19h0m21 4h0m61-13h0m70 5h0m8 1h0m2-15h0m10 3h0m15-6h0m6 4h0m1 18h0m8-10h0m2 4h0m7-16h0m5 22h0m11-22h0m2 16h0m11-9h0m2 4h0m8 1h0m0 5h0m3-10h0m8-7h0m3 23h0m3-16h0m3-7h0m1 11h0m1-1h0m0 8h0m0 4h0m2-7h0m1-11h0m-1390 46h0m199-12h0m37-3h0m7 5h0m45 0h0m106-8h0m25 14h0m34-8h0m32 0h0m16 19h0m23-9h0m7-1h0m37-11h0m27 14h0m41-21h0m5-1h0m14 1h0m29 2h0m39 23h0m10-3h0m19-3h0m62-10h0m115 5h0m10 0h0m33-5h0m8 15h0m2-16h0m60 7h0m23-7h0m1-2h0m0 9h0m12-15h0m13 14h0m4 0h0m1-11h0m13 4h0m5 6h0m2 10h0m32 5h0m18-24h0m1 17h0m40-10h0m33 2h0m6-1h0m3 4h0m0-5h0m3 16h0m3-8h0m0 0h0m16 8h0m9-27h0m0 8h0m5 2h0m5-2h0m11 19h0m14-21h0m9 19h0m7-22h0m30 7h0m1 3h0m0 10h0m0 5h0m11-6h0m4-1h0m10 5h0m4-11h0m5-11h0m1 18h0m0-7h0m2 0h0m2 3h0m1 9h0m6-25h0m2 25h0m3-9h0m0 3h0m1 4h0m-1156 20h0m36-4h0m144-7h0m44-5h0m30 21h0m104 0h0m67-13h0m18-1h0m23-5h0m40 16h0m28 3h0m13-9h0m68 4h0m9-2h0m1 7h0m7 0h0m3-21h0m5 7h0m59 1h0m16 13h0m20 0h0m6-8h0m1-4h0m3 12h0m4-3h0m2-1h0m1 4h0m33-10h0m13-5h0m6-4h0m1 13h0m33-5h0m8 11h0m14 0h0m28-21h0m13 11h0m34 8h0m3-7h0m22 9h0m15-13h0m2 3h0m24 1h0m6-2h0m18-8h0m1 6h0m0 12h0m22-8h0m1-5h0m5-4h0m9-1h0m8 19h0m4 0h0m11-8h0m2-10h0m5 9h0m8 6h0m6-5h0m2 4h0m1 2h0m5-1h0m4-14h0m5 7h0m2 4h0m2-11h0m1 17h0m6-16h0m1 9h0m2-3h0m6-4h0m0 8h0m1-2h0m1 6h0m0-17h0m1 1h0m4 16h0m1-16h0m1 0h0m0 4h0m0 3h0m4-5h0m9 15h0m3 0h0m3-2h0"/>
<path d="M4427 3479h0m-107 33h0m46 4h0m-348 137h0m469-8h0m-358 55h0m-232 40h0m616-18h0m-431 33h0m153 14h0m-296 26h0m365-11h0m-164 32h0m204 22h0m143-5h0m27-17h0m-341 44h0m446-10h0m3 6h0m-269 22h0m209 2h0m38 1h0m-433 47h0m55-26h0m147 16h0m35-11h0m-470 35h0m116 9h0m3-11h0m209 4h0m81 7h0m76-15h0m36 15h0m172-3h0m22-5h0m11 7h0m11 7h0m-572 20h0m381-7h0m79-8h0m13 23h0m12-1h0m16-20h0m9 13h0m10-10h0m14 17h0m-552 19h0m71-2h0m267-10h0m119 1h0m-689 40h0m218 7h0m106-5h0m12-9h0m212 7h0m117-1h0m121 10h0m42-6h0m0-6h0m-833 28h0m41 15h0m39-2h0m322-14h0m150 5h0m255 16h0m73-25h0m-1004 55h0m248-11h0m149 7h0m11-1h0m7 5h0m129-14h0m21-10h0m362 0h0m64 15h0m19-13h0m-867 35h0m196 14h0m239-16h0m135 13h0m120-6h0m42 8h0m-860 27h0m25-11h0m142 14h0m112-21h0m12 15h0m22 3h0m57-4h0m13 9h0m100-19h0m26 3h0m16 0h0m193 0h0m7 17h0m25 0h0m2-10h0m96 10h0m141 3h0m52-16h0m-1006 35h0m119-4h0m300-13h0m125 8h0m14-2h0m123 19h0m46-26h0m63 20h0m12-19h0m91 20h0m15 8h0m66-9h0m6-11h0m28 2h0m10-6h0m-822 53h0m96-22h0m194 17h0m31-9h0m155 5h0m22 7h0m14 0h0m81-15h0m62 16h0m28 1h0m9-27h0m1 5h0m42 11h0m23 5h0m29-16h0m34-3h0m9 23h0m-935 32h0m99-3h0m22-10h0m103-3h0m9 7h0m3-15h0m23 24h0m265-4h0m58 2h0m22-3h0m53-8h0m40 5h0m55-18h0m33 21h0m0 0h0m176-5h0m2-3h0m-1159 22h0m407 3h0m25 10h0m11-3h0m57-6h0m65-11h0m35 27h0m92-8h0m90-11h0m165 12h0m102-18h0m27 9h0m20 6h0m12 5h0m5-4h0m43-4h0m11-13h0m6 16h0m1-2h0m0-1h0m-1040 39h0m100-21h0m33 22h0m6-22h0m138 19h0m27-20h0m40 23h0m110-6h0m20-1h0m2-11h0m53-6h0m163 12h0m38 6h0m39-4h0m1-1h0m50 3h0m13-2h0m123 9h0m14 0h0m9 1h0m37-9h0m11-2h0m-1075 18h0m65 3h0m30 23h0m64-13h0m82-13h0m131 0h0m22 16h0m24 12h0m63-21h0m11 9h0m18 10h0m18-24h0m1 18h0m49-17h0m57 24h0m233-16h0m7-3h0m8 4h0m9-10h0m4 25h0m14-6h0m29-19h0m12 17h0m52-5h0m8-1h0m34 10h0m27-22h0m8 13h0m8-5h0m16-9h0m2 16h0m21 12h0m-1048 20h0m190-15h0m76-2h0m6 18h0m82 2h0m95-1h0m113-9h0m49 14h0m24-14h0m39 17h0m55-26h0m76 25h0m80-22h0m8 1h0m74 6h0m19-5h0m13 6h0m33-5h0m3-1h0m24 14h0m-1137 23h0m145 10h0m160-17h0m18 3h0m41 12h0m220 2h0m46-18h0m5-7h0m162 18h0m23-6h0m19-6h0m31 17h0m6 6h0m6-1h0m24-3h0m3-9h0m18-13h0m44 8h0m1 8h0m126 7h0m-1229 10h0m96-5h0m126 1h0m185 25h0m35-23h0m12 21h0m65-13h0m19 8h0m119-4h0m39-14h0m59 6h0m19 16h0m106-18h0m165-1h0m45 23h0m30-4h0m9-21h0m18 17h0m22 6h0m62 2h0m60-20h0m-1257 49h0m214-6h0m94 8h0m123-25h0m89 4h0m59 3h0m56-1h0m107 7h0m4-3h0m46 12h0m27-3h0m55-17h0m1-1h0m106 2h0m18 10h0m14 6h0m3-22h0m12 17h0m20-10h0m12-1h0m9-5h0m8 21h0m24-16h0m6-1h0m67 9h0m15-13h0m20 5h0m76 22h0m-1311 16h0m308 4h0m84-10h0m52 9h0m72 6h0m186-14h0m11 9h0m91-7h0m102-12h0m88 26h0m55-23h0m8 20h0m55-13h0m3 17h0m20-17h0m37 7h0m62 10h0m24-17h0m2 17h0m0-19h0m5 1h0m2 8h0m30-10h0m21 5h0m-851 21h0m33 20h0m18-23h0m1 29h0m56-2h0m116-14h0m58 4h0m85 5h0m49 0h0m33-19h0m6 5h0m4-1h0m8-4h0m21 2h0m51 0h0m5 1h0m13-3h0m48 10h0m31 0h0m44-5h0m3-1h0m3 13h0m1-15h0m4 20h0m25-21h0m2 9h0m16 0h0m20 1h0m64 4h0m13-1h0m16-9h0m0 1h0m12-8h0m2 2h0m1 2h0m2 15h0m1-3h0m-1156 25h0m28-8h0m199 7h0m233 2h0m44 8h0m43-16h0m26 1h0m185-2h0m78 3h0m10 0h0m7 19h0m11-6h0m22-2h0m82 5h0m113 3h0m6-19h0m18-6h0m39 20h0m5-19h0m13 11h0m3 0h0m-1189 23h0m486 3h0m263 18h0m21-1h0m10 3h0m38-7h0m34 2h0m46 3h0m48-10h0m5-13h0m20 11h0m7-1h0m0 4h0m163 2h0m9-18h0m16 18h0m0 1h0m28-6h0m4-6h0m2-4h0m1 21h0m9-18h0m0 9h0m5 4h0m-1059 20h0m28-3h0m407 0h0m95 13h0m55 3h0m44-22h0m10 18h0m30 1h0m24 2h0m2-21h0m54 15h0m18 3h0m23 2h0m62 6h0m19-9h0m10 8h0m3-14h0m35 7h0m26-1h0m52 0h0m31 6h0m13-6h0m8-5h0m2 8h0m17-4h0m1 8h0m1-17h0m1 9h0m0-2h0m1 9h0m3 0h0m-1416 13h0m91 3h0m222 13h0m661-20h0m7 8h0m31 0h0m155 3h0m6 14h0m4-11h0m104 10h0m50-5h0m28-13h0m15 19h0m0-15h0m13 6h0m1-10h0m20 9h0m-1243 40h0m137-11h0m44-8h0m115 19h0m67 0h0m6-14h0m107 11h0m72-4h0m44-20h0m18 7h0m30 1h0m10 10h0m51 0h0m97 1h0m54-12h0m41 6h0m77 8h0m6-4h0m3-9h0m33-4h0m25 3h0m24 17h0m22-22h0m16-4h0m2 7h0m49 17h0m2-11h0m44 4h0m10-9h0m19 12h0m16 1h0m2-10h0m2-4h0m9 3h0m7 2h0m2 15h0m4-4h0m-1069 25h0m8 8h0m34-16h0m15 13h0m72-19h0m12 21h0m105-18h0m27 4h0m50-11h0m51 5h0m55 20h0m11-4h0m4-3h0m16-3h0m10 13h0m11-5h0m41-21h0m34 21h0m30-11h0m12 13h0m32 2h0m15-24h0m9 16h0m43-17h0m94 3h0m120 13h0m39-18h0m11 17h0m46 6h0m6-4h0m31 7h0m1-17h0m12-7h0m12 0h0m3 9h0m6 11h0m2 7h0m9-23h0m2 0h0m10 22h0m-1254 16h0m101-5h0m161-1h0m138 18h0m60-26h0m27 25h0m36-10h0m13 0h0m14 5h0m76 5h0m65-9h0m25-13h0m30 26h0m56-12h0m1-4h0m32-12h0m12 5h0m10 1h0m29 7h0m59 14h0m1-13h0m67 8h0m9-14h0m3 15h0m4-10h0m10-12h0m78 1h0m18 1h0m5 4h0m8 11h0m1 9h0m34-19h0m4-3h0m3-1h0m3-5h0m8 11h0m7 2h0m12-11h0m4 3h0m10 7h0m19-1h0m8 4h0m4-4h0m-1083 47h0m16-7h0m104-20h0m25 23h0m43-13h0m46-8h0m52 6h0m149-3h0m29 22h0m1 0h0m109-19h0m18 9h0m26-7h0m39 1h0m6 11h0m26 4h0m39-24h0m27 9h0m5-7h0m42 9h0m2-7h0m11-5h0m22 19h0m1-12h0m30-8h0m8 2h0m45 25h0m17-7h0m14-9h0m10 16h0m10-17h0m6 14h0m13-2h0m18-2h0m3-1h0m14 7h0m3-18h0m7 19h0m10-18h0m11-7h0m8 17h0m9-19h0m4 16h0m3 8h0m3-21h0m5 11h0m2 10h0m6-6h0m-1521 20h0m322-3h0m23 23h0m125-11h0m115 7h0m26-16h0m89-3h0m69 10h0m104 7h0m167-15h0m12-8h0m1 22h0m10-7h0m28-11h0m61 11h0m18-13h0m18 11h0m18-3h0m4 4h0m41 4h0m3-3h0m24 11h0m67-4h0m67-1h0m5-12h0m17-5h0m1 17h0m1 4h0m10-23h0m10 11h0m17 10h0m1-11h0m3-9h0m25 25h0m4-26h0m5 14h0m3-6h0m1-4h0m9 19h0m4-13h0m3 11h0m3-17h0m4 9h0m-1497 21h0m240 8h0m167-1h0m13-13h0m264 28h0m94-19h0m72-3h0m59 22h0m68-10h0m30-5h0m35-3h0m4 18h0m122-26h0m17 17h0m3-6h0m9-12h0m5 16h0m52-14h0m21 18h0m61-21h0m39 25h0m1-24h0m25 28h0m33-3h0m15-18h0m1 10h0m38 10h0m4-15h0m0 3h0m2 0h0m1-2h0m1 9h0m10-13h0m4 19h0m1-16h0m4 11h0m2 3h0m-1300 4h0m94 17h0m89-9h0m56 1h0m87 19h0m38-25h0m128 21h0m4 4h0m45-7h0m128-20h0m11 15h0m45-5h0m102-8h0m11 7h0m14 10h0m13-19h0m9 17h0m19-2h0m15-14h0m2 19h0m22-11h0m8 11h0m11-1h0m8-15h0m5-6h0m43 25h0m9-22h0m17 16h0m0 0h0m4-16h0m2-2h0m1 16h0m25 5h0m4-14h0m0 16h0m7-8h0m2-1h0m8 2h0m55-14h0m24 20h0m39-11h0m7-3h0m8 6h0m14 14h0m1-9h0m0-17h0m14 23h0m6-4h0m0-6h0m9 0h0m14-4h0m1 16h0m8-4h0m4 1h0m4-6h0m2-14h0m12 12h0m0-9h0m3 21h0m-1231 6h0m37 4h0m77 0h0m13 16h0m245-2h0m23-17h0m40-2h0m39 20h0m44-13h0m27 14h0m48-14h0m6 7h0m35 7h0m12 0h0m48-10h0m30-2h0m133-5h0m0 11h0m37 9h0m4-16h0m20 4h0m4-12h0m26 8h0m9 3h0m8-12h0m0 19h0m51-3h0m14-16h0m34 1h0m12 15h0m5 9h0m21-26h0m2 22h0m45-14h0m1 17h0m3-18h0m1 5h0m4 7h0m6 8h0m6-26h0m11 4h0m2 19h0m1-5h0m1-3h0m1-2h0m1 11h0m4-17h0m12 4h0m1 6h0m10-12h0m7 19h0m2-9h0m6-16h0m3 4h0m1-2h0m6 17h0m1-17h0m0-4h0m3 4h0m6 13h0m5 9h0m-1229 17h0m125-7h0m39-2h0m31 22h0m59-6h0m59-2h0m71-8h0m119 5h0m63 3h0m33 0h0m2 2h0m8 5h0m49 0h0m9-3h0m33-4h0m12 8h0m3 3h0m7-26h0m7 0h0m12 8h0m2 5h0m42-3h0m7-5h0m16 17h0m8 3h0m10-23h0m8 24h0m36-25h0m20 4h0m5 19h0m10-19h0m31 14h0m18 4h0m6-16h0m10 11h0m26-17h0m8 7h0m13 8h0m11 10h0m32-8h0m15-13h0m7-8h0m25 14h0m15 1h0m5 11h0m18-13h0m1 16h0m6-23h0m1 18h0m5-9h0m2 12h0m8-19h0m5 12h0m7-1h0m7-11h0m5-3h0m10 3h0m0 5h0m5-12h0m3 27h0m1-28h0m4 1h0m7 9h0m0 0h0m9 8h0m6-2h0m7 8h0m1 2h0m-1410 24h0m147-11h0m74 13h0m7 4h0m119-5h0m65-12h0m109-9h0m16 28h0m63-28h0m64 11h0m20 1h0m2-5h0m20 10h0m40-9h0m16-7h0m11 23h0m55-9h0m23-6h0m56 5h0m4 0h0m15 10h0m32-14h0m7 8h0m29 11h0m9-16h0m105 11h0m3-11h0m2 11h0m41 4h0m49-22h0m35-6h0m12 11h0m0 6h0m34 11h0m4-12h0m7-6h0m15 16h0m7-1h0m2-16h0m4 4h0m4-12h0m4 18h0m6-2h0m1 10h0m1-7h0m5 3h0m7-1h0m2-20h0m2 6h0m0 18h0m5-3h0m8-8h0m7 14h0m12-1h0m4-25h0m8 0h0m2 13h0m6-14h0m1 25h0m5-13h0m1-6h0m3 5h0m7 11h0m-1206 7h0m141 14h0m5-1h0m108 15h0m11-3h0m226-25h0m60 6h0m17 16h0m1 0h0m38-19h0m16 20h0m20-16h0m18-7h0m15 22h0m2 2h0m27-11h0m11-5h0m48 14h0m16-23h0m8 11h0m43 1h0m17-11h0m33 16h0m11-3h0m10-3h0m6-5h0m8 9h0m15-2h0m13 12h0m3-8h0m8 10h0m1-15h0m22-4h0m6 7h0m4 11h0m23-8h0m17 5h0m3 5h0m8-10h0m5-15h0m36-3h0m5 10h0m0 18h0m2-23h0m4-4h0m4 13h0m8-7h0m3 4h0m14 12h0m11-17h0m6 2h0m3-3h0m7-1h0m1 8h0m8 1h0m2-1h0m1 15h0m1-6h0m0-5h0m14-12h0m6 14h0m4-4h0m1-14h0m3 20h0m5 7h0m1-4h0m0-21h0m3 25h0m6-22h0m0 4h0m1 20h0m2-1h0m2-23h0m2 16h0m1 8h0m6-5h0m3-3h0m2 8h0m-1394 22h0m1-21h0m286 21h0m5 0h0m30-4h0m84-15h0m3 19h0m42-16h0m23 9h0m11 6h0m62-18h0m22 19h0m58-4h0m44-12h0m6 16h0m12-18h0m20 16h0m42 2h0m15 0h0m25-20h0m13 20h0m11-3h0m4 3h0m12-14h0m57 7h0m22 1h0m31 6h0m44-12h0m32 0h0m10-8h0m37 9h0m3 11h0m1-8h0m2 8h0m15-14h0m14-5h0m6 17h0m1-4h0m17-15h0m20 0h0m0 18h0m4 1h0m28-2h0m36 1h0m10 1h0m17-7h0m18-12h0m11 8h0m0 9h0m40-17h0m1 10h0m4 1h0m1 10h0m10-11h0m2 9h0m13 2h0m9-17h0m2 1h0m3 10h0m8-15h0m3 16h0m1-1h0m5 5h0m3-15h0m6 14h0m2-16h0m0 5h0m4-3h0m4-1h0m5 16h0m2-8h0m2 0h0m0-4h0m0-3h0m2-1h0m1 11h0m3 4h0"/>
<path d="M4239 3474h0m205 38h0m-334 54h0m355-14h0m37 71h0m-376 9h0m172 1h0m59 13h0m13 9h0m31-9h0m-219 25h0m343-4h0m-59 32h0m-559 48h0m207-17h0m181 6h0m261-7h0m-331 42h0m-131 28h0m256-18h0m165 9h0m-354 33h0m78 10h0m25-2h0m255-5h0m23 3h0m-595 13h0m193 27h0m216-8h0m146-2h0m36 3h0m-505 17h0m321 2h0m186 11h0m64 3h0m6-19h0m-404 29h0m161 6h0m60 1h0m171 14h0m-457 30h0m126-16h0m61 11h0m47 7h0m72-16h0m20 10h0m9-13h0m-572 49h0m210-9h0m121 8h0m57-19h0m5 8h0m19-11h0m157-5h0m43 12h0m101-11h0m31 11h0m6-9h0m9-1h0m25 27h0m-722 21h0m319 4h0m18-14h0m52-6h0m38 16h0m28 5h0m117-4h0m16-9h0m20 2h0m112 8h0m4 5h0m-448 32h0m21-17h0m94 1h0m107 14h0m135-27h0m21 24h0m18-11h0m9 3h0m5-16h0m-914 33h0m389 11h0m129-7h0m215 18h0m-658 30h0m191-10h0m32 5h0m229-11h0m91 17h0m34-25h0m83-1h0m-536 51h0m54-2h0m70 6h0m204-15h0m57-4h0m226 1h0m7 7h0m29 15h0m60-3h0m68-10h0m40 13h0m-922 3h0m206 22h0m25-3h0m35-21h0m6 9h0m455-9h0m76 7h0m83 2h0m-1031 28h0m113 2h0m65 8h0m86 4h0m68-7h0m4 13h0m211-4h0m317-22h0m1 20h0m19-10h0m147-10h0m47 1h0m31 25h0m-831 23h0m22 6h0m150-10h0m29 12h0m32-13h0m122 8h0m62-22h0m5 10h0m6-5h0m12 7h0m1 7h0m71-16h0m99 17h0m43-14h0m19 8h0m101 2h0m55-16h0m-1028 52h0m183-8h0m34-11h0m157 20h0m22-12h0m84 16h0m231-25h0m98 3h0m15 12h0m4 8h0m35 2h0m118 1h0m16-8h0m48-3h0m-1069 34h0m77-15h0m96-2h0m121 21h0m165-26h0m83 20h0m32-16h0m21 2h0m7 18h0m36-23h0m29 3h0m52 3h0m17 8h0m96 12h0m56-27h0m89 18h0m46-2h0m3-2h0m26-5h0m21-8h0m7 26h0m-1155 4h0m147 21h0m34-5h0m126 4h0m108-13h0m27 15h0m331-23h0m166 29h0m33-22h0m56 9h0m0-13h0m15 21h0m0 4h0m38-7h0m42-16h0m14 11h0m10 2h0m30 10h0m11-16h0m-966 33h0m94 4h0m85 0h0m13-5h0m40 11h0m137-23h0m39 9h0m55 3h0m36-2h0m2 11h0m21 4h0m29-24h0m30 7h0m10 17h0m24-17h0m12 3h0m33-13h0m64 11h0m1 17h0m25-10h0m12 1h0m7 9h0m4-13h0m36 9h0m2-14h0m40-8h0m13 17h0m23-7h0m22-12h0m5 24h0m1 4h0m19-18h0m7 18h0m14-11h0m17-16h0m-1128 35h0m71-1h0m123 22h0m221-16h0m51 1h0m15 2h0m33 14h0m21 0h0m50-3h0m163-18h0m75-2h0m51 8h0m23 13h0m12-24h0m43-1h0m43 9h0m36-4h0m39 16h0m42-11h0m22 1h0m14-12h0m-1216 37h0m13 3h0m166 19h0m9-18h0m62-2h0m19 11h0m251 4h0m71-23h0m136 19h0m2 2h0m66-2h0m38 5h0m150-2h0m175-3h0m19-9h0m58 5h0m-1286 15h0m8 28h0m185-24h0m34-5h0m132 28h0m24-9h0m140-19h0m257 18h0m31 3h0m26-8h0m37 11h0m99-6h0m32 2h0m6 4h0m168-13h0m9 7h0m38-10h0m19 20h0m9-1h0m0-19h0m27 6h0m5-9h0m-1156 38h0m199-6h0m15-3h0m306 13h0m12 8h0m75-7h0m33 9h0m103-12h0m37 1h0m32 2h0m1-1h0m64 7h0m16-8h0m47-3h0m18-8h0m24 0h0m1 1h0m9 1h0m1 17h0m16-18h0m19 23h0m31-21h0m37-2h0m1 21h0m59-22h0m8-4h0m1 19h0m9-12h0m1-3h0m-1331 28h0m148 5h0m291 11h0m28 5h0m6-24h0m27 4h0m9 2h0m63 9h0m24 11h0m32-20h0m2 17h0m46-22h0m50 10h0m18-9h0m77 3h0m8 23h0m26 0h0m29-5h0m0-10h0m3 15h0m26-3h0m71-2h0m59-2h0m29-1h0m2-18h0m18 10h0m24-3h0m10 0h0m49 17h0m23-25h0m48 27h0m25-14h0m1-4h0m49 3h0m4 15h0m2-3h0m12-24h0m12 4h0m6 12h0m1-2h0m1 13h0m-931 23h0m125-18h0m19-3h0m66 22h0m98-14h0m37-7h0m16 23h0m87-6h0m24 10h0m86-7h0m8-20h0m23 15h0m28-1h0m19-4h0m6 13h0m6 0h0m54-15h0m21 9h0m6-13h0m100 10h0m5-10h0m41 12h0m9 3h0m5-13h0m24 3h0m4-8h0m7 22h0m4-9h0m6 1h0m11-7h0m-1301 26h0m514-2h0m46 8h0m68-7h0m60-1h0m37 18h0m9-2h0m52-12h0m139 4h0m86-5h0m13 9h0m49 10h0m1-5h0m15 9h0m30 0h0m1-1h0m16-13h0m13 6h0m6-12h0m1 14h0m10-13h0m62 2h0m15 16h0m45-12h0m14 2h0m9 0h0m-1316 21h0m206 7h0m158 3h0m199 4h0m83-2h0m25-9h0m25-11h0m67 20h0m50 0h0m17-14h0m49 4h0m35 14h0m14-18h0m29-2h0m18 18h0m22 0h0m54-8h0m82-13h0m10 25h0m24 2h0m46-4h0m13-4h0m44-15h0m9 7h0m17 11h0m20 5h0m6-23h0m6 0h0m0 20h0m-1416 13h0m247 16h0m14-18h0m219 20h0m78-1h0m5-23h0m64 19h0m113 1h0m46-3h0m32-14h0m27 20h0m47-17h0m23 17h0m60-19h0m40-7h0m59 9h0m32 15h0m11-23h0m35 17h0m14-8h0m5 9h0m1-8h0m33 14h0m20-21h0m27 25h0m1-28h0m5 8h0m12 4h0m19-4h0m41-8h0m6 13h0m28 6h0m32-4h0m7-11h0m7-1h0m18 23h0m5-8h0m0 6h0m3-10h0m4 11h0m3-17h0m2 11h0m5 9h0m-1307 10h0m41 3h0m228 11h0m223-6h0m24-13h0m77 16h0m100-10h0m46 0h0m11-1h0m53 15h0m14-8h0m57 4h0m18 4h0m102-14h0m14 9h0m73-3h0m69-7h0m33-1h0m44 3h0m0-4h0m13 1h0m8 14h0m8-17h0m24-4h0m14 2h0m12 26h0m11-16h0m2 12h0m-1235 17h0m289 6h0m82-11h0m189 18h0m23 2h0m41-17h0m1 10h0m3-3h0m25 10h0m113-11h0m50 6h0m10-15h0m21 14h0m39-11h0m23 16h0m4-3h0m20-19h0m1 23h0m2-20h0m56 5h0m4 16h0m32-21h0m11 4h0m42 8h0m22 8h0m14-18h0m21 17h0m4 2h0m42-7h0m13 4h0m10-20h0m0 7h0m0 7h0m13-6h0m10 10h0m24 1h0m-1300 17h0m26 3h0m23-5h0m54 10h0m280-7h0m72 4h0m9 10h0m1-12h0m18 7h0m37-7h0m7-7h0m10 12h0m35 6h0m77-14h0m9 17h0m20-27h0m79 26h0m61-16h0m28 13h0m27-8h0m26-3h0m3-2h0m22 9h0m6-9h0m12 3h0m17 1h0m12-7h0m13-8h0m87 13h0m24-12h0m51 15h0m1-14h0m63 24h0m15-21h0m27 10h0m2 9h0m0-23h0m2 15h0m12-6h0m1 13h0m38-12h0m-1399 26h0m2-4h0m152 1h0m114 2h0m249 7h0m98 5h0m5-10h0m33-1h0m75 9h0m93-2h0m13-13h0m45 16h0m9-12h0m2 3h0m9-1h0m61 20h0m1-21h0m33 12h0m34-14h0m30 14h0m17 8h0m67-24h0m27 9h0m8 18h0m11-15h0m3-7h0m25 11h0m37 9h0m6-16h0m11 6h0m10-3h0m75-8h0m28-1h0m11-1h0m4 2h0m14 8h0m10 13h0m-1069 14h0m60 15h0m42-4h0m14-17h0m72 0h0m77 18h0m2-3h0m63 7h0m183-1h0m3-13h0m20 3h0m1 6h0m74-8h0m25-2h0m72 1h0m33 10h0m33-13h0m20 17h0m31-14h0m27 7h0m59 4h0m43-11h0m8 13h0m5-7h0m7-8h0m9 0h0m12-5h0m29 10h0m3 7h0m2 4h0m19-12h0m8 14h0m4-16h0m2 15h0m0-1h0m8-3h0m8-15h0m1 8h0m1-3h0m-1433 26h0m78 10h0m255-5h0m117 5h0m176-2h0m4-18h0m31 3h0m116 22h0m78-10h0m58 12h0m41-24h0m65 2h0m18 8h0m57 10h0m22-8h0m1-3h0m17-8h0m30 0h0m3 7h0m6-2h0m2 1h0m51 4h0m4-11h0m5 21h0m17 5h0m41-13h0m45-16h0m8 5h0m28-2h0m30 1h0m18 18h0m17-16h0m0-3h0m2 11h0m13 9h0m-1615 9h0m645 14h0m32-15h0m64 24h0m93-6h0m21 5h0m14-5h0m13-17h0m42 1h0m8 18h0m6-10h0m2 9h0m23-11h0m11 18h0m47-11h0m168-7h0m10 8h0m44 0h0m10-1h0m24-7h0m22-5h0m44-1h0m12 18h0m4 1h0m11-7h0m22 9h0m44-22h0m16 18h0m10 9h0m12-24h0m25-1h0m2-4h0m14 20h0m33 1h0m0-5h0m40 11h0m2-12h0m14-1h0m1 8h0m1-14h0m3 2h0m1-10h0m4 8h0m7 12h0m1-9h0m-1347 40h0m61-7h0m30 9h0m217-17h0m239-5h0m5 23h0m32 5h0m15 0h0m189-18h0m70-8h0m30 26h0m127-16h0m10-7h0m2 11h0m37-5h0m0-8h0m6 1h0m6-4h0m1 16h0m16-12h0m31 14h0m24-15h0m36-3h0m7 26h0m15-15h0m15 2h0m17 1h0m6 6h0m8-9h0m3-1h0m7-11h0m39 6h0m1 20h0m13-21h0m0 16h0m2 2h0m9-17h0m16-3h0m2 25h0m8 1h0m7-29h0m4 23h0m1-7h0m1 9h0m1-11h0m-1139 28h0m6 4h0m53 3h0m43 3h0m45-7h0m92-10h0m42 1h0m35-4h0m20 6h0m17-4h0m7 10h0m20 14h0m42-13h0m29 11h0m35-24h0m9 2h0m24-2h0m6-1h0m19 19h0m35-2h0m1-13h0m52 20h0m25-11h0m19-1h0m5-4h0m20 20h0m41-11h0m47 0h0m16-2h0m19-9h0m2-5h0m4 0h0m4 13h0m5-9h0m2 1h0m11 13h0m0-7h0m5-1h0m13 12h0m12-10h0m0 11h0m55-22h0m24 21h0m18-13h0m26-7h0m17 1h0m8 21h0m6-2h0m2-23h0m26 25h0m15-26h0m6 25h0m4 3h0m3 1h0m12-26h0m5 11h0m9 15h0m14-21h0m1-8h0m0 6h0m1 3h0m5-5h0m1 13h0m0-14h0m1 26h0m2-24h0m4 13h0m2-15h0m1 25h0m1-21h0m2 4h0m5 10h0m0 2h0m1-2h0m1 6h0m-1095 17h0m2-14h0m7 27h0m69-17h0m3-6h0m7 1h0m79 24h0m22-18h0m15-9h0m181 11h0m77-7h0m36 23h0m73-28h0m28 14h0m26 9h0m8-7h0m15-16h0m80-1h0m3 4h0m16 11h0m31-3h0m18-11h0m15 17h0m25-2h0m60 5h0m4-13h0m5-2h0m3 18h0m10-23h0m0 4h0m3 15h0m13-7h0m13-8h0m1-3h0m18 18h0m7-15h0m8 7h0m29 14h0m9-14h0m1-1h0m13 13h0m3-1h0m5-5h0m2 2h0m13-16h0m1 6h0m10 15h0m1-23h0m1 10h0m4 13h0m1-14h0m2-7h0m3 21h0m1-16h0m6 16h0m1-17h0m0-8h0m14 26h0m0-7h0m2-9h0m0 18h0m2-9h0m0-6h0m2 3h0m3 11h0m-1293 32h0m44-29h0m49 19h0m61 8h0m189-26h0m17 0h0m71 13h0m57 12h0m158-23h0m2 11h0m25 13h0m34-23h0m188 2h0m35 8h0m8-3h0m8 11h0m13 0h0m1 1h0m0-22h0m25-1h0m24 24h0m5 5h0m0-5h0m42-24h0m15 20h0m35 8h0m11-25h0m4 5h0m10 21h0m4-3h0m15-7h0m19 4h0m25-8h0m4-3h0m2 12h0m2-22h0m5 16h0m3-9h0m11-7h0m8-2h0m5 8h0m5 2h0m2 14h0m13-15h0m5 17h0m2-7h0m4-18h0m7 20h0m4-3h0m3-1h0m1-3h0m2 1h0m1-1h0m5-7h0m5-3h0m1-2h0m2-2h0m1 27h0m6 1h0m-1079 15h0m45-6h0m71 21h0m5-20h0m8 11h0m243 1h0m83 5h0m36-23h0m37 16h0m2 7h0m19-24h0m15 9h0m47 0h0m4-6h0m12 24h0m92-24h0m11 19h0m28-19h0m3 22h0m44-13h0m14 1h0m7 9h0m17-7h0m54 11h0m2-25h0m6 3h0m2 8h0m13-12h0m46 13h0m6 10h0m19-18h0m1 14h0m11-5h0m7 7h0m1-15h0m10 0h0m5-2h0m9 24h0m5-7h0m2-16h0m2 23h0m2-19h0m2 9h0m1-17h0m6 20h0m0-5h0m2-10h0m2 15h0m4-15h0m15 9h0m2-14h0m1 0h0m1 9h0m2 9h0m3-9h0m5 11h0m0-15h0m0 10h0m2 7h0m2-1h0m1-6h0m-1440 34h0m432 0h0m51-10h0m47 10h0m67-1h0m47-13h0m49 13h0m21 1h0m39-2h0m6-17h0m11 19h0m0-9h0m2 9h0m10 0h0m55 0h0m22 0h0m23 0h0m22-17h0m1 17h0m4-5h0m46 2h0m17-1h0m14 4h0m3-19h0m13 7h0m27 12h0m36 0h0m20-15h0m22-6h0m8 6h0m4-1h0m1-5h0m44 12h0m6 6h0m25-12h0m45 7h0m14-1h0m33-11h0m17 20h0m3-5h0m18-8h0m8 13h0m5-5h0m12 5h0m7-5h0m16-12h0m9 12h0m7-14h0m5 13h0m1 4h0m14-16h0m1 7h0m5-10h0m1 21h0m2-17h0m2 13h0m1-10h0m1 0h0m0-7h0m2 7h0m3-6h0m1 18h0m1-11h0m0 2h0m14-1h0m2 5h0m0 1h0m7 2h0"/>
<path d="M4413 3451h0m-121 35h0m97 79h0m-254 109h0m312-6h0m83 10h0m-65 24h0m-335 59h0m443 0h0m-414 66h0m193-10h0m215 0h0m-438 27h0m132 25h0m356-23h0m-626 52h0m4-10h0m334 2h0m-256 25h0m179 14h0m280-27h0m76 13h0m-723 39h0m32-3h0m47-6h0m205-10h0m224 13h0m11 7h0m137-7h0m-684 23h0m169 1h0m73 4h0m133 6h0m111-6h0m50 9h0m33-11h0m216 8h0m15 4h0m12-21h0m14 7h0m-888 23h0m38 21h0m241-19h0m51 22h0m95-18h0m81-2h0m225 14h0m48-3h0m9-9h0m74 16h0m10-24h0m5 20h0m29-6h0m-710 42h0m246-14h0m137 8h0m13-9h0m39 14h0m10-14h0m51 5h0m129-17h0m4-1h0m52 14h0m37-11h0m-735 38h0m14-8h0m2-3h0m279 8h0m184-1h0m94-1h0m125 5h0m27-1h0m-575 26h0m214 4h0m138 15h0m13-2h0m68 5h0m94-26h0m-656 35h0m228 1h0m43 12h0m28-8h0m82 13h0m94 2h0m13-8h0m45-9h0m85 15h0m51-23h0m-822 55h0m88-18h0m28 7h0m208-6h0m329 11h0m115-22h0m29 20h0m32-20h0m82 2h0m-1068 39h0m76 6h0m384 10h0m18-5h0m61-6h0m15-9h0m3-4h0m180 19h0m38-4h0m127-10h0m136 9h0m3-1h0m23 11h0m-1104 26h0m36-18h0m346 3h0m6 7h0m6 10h0m90-15h0m63 19h0m2-8h0m79-20h0m93 26h0m30-2h0m12 0h0m246-21h0m82 11h0m1 12h0m18-12h0m1-13h0m37 9h0m-1094 22h0m455 7h0m29-8h0m56 21h0m55-6h0m285-14h0m58 12h0m9 1h0m13 6h0m35-5h0m10 7h0m22 4h0m86-6h0m10 1h0m3 3h0m-793 26h0m6-21h0m62 13h0m85 6h0m33 6h0m75-22h0m49 9h0m5-8h0m26 17h0m70-11h0m177-7h0m29 19h0m67-17h0m87-5h0m5 0h0m2 9h0m16 0h0m-965 38h0m85-11h0m28 7h0m59-2h0m93-9h0m130 16h0m92-17h0m48 8h0m23 19h0m55-22h0m3 10h0m146-15h0m34-1h0m26 18h0m11-16h0m39-1h0m5-1h0m61 5h0m19 3h0m30-8h0m-957 47h0m161 3h0m51-15h0m7 20h0m29-20h0m96 5h0m17 12h0m30 1h0m15-12h0m43-5h0m56-2h0m44 23h0m1-10h0m116 10h0m6-26h0m103 4h0m48 5h0m51-9h0m5 19h0m21 6h0m18-20h0m2-7h0m6 28h0m2 1h0m31-26h0m-901 51h0m88 4h0m28-20h0m173 12h0m23 8h0m91-17h0m75 14h0m10-4h0m39 1h0m4-12h0m84 18h0m22-12h0m5-4h0m132 4h0m5-16h0m16 2h0m20 3h0m78 23h0m1-7h0m24-18h0m-763 44h0m30-2h0m52 1h0m0 0h0m5 3h0m50 2h0m44-11h0m180 6h0m75 5h0m26 4h0m6-20h0m16 17h0m33-3h0m24-16h0m18-2h0m16 13h0m8-3h0m17 14h0m50-2h0m52-3h0m88-20h0m5 9h0m-1275 44h0m318-15h0m10 13h0m65 2h0m61-2h0m9 6h0m14-21h0m14 8h0m94 7h0m137-20h0m1 8h0m4 6h0m47 5h0m53-13h0m30 11h0m50-4h0m58 1h0m30 9h0m46-13h0m15 7h0m105-13h0m16 12h0m25 9h0m75-6h0m17-4h0m6 13h0m-951 8h0m192 7h0m120 15h0m90-20h0m13 19h0m9 0h0m17-4h0m109-11h0m12-8h0m11 1h0m30 16h0m81-10h0m8 16h0m84 1h0m10-28h0m15 26h0m7-1h0m5-15h0m38 9h0m29-6h0m62-10h0m9 20h0m4 0h0m7-4h0m-943 19h0m110-2h0m164 2h0m27 5h0m12 6h0m87-1h0m30 6h0m105-23h0m17 24h0m18-13h0m11-3h0m44 2h0m17 9h0m17-7h0m51-1h0m46-8h0m36 0h0m26-5h0m10 19h0m19-2h0m5-11h0m19 20h0m39-3h0m12 2h0m6 1h0m7-19h0m16 8h0m-912 41h0m129-26h0m6 19h0m18 4h0m50 3h0m5-24h0m26 22h0m6-21h0m141 26h0m89-19h0m47 13h0m3-12h0m2 9h0m30-1h0m51 6h0m17-19h0m2 1h0m12 9h0m80-4h0m35 1h0m47 3h0m19 2h0m28-15h0m23 16h0m14-16h0m3 7h0m3-10h0m2 24h0m9-3h0m0-1h0m6-18h0m9 1h0m4 24h0m3-20h0m14 17h0m0-4h0m-1061 25h0m35 11h0m51-23h0m16 26h0m242 0h0m44-14h0m50 7h0m31 4h0m33-13h0m14 16h0m47-8h0m55-7h0m77-1h0m14 16h0m44-16h0m45 7h0m39 6h0m25-14h0m18 2h0m37 0h0m46 0h0m28-6h0m37 12h0m1-20h0m26 11h0m1 1h0m-1180 32h0m338 11h0m34 2h0m9-3h0m8-8h0m32 11h0m17-16h0m5 5h0m12 0h0m14 13h0m70-6h0m105-17h0m135 12h0m39-15h0m2 15h0m8-2h0m11 9h0m11-21h0m14 13h0m37 1h0m44-16h0m82 25h0m6-6h0m67-8h0m50-9h0m3 4h0m7 19h0m8-24h0m20 26h0m7-9h0m0 2h0m8-1h0m-1524 37h0m397-2h0m193-23h0m50 15h0m108 2h0m78 5h0m13-19h0m33 11h0m29-1h0m138-16h0m2 12h0m12 6h0m32-15h0m31 13h0m5-3h0m18-9h0m9-1h0m5 19h0m21 4h0m34-23h0m4 23h0m41-22h0m34 16h0m17 8h0m10-5h0m1 1h0m21 0h0m39-20h0m10 20h0m40-15h0m7 2h0m7 6h0m9-9h0m5 20h0m5 0h0m25-25h0m10 16h0m9 4h0m19-18h0m1-1h0m1 5h0m0 19h0m1-8h0m2-13h0m6 14h0m6-8h0m7-10h0m7 23h0m1 2h0m-1137 3h0m296 15h0m47 4h0m2-10h0m52 5h0m43 7h0m14-1h0m43-21h0m149 2h0m23 2h0m21 24h0m21-27h0m19 28h0m25-19h0m22-1h0m73 11h0m62-17h0m17 5h0m109 4h0m3 16h0m9-28h0m16 17h0m6 2h0m27 6h0m16-19h0m5-1h0m16 7h0m2 15h0m4-7h0m-1256 31h0m222-5h0m18-10h0m99 11h0m104-8h0m243-4h0m16 16h0m119-19h0m36 23h0m9-20h0m45 15h0m8-1h0m60 1h0m0-10h0m8 19h0m33-2h0m23-7h0m40-3h0m1-5h0m1-5h0m3 12h0m53 5h0m20-4h0m1 4h0m19-24h0m0 4h0m8 25h0m9-10h0m33-12h0m3 1h0m16-6h0m2 15h0m3-16h0m1 11h0m6 16h0m8-11h0m2 6h0m3-5h0m5-3h0m-1327 30h0m240-7h0m128 3h0m48 13h0m112-1h0m15 0h0m18 3h0m56-18h0m52 2h0m20-7h0m0 0h0m4 20h0m36-4h0m15-1h0m18 11h0m25-10h0m35 3h0m9-21h0m14 24h0m1-1h0m2-3h0m3-15h0m85 9h0m10 4h0m36 1h0m38-4h0m17 12h0m13 0h0m9 1h0m27-27h0m9 27h0m17-9h0m41-9h0m19-4h0m89 15h0m17-20h0m4 14h0m10-13h0m1 1h0m6 14h0m9-1h0m14-4h0m19 15h0m2-4h0m5 5h0m-1263 12h0m125 0h0m38 12h0m92-20h0m14 23h0m3-12h0m15-1h0m60 1h0m29 15h0m11-19h0m40 9h0m99-8h0m8 2h0m8 4h0m6-6h0m53 11h0m6 5h0m3 0h0m69-6h0m0-3h0m68-10h0m2-8h0m27 16h0m36-5h0m58 7h0m15-10h0m4 12h0m21 1h0m20-2h0m27 1h0m14 9h0m2-27h0m9 0h0m18 5h0m21-2h0m5 10h0m136-12h0m13 1h0m25-4h0m4 17h0m1-14h0m11 3h0m1 23h0m4-17h0m28 15h0m2-25h0m2-1h0m8 9h0m4 1h0m5-4h0m0 9h0m7 11h0m-1216 14h0m84 18h0m34-15h0m3-11h0m78 11h0m95 12h0m48-2h0m45-23h0m82 21h0m1-19h0m86 5h0m31 6h0m69-5h0m46 9h0m9-15h0m49 23h0m14-4h0m2-12h0m69 0h0m91 11h0m5-10h0m2 8h0m37-16h0m24 7h0m3-7h0m25 19h0m38-3h0m14 3h0m5-9h0m3 5h0m4-7h0m10 14h0m23-11h0m13 0h0m8-6h0m20 4h0m3 0h0m1 4h0m18-4h0m6 17h0m4-13h0m1-12h0m2 15h0m11-10h0m8-4h0m-1054 45h0m23-9h0m0 16h0m119-22h0m64 8h0m58-9h0m184 19h0m19-12h0m2-7h0m49 6h0m24 8h0m14 11h0m9-27h0m10 12h0m36 8h0m10-16h0m55 5h0m63-1h0m6 12h0m92 5h0m10-13h0m89-14h0m1 3h0m11 5h0m2 12h0m3-5h0m15 6h0m4-18h0m8 8h0m5-10h0m19 13h0m21-13h0m12 10h0m3 10h0m10-7h0m2-8h0m7 5h0m0 12h0m1-5h0m0 7h0m9-22h0m2 4h0m-1264 27h0m153-1h0m44 4h0m228 3h0m55 13h0m6-12h0m110 2h0m18 1h0m7-5h0m28 8h0m11 4h0m40 6h0m11-16h0m28-8h0m28 8h0m9 12h0m2-21h0m26-1h0m10 0h0m10 15h0m20 13h0m5-24h0m39 6h0m12 0h0m38 6h0m41-14h0m27 22h0m123-23h0m12 14h0m16 10h0m21-6h0m44-6h0m3 10h0m4-13h0m19 5h0m1-10h0m2 0h0m14-4h0m2 23h0m20-2h0m2 2h0m-1266 7h0m129 2h0m115 14h0m73-16h0m4 14h0m37 10h0m54-11h0m4 6h0m147-20h0m60 3h0m162 18h0m8-12h0m19-2h0m1-2h0m3-3h0m10 25h0m16-6h0m53-17h0m16 8h0m23 0h0m12 0h0m46-7h0m5 13h0m38 5h0m47-12h0m15 3h0m13-2h0m18-10h0m29 3h0m6 13h0m3-11h0m17-3h0m26 14h0m5 10h0m0-29h0m25 8h0m15 4h0m6 2h0m0-9h0m4 7h0m6-8h0m1 2h0m1 11h0m3 4h0m0 1h0m2 3h0m1 0h0m1-3h0m-1296 18h0m160 11h0m156-12h0m28 20h0m117-25h0m129 18h0m18 0h0m39-1h0m19-12h0m153 3h0m45 0h0m32-6h0m11 13h0m40-2h0m17-4h0m51-2h0m2 4h0m30 13h0m7-15h0m13-3h0m6 7h0m7 7h0m57-19h0m20 12h0m20-7h0m7-5h0m27 19h0m7-22h0m6 8h0m2-3h0m6 20h0m27-16h0m1-10h0m11 2h0m3 2h0m9 19h0m1-16h0m8 21h0m9-8h0m4 7h0m0-18h0m2 15h0m1 2h0m3-6h0m-972 33h0m51-22h0m22 12h0m40-8h0m3-2h0m74 15h0m316-6h0m59 11h0m27-22h0m7 25h0m5-20h0m4 9h0m8 5h0m10-1h0m19-8h0m37-9h0m1 17h0m7-16h0m17 19h0m15-20h0m6 5h0m19-6h0m14 18h0m4-19h0m48 3h0m5 21h0m9 4h0m17-13h0m3 11h0m27-16h0m1 14h0m15-17h0m2 6h0m14-13h0m15 1h0m9 7h0m5 7h0m1 13h0m7-9h0m8-15h0m3 14h0m1-10h0m7 5h0m8-11h0m3 11h0m8 2h0m0-2h0m-1235 22h0m155 15h0m27-10h0m74 11h0m45-2h0m189 2h0m1-21h0m15 4h0m15 4h0m12 10h0m41 3h0m27 7h0m19-11h0m101 2h0m73 5h0m16-14h0m1-3h0m11 12h0m54-1h0m8-17h0m19 17h0m31-17h0m6 23h0m16-20h0m8 7h0m10 0h0m28 3h0m5-3h0m11 10h0m5-9h0m48 12h0m69-19h0m0 20h0m9-7h0m5 5h0m4-16h0m7 21h0m7-26h0m12 2h0m0 9h0m13 7h0m2-1h0m3-8h0m2 11h0m1-19h0m2 24h0m0-28h0m2 10h0m0 0h0m2-8h0m5 11h0m6 5h0m2-8h0m3-8h0m0 19h0m1-21h0m1 19h0m15 2h0m3 7h0m4-1h0m1-16h0m1 10h0m3-2h0m1 10h0m-1370 2h0m229 25h0m45-21h0m120 0h0m4 22h0m61 1h0m6-6h0m13-15h0m38 14h0m11 1h0m100 5h0m38-15h0m71 0h0m121-12h0m4 4h0m11 10h0m71 11h0m10-16h0m63-5h0m1 4h0m5-7h0m22 13h0m2-7h0m1-5h0m12 12h0m9-8h0m8 1h0m1-7h0m50 24h0m33 3h0m3-17h0m20 7h0m84 12h0m2-2h0m4-22h0m0-2h0m13 23h0m11-23h0m4 9h0m3 6h0m1-8h0m7 9h0m6 2h0m6-16h0m5-3h0m1 17h0m5-18h0m7 2h0m3-2h0m2-1h0m5 3h0m1 15h0m3-14h0m3-3h0m1 24h0m2-7h0m0-6h0m2-7h0m2-5h0m3 17h0m2 11h0m1-5h0m0 3h0m7-5h0m3 8h0m3-10h0m3 6h0m-1319 26h0m104 0h0m21 0h0m55-3h0m38-6h0m9 3h0m57 1h0m64-2h0m23-10h0m22 15h0m20 2h0m42 0h0m8-9h0m30 9h0m40 0h0m18 0h0m62-14h0m20 10h0m26 4h0m5-2h0m6-5h0m12 5h0m25 2h0m34-4h0m30 2h0m6-19h0m10 3h0m5-1h0m26 18h0m10 1h0m13 0h0m11-3h0m18 3h0m65-18h0m4 0h0m24 4h0m9 11h0m14 0h0m30-14h0m11 12h0m15-9h0m29 6h0m6 0h0m18 1h0m7-7h0m1 6h0m0-11h0m4 14h0m2 3h0m13-3h0m5-10h0m7 0h0m2 8h0m23 7h0m18-21h0m30 13h0m12-2h0m7 5h0m5 0h0m24-2h0m1-5h0m1 7h0m2-2h0m3-12h0m7 13h0m0-13h0m4 13h0m1 2h0m4-15h0m5 16h0m5 3h0m1-5h0m0-6h0m2-10h0m5 13h0m0 5h0m1 3h0m0-19h0m6 0h0m2-1h0m1 10h0m0-9h0m3 17h0m0 0h0m1-7h0m0 8h0m1-3h0m5-6h0m0 4h0m8 4h0"/>
<path d="M4467 3555h0m-304 24h0m25 41h0m313 2h0m-56 19h0m69 5h0m-379 18h0m158-2h0m-289 50h0m60 14h0m21 20h0m330-7h0m-428 25h0m129 10h0m195 7h0m98 22h0m26-13h0m153 0h0m-114 40h0m-516 15h0m482 13h0m-485 23h0m35-5h0m153 16h0m401 1h0m43-3h0m49-7h0m3 5h0m-822 33h0m288-17h0m30 25h0m52-10h0m44-2h0m253-13h0m104 14h0m12-9h0m55 10h0m-530 19h0m4 17h0m77-16h0m150 5h0m230 11h0m33 2h0m-696 24h0m410-5h0m86 12h0m100-11h0m7 8h0m14 4h0m60-1h0m50-8h0m-389 13h0m91 26h0m3-1h0m149-4h0m9-8h0m30 13h0m0-12h0m43 2h0m2-12h0m94 18h0m13-19h0m-858 34h0m238 12h0m12-19h0m64 4h0m65-5h0m97 12h0m36-6h0m21 0h0m2-4h0m23 19h0m182-18h0m11 8h0m3 15h0m29-6h0m-494 31h0m242-12h0m-493 45h0m218-24h0m35 27h0m79-19h0m126-10h0m182 7h0m60 4h0m77 0h0m75-10h0m-1028 50h0m123-1h0m109-8h0m71 17h0m6-8h0m98 0h0m131-17h0m13 15h0m29 8h0m65-6h0m95 3h0m65 5h0m9-7h0m135-14h0m5 5h0m37 12h0m50-18h0m13 22h0m-1071 30h0m551-20h0m15 1h0m19 19h0m86-9h0m35 1h0m158-4h0m32 9h0m117-12h0m46-7h0m20 18h0m21-1h0m-1079 8h0m321-1h0m200 10h0m49 15h0m39 2h0m101-18h0m91 3h0m172 4h0m62-1h0m51 12h0m-1059 7h0m53 4h0m267-2h0m8 22h0m160-28h0m25 6h0m91 15h0m33-1h0m63-6h0m53 13h0m45 0h0m17-23h0m12 11h0m44 6h0m11-12h0m106 17h0m48-16h0m7 8h0m27-19h0m1 0h0m13 27h0m-1036 25h0m127 6h0m297-4h0m1 3h0m18-6h0m0-6h0m54 11h0m2-26h0m17 26h0m86-15h0m123 4h0m6 8h0m16-12h0m81-11h0m75 22h0m24-8h0m21-9h0m71 20h0m24-4h0m-1120 27h0m226 10h0m72-13h0m40 4h0m19 4h0m49 0h0m169-15h0m8-5h0m47 6h0m10 2h0m6 7h0m14-11h0m4-1h0m8 23h0m136-5h0m85-12h0m30 7h0m67 4h0m24-5h0m60-10h0m7 18h0m5-22h0m43 23h0m10-12h0m-982 39h0m6-4h0m161-13h0m23 5h0m112 7h0m103 8h0m9-7h0m66-15h0m47 19h0m40-7h0m52 5h0m39-19h0m66-2h0m220 13h0m8-8h0m-1013 24h0m153 29h0m171-20h0m29 11h0m126 2h0m15-18h0m67 11h0m1 12h0m81-22h0m16 9h0m63 9h0m94-16h0m7-4h0m31-1h0m0 16h0m95-7h0m47 2h0m11-9h0m10 4h0m1 4h0m8-5h0m23 6h0m2-7h0m0 12h0m4-7h0m-844 29h0m74 8h0m81-6h0m31 3h0m52-1h0m61-8h0m71 8h0m12-2h0m12 4h0m77 13h0m20-26h0m104 21h0m46-1h0m22-14h0m44-8h0m47 2h0m57 5h0m45 18h0m1-18h0m0 2h0m11-8h0m-1256 28h0m59 7h0m391 21h0m271-4h0m44-3h0m19 4h0m33-4h0m175-19h0m192-2h0m15 20h0m7 6h0m15-7h0m7 1h0m15-2h0m9-6h0m10-4h0m-1001 50h0m296-23h0m57 8h0m138 4h0m5-14h0m16 5h0m18 13h0m76-19h0m10 12h0m36 10h0m94-11h0m10 1h0m6 1h0m6 12h0m13-21h0m13-3h0m45-3h0m142 5h0m47 16h0m1-20h0m3 6h0m1 1h0m6 14h0m-1271 22h0m268 7h0m147-14h0m73 12h0m15-13h0m9-2h0m133-4h0m1 11h0m29 6h0m164-3h0m9-11h0m69 18h0m66-9h0m5 14h0m56-8h0m29 3h0m5-1h0m78 3h0m16-11h0m14 17h0m69-22h0m2 13h0m23-8h0m-1327 21h0m270 15h0m218 8h0m68-16h0m17 11h0m35-11h0m35 11h0m14-3h0m7-17h0m35 18h0m165 1h0m23 7h0m26-24h0m51 26h0m42-22h0m75 7h0m9 6h0m39-9h0m7-1h0m37 13h0m68-2h0m3-12h0m3 7h0m46 13h0m9-4h0m37-24h0m2 4h0m4 11h0m3 4h0m-1289 28h0m158-4h0m66 12h0m58-6h0m10 8h0m26-23h0m87-5h0m87 6h0m73 16h0m0-20h0m17 25h0m128-20h0m17 12h0m46-19h0m120 1h0m15 21h0m14-12h0m55 14h0m47-5h0m32-4h0m76-7h0m12 15h0m14-14h0m24-5h0m6 8h0m28 3h0m36-7h0m17-8h0m7 7h0m9 3h0m12-1h0m1 19h0m5-9h0m3 2h0m-1242 27h0m31-17h0m26 27h0m373-20h0m37 8h0m73-16h0m140 2h0m13 2h0m33 10h0m70-3h0m34 13h0m53-22h0m17 26h0m4-3h0m1-6h0m84-2h0m5-2h0m37-7h0m9 7h0m95-6h0m17 11h0m89-13h0m3 0h0m0 12h0m4-15h0m-1164 31h0m52-3h0m77 5h0m86 16h0m34-8h0m142-13h0m44 21h0m35-11h0m41 17h0m30-24h0m47 11h0m19 5h0m26-7h0m28 8h0m109-4h0m17 4h0m11-4h0m9 11h0m47-5h0m10-19h0m31 7h0m29-7h0m23 4h0m94 19h0m10-20h0m1 2h0m40 9h0m15 10h0m18 0h0m11 0h0m3-16h0m7 11h0m3-23h0m4 22h0m12-15h0m8 6h0m6-3h0m10 16h0m-1205 26h0m18 3h0m20-12h0m37 9h0m303-18h0m78-5h0m134 14h0m32-8h0m30 21h0m1-20h0m7 18h0m29-23h0m4-1h0m49 20h0m23-11h0m37 11h0m13-2h0m10-9h0m87 5h0m48 7h0m37-14h0m10 19h0m22-27h0m14 25h0m4-2h0m21-20h0m6 0h0m40 23h0m43-18h0m7-2h0m30 8h0m18-10h0m5 16h0m6 6h0m-1235 9h0m113 14h0m130-13h0m138 4h0m1 15h0m30-16h0m21-2h0m109 0h0m13-7h0m95 4h0m13 8h0m53 15h0m41-15h0m1 2h0m9-3h0m52 5h0m47-1h0m44 1h0m25-9h0m7 22h0m4-3h0m22 1h0m64 0h0m13-12h0m23 3h0m42-6h0m15 1h0m27 13h0m19-14h0m56 14h0m-1112 26h0m127-14h0m121-5h0m70 26h0m9-6h0m19-17h0m79 23h0m2-6h0m82-19h0m56 1h0m32 3h0m20 5h0m41 1h0m23 14h0m31 0h0m6-16h0m7 5h0m31 6h0m19-12h0m16 15h0m42-10h0m2-11h0m3-5h0m27 13h0m28 10h0m4-16h0m5 16h0m5-6h0m20 2h0m2-17h0m27 27h0m0-3h0m3-15h0m25 18h0m4-12h0m1 8h0m5-17h0m4-8h0m14 23h0m5-12h0m8 10h0m20-18h0m20 14h0m22-7h0m14 9h0m7 1h0m5-2h0m2 6h0m1-20h0m4 21h0m4-11h0m6-1h0m3 9h0m1-11h0m7 16h0m5-10h0m-1330 37h0m108-22h0m247 24h0m33-12h0m8 15h0m91-15h0m67 11h0m92-1h0m53 4h0m74-22h0m58 1h0m41 16h0m18-5h0m70-16h0m5 15h0m26 12h0m50-11h0m9-9h0m29 3h0m4 4h0m31 7h0m49-18h0m7 23h0m37 0h0m36-2h0m36-15h0m11 3h0m3 2h0m27-3h0m23 1h0m2 14h0m-1466 22h0m200 2h0m116 3h0m69 3h0m209-11h0m0-7h0m36-1h0m64 2h0m58 13h0m34-8h0m41 3h0m38-10h0m12-5h0m39 23h0m12-12h0m31-7h0m14 18h0m2-18h0m4-5h0m35 18h0m11-6h0m58-4h0m23 3h0m6-10h0m73 2h0m43 23h0m8-14h0m23-6h0m8 2h0m16 12h0m11 3h0m8 1h0m1-23h0m52 10h0m3-9h0m14-5h0m5 27h0m0-17h0m4 4h0m9-12h0m27 23h0m4-10h0m3 7h0m8-5h0m17-16h0m24 2h0m-1287 43h0m72 11h0m10-16h0m169-6h0m57 9h0m68 12h0m116-6h0m146 2h0m39 5h0m103-8h0m74 5h0m12-9h0m32 7h0m43 4h0m85-12h0m10 6h0m14-3h0m42 8h0m11-4h0m26-20h0m9 3h0m3-3h0m13 13h0m32 10h0m18-14h0m10 1h0m3 9h0m0-20h0m16 25h0m7-12h0m6 4h0m20 4h0m5-4h0m6-7h0m2-9h0m2 15h0m0-15h0m2 25h0m8-1h0m11 3h0m0-20h0m2 7h0m1 14h0m6-15h0m1 7h0m2 2h0m3 4h0m-1029 3h0m74 17h0m31-2h0m62 5h0m269-20h0m10 27h0m24-18h0m64 12h0m16 8h0m7-14h0m47-5h0m29-1h0m12 15h0m12-7h0m25-16h0m14 7h0m71 20h0m8-27h0m0 28h0m25-6h0m36 1h0m1-5h0m10-8h0m6 3h0m13-2h0m12 4h0m6-5h0m23 0h0m8 15h0m6 0h0m22-1h0m10-16h0m3 17h0m46-22h0m11 17h0m15 3h0m1-13h0m1 15h0m-1166 14h0m110 0h0m18-10h0m46 21h0m35 6h0m26-27h0m28 10h0m9-10h0m146 28h0m20 1h0m33-14h0m42-15h0m106 2h0m33 17h0m53-9h0m50 18h0m26-21h0m28 7h0m9-11h0m16 17h0m3-11h0m22 5h0m38-12h0m3 6h0m38 10h0m4-4h0m1 7h0m5-16h0m5 12h0m40 11h0m16-24h0m11 14h0m49-6h0m6-9h0m20 0h0m0 19h0m1-16h0m10 23h0m8-20h0m5 0h0m12 4h0m2-5h0m0 4h0m0-7h0m3 1h0m9 13h0m22 3h0m7-5h0m10-8h0m1 18h0m1-21h0m4 13h0m2 8h0m5 0h0m-1228 4h0m54 19h0m121-12h0m189 14h0m48-19h0m22 12h0m16 1h0m88-2h0m2-9h0m9 16h0m79-20h0m35 19h0m1-6h0m18 3h0m5-4h0m62-2h0m89-9h0m9 21h0m6-14h0m43 1h0m4 12h0m4-20h0m5 23h0m27-22h0m105 22h0m70-12h0m11-6h0m26 12h0m22-9h0m18 7h0m5 7h0m7-12h0m6 16h0m6-6h0m6-4h0m8-15h0m4 4h0m5 5h0m1 2h0m7 12h0m-1431 8h0m363 10h0m77 2h0m67 13h0m14-9h0m163-14h0m115 12h0m20 11h0m14-5h0m19-7h0m62-16h0m85 1h0m23 17h0m17-14h0m166 12h0m66 0h0m61 9h0m1-11h0m3-1h0m4-11h0m11 8h0m28-8h0m9 11h0m2-4h0m6 15h0m11-17h0m1 9h0m4-4h0m5 15h0m4-28h0m2 6h0m1 18h0m6-5h0m4-2h0m1-8h0m2 7h0m4 0h0m-1270 33h0m37 3h0m22-13h0m15 18h0m27-15h0m13 15h0m65-21h0m84 4h0m46 6h0m46-2h0m133-6h0m6 15h0m40-15h0m40 17h0m2 4h0m5-23h0m20-6h0m110 0h0m53 28h0m9-15h0m3 8h0m1-15h0m1 23h0m1-21h0m60-5h0m22 25h0m96-13h0m5 12h0m9-12h0m12-1h0m119-12h0m12 21h0m36-13h0m39 11h0m32-10h0m1-11h0m15 4h0m3 7h0m1-3h0m3 18h0m2-25h0m2 8h0m10 8h0m1 12h0m2-18h0m6-6h0m5 10h0m2-3h0m3 0h0m3-3h0m0 1h0m9 13h0m-1491 28h0m60-5h0m151-13h0m108 0h0m19 6h0m20-2h0m65 19h0m5-26h0m107 7h0m204 10h0m64 5h0m1 1h0m94 5h0m21-13h0m76-3h0m34 6h0m0-5h0m35-11h0m0 1h0m10 0h0m2 11h0m2-9h0m55 1h0m19-5h0m26 19h0m2 9h0m15 0h0m14-19h0m19 13h0m2-4h0m28-16h0m21 19h0m0-20h0m33 19h0m13 8h0m3-24h0m16-1h0m16 24h0m2-9h0m8 7h0m9-8h0m38 0h0m1-4h0m8 13h0m2-13h0m3 4h0m5 0h0m4-15h0m8 18h0m0 0h0m4 1h0m2-20h0m7 6h0m3 5h0m2 0h0m1 2h0m2-2h0m5-3h0m8 1h0m1-8h0m1 22h0m2-9h0m1-1h0m0-5h0m3 15h0m1 1h0m0-3h0m3-6h0m1 9h0m6-7h0m2 4h0m0 1h0m0-7h0m2 7h0m-971 14h0m47 21h0m66-23h0m66 19h0m74-22h0m11 12h0m103-14h0m48 19h0m19-13h0m16-5h0m11 21h0m46-19h0m6 16h0m57-11h0m27 16h0m22-21h0m11 17h0m15-14h0m4-2h0m29 23h0m45-8h0m8-8h0m12 16h0m37-27h0m16 1h0m4 27h0m3-13h0m7-4h0m28 6h0m6-2h0m5-3h0m29 2h0m6 11h0m0 3h0m12-18h0m6-3h0m5 9h0m3-12h0m4 16h0m0-10h0m7 7h0m5-4h0m5 1h0m4-4h0m2 3h0m6-14h0m3 7h0m2-1h0m0-3h0m4 4h0m5 1h0m3 21h0m1-18h0m1 6h0m4-11h0m0 15h0m1 1h0m1-14h0m0 0h0m2 21h0m5-3h0m0-9h0m1-10h0m0 3h0m0 2h0m4 17h0m0-16h0m0 8h0m1-3h0m1-6h0m2 12h0m1-6h0m-1456 20h0m197 13h0m88-5h0m10 0h0m197 5h0m71-3h0m109 0h0m50 0h0m47-2h0m32-10h0m25 0h0m16 15h0m45 0h0m42-19h0m26 3h0m12 16h0m16-8h0m16-5h0m13 13h0m9-3h0m42 3h0m0-4h0m11-1h0m5-4h0m9 9h0m12-5h0m9-14h0m3 0h0m11 11h0m17-12h0m8 15h0m7 5h0m27-7h0m23 4h0m38-6h0m6 7h0m15 2h0m3-3h0m39-11h0m6-3h0m12-2h0m16 19h0m10-16h0m1 16h0m12-20h0m19 3h0m16-2h0m3-1h0m24 15h0m0-1h0m5-7h0m3-1h0m1-6h0m3 14h0m1-15h0m0 3h0m2 1h0m0 15h0m1-3h0m2-14h0m2 5h0m1 3h0m2 9h0m4-4h0m2 0h0m1-8h0m3 5h0m6 8h0m7 0h0"/>
<path d="M4239 3516h0m163 33h0m-177 33h0m271 31h0m-375 47h0m283 9h0m-507 77h0m156 8h0m403 46h0m129-15h0m-709 53h0m85-20h0m252 3h0m-345 30h0m3-10h0m167 28h0m75-14h0m13-15h0m6 2h0m239 4h0m29 1h0m140 13h0m78 2h0m-516 16h0m142 7h0m64-4h0m205-5h0m36 0h0m23 12h0m-559 23h0m89 1h0m121 1h0m54 3h0m206-12h0m27 18h0m15-1h0m23-3h0m52-16h0m51 9h0m-693 41h0m98-15h0m112 17h0m501 0h0m-859 26h0m65-17h0m39 25h0m5 0h0m85-23h0m56 22h0m53-15h0m40-2h0m21 6h0m121-5h0m218 18h0m20-23h0m6 17h0m126-8h0m-814 33h0m77-13h0m183-3h0m45 13h0m115-4h0m155 0h0m102-1h0m64-10h0m13 18h0m43-18h0m42 28h0m10-12h0m-536 20h0m32 20h0m37-17h0m6 11h0m2-6h0m20 0h0m26-6h0m34 13h0m44-5h0m171-9h0m179 7h0m-523 34h0m497-10h0m-750 37h0m186-2h0m103-8h0m409 11h0m101 10h0m-943 24h0m457 2h0m45 6h0m5-8h0m62 9h0m155-21h0m67 18h0m65-5h0m111-5h0m-918 41h0m97-7h0m156-13h0m70-3h0m263 24h0m1 0h0m93-14h0m48-13h0m16 4h0m64 14h0m47-15h0m37-4h0m36 23h0m13 6h0m-1120 21h0m67 7h0m65-9h0m204-3h0m1 4h0m72 10h0m102-8h0m2-11h0m18-9h0m95 13h0m24 8h0m91-11h0m69-6h0m5 23h0m8-24h0m96 22h0m118 2h0m47-28h0m20 21h0m17-8h0m-886 24h0m150-2h0m76 4h0m25-6h0m159 19h0m88-5h0m115 12h0m103-29h0m86 26h0m86-1h0m19-13h0m-652 39h0m106-13h0m13 3h0m158 2h0m32-3h0m114-5h0m41 23h0m120-25h0m37 12h0m-885 21h0m202-3h0m346 10h0m105 9h0m7-11h0m22-4h0m30 2h0m7 14h0m49-1h0m87-10h0m43-8h0m29 17h0m18 1h0m6 6h0m-1131 26h0m543-2h0m189-20h0m22 3h0m38 22h0m32-18h0m38-4h0m36 15h0m56 1h0m7-6h0m20 13h0m9-3h0m59-17h0m48 5h0m28 7h0m1 0h0m20-1h0m0-1h0m-1001 31h0m71 8h0m183-14h0m26 11h0m75-23h0m11 12h0m30-12h0m7 16h0m45 9h0m19-17h0m22 19h0m34-21h0m203-3h0m35 0h0m36 5h0m26-7h0m60-2h0m2 14h0m21-11h0m13 19h0m51-2h0m17-11h0m0 6h0m3-11h0m19 22h0m7-8h0m-1254 33h0m57 2h0m123-17h0m24-3h0m21 20h0m283 5h0m172-25h0m92-3h0m25 21h0m25-14h0m137-7h0m52 0h0m11 9h0m13 1h0m24 6h0m27-15h0m68 3h0m3 8h0m54 8h0m4 1h0m28-20h0m12 4h0m-1184 48h0m80-5h0m5 4h0m183-12h0m21 5h0m29-1h0m64 12h0m90-24h0m124 18h0m112-7h0m41-8h0m26 20h0m39-13h0m39-8h0m9 16h0m53 0h0m1 7h0m140-5h0m52-13h0m24 14h0m-1070 27h0m311 2h0m75 5h0m16 0h0m51-12h0m35 5h0m15-11h0m101-6h0m175 15h0m23 5h0m20-20h0m39 13h0m15 5h0m44 3h0m6-5h0m5 1h0m58-12h0m43 7h0m3 6h0m16 8h0m21-14h0m67 3h0m3 7h0m4-14h0m3-2h0m20 11h0m-1250 26h0m272 4h0m151-18h0m34 0h0m13 13h0m76-2h0m62 12h0m101 0h0m11-14h0m31 0h0m106 2h0m11-7h0m106-4h0m16 23h0m32-7h0m44-7h0m96-7h0m6 3h0m2 2h0m27-1h0m16 19h0m14-8h0m11-6h0m0 4h0m5-7h0m19 12h0m-1204 31h0m39-9h0m252-4h0m42-5h0m99 23h0m230-7h0m9-5h0m8 4h0m27-18h0m36 14h0m36 11h0m37 0h0m87-22h0m15 5h0m43 19h0m17-3h0m31-13h0m21-5h0m37 9h0m18 6h0m23-11h0m11 5h0m15-11h0m18 19h0m20-11h0m7 3h0m11 1h0m20-10h0m12 21h0m-1024 24h0m70-7h0m36 11h0m27-19h0m85 6h0m70-2h0m3 4h0m9-5h0m28-8h0m68 18h0m28-10h0m81-10h0m180 18h0m30 8h0m19-16h0m7-2h0m58 6h0m34-15h0m12 20h0m42 2h0m52 6h0m6-4h0m31 5h0m20-6h0m5-5h0m12-13h0m-976 34h0m373-7h0m1 5h0m54 16h0m49 0h0m10-19h0m30 22h0m53-3h0m109-17h0m23 8h0m4-4h0m85-4h0m12 21h0m49-18h0m11-4h0m34 13h0m10 7h0m10-23h0m38 17h0m21-16h0m1 10h0m19-3h0m19 19h0m4-5h0m-1377 17h0m254 11h0m55-1h0m14-12h0m27 12h0m129-2h0m11-14h0m141 15h0m60 4h0m4-22h0m28 15h0m106 12h0m9-8h0m5 6h0m144-23h0m80 4h0m22 16h0m16-16h0m8 0h0m1 13h0m64-13h0m27 5h0m18-2h0m32 14h0m5-17h0m3 21h0m2-16h0m19 6h0m43-15h0m8 2h0m13 13h0m17 4h0m2-13h0m20-2h0m3 8h0m-1319 16h0m52 18h0m185 0h0m155 7h0m83-19h0m124 11h0m156-9h0m4 14h0m15-7h0m57-17h0m1 21h0m3-18h0m58 1h0m6 15h0m11-10h0m10 8h0m2-11h0m12 17h0m12-5h0m32 0h0m14-5h0m18 9h0m17-19h0m2 5h0m0 14h0m3-22h0m4 6h0m15-1h0m5 7h0m14 5h0m28-2h0m89 14h0m32-14h0m33-2h0m47 12h0m9-7h0m5-4h0m1 8h0m4 7h0m-1105 28h0m222-8h0m23 2h0m66 4h0m45 3h0m22-10h0m23-10h0m308 14h0m96 4h0m21-3h0m7-4h0m48 9h0m17-12h0m8 0h0m5 9h0m4 2h0m51-20h0m8 11h0m6 6h0m1-16h0m52 6h0m53 14h0m15-25h0m7 10h0m23-11h0m3 6h0m1 18h0m-1464 14h0m444 3h0m14 13h0m72-15h0m81-2h0m39-3h0m77 15h0m28-20h0m92 23h0m12-23h0m1-1h0m79 17h0m116 7h0m14-19h0m37 13h0m10-10h0m33-7h0m21 25h0m20-21h0m16 21h0m4-20h0m10 8h0m19 1h0m41-4h0m28 16h0m14 1h0m93-19h0m0 9h0m14-18h0m32 14h0m2 1h0m3-1h0m2-12h0m4 25h0m4-25h0m1 17h0m3 4h0m-1059 8h0m110 8h0m25 20h0m57-20h0m73-9h0m18 16h0m5-12h0m19-1h0m1-2h0m119 19h0m94 6h0m3-8h0m39-1h0m8 8h0m10 1h0m2-25h0m86 9h0m35 9h0m82 0h0m41 4h0m47-22h0m21 15h0m51 5h0m9-3h0m21 4h0m17-3h0m13-16h0m9 3h0m20-5h0m12-1h0m6 14h0m12 13h0m2-13h0m-1001 23h0m80-3h0m4 25h0m10-8h0m35 6h0m96-1h0m90-9h0m26-4h0m18-1h0m10-4h0m34 11h0m18-8h0m20-11h0m4 26h0m38-16h0m9 14h0m31-20h0m46 10h0m38-7h0m29 7h0m8 0h0m0 1h0m1 8h0m23-21h0m10 6h0m11 4h0m24-3h0m3-3h0m18-5h0m97 10h0m7 13h0m16 0h0m14-11h0m25-13h0m2 26h0m22-17h0m29-9h0m4 5h0m7 13h0m2-11h0m9 18h0m6-15h0m19 3h0m2 2h0m2 3h0m1-10h0m11 10h0m1-6h0m2-8h0m16 14h0m1 1h0m-1060 39h0m0-15h0m48-13h0m39 28h0m58-1h0m41-13h0m62-12h0m47 21h0m110-14h0m50 5h0m28-1h0m24 9h0m58-22h0m1 24h0m5-7h0m7-3h0m11-10h0m6-4h0m4 10h0m2 10h0m27-7h0m37 4h0m19-5h0m28-11h0m14 26h0m2-16h0m0 13h0m22-13h0m7-9h0m4 23h0m9-8h0m29 10h0m35-23h0m5 12h0m3 1h0m18 3h0m11-13h0m4-4h0m16 2h0m2 17h0m31-1h0m5-17h0m15 21h0m0-2h0m21-1h0m4-7h0m16 10h0m19-14h0m22 5h0m2 6h0m45 1h0m-1159 8h0m213 23h0m187-2h0m37-12h0m43 6h0m24-12h0m2 6h0m43 7h0m78-4h0m18 11h0m30-9h0m14-7h0m80-3h0m23 12h0m48-11h0m39-1h0m4 14h0m20 2h0m40-12h0m24-1h0m21 15h0m15 6h0m8-23h0m15-2h0m5 12h0m43-6h0m2-1h0m20 18h0m3-23h0m6 23h0m9-6h0m42 5h0m5-9h0m2-14h0m7 24h0m5-11h0m-1204 29h0m261-11h0m72 20h0m15-23h0m39 23h0m116-3h0m8-11h0m11-1h0m5 13h0m1 5h0m37-4h0m11-7h0m6 1h0m132 8h0m38-24h0m1 21h0m36-20h0m1 23h0m94 1h0m12-12h0m5-4h0m72 10h0m33 7h0m52-12h0m1-10h0m6 15h0m4 8h0m34-23h0m6 4h0m19 8h0m6 2h0m9-11h0m11 2h0m8 5h0m2 11h0m1-22h0m13 25h0m8-7h0m0-8h0m4-2h0m5-9h0m0 24h0m1-21h0m6-5h0m5-1h0m7 14h0m1 5h0m-1548 17h0m226 11h0m187-1h0m38-2h0m197-6h0m62 9h0m59-5h0m55 12h0m42-10h0m103 4h0m5-15h0m76 7h0m11 0h0m32 0h0m20-2h0m12 12h0m24-4h0m6 8h0m15 5h0m23-10h0m35-3h0m3-10h0m16-4h0m13 9h0m26-5h0m49 5h0m7 4h0m44 12h0m40-24h0m25 7h0m17 10h0m3-9h0m25-7h0m3 2h0m2 20h0m2-18h0m12 21h0m0-29h0m11 8h0m1 21h0m8 0h0m4-7h0m1-17h0m5 7h0m1-7h0m12 20h0m0-11h0m1 3h0m4 9h0m0-2h0m-1672 22h0m634-14h0m119 3h0m66 4h0m42 2h0m12 8h0m95-7h0m5 2h0m14-9h0m30 21h0m65-7h0m3-5h0m2 14h0m20-8h0m54-13h0m18-7h0m21 6h0m19-1h0m93 6h0m33-6h0m24 7h0m2 15h0m2-15h0m0 10h0m15-13h0m20-7h0m12 4h0m2-4h0m6 12h0m27 10h0m17-20h0m7 22h0m8-13h0m3-9h0m19 19h0m29 3h0m15-1h0m6-10h0m10 14h0m37-14h0m6 1h0m5 8h0m2-19h0m21 4h0m3 20h0m3 0h0m22-10h0m3-1h0m1-14h0m1 6h0m2 13h0m4-18h0m5-4h0m1 8h0m1 11h0m9 8h0m5 1h0m-1368 17h0m75-14h0m322 12h0m133-13h0m17 20h0m18-6h0m69 2h0m121-15h0m81 7h0m0-3h0m13 20h0m56-14h0m5-7h0m4 21h0m14 0h0m60-16h0m28 14h0m1 3h0m57-26h0m44 16h0m58 7h0m0-7h0m18-9h0m17 4h0m0 14h0m2 2h0m11-9h0m37 5h0m34-14h0m2 6h0m11-8h0m1 17h0m11 4h0m6-16h0m6 6h0m3-8h0m6-5h0m1 5h0m0-10h0m3 1h0m1 11h0m1-8h0m1 15h0m15-2h0m1-6h0m6-3h0m1 20h0m1-17h0m2 8h0m1-8h0m2 4h0m0 7h0m-1479 26h0m458-14h0m12-1h0m27 7h0m37-2h0m36-8h0m30 19h0m15-16h0m92 14h0m43-1h0m20-4h0m20-5h0m15 9h0m16 10h0m20-5h0m67-20h0m25 8h0m32 9h0m15 0h0m11-16h0m0 8h0m104-11h0m25 24h0m1 2h0m20-10h0m2 2h0m3-6h0m15 15h0m22 2h0m19-7h0m13-11h0m37-9h0m37 2h0m14 8h0m9-6h0m0-4h0m16 3h0m9 3h0m5-7h0m2 14h0m12-8h0m4 3h0m3 16h0m20-13h0m32 1h0m7-10h0m16 6h0m10 11h0m6-3h0m0-1h0m4 4h0m10-15h0m1 4h0m2-10h0m5 25h0m2-1h0m1-9h0m3-5h0m2 3h0m0-3h0m1 1h0m1-7h0m4 18h0m3 0h0m1-5h0m3 5h0m0 6h0m3 1h0m-1332 26h0m291-8h0m79 5h0m18 5h0m43 0h0m7-5h0m10-19h0m20 25h0m101-26h0m27 10h0m12-6h0m35 15h0m2 2h0m2-14h0m49 4h0m12 12h0m0-25h0m9 7h0m8 9h0m23-6h0m26 11h0m26 7h0m0-27h0m111 14h0m15-14h0m30 18h0m8 4h0m50-2h0m38-16h0m3 8h0m8-4h0m15 10h0m14 4h0m9 1h0m5 2h0m0-23h0m48 21h0m11-21h0m3 5h0m14 4h0m1-7h0m22 23h0m0 1h0m11-27h0m0 18h0m16-16h0m10 6h0m15-10h0m14 26h0m3-12h0m0-6h0m1 2h0m8-3h0m6 21h0m2-27h0m8 9h0m9 14h0m4-4h0m1 0h0m1 7h0m1-12h0m1-8h0m0 6h0m2 5h0m0-12h0m2 19h0m5-17h0m1 19h0m2-10h0m1-15h0m2 11h0m0 3h0m2-16h0m0 10h0m1 5h0m1 7h0m2 1h0m0 1h0m1-3h0m1 4h0m1-6h0m0-6h0m1 9h0m1 2h0m2-2h0m-1621 29h0m425-13h0m114 13h0m62 0h0m90 0h0m2-16h0m140 16h0m19-18h0m82-2h0m14 20h0m28-8h0m33-13h0m64 21h0m35 0h0m2-9h0m32 1h0m46 8h0m1-11h0m57 11h0m43-17h0m65 14h0m8-14h0m28 14h0m4-9h0m4-4h0m12-3h0m30 8h0m7-7h0m20 16h0m7-6h0m5 1h0m7 1h0m7 6h0m4-1h0m36-4h0m3-13h0m3 7h0m4 2h0m7 9h0m4-10h0m7-4h0m2-6h0m0 19h0m10 0h0m0-18h0m7 10h0m1 8h0m1-16h0m3-4h0m14 0h0m2 9h0m0-9h0m1 11h0m2 8h0m4-18h0m2 4h0m4 3h0m1-3h0m4 1h0m1 14h0m1-15h0m0 2h0m2-6h0m1 10h0m0 5h0m1-1h0m1-11h0m2 12h0m0-1h0m2-5h0m3 8h0"/>
<path d="M4262 3544h0m233 67h0m-129 31h0m-437 45h0m6 28h0m75-4h0m508-9h0m-603 41h0m382-19h0m35-4h0m63 42h0m34 3h0m-205 25h0m79 13h0m32-13h0m-332 37h0m126 8h0m109-15h0m370 9h0m0 0h0m-458 28h0m56-15h0m48 9h0m165 10h0m171-6h0m10-5h0m2 4h0m-323 40h0m103 2h0m108-14h0m-691 44h0m107-24h0m560 1h0m48 23h0m-708 33h0m72-16h0m95-4h0m39 4h0m261-13h0m116 12h0m8 1h0m53-2h0m101 10h0m1-18h0m69 4h0m-756 38h0m363 3h0m59-3h0m66-13h0m311 22h0m-698 8h0m50 24h0m11-23h0m129 10h0m40 6h0m65-13h0m117 11h0m224 8h0m15-10h0m1-5h0m42-6h0m5-3h0m-525 58h0m170 0h0m3-22h0m7 12h0m43 4h0m56-18h0m35-3h0m11 27h0m144-23h0m63 7h0m-930 41h0m137 2h0m431-23h0m52 5h0m34 14h0m84-3h0m214 10h0m-711 19h0m110 5h0m269 1h0m93-18h0m29-2h0m48 16h0m30-10h0m-614 47h0m71-16h0m37 12h0m76-2h0m41-14h0m201-6h0m134 14h0m113-15h0m11 22h0m74 6h0m12-13h0m48 8h0m-821 29h0m352 5h0m135-2h0m41-5h0m17-2h0m101 8h0m137-4h0m11 7h0m-972 10h0m271 9h0m158-13h0m17 14h0m60-6h0m43-4h0m33 9h0m40-8h0m33-1h0m11 13h0m77-10h0m7 13h0m225-25h0m27 16h0m-1024 15h0m226 1h0m238 16h0m159-10h0m96 9h0m35-5h0m130-8h0m14 3h0m21 8h0m50 5h0m9 6h0m27-9h0m5 0h0m17-1h0m-931 25h0m92 16h0m8-8h0m230 0h0m69 9h0m45-11h0m28 9h0m28-6h0m36-7h0m100-10h0m37 13h0m4-3h0m13-7h0m60 10h0m58 0h0m19 12h0m21-17h0m49 15h0m12-24h0m3 16h0m1-16h0m24 22h0m28-1h0m11 6h0m-844 13h0m42 2h0m61-13h0m119 13h0m16-2h0m35 15h0m33-6h0m96 1h0m52 5h0m34-27h0m43 13h0m28 6h0m36 8h0m4 1h0m41 0h0m19 0h0m2-18h0m6 10h0m154-2h0m15 2h0m4-20h0m17 3h0m7 9h0m0-3h0m1 20h0m-966 25h0m17-8h0m125 10h0m92-21h0m189 1h0m19 7h0m78 12h0m72-21h0m33 1h0m10 18h0m51-12h0m120-1h0m66-8h0m86 13h0m9-1h0m10 9h0m-1183 15h0m75 17h0m146-3h0m51-21h0m193 22h0m15-20h0m2 16h0m40-4h0m24 12h0m231-12h0m52-5h0m113-2h0m19 12h0m26-7h0m5-12h0m22 4h0m14-1h0m37-1h0m21 25h0m1-1h0m9-27h0m50 25h0m-1136 33h0m244-8h0m12-2h0m28-11h0m32 17h0m73-14h0m142 17h0m36-22h0m148-4h0m169 13h0m10 5h0m88-17h0m10 8h0m21 0h0m48 6h0m14-15h0m14 14h0m38-1h0m24 1h0m14-7h0m17-6h0m29 14h0m-1275 29h0m112 13h0m185-4h0m60-8h0m122-3h0m109-3h0m60 6h0m77-14h0m46 4h0m30 21h0m121-27h0m68 27h0m44-16h0m15-4h0m141 19h0m20-15h0m72-11h0m-975 31h0m106 23h0m28 2h0m138-18h0m15 9h0m110 11h0m72-24h0m25 11h0m20 7h0m47-17h0m32 19h0m12-20h0m64 5h0m69-8h0m21 2h0m19 26h0m11-2h0m39 2h0m29-16h0m33-10h0m66 11h0m43 3h0m-1232 37h0m146-10h0m138-4h0m234 2h0m54 4h0m73 7h0m110 1h0m15-12h0m147-3h0m1 16h0m1-7h0m20-1h0m34-8h0m124 17h0m11-17h0m2 7h0m29 10h0m51-19h0m1 20h0m3-5h0m25-11h0m3 15h0m15-17h0m-1302 32h0m14 3h0m324 3h0m111-10h0m37 16h0m60-13h0m118 18h0m18-1h0m0 2h0m28-15h0m68 14h0m52-26h0m89 11h0m3-5h0m38 11h0m10 7h0m12-19h0m14 21h0m0-4h0m68-5h0m19-2h0m26-2h0m8 9h0m4 4h0m64-2h0m59 0h0m19-17h0m3 9h0m7 3h0m8 3h0m5-14h0m9 13h0m2-2h0m5-15h0m7 10h0m9-5h0m-818 21h0m122 17h0m65-18h0m81 16h0m3-4h0m32-11h0m20 17h0m11-2h0m3-6h0m91 6h0m2 6h0m4-19h0m33 0h0m35 11h0m46-12h0m2 11h0m7 9h0m41-2h0m19 1h0m8-13h0m4 7h0m2-16h0m11 28h0m6-3h0m10-4h0m4 2h0m52-7h0m25-11h0m5 19h0m0-6h0m12-10h0m32-6h0m14-2h0m0 11h0m9 12h0m9-20h0m-1165 35h0m241-6h0m39 20h0m104 1h0m28-16h0m54 7h0m146 15h0m60-17h0m18 4h0m45 12h0m1-28h0m8 16h0m77-12h0m44 2h0m52 13h0m21-11h0m17 11h0m34 2h0m8-15h0m53 20h0m15-22h0m8 5h0m4-3h0m14 10h0m61-13h0m41 14h0m-1364 42h0m256-3h0m0-26h0m65 27h0m201-12h0m142-9h0m27 8h0m119-1h0m30 6h0m2 9h0m9-5h0m23-19h0m8 0h0m45 11h0m108-5h0m29 7h0m47-16h0m35 7h0m29 20h0m47-27h0m62 11h0m8-8h0m19 7h0m4 14h0m67-6h0m-1187 35h0m109 2h0m37 2h0m72-25h0m30 4h0m41 10h0m105 3h0m85 6h0m26-13h0m7 3h0m92-8h0m84-4h0m18 24h0m45-18h0m26 10h0m26 5h0m47-22h0m86 23h0m6-23h0m47 8h0m12-11h0m3 10h0m49 3h0m87 7h0m9 8h0m7-5h0m3-10h0m11-11h0m3 0h0m1 13h0m7 12h0m4-17h0m13-3h0m-1393 38h0m341 1h0m218 8h0m93 2h0m17-19h0m23 1h0m111 20h0m22-7h0m10-12h0m172 18h0m18-10h0m2-1h0m15-6h0m164 9h0m58-2h0m73-7h0m5-9h0m54 20h0m11-6h0m5 14h0m2-7h0m2-9h0m-1396 30h0m167 0h0m26-2h0m13 6h0m216-15h0m225 16h0m111 2h0m17-2h0m9 0h0m3-1h0m31-13h0m51 3h0m83 6h0m41 15h0m19-1h0m6-9h0m6-7h0m10 9h0m58-14h0m11-3h0m11 18h0m18-1h0m11-6h0m15 14h0m4-16h0m6 17h0m52-20h0m18 11h0m8 1h0m6-13h0m1 21h0m22-23h0m6 12h0m16-11h0m26 2h0m16-8h0m31 19h0m1-9h0m10 1h0m15 7h0m6 6h0m-788 26h0m49 1h0m84-11h0m39-2h0m48 5h0m14 10h0m47-13h0m16-7h0m9 15h0m31-16h0m142 4h0m70 17h0m21-5h0m16-13h0m57-2h0m34 12h0m10 13h0m48-27h0m56 15h0m10-9h0m2-6h0m2 12h0m3 6h0m9 4h0m3 5h0m-1264 2h0m84 2h0m82 2h0m8-2h0m285 0h0m11-3h0m15 8h0m3 2h0m2 13h0m25-9h0m181 0h0m10-2h0m14 0h0m30-11h0m3 23h0m3-9h0m54 9h0m11-5h0m36-9h0m0-10h0m10 19h0m22-13h0m32 6h0m77-11h0m4 25h0m12-16h0m54 8h0m12-4h0m16 3h0m27-17h0m6 3h0m19 3h0m9 11h0m26 0h0m20 8h0m4-18h0m6 0h0m13 4h0m5 18h0m2-4h0m6-20h0m11 21h0m1-25h0m2 21h0m6-12h0m8-7h0m0 13h0m6-9h0m3 4h0m-1159 19h0m73 25h0m45-8h0m38 10h0m59-17h0m34 9h0m125-3h0m218 5h0m127 1h0m7-22h0m8 2h0m1-1h0m14 0h0m27 23h0m68-10h0m23-14h0m18 15h0m49-10h0m47 15h0m89-16h0m13 13h0m17-7h0m12 1h0m3 8h0m7-12h0m1 2h0m1-9h0m4 21h0m5-3h0m9-4h0m1-7h0m9 15h0m3-21h0m1 7h0m5-5h0m8-2h0m0 4h0m0 16h0m2-17h0m2 12h0m-1409 31h0m219-2h0m50-8h0m163 22h0m29-26h0m19 22h0m42-25h0m45 11h0m4 15h0m87-9h0m125-9h0m3 20h0m0-1h0m32 2h0m70-4h0m45-1h0m5-1h0m20-21h0m67 15h0m20-4h0m9 9h0m29 4h0m47-4h0m73 6h0m22 1h0m14 0h0m33-15h0m6-9h0m47 16h0m2-11h0m0-6h0m10-4h0m14 6h0m9 11h0m3-6h0m1 16h0m9-20h0m5 20h0m23-4h0m4 0h0m5-4h0m4 3h0m8-3h0m2-4h0m5 11h0m1 2h0m-1335 4h0m31 18h0m47-2h0m153-17h0m177 22h0m25-15h0m88 5h0m9-9h0m33 25h0m104-13h0m12 0h0m2 7h0m23-22h0m36 19h0m14-15h0m35 0h0m38 16h0m34 7h0m1 0h0m4-8h0m24-4h0m20-9h0m9 15h0m17 6h0m63-4h0m11-4h0m14-12h0m2 2h0m25-10h0m9 12h0m14-1h0m13-3h0m84-8h0m4 18h0m26-15h0m7 26h0m13-9h0m27-2h0m3-8h0m22 19h0m13-14h0m8 11h0m13-17h0m16 12h0m4-9h0m1-6h0m1 10h0m1-7h0m0 2h0m2 14h0m1-5h0m0-9h0m2 4h0m1-14h0m1 21h0m10-1h0m0-9h0m2 16h0m4-4h0m-1247 31h0m218-21h0m7 22h0m86-9h0m51-3h0m117-12h0m82 7h0m30-4h0m50 10h0m40 6h0m5-6h0m1-8h0m8 8h0m3-1h0m20 12h0m7-13h0m15-1h0m4 5h0m58-1h0m26-11h0m24 12h0m62 12h0m9-18h0m13 4h0m5-11h0m21 19h0m39-9h0m13 7h0m7 1h0m60-1h0m5-19h0m0 1h0m10 13h0m15-2h0m39-8h0m20 1h0m9 15h0m2-3h0m3-16h0m6 17h0m12-16h0m0-3h0m17 18h0m2-18h0m3 8h0m0 15h0m12-19h0m1 20h0m10-22h0m2 13h0m2-5h0m3 3h0m-1294 21h0m87 11h0m75-9h0m25 9h0m23 7h0m2-1h0m189-22h0m5 4h0m18 11h0m44-5h0m84 14h0m15-13h0m156-8h0m5 18h0m9-6h0m1-4h0m45 13h0m17-21h0m49 6h0m41 11h0m25-4h0m70-15h0m5 8h0m18 15h0m4-5h0m1 9h0m3-18h0m15 1h0m22 13h0m5-19h0m16-1h0m28-4h0m23 18h0m17 8h0m4-11h0m9 8h0m0-12h0m2 9h0m22-11h0m12 18h0m9-21h0m5 21h0m6-23h0m9 24h0m2-14h0m2-7h0m4 14h0m10 7h0m26-9h0m7 9h0m20-21h0m0 0h0m3 19h0m1-8h0m3-9h0m2 17h0m8-11h0m2-6h0m2 19h0m6 0h0m-1054 16h0m26 13h0m104-4h0m18-16h0m3-6h0m11 14h0m4-5h0m150 15h0m18-9h0m4 9h0m36 4h0m22-13h0m60-1h0m94-4h0m6-7h0m3 3h0m0 15h0m40-1h0m7-15h0m86-5h0m5 19h0m26-19h0m8 17h0m21 10h0m52-18h0m2-10h0m4 24h0m16-22h0m11 24h0m23-2h0m14-19h0m55 12h0m46 0h0m7-8h0m1-4h0m20-4h0m2 13h0m1-12h0m6 27h0m5-2h0m0-24h0m17 14h0m8 12h0m3-14h0m1-8h0m1 3h0m2-5h0m4 16h0m2-20h0m1 23h0m3-5h0m1 0h0m1-5h0m2 6h0m1 1h0m1-3h0m4 6h0m-1392 15h0m78 15h0m217-18h0m76 16h0m77-18h0m6 5h0m92 10h0m272-6h0m24 12h0m27-2h0m12-22h0m3-1h0m25 14h0m2 14h0m113-11h0m7-16h0m13 9h0m2 12h0m2-3h0m2-6h0m16 8h0m1 4h0m6-23h0m5 20h0m14 0h0m15-21h0m18 16h0m11 0h0m29 9h0m6-20h0m5 5h0m8-7h0m42 0h0m13 6h0m16 10h0m10 7h0m24-6h0m26-12h0m6 11h0m11-10h0m5-1h0m8 15h0m3 3h0m17-22h0m21 8h0m1 6h0m2-19h0m2 27h0m3-17h0m1 8h0m1-14h0m2 14h0m0-9h0m3 8h0m-1180 41h0m128-22h0m4 10h0m11-12h0m42 13h0m3 11h0m4-26h0m111 23h0m71-6h0m2 2h0m60-11h0m25-3h0m0 21h0m140-22h0m3 11h0m69-4h0m55 9h0m10 6h0m86-25h0m17 26h0m7-29h0m17 12h0m6 13h0m8-21h0m6 15h0m6-7h0m16 12h0m12-18h0m4 3h0m8 6h0m9-15h0m1 3h0m50 20h0m17-18h0m1 10h0m19 9h0m14-20h0m14-4h0m5 7h0m14-2h0m1 7h0m0 6h0m15 3h0m1 4h0m5-10h0m14-5h0m15 4h0m1-2h0m3 4h0m4 4h0m2-19h0m2 28h0m6-11h0m4-14h0m3 13h0m3-13h0m4 14h0m2-2h0m0-9h0m1 17h0m1 0h0m5-5h0m12-8h0m0 15h0m1-13h0m2 5h0m1-11h0m2 15h0m1 2h0m2-22h0m0 24h0m0 3h0m1-15h0m1 5h0m5-5h0m7 12h0m2 1h0m0 1h0m-1395 23h0m43-19h0m200 19h0m51 0h0m121 0h0m12-11h0m32 11h0m123-16h0m5 3h0m74-8h0m202 21h0m36-15h0m8 10h0m48-6h0m14 8h0m10 1h0m30-6h0m5-2h0m8-10h0m6 7h0m28 6h0m19-14h0m6 3h0m12-1h0m35 19h0m18-3h0m10-14h0m40 5h0m19 12h0m6-8h0m0 3h0m26-10h0m6 14h0m3-19h0m8 20h0m5-21h0m16 21h0m23-18h0m1-2h0m2 18h0m0-17h0m5 7h0m10-5h0m8 3h0m1 7h0m2 7h0m2-8h0m0 8h0m7 0h0m0-5h0m6-11h0m0 3h0m4 12h0m4-11h0m1-5h0m2-4h0m6 16h0m1-12h0m1 9h0m1-13h0m0 21h0m8-10h0m2-6h0m1-4h0m0 2h0m2-3h0m1 13h0m3-3h0m3-1h0m1-5h0m1 2h0m3 5h0m0 5h0m1 5h0m1-12h0m7 8h0"/>
<path d="M4276 3629h0m219-18h0m8 14h0m-44 30h0m-360 62h0m282-24h0m70 20h0m98 25h0m8-8h0m-107 30h0m124 3h0m-563 37h0m86 2h0m497 0h0m-639 25h0m242 8h0m56-16h0m109-5h0m251 23h0m-738 9h0m314 23h0m232-26h0m183 3h0m8 9h0m-775 35h0m203 8h0m296-16h0m-388 26h0m22 12h0m136 8h0m86-20h0m40 3h0m58 4h0m21-14h0m35 11h0m83 0h0m206 13h0m-769 29h0m46-23h0m245 1h0m185 10h0m53 15h0m79-10h0m15 3h0m12 0h0m7 6h0m36 3h0m30-23h0m14-4h0m27 25h0m34-5h0m-827 10h0m65 17h0m166-16h0m107 5h0m0 13h0m69-17h0m62 25h0m178-24h0m13 22h0m115 2h0m42-20h0m42 1h0m-848 40h0m116-20h0m72 27h0m51-17h0m49-1h0m104 8h0m38 11h0m51-26h0m140 14h0m7 9h0m55-19h0m14 15h0m37-13h0m113 7h0m-808 44h0m149-7h0m17-9h0m21 8h0m42 3h0m120-18h0m58 13h0m8 7h0m3-22h0m21 9h0m51-2h0m145-11h0m43 9h0m49 7h0m-435 40h0m191-18h0m170 21h0m119-18h0m1-6h0m-873 36h0m139-3h0m52-4h0m76 5h0m12 7h0m67 11h0m49-17h0m55 11h0m187-2h0m30 8h0m3-21h0m203 12h0m92 3h0m-1020 15h0m194 1h0m304-5h0m89 19h0m162-16h0m42 15h0m40-20h0m25 12h0m21-2h0m29 12h0m0-5h0m5-15h0m118 8h0m1-4h0m-841 29h0m131 22h0m11-15h0m121 6h0m249 5h0m104-23h0m72 17h0m23-17h0m93 15h0m14 7h0m13-18h0m-899 28h0m6 1h0m268 2h0m135 15h0m3 4h0m24 3h0m3-22h0m3 14h0m12 3h0m109-17h0m13 22h0m101-6h0m66 1h0m12-14h0m17-4h0m116 2h0m39 6h0m-1087 46h0m237-26h0m84 13h0m123 8h0m53-10h0m31 14h0m26-26h0m122 15h0m14 1h0m61-3h0m104 5h0m53 1h0m24 5h0m93-1h0m45 0h0m6-18h0m12 22h0m9-3h0m6-7h0m14-17h0m-1117 32h0m36 18h0m333 7h0m92-9h0m70 4h0m217-20h0m91 25h0m188-9h0m45 8h0m66-6h0m8-7h0m-1194 21h0m37 18h0m233 6h0m28-14h0m14 2h0m101-16h0m48 1h0m59 25h0m15-1h0m26-5h0m32-4h0m49-9h0m6 9h0m16-5h0m120 16h0m9-2h0m53-20h0m20 23h0m103-6h0m120-19h0m26 11h0m12-1h0m38-7h0m22 15h0m7-21h0m-775 53h0m57-5h0m10 1h0m70-2h0m83-1h0m52-9h0m14-7h0m47 10h0m1-1h0m38-8h0m10 11h0m10 10h0m36-8h0m20 2h0m26-8h0m97 0h0m7 18h0m172-20h0m4 8h0m32 11h0m-1088 27h0m185-11h0m68-9h0m2 10h0m55-4h0m85-5h0m36 21h0m26-25h0m32 8h0m196 21h0m35-28h0m61 13h0m45-2h0m9 14h0m5 1h0m33-19h0m3-8h0m46 9h0m5 8h0m75-10h0m27 17h0m7-20h0m3 17h0m6 7h0m4-15h0m2 11h0m2-3h0m8-14h0m24 2h0m6 18h0m5-9h0m24 1h0m-1219 39h0m356-17h0m79-2h0m146 1h0m78-7h0m127 15h0m74-14h0m65 22h0m95-11h0m2-3h0m42 15h0m41-25h0m54 11h0m2-7h0m7-1h0m37 11h0m27-6h0m1 19h0m-1132 18h0m386-3h0m124 2h0m15 11h0m113-7h0m1-2h0m137 4h0m147 7h0m38-23h0m50-1h0m64 18h0m51-15h0m-1143 38h0m206 4h0m32 6h0m93-15h0m6 1h0m147-5h0m57 19h0m15-12h0m42-2h0m31-7h0m47 5h0m128 12h0m154-14h0m28 1h0m18-2h0m9 10h0m22 4h0m41-4h0m6-15h0m32 15h0m-1048 40h0m157-7h0m85 9h0m91-4h0m89-12h0m111 15h0m82-15h0m3-1h0m8 3h0m69 1h0m10-10h0m43 17h0m39 3h0m104-16h0m49 10h0m64-9h0m4 11h0m16-16h0m5 11h0m10-1h0m16-3h0m29-10h0m5 18h0m9-1h0m37-3h0m-1172 20h0m51 20h0m202 0h0m40-3h0m36-17h0m2 15h0m25-17h0m13 2h0m68 5h0m1-12h0m9 20h0m52 6h0m57-14h0m11 13h0m10-14h0m14 8h0m10-1h0m5 1h0m36-19h0m50 28h0m41-14h0m50-9h0m78 1h0m60 23h0m39-27h0m4 25h0m0-25h0m6 23h0m8 3h0m17-1h0m16 1h0m10-21h0m31 21h0m8 0h0m16-26h0m14 20h0m1-6h0m0-12h0m10 16h0m28-16h0m8 7h0m3 14h0m0-15h0m6 13h0m5 4h0m10-18h0m18 4h0m0-3h0m9 16h0m-1249 22h0m452-7h0m85-2h0m14 13h0m8-11h0m27 9h0m27-6h0m92-8h0m43 6h0m42-6h0m20 22h0m55-2h0m67-24h0m63 5h0m0 17h0m47-4h0m83 1h0m12-12h0m35-6h0m13 20h0m44-22h0m17 10h0m5 11h0m13-7h0m1 3h0m-1304 26h0m275-14h0m28 23h0m41-15h0m171 0h0m106 12h0m30 7h0m21-5h0m82 0h0m64-11h0m0 17h0m24-8h0m130-7h0m61-8h0m4 3h0m10 16h0m82-9h0m59 8h0m60-15h0m27 20h0m13 0h0m-1300 8h0m214 16h0m40 2h0m153-3h0m41 7h0m47-15h0m24-5h0m127 20h0m10-17h0m87-9h0m5 14h0m44-5h0m105-11h0m86 1h0m98 21h0m43-19h0m81 6h0m2 14h0m13-22h0m0 23h0m17-9h0m13-4h0m17-6h0m5 13h0m4 4h0m23-5h0m10 2h0m17-8h0m7 4h0m13 1h0m3 12h0m-1025 27h0m98 4h0m12-20h0m106-2h0m15-5h0m59 25h0m59-3h0m28-3h0m81-21h0m41 26h0m0-18h0m6 6h0m17-2h0m27-12h0m10 10h0m59 6h0m41-12h0m119 19h0m8-19h0m33-4h0m10 10h0m39-8h0m11 1h0m1 4h0m15 15h0m2-1h0m21-6h0m5-15h0m36 23h0m28-19h0m18 4h0m10 16h0m21-4h0m-1289 12h0m273 22h0m154-22h0m273 17h0m51-3h0m270 9h0m75-18h0m22 8h0m29-15h0m1 8h0m54 14h0m4-12h0m63 17h0m30-25h0m11 27h0m-1199 21h0m96-16h0m296 22h0m45-25h0m18 0h0m46 8h0m70 20h0m1-4h0m15 0h0m60-17h0m3-3h0m56-4h0m3 16h0m142 2h0m3 0h0m9 6h0m17-10h0m4 4h0m28-16h0m31 10h0m34 8h0m16 0h0m24 3h0m32 0h0m6 3h0m31-12h0m16-7h0m21 2h0m17 0h0m10 5h0m14-10h0m0 22h0m7-25h0m13 8h0m0-5h0m9 16h0m2 5h0m21 0h0m-894 13h0m54 9h0m2 9h0m31-23h0m7-3h0m15 24h0m30-25h0m42 21h0m17 6h0m14-1h0m109 1h0m23-23h0m17 16h0m36 7h0m51-22h0m17 14h0m1-12h0m46 9h0m8-4h0m9 3h0m57-15h0m5 13h0m10-1h0m10-11h0m10 25h0m13 0h0m58-2h0m48-2h0m51-21h0m8 21h0m0-2h0m53-12h0m0 20h0m4-18h0m30 6h0m16 2h0m-1097 30h0m14-1h0m57-12h0m104 20h0m100-5h0m55-18h0m37-2h0m39 5h0m34 0h0m33 21h0m9-8h0m2-9h0m32-6h0m21 25h0m80-27h0m34 3h0m21 0h0m15 8h0m29 14h0m70-1h0m13 2h0m32 0h0m1-10h0m17 6h0m2-9h0m17 5h0m6-16h0m17 6h0m7 18h0m12-21h0m33 4h0m13 12h0m3-2h0m24-17h0m2 2h0m2 9h0m5 13h0m24-23h0m19 1h0m15-4h0m14 12h0m15 4h0m0-3h0m7-13h0m0 3h0m15 8h0m6 3h0m0-15h0m-1224 52h0m10-15h0m290 18h0m33-14h0m36 6h0m155 11h0m11-16h0m63 13h0m93-11h0m2-11h0m34 17h0m31-14h0m1 21h0m11-12h0m12 1h0m39 0h0m45 7h0m0-18h0m3 2h0m43 1h0m81 6h0m5 9h0m33-20h0m5 1h0m14 0h0m8-1h0m29 24h0m14-8h0m0-17h0m6 18h0m5-4h0m11 6h0m2-2h0m4-11h0m6-1h0m1 11h0m7-17h0m42 23h0m17-19h0m8 10h0m7-6h0m0 2h0m13 0h0m5-11h0m9 19h0m9 7h0m-1190 23h0m10-2h0m76-2h0m65 11h0m21-27h0m134 22h0m4-22h0m37 27h0m15-16h0m297 1h0m130-7h0m59 19h0m18-6h0m38-18h0m21 17h0m18-9h0m89 12h0m52-4h0m25-12h0m9 2h0m3 0h0m2 22h0m16-25h0m1 7h0m10-6h0m14 20h0m6-8h0m15 0h0m6-4h0m3-3h0m-1085 43h0m130-20h0m60 22h0m29-15h0m0-7h0m79 19h0m100-19h0m11 7h0m195 13h0m87-7h0m75 11h0m6 1h0m4-2h0m47-6h0m55 3h0m40-21h0m43 21h0m23-10h0m29 15h0m7-6h0m0-1h0m3-8h0m21 0h0m11 17h0m0-12h0m2-17h0m4 27h0m1-25h0m6 26h0m1-22h0m27 2h0m8 4h0m7 12h0m-1585 34h0m347-21h0m177 1h0m98 11h0m52-1h0m51-10h0m14-2h0m24-2h0m142 9h0m5-5h0m15-6h0m2-1h0m22 14h0m25 14h0m34-3h0m0-1h0m18-6h0m38 1h0m89-6h0m8-4h0m28-9h0m3 24h0m2-11h0m21 10h0m14-2h0m18 5h0m4-19h0m2 20h0m6-15h0m8 15h0m30-8h0m5 6h0m67-14h0m9 11h0m4-20h0m32 7h0m3 9h0m21 9h0m1-18h0m28 1h0m11 16h0m2-11h0m0-6h0m22-1h0m3 9h0m8-14h0m5 7h0m2-5h0m4 19h0m8-19h0m9-2h0m5 22h0m8 3h0m4-4h0m7-3h0m3 6h0m14-25h0m1 5h0m4-5h0m7 18h0m3 2h0m-1111 18h0m34-2h0m52 15h0m68-1h0m85-20h0m31-1h0m17 15h0m51 1h0m87-3h0m14-9h0m4 12h0m31 11h0m49-27h0m32 17h0m83 4h0m15 5h0m29-26h0m56 10h0m28 5h0m46-4h0m18-12h0m33-1h0m12 19h0m3-18h0m30 21h0m38-21h0m1 5h0m13 9h0m18 6h0m4-14h0m2 14h0m8-1h0m25-4h0m22 0h0m2-14h0m22 23h0m5 2h0m22-18h0m5 15h0m4-16h0m1 16h0m9-8h0m3 1h0m5-4h0m8 5h0m3 8h0m0 3h0m3-2h0m-1242 8h0m47 14h0m41-7h0m32 9h0m74-4h0m75-11h0m24 12h0m58 3h0m95 2h0m48-11h0m58 16h0m2-5h0m38-17h0m124 20h0m38-3h0m14-20h0m23-1h0m17 26h0m26-22h0m12 13h0m20 10h0m12-17h0m0-10h0m14 1h0m33 22h0m4-16h0m20 11h0m30-14h0m2 15h0m22 1h0m1 6h0m7-21h0m77 22h0m18-15h0m7-10h0m13 14h0m36 7h0m21 1h0m20-24h0m14 10h0m2-9h0m1 9h0m0 4h0m1-3h0m1-11h0m3 10h0m0 2h0m2 8h0m8-18h0m0 13h0m9-17h0m2 3h0m9 19h0m-1340 13h0m165 15h0m12 8h0m45 1h0m1-27h0m11 27h0m14-8h0m30 5h0m32 2h0m127-24h0m5 20h0m27-5h0m69-11h0m61 4h0m28-12h0m24 3h0m118 26h0m6-28h0m73 24h0m63-4h0m28-1h0m42-12h0m29 5h0m19 7h0m28 9h0m2-1h0m2-22h0m2 15h0m4-12h0m5-7h0m16 19h0m21 0h0m5-19h0m9 16h0m2 0h0m12-6h0m6 7h0m20-4h0m18-10h0m24 21h0m7-20h0m1 6h0m3-9h0m14 3h0m14 17h0m6-2h0m17-6h0m1 1h0m4 0h0m21 5h0m0-13h0m11-2h0m1-4h0m1 6h0m3 15h0m1-8h0m5 0h0m2-11h0m3 9h0m2 15h0m11-24h0m2 18h0m0-9h0m2 14h0m1-13h0m1-12h0m4 6h0m1 15h0m2-19h0m1 9h0m2 9h0m1 2h0m4 4h0m1-8h0m2 4h0m-1484 6h0m15 22h0m397-21h0m189 26h0m22-2h0m18-21h0m53 13h0m14 11h0m16-5h0m126 6h0m26-20h0m15-8h0m77 15h0m25 7h0m20-9h0m12 4h0m18-6h0m10 1h0m2-1h0m15 2h0m1 12h0m48 0h0m33-1h0m4-9h0m3 6h0m17 0h0m3-9h0m15-10h0m23 13h0m3-7h0m1-3h0m4 23h0m25-5h0m37-22h0m14 23h0m20-4h0m3-17h0m4 12h0m4-13h0m14 4h0m13 6h0m10-3h0m4 5h0m7-15h0m1 17h0m1 9h0m28-13h0m0 10h0m17-2h0m4 2h0m3-17h0m2-3h0m9 6h0m6-4h0m4 18h0m1-10h0m2 12h0m0-1h0m0-7h0m3 10h0m1-17h0m4-10h0m1 25h0m10-6h0m7-2h0m8-2h0m6 7h0m-1030 17h0m6 12h0m65-21h0m118 18h0m51-5h0m38 8h0m2-6h0m37 0h0m6-3h0m79-10h0m72 9h0m29 7h0m12-17h0m50 18h0m3 2h0m4-11h0m5-2h0m31-8h0m42 3h0m40 10h0m7-10h0m1 18h0m10-18h0m12 2h0m12 16h0m2 0h0m48 0h0m8-5h0m2-11h0m10 4h0m2 1h0m19 11h0m1-3h0m12 3h0m8-19h0m1 3h0m3 16h0m6-14h0m20 12h0m25-16h0m5 9h0m13 5h0m8-14h0m9 5h0m21-3h0m11 3h0m6-5h0m5 7h0m2 5h0m3 6h0m0-8h0m2-9h0m1-2h0m5 13h0m2-15h0m0 5h0m5-5h0m1 16h0m2-15h0m6 19h0m0-10h0m5-7h0m5 10h0m0 3h0m6-2h0m0-11h0m3 7h0m2 5h0m1-5h0m0 5h0m0-6h0m2-4h0m4 1h0m2 9h0m3 3h0m0-4h0m6 6h0"/>
<path d="M4468 3558h0m4 8h0m0-1h0m-118 32h0m132-4h0m-355 37h0m214 75h0m-53 60h0m288 9h0m-614 48h0m589 10h0m45-19h0m2 3h0m2 4h0m-559 31h0m80 4h0m43-14h0m117 12h0m174 12h0m57-17h0m103 2h0m2 2h0m-528 45h0m192-13h0m213-1h0m115 9h0m10 2h0m-786 24h0m414-1h0m235 3h0m110-7h0m25 1h0m-690 43h0m187 0h0m133-15h0m35-3h0m25-3h0m90 0h0m57 21h0m183-22h0m-391 25h0m186 9h0m10 15h0m27 0h0m75 3h0m13-25h0m70 17h0m-632 18h0m129-7h0m124 22h0m89-13h0m193-5h0m22-1h0m94 11h0m25 13h0m16-5h0m-796 11h0m159 12h0m186 4h0m131 10h0m7-22h0m48 13h0m59-16h0m3 20h0m27-7h0m109-14h0m71 11h0m3 2h0m2 13h0m-358 11h0m19-3h0m28 16h0m2-11h0m53-12h0m166 29h0m90-15h0m-562 21h0m21 10h0m118-15h0m160 22h0m43-12h0m133 11h0m71-8h0m24-11h0m36 9h0m-784 37h0m6-11h0m327 13h0m92-15h0m76 10h0m78 11h0m153-20h0m2 20h0m-791 6h0m269 23h0m229-3h0m81 5h0m110-2h0m53-8h0m8 2h0m75-16h0m-721 38h0m164 11h0m71 2h0m16-2h0m151 7h0m26-11h0m9-15h0m36 4h0m25 22h0m4-1h0m99 1h0m168-7h0m11-18h0m3 6h0m-809 43h0m158-22h0m87 27h0m106 0h0m43-15h0m206 8h0m2 3h0m47 1h0m95 1h0m19-24h0m30 5h0m19 20h0m15-12h0m-1134 36h0m76 8h0m42-16h0m157-5h0m115 12h0m5-11h0m185-6h0m164 4h0m69 4h0m70 3h0m112 4h0m9 3h0m80-17h0m4 11h0m39-12h0m25 16h0m-1129 29h0m37-12h0m215 1h0m161-6h0m43 7h0m2 13h0m29-5h0m17-4h0m18 17h0m102-5h0m163-7h0m8-8h0m27 12h0m45 8h0m98-3h0m24-9h0m79-3h0m6-2h0m40-7h0m21 17h0m4-13h0m8 15h0m-988 24h0m334-6h0m103 17h0m54-12h0m57-11h0m73 1h0m18 3h0m5 5h0m6 14h0m64-8h0m84-21h0m10 24h0m42 1h0m30-8h0m90-1h0m28-3h0m2 4h0m-1026 23h0m98-1h0m6-9h0m162 21h0m66 7h0m377-19h0m28 0h0m46 20h0m49-15h0m30-3h0m54 11h0m10 5h0m18-17h0m48 4h0m9 1h0m32-14h0m4 7h0m3 14h0m-1198 25h0m235 1h0m185-8h0m123-2h0m118 20h0m3-20h0m81-4h0m40 17h0m5-10h0m40 4h0m34-3h0m31-6h0m48 1h0m90 7h0m37-1h0m1-1h0m19-10h0m17 25h0m8-13h0m18-8h0m32-2h0m6 23h0m2-23h0m12 9h0m10 1h0m21 5h0m-1295 25h0m189 2h0m77-1h0m111-3h0m161 14h0m42-25h0m136-1h0m18 24h0m53-2h0m62-7h0m11 2h0m27 8h0m0-12h0m21 0h0m21 13h0m16-12h0m73 12h0m44-5h0m28 1h0m8 6h0m68-25h0m10 15h0m59 11h0m64-1h0m3-25h0m-1126 27h0m209 3h0m128 1h0m12 0h0m46 6h0m120-10h0m11 23h0m127-13h0m52 18h0m184-25h0m54 15h0m11-15h0m36 23h0m51-2h0m58-4h0m49-6h0m-1101 21h0m90 8h0m2 15h0m103-24h0m182 15h0m47-6h0m47-5h0m14 21h0m182-8h0m38-3h0m105 1h0m100-13h0m25 9h0m40 11h0m8-15h0m111 18h0m-1255 22h0m78-7h0m251 3h0m59 11h0m48-10h0m76-3h0m60 14h0m57-11h0m2 4h0m33-15h0m133 20h0m77 0h0m99-15h0m3 6h0m8-14h0m30 18h0m84 3h0m3-21h0m23 22h0m37-15h0m15-11h0m37 23h0m2 6h0m14-24h0m38 0h0m7 23h0m17 1h0m-1060 29h0m20-17h0m100-6h0m264 12h0m0 10h0m59-8h0m30 0h0m117-19h0m7 7h0m14 12h0m61 9h0m15-3h0m22-21h0m18-1h0m74 11h0m11 0h0m20-6h0m5 16h0m3-15h0m40 16h0m19-4h0m15-13h0m23-7h0m22 3h0m26 18h0m6-8h0m16-12h0m39-2h0m12 19h0m3 2h0m-1277 33h0m125 4h0m181 1h0m18-6h0m30 1h0m103-21h0m20-3h0m196 6h0m2 22h0m28-1h0m10-18h0m87 15h0m107-4h0m15-20h0m40 26h0m24 1h0m14-17h0m64 4h0m10 5h0m51-6h0m9 14h0m18-13h0m115 2h0m4 2h0m14-17h0m11 9h0m5 13h0m-1358 8h0m214-1h0m32 23h0m67 1h0m67 0h0m229-12h0m22-9h0m55 1h0m16 6h0m8 5h0m51-13h0m34 23h0m61-2h0m2 5h0m94-8h0m16-10h0m2 13h0m10-23h0m50 24h0m26 1h0m34-7h0m8-16h0m16-2h0m66 17h0m58-7h0m87 11h0m3-4h0m25-6h0m5 12h0m9 2h0m12-15h0m3 5h0m-1194 28h0m44 10h0m125 0h0m63 3h0m15-2h0m148-8h0m20-2h0m54-8h0m55-3h0m30 8h0m4-9h0m8 27h0m213-8h0m6-18h0m5 23h0m106-1h0m25 1h0m12-19h0m21 18h0m20-4h0m4 4h0m35-24h0m11 8h0m7 15h0m32-3h0m19 7h0m10-2h0m13-1h0m26-4h0m21 2h0m10-12h0m7-6h0m2 12h0m6-15h0m10-2h0m7 7h0m3 8h0m2 8h0m8-1h0m2-7h0m3 5h0m-1381 37h0m195 2h0m322-28h0m3 23h0m13-10h0m76-1h0m109-8h0m1-1h0m17-4h0m171 21h0m108-17h0m19 4h0m89 0h0m34 8h0m15-9h0m20-4h0m16 0h0m35 5h0m0 15h0m9-4h0m30 10h0m4-27h0m0 14h0m27-12h0m47 23h0m5 1h0m8-4h0m2-5h0m1-11h0m2 15h0m1 0h0m13 4h0m6-5h0m-991 33h0m8-6h0m12-10h0m72 16h0m31-19h0m54 21h0m4-6h0m0-16h0m27 18h0m10-2h0m98-1h0m37-18h0m17 18h0m24-12h0m77 9h0m23 3h0m36-12h0m38 16h0m10-20h0m74 5h0m15-5h0m24 9h0m23 3h0m2 9h0m40-8h0m18 4h0m0 5h0m10-12h0m29 12h0m4-8h0m23 10h0m3-27h0m21 23h0m48-14h0m2 6h0m7 4h0m1 8h0m14-23h0m7 14h0m4-12h0m8 12h0m6 1h0m5-2h0m8 5h0m6-11h0m6-10h0m14 9h0m4 8h0m-1081 15h0m96 18h0m21-18h0m47 12h0m49 3h0m42 6h0m39-5h0m49 7h0m6-25h0m98 4h0m0-2h0m12 25h0m32-27h0m37 13h0m24-15h0m4 23h0m79-23h0m32 17h0m10 11h0m34-23h0m3 18h0m20-9h0m22-1h0m12 9h0m8-2h0m55 3h0m33-4h0m1-10h0m41 17h0m39-18h0m14 20h0m15-12h0m4 9h0m67-2h0m0 3h0m20-24h0m8 21h0m20-12h0m-1645 48h0m284-9h0m315 0h0m107-6h0m264-3h0m14 5h0m18 6h0m26-19h0m3 16h0m8-1h0m23 3h0m17-12h0m184-2h0m2 3h0m6-9h0m6 0h0m57 6h0m67 2h0m33 16h0m10-6h0m7-7h0m11 2h0m8-4h0m31-5h0m3 22h0m5-15h0m6 4h0m2-1h0m6-3h0m5 6h0m54-1h0m4 1h0m18-9h0m11 6h0m14-13h0m1 10h0m1 7h0m5-1h0m0-2h0m3-7h0m3 1h0m3 18h0m3 1h0m4-9h0m2-3h0m0 1h0m3-15h0m5 21h0m-1251 16h0m225 19h0m72-14h0m48-6h0m2 16h0m13 3h0m38-27h0m50 14h0m4 4h0m28 1h0m30 7h0m78-2h0m15 1h0m61 2h0m38-10h0m28 7h0m6-1h0m2-2h0m1 4h0m25-13h0m51 9h0m23-6h0m61-5h0m43-11h0m18 18h0m1 5h0m9-21h0m2 10h0m9 12h0m5-2h0m5-18h0m7 16h0m0-15h0m34 15h0m8 8h0m7-19h0m2 13h0m6-3h0m5 9h0m40-4h0m5-4h0m9-14h0m19 12h0m15-2h0m24 1h0m20-10h0m7 2h0m8 18h0m19-27h0m8 12h0m5-1h0m8 1h0m0-4h0m9-1h0m1 6h0m1 1h0m6 1h0m3 6h0m-1046 18h0m13 16h0m69 0h0m164-23h0m72 18h0m52-17h0m147 19h0m22 0h0m42 6h0m18-20h0m8 7h0m43 11h0m7-11h0m26-6h0m37 14h0m11-2h0m16-1h0m2-20h0m14 16h0m52-7h0m11-3h0m15 8h0m20-6h0m24 8h0m16-16h0m19 4h0m21 13h0m14 3h0m20 0h0m5 8h0m1-17h0m22 0h0m1-3h0m23 15h0m5-6h0m6-16h0m12 12h0m2-8h0m1 10h0m1 14h0m4-21h0m0 18h0m5-9h0m-1085 39h0m102-7h0m33-19h0m22 1h0m237 13h0m26 1h0m94-4h0m16-8h0m20 6h0m79 4h0m6-1h0m2 0h0m4-10h0m23 10h0m6 6h0m5 5h0m55-3h0m3-4h0m38-7h0m0 8h0m3-7h0m18-6h0m37 16h0m9 3h0m4-11h0m16 16h0m37-13h0m9 3h0m3 0h0m1 10h0m20-3h0m12-6h0m33-5h0m7 0h0m2 14h0m1-1h0m2-4h0m33-8h0m17 8h0m20 0h0m6 5h0m4-3h0m5-10h0m2-8h0m21-2h0m4 10h0m1 8h0m1-1h0m-1269 17h0m30-7h0m281 16h0m67-14h0m107-2h0m12 16h0m50-8h0m10-4h0m18 5h0m52-8h0m27 10h0m6-8h0m64 20h0m25-18h0m79-2h0m1 20h0m48-5h0m52-7h0m26 6h0m27 4h0m11-15h0m0 8h0m14-7h0m4 1h0m14-8h0m4 8h0m0-4h0m11-1h0m5 23h0m23-14h0m1-10h0m6 2h0m28 16h0m5-6h0m28-3h0m66 13h0m0-22h0m12 19h0m10-13h0m11-3h0m0 6h0m2-11h0m18 23h0m1-20h0m4 12h0m0-3h0m2-11h0m3 2h0m0 6h0m1 3h0m13 0h0m7 11h0m-1047 15h0m154 19h0m60-29h0m36 1h0m154 10h0m6 15h0m30-23h0m17-2h0m63 26h0m41-23h0m7 4h0m0 3h0m5 13h0m36-9h0m6 13h0m15-5h0m54-17h0m27-2h0m8 17h0m0-9h0m5 13h0m7-7h0m11-15h0m22 24h0m54-17h0m19-7h0m56-2h0m5 10h0m10-11h0m21 3h0m1-2h0m2 19h0m2 1h0m3-2h0m14-6h0m1-11h0m9-2h0m31 0h0m4 5h0m4 23h0m4-24h0m11 13h0m1-12h0m6-1h0m5 15h0m9-9h0m3 10h0m0-2h0m2 11h0m16-21h0m7 15h0m2 4h0m-1293 22h0m57-7h0m83-9h0m82 0h0m34 13h0m36 8h0m27-18h0m44 20h0m45-7h0m60-15h0m119 14h0m6 11h0m14-5h0m73-15h0m18-1h0m46-1h0m51 5h0m14 16h0m3 0h0m6-8h0m34-8h0m15 1h0m50-6h0m35 10h0m11-6h0m5-4h0m16 2h0m22-6h0m5 22h0m7-18h0m67 11h0m18-4h0m36 1h0m10-12h0m34-2h0m20 25h0m11-16h0m5 2h0m0-6h0m4-5h0m1 12h0m5 12h0m6 0h0m4-22h0m9 7h0m12 8h0m0 1h0m8-2h0m1-2h0m9 4h0m1-14h0m1 10h0m7-14h0m6 7h0m0-4h0m6 23h0m4-3h0m1-6h0m2 8h0m-1406 13h0m238 0h0m163 1h0m30 10h0m105-14h0m105 22h0m96 1h0m31 0h0m26-26h0m32 8h0m6 8h0m49 6h0m2-23h0m30 21h0m12-1h0m69-3h0m49 10h0m31-22h0m30 18h0m16-23h0m5 15h0m5 3h0m6-19h0m37 27h0m1-28h0m36 0h0m2 7h0m15 17h0m35 4h0m5-3h0m6-23h0m1 22h0m22 2h0m0-23h0m1 9h0m17-11h0m13 1h0m1-2h0m3 13h0m1-3h0m7 5h0m1 14h0m1-20h0m4 11h0m3-10h0m3-4h0m9 3h0m2 8h0m5-12h0m0 24h0m1-7h0m12 2h0m0 3h0m2-26h0m0 8h0m2 0h0m6 2h0m0 14h0m3-21h0m1 14h0m2-1h0m2-11h0m3 9h0m1 2h0m2 9h0m0-14h0m5-10h0m2 2h0m1 20h0m4-2h0m3-8h0m5 11h0m-1318 23h0m155-17h0m118 7h0m70 8h0m21-1h0m70 7h0m21 3h0m137-4h0m15 0h0m77-7h0m14 12h0m45-14h0m7-8h0m69 8h0m3 17h0m8-25h0m19 2h0m32 8h0m47 11h0m36 4h0m35-24h0m11 24h0m18-11h0m30 0h0m42 6h0m14-21h0m6 25h0m10-25h0m25 8h0m2 16h0m24-1h0m4-18h0m2 21h0m2-24h0m5-1h0m17 2h0m46-4h0m2 10h0m7 2h0m4-10h0m6 3h0m2 17h0m1-7h0m6-17h0m7 5h0m5 11h0m2-9h0m7-3h0m2 19h0m1-12h0m0 4h0m1 8h0m2 4h0m1-24h0m3 18h0m0 7h0m1 0h0m3-7h0m11-1h0m0 7h0m2 1h0m-1338 23h0m241-15h0m38-3h0m105 17h0m24-4h0m30 4h0m5-13h0m15-1h0m66 13h0m74 2h0m16-15h0m112 1h0m16-3h0m56 7h0m63 7h0m11-11h0m13 6h0m26 8h0m20-11h0m8 2h0m13-6h0m30-6h0m2 10h0m4 4h0m3-7h0m33-5h0m9 4h0m3 5h0m5-11h0m6 2h0m23-1h0m22 10h0m6-3h0m2 1h0m1 12h0m24-17h0m26 11h0m7 3h0m1-2h0m30-11h0m15 0h0m17 1h0m2 15h0m18-12h0m33 12h0m5-12h0m18 7h0m13-12h0m7 12h0m0 2h0m1 0h0m5 0h0m4 2h0m1-2h0m1-3h0m0-7h0m4 3h0m2-3h0m4 2h0m2 5h0m0 2h0m1-14h0m1-1h0m0 0h0m5 13h0m1 0h0m0 0h0"/>
<path d="M4055 3533h0m335 83h0m-385 100h0m140 3h0m334-6h0m36 2h0m35 1h0m-350 10h0m142 0h0m147 35h0m-511 39h0m157 0h0m417 5h0m-692 18h0m233-3h0m172 11h0m105-21h0m162 26h0m81 2h0m-393 22h0m10-2h0m318-5h0m14 7h0m-671 17h0m27 22h0m345-1h0m99-1h0m90-12h0m46 8h0m-587 26h0m355 4h0m85-19h0m4 11h0m109-3h0m72 12h0m20 1h0m-688 14h0m394-6h0m144 17h0m17-10h0m21 10h0m-554 34h0m82-17h0m115 21h0m43-13h0m10 5h0m97-19h0m99 17h0m84 4h0m10-5h0m93-6h0m111-2h0m25 10h0m19-15h0m2 7h0m5 7h0m1 1h0m-753 33h0m100 6h0m75-10h0m31-9h0m62-1h0m13 6h0m77-6h0m94 1h0m159-9h0m83 25h0m32-18h0m-896 42h0m141-14h0m8 11h0m177-7h0m53 16h0m3-14h0m20-5h0m270 2h0m20 6h0m51 9h0m80 3h0m105-5h0m-666 15h0m304 1h0m115 7h0m19-2h0m-680 19h0m198 9h0m47 7h0m168-7h0m66 17h0m130-23h0m11 20h0m5-19h0m52 17h0m22-10h0m113-7h0m154 16h0m-807 35h0m249-12h0m2 8h0m112-2h0m164-9h0m65 11h0m67-10h0m6-10h0m149 2h0m3 6h0m-920 26h0m19 11h0m366-14h0m50-1h0m5 4h0m34 20h0m225-26h0m13 4h0m111 2h0m115 8h0m0 0h0m-1075 23h0m22 17h0m134-20h0m8 11h0m48 6h0m74 7h0m13 1h0m327-7h0m45-17h0m41 21h0m4-10h0m39 12h0m28-17h0m3 11h0m19-21h0m58 5h0m4-3h0m65 3h0m83 21h0m6-2h0m34-19h0m9-4h0m25 10h0m-928 18h0m5 22h0m46 7h0m70-14h0m46-7h0m131 15h0m17-23h0m197 3h0m114 0h0m103 1h0m42 11h0m26 12h0m1 0h0m25-20h0m13 7h0m24 7h0m41-7h0m-948 38h0m134-20h0m39 27h0m206-1h0m81-21h0m64 4h0m39 14h0m46-17h0m8 2h0m45 5h0m11-10h0m5 6h0m203-1h0m4 17h0m12-2h0m84-1h0m17-21h0m17 26h0m-1006 10h0m27 17h0m80-23h0m95 16h0m87-12h0m139 0h0m166 14h0m51 8h0m96-7h0m50 1h0m4-5h0m2-14h0m18 4h0m60-5h0m8 15h0m15-14h0m5 21h0m2-22h0m12 14h0m58 3h0m-649 32h0m255-20h0m10 26h0m55-27h0m46 19h0m26 4h0m23-10h0m27 15h0m58-20h0m3 17h0m28-20h0m10 22h0m35-6h0m58 3h0m14-20h0m3 24h0m13-21h0m8 10h0m28-2h0m8 12h0m-1107 31h0m222-15h0m20 11h0m26-22h0m32 8h0m12-3h0m60 1h0m133 19h0m66-24h0m7 9h0m3 0h0m8-11h0m50 0h0m17 5h0m10-5h0m2 12h0m51-6h0m58 10h0m19-18h0m21 12h0m265-3h0m12 18h0m16-6h0m7 1h0m7 3h0m-1200 5h0m76 3h0m26-1h0m81 13h0m30 12h0m41-7h0m74-11h0m53 8h0m19-5h0m94 1h0m57-7h0m66 1h0m44 16h0m8 4h0m57-17h0m98-7h0m3-1h0m24 24h0m9-22h0m24-4h0m137 8h0m3 6h0m6-5h0m35-6h0m38 4h0m34-6h0m67 4h0m-879 45h0m353 7h0m40-10h0m44 1h0m127 9h0m18-20h0m27-6h0m49 27h0m7-11h0m38 7h0m51-6h0m83 0h0m48 11h0m21-3h0m2 2h0m-1044 31h0m21-3h0m126 1h0m22-17h0m39-6h0m44 20h0m56-5h0m3-7h0m23-12h0m51 2h0m20 23h0m136-23h0m65 2h0m6-3h0m16 9h0m124-9h0m89-1h0m3 27h0m14-7h0m35 0h0m9-3h0m56 6h0m7-10h0m4 6h0m9 4h0m11-13h0m2 9h0m11 6h0m17-9h0m19 7h0m2-11h0m-1256 42h0m108-3h0m174-13h0m108-5h0m82 10h0m2 12h0m158 1h0m144-16h0m25 0h0m24 12h0m41 2h0m154-4h0m14 2h0m7 1h0m3 4h0m9-27h0m68 1h0m5 28h0m4-22h0m3 2h0m57 2h0m4 9h0m45 8h0m29-8h0m17-3h0m2 9h0m-1157 20h0m113-1h0m63 8h0m35-1h0m32 3h0m20 3h0m28-13h0m82 12h0m22-10h0m56 7h0m43-19h0m18 6h0m67 2h0m13-6h0m18 2h0m102 13h0m10-7h0m12-13h0m51 20h0m23-20h0m17 15h0m4-5h0m132-2h0m0 15h0m12 2h0m69-27h0m5 24h0m10 5h0m19-9h0m4 0h0m47-16h0m10 1h0m9 15h0m3 5h0m13-24h0m3 27h0m-813 30h0m129-17h0m6 13h0m4-4h0m46 5h0m21-20h0m15 8h0m28 10h0m85 2h0m17-4h0m65-15h0m25 13h0m25-16h0m7 8h0m1 17h0m22-18h0m17 6h0m0-6h0m42 15h0m17-25h0m16 19h0m9-4h0m9-12h0m31 19h0m57 3h0m37-4h0m23-5h0m37 5h0m3-5h0m9-4h0m18 4h0m-1325 37h0m454 0h0m101 0h0m23-16h0m49-3h0m28 7h0m208 8h0m9 10h0m81-16h0m10 10h0m64-5h0m2 1h0m29 5h0m15-11h0m7 6h0m61-7h0m7 2h0m46 10h0m8-4h0m126 6h0m28-5h0m-1150 13h0m118 1h0m16 12h0m27 2h0m66 7h0m11-1h0m24 0h0m42-4h0m126-3h0m79 3h0m47-13h0m270-1h0m14 9h0m4-2h0m17 6h0m10-10h0m29 10h0m16-19h0m20 11h0m60-4h0m26 7h0m25 12h0m37-7h0m14 6h0m12-8h0m21-11h0m8 21h0m0-1h0m1-22h0m10 1h0m-1121 48h0m211 5h0m22-21h0m92 19h0m28-19h0m20 21h0m9-14h0m17-4h0m3 18h0m200-25h0m30 22h0m37-24h0m42 1h0m4 12h0m35-4h0m34 18h0m24-5h0m24-22h0m53 16h0m7-6h0m3 0h0m9 15h0m51-5h0m32-21h0m5-1h0m43 1h0m3 1h0m20 25h0m17-11h0m25-1h0m0-8h0m13 17h0m41 1h0m-1172 12h0m180 10h0m304-12h0m79-3h0m42 8h0m13-10h0m68 12h0m45 14h0m22-20h0m39 4h0m0 9h0m91-10h0m2 7h0m25-6h0m5-5h0m13 21h0m4-17h0m30 6h0m24 12h0m10-19h0m26 7h0m5 4h0m12 1h0m19-5h0m14 14h0m1 0h0m4-2h0m61-16h0m19 14h0m1 0h0m15-25h0m-1330 31h0m416 5h0m17 9h0m117-3h0m76 7h0m6 2h0m31 5h0m127-4h0m145 4h0m58-7h0m51 4h0m5-16h0m35 12h0m62-4h0m9 13h0m29-15h0m7-1h0m15 7h0m7-1h0m1-6h0m34 5h0m23-8h0m0-3h0m9 3h0m9 16h0m9-7h0m12 4h0m42-12h0m2 5h0m2 3h0m-1428 25h0m84-9h0m186 9h0m36-8h0m41 15h0m113 6h0m197-22h0m31 21h0m112 4h0m85-7h0m19 7h0m82-20h0m75-1h0m14 11h0m26-1h0m8-14h0m60 20h0m11-24h0m49 25h0m53-2h0m36 6h0m13-9h0m8 3h0m11 1h0m6 3h0m10-25h0m1-2h0m4 2h0m12 18h0m21-3h0m15 10h0m8-9h0m3-8h0m13 14h0m-1169 16h0m4 17h0m197-3h0m5-12h0m75-11h0m63 8h0m57 2h0m59 2h0m12-11h0m7-2h0m105 22h0m14-22h0m56 8h0m23 7h0m8-5h0m8 2h0m2-10h0m14-2h0m13 2h0m25 12h0m5 0h0m62-5h0m70-2h0m3 21h0m17-2h0m137-25h0m23 16h0m12-15h0m6 11h0m4-7h0m24 8h0m15 14h0m19-11h0m1-2h0m27-4h0m2-1h0m3-7h0m3 5h0m-1506 34h0m411 7h0m296-11h0m91-6h0m61 16h0m13-6h0m134 7h0m64 3h0m41-3h0m23 4h0m19-12h0m8 0h0m15 8h0m3 4h0m13-12h0m2 4h0m86-9h0m10-6h0m5 20h0m50-20h0m2 11h0m2 7h0m7-7h0m7 6h0m10-14h0m9 15h0m0 2h0m2 0h0m9-18h0m19 15h0m21 2h0m2 1h0m4-10h0m25 14h0m10-4h0m5 9h0m12-25h0m0 10h0m7 8h0m10 0h0m5-4h0m1 5h0m0-1h0m1 3h0m6-13h0m4 5h0m1 3h0m-952 29h0m71 2h0m2 0h0m27-7h0m13 6h0m22-11h0m92 20h0m36-19h0m16 12h0m18 0h0m66 1h0m19-8h0m92 6h0m11-6h0m0 11h0m29-17h0m27-9h0m162 25h0m5 3h0m30-26h0m1 11h0m40 10h0m10-18h0m39 15h0m12-16h0m26 11h0m3 3h0m16 5h0m23 4h0m19-26h0m19 24h0m13-23h0m7 12h0m1 13h0m1-9h0m2 2h0m-1337 21h0m20-11h0m72 6h0m221 19h0m11-14h0m91-9h0m82 21h0m147-13h0m64-8h0m30 8h0m16 3h0m44 2h0m3 9h0m10-4h0m36-4h0m2-15h0m78 23h0m40 5h0m52-13h0m8 6h0m30-22h0m46 24h0m17-1h0m7 5h0m14-17h0m8 17h0m17-5h0m11-23h0m7 13h0m14 6h0m22-11h0m27 20h0m22-17h0m11 15h0m2-5h0m0-10h0m6 14h0m21-13h0m1 6h0m6 0h0m26-15h0m5 8h0m-1228 35h0m84-9h0m83 13h0m76 4h0m161-24h0m25 24h0m27-20h0m75 2h0m22 0h0m22 13h0m16-13h0m116 17h0m47 1h0m4-21h0m45 14h0m88 10h0m9-17h0m8 12h0m65 3h0m9-10h0m3-15h0m25 5h0m9 2h0m35-4h0m40 20h0m3-3h0m24-4h0m24-6h0m10-8h0m2 12h0m6 10h0m1-20h0m22 11h0m4 3h0m7 7h0m6-20h0m1 24h0m6-11h0m6-17h0m8 27h0m7-16h0m0-11h0m4 17h0m-1281 29h0m173-13h0m23-1h0m46 16h0m158-3h0m101 1h0m53-1h0m1 12h0m29-19h0m18 16h0m23-23h0m18 16h0m50 7h0m50-19h0m37 4h0m29-6h0m10-4h0m81 14h0m6 8h0m24-9h0m14-3h0m18 17h0m7-1h0m4-8h0m22 9h0m130-27h0m23 23h0m6-7h0m30-5h0m2-11h0m25 18h0m5-2h0m4-7h0m2 8h0m0-7h0m19-3h0m5 17h0m13-8h0m4-3h0m3-1h0m12-4h0m2-1h0m9 13h0m5-19h0m3 5h0m3 16h0m1 6h0m1 1h0m2-20h0m4 15h0m-1340 20h0m201-3h0m57 1h0m58 10h0m39-7h0m3-6h0m70 20h0m15-19h0m126-5h0m121 4h0m12 6h0m72 9h0m43 4h0m20 0h0m33-18h0m1-2h0m39 11h0m11 5h0m7-17h0m19 11h0m39 9h0m22-11h0m99-9h0m37 0h0m41 19h0m12-26h0m6 2h0m10 21h0m8-8h0m5-8h0m5-6h0m5 22h0m12 0h0m7 5h0m11-28h0m2 20h0m7-18h0m7 8h0m10 17h0m5-7h0m9-11h0m11-5h0m1 19h0m2-5h0m3-3h0m15 9h0m9-22h0m8 14h0m4 10h0m-1097 12h0m29 2h0m27-4h0m21 11h0m3 2h0m77-9h0m8-2h0m212-1h0m50 12h0m10-14h0m19 6h0m3-9h0m46 23h0m4-18h0m53-1h0m5 20h0m11-2h0m30 1h0m26-18h0m17 12h0m66-18h0m29 12h0m20-13h0m5 15h0m28 2h0m4-4h0m6 7h0m14 5h0m13 2h0m10-1h0m7-5h0m3-9h0m33 17h0m12-28h0m10 9h0m6-5h0m11 17h0m14-18h0m15 11h0m17 14h0m37-9h0m7 6h0m1-4h0m0-12h0m6 13h0m7-14h0m7-6h0m2 5h0m20-1h0m15 11h0m1 6h0m2-3h0m3-18h0m7 11h0m1-8h0m1 2h0m1 20h0m1-7h0m0-12h0m2 11h0m1-6h0m3 12h0m2-9h0m4 3h0m1 7h0m1 0h0m-1034 19h0m10 3h0m52-16h0m28 8h0m83 11h0m5-5h0m2-3h0m26-1h0m55 12h0m43-23h0m47 14h0m23 8h0m17-4h0m53 9h0m4-28h0m26 1h0m33 8h0m114-3h0m33 0h0m8-5h0m46 14h0m9-11h0m20 2h0m37 5h0m7 8h0m33 2h0m17-12h0m21 16h0m6-3h0m3-21h0m3 3h0m3 13h0m15-16h0m1 18h0m9 0h0m2 8h0m17-15h0m1 12h0m2 0h0m5-25h0m5 24h0m2-12h0m23 3h0m5 7h0m1-17h0m7 23h0m0-5h0m9-7h0m7-16h0m9 1h0m4 15h0m6-1h0m10-3h0m2 5h0m4 8h0m6-23h0m1 27h0m1-8h0m2-10h0m2-2h0m3 17h0m2-25h0m2 1h0m1 19h0m0 4h0m1-25h0m2 26h0m1 0h0m3-8h0m0 5h0m0-16h0m4 9h0m0 8h0m0-23h0m3 21h0m3-3h0m-1419 32h0m26 0h0m261-1h0m35 1h0m36 0h0m3 0h0m6 0h0m19-11h0m147 7h0m7-1h0m20-1h0m30-8h0m39 1h0m4-2h0m42 15h0m3-8h0m9 8h0m28 0h0m3-10h0m30 10h0m3 0h0m14-10h0m1-8h0m25 18h0m94-14h0m0 4h0m1-9h0m24 15h0m35 2h0m30-14h0m2 16h0m12-13h0m4 11h0m17-4h0m1-14h0m47 20h0m17-17h0m0 4h0m4 13h0m1-11h0m13 7h0m21 4h0m26-9h0m3 1h0m11-7h0m8 15h0m1-16h0m19 8h0m77-3h0m10-9h0m7 6h0m2 6h0m34 3h0m3 1h0m1-8h0m13 7h0m6 5h0m7 0h0m2-13h0m4 3h0m0 10h0m9-7h0m3-1h0m7-10h0m1 2h0m3-4h0m2 7h0m2-3h0m5 12h0m0 4h0m8-17h0m1 6h0m2 1h0m3 1h0m14-6h0m2 14h0m0-15h0m2-1h0m3 17h0m2-17h0m0-4h0m8 17h0m1-5h0m1-12h0m2 2h0m0 6h0m3 2h0m2 5h0"/>
</g>
<rect x="304.4" y="291.1" width="236.9" height="230.7" fill="none" stroke="#8e8e8e" stroke-width="1"/>
<path d="M324.1 522.3v1.6M363.6 522.3v1.6M403.1 522.3v1.6M442.6 522.3v1.6M482.1 522.3v1.6M521.6 522.3v1.6M303.9 500.1h-1.6M303.9 456.1h-1.6M303.9 412.1h-1.6M303.9 368.1h-1.6M303.9 324.1h-1.6" stroke="#707070" stroke-width=".75" fill="none"/>
<g font-family="'DejaVu Sans','Liberation Sans',sans-serif" font-size="4.65" fill="#2a2a2a" stroke="#2a2a2a" stroke-width=".08">
<text x="324.1" y="529.2" text-anchor="middle">0.0</text>
<text x="363.6" y="529.2" text-anchor="middle">0.2</text>
<text x="403.1" y="529.2" text-anchor="middle">0.4</text>
<text x="442.6" y="529.2" text-anchor="middle">0.6</text>
<text x="482.1" y="529.2" text-anchor="middle">0.8</text>
<text x="521.6" y="529.2" text-anchor="middle">1.0</text>
<text x="301.0" y="500.8" text-anchor="end">0.0</text>
<text x="301.0" y="456.8" text-anchor="end">0.2</text>
<text x="301.0" y="412.8" text-anchor="end">0.4</text>
<text x="301.0" y="368.8" text-anchor="end">0.6</text>
<text x="301.0" y="324.8" text-anchor="end">0.8</text>
</g>
<g font-family="'DejaVu Sans','Liberation Sans',sans-serif" font-size="7.6" fill="#000" stroke="#000" stroke-width=".1" text-anchor="middle">
<text x="422.5" y="287.7">Strategy 1</text>
<g font-size="7.4">
<text x="426.3" y="303.9"><tspan font-style="italic">n</tspan> Ach</text>
<text x="322.8" y="511.4"><tspan font-style="italic">n</tspan> Pow</text>
<text x="523.9" y="511.4"><tspan font-style="italic">n</tspan> Aff</text>
</g></g>
</g>
</svg>
</body></html>
